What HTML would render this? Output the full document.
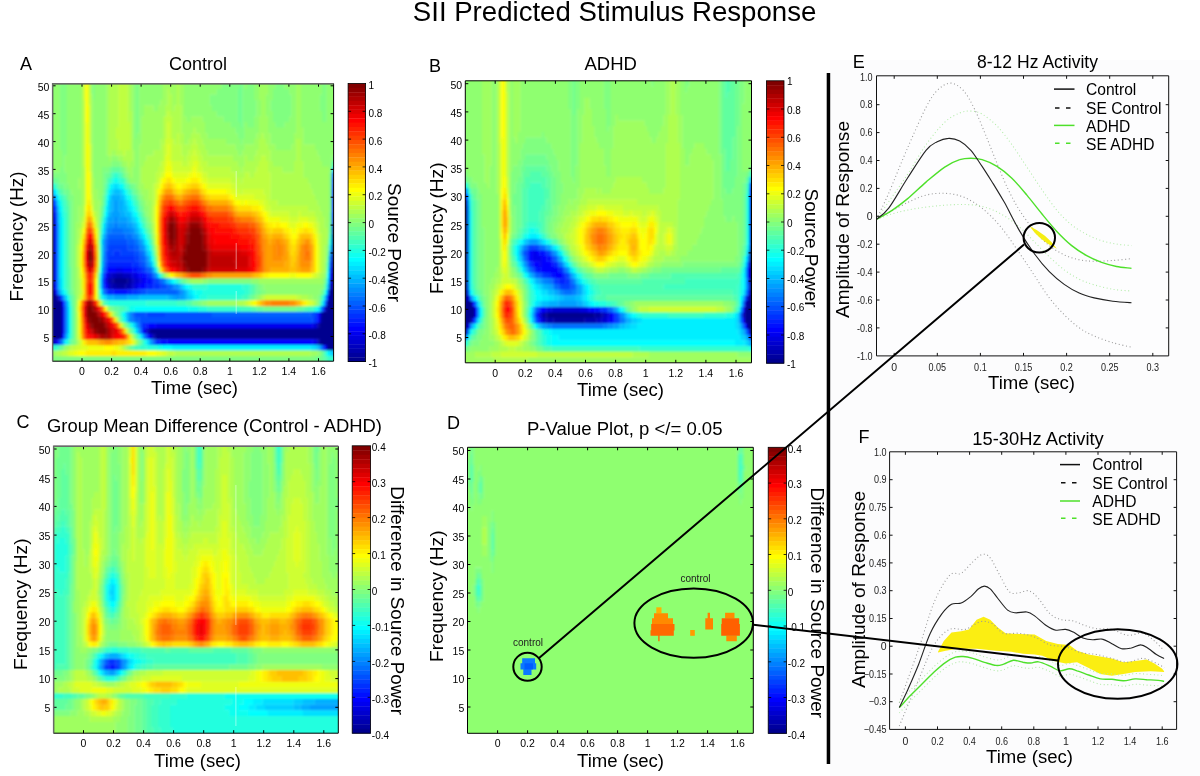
<!DOCTYPE html><html><head><meta charset="utf-8"><title>SII Predicted Stimulus Response</title>
<style>html,body{margin:0;padding:0;background:#fff}svg{display:block}text{font-family:'Liberation Sans', sans-serif}</style></head><body>
<svg width="1200" height="776" viewBox="0 0 1200 776">
<defs><filter id="bl" x="-5%" y="-5%" width="110%" height="110%"><feGaussianBlur stdDeviation="1.3 1.0"/></filter></defs>
<rect width="1200" height="776" fill="#fff"/>
<rect x="830" y="60" width="370" height="716" fill="#fcfcfd"/>
<text x="412.8" y="20.8" font-size="27.5" textLength="403.5" lengthAdjust="spacingAndGlyphs">SII Predicted Stimulus Response</text>
<clipPath id="cpA"><rect x="52.6" y="83.7" width="281" height="277.5"/></clipPath>
<g clip-path="url(#cpA)"><g filter="url(#bl)">
<path fill="#00008f" d="M331.3 233.5H339.9V239.3H331.3ZM331.3 239H339.9V244.9H331.3ZM331.3 244.6H339.9V250.5H331.3ZM331.3 250.2H339.9V256H331.3ZM331.3 255.7H339.9V261.6H331.3ZM331.3 261.3H339.9V267.2H331.3ZM331.3 266.9H339.9V272.7H331.3ZM331.3 272.4H339.9V278.3H331.3ZM113.5 278H127.8V283.9H113.5ZM331.3 278H339.9V283.9H331.3ZM331.3 283.6H339.9V289.5H331.3ZM46.6 289.2H55.2V295H46.6ZM328.9 289.2H339.9V295H328.9ZM46.6 294.7H57.6V300.6H46.6ZM328.9 294.7H339.9V300.6H328.9ZM46.6 300.3H62.3V306.2H46.6ZM328.9 300.3H339.9V306.2H328.9ZM46.6 305.9H62.3V311.7H46.6ZM326.6 305.9H339.9V311.7H326.6ZM46.6 311.4H62.3V317.3H46.6ZM321.9 311.4H339.9V317.3H321.9ZM46.6 317H62.3V322.9H46.6ZM321.9 317H339.9V322.9H321.9ZM46.6 322.6H62.3V328.4H46.6ZM319.6 322.6H339.9V328.4H319.6ZM46.6 328.1H62.3V334H46.6ZM151 328.1H339.9V334H151ZM46.6 333.7H62.3V339.6H46.6ZM155.6 333.7H339.9V339.6H155.6ZM319.6 339.3H339.9V345.2H319.6ZM326.6 344.9H339.9V350.7H326.6Z"/>
<path fill="#00009f" d="M111.1 278H113.8V283.9H111.1ZM127.5 278H130.2V283.9H127.5ZM115.8 283.6H125.5V289.5H115.8ZM326.6 300.3H329.2V306.2H326.6ZM317.2 322.6H319.9V328.4H317.2ZM148.6 328.1H151.3V334H148.6ZM153.3 333.7H155.9V339.6H153.3Z"/>
<path fill="#0000af" d="M46.6 227.9H55.2V233.8H46.6ZM331.3 227.9H339.9V233.8H331.3ZM46.6 233.5H55.2V239.3H46.6ZM46.6 239H55.2V244.9H46.6ZM46.6 244.6H55.2V250.5H46.6ZM46.6 250.2H55.2V256H46.6ZM46.6 255.7H55.2V261.6H46.6ZM46.6 261.3H55.2V267.2H46.6ZM46.6 266.9H55.2V272.7H46.6ZM46.6 272.4H55.2V278.3H46.6ZM115.8 272.4H123.1V278.3H115.8ZM46.6 278H55.2V283.9H46.6ZM108.8 278H111.4V283.9H108.8ZM129.9 278H132.5V283.9H129.9ZM46.6 283.6H55.2V289.5H46.6ZM111.1 283.6H116.1V289.5H111.1ZM125.2 283.6H130.2V289.5H125.2ZM324.2 305.9H326.9V311.7H324.2ZM319.6 317H322.2V322.9H319.6ZM317.2 339.3H319.9V345.2H317.2Z"/>
<path fill="#0000bf" d="M46.6 216.7H55.2V222.6H46.6ZM46.6 222.3H55.2V228.2H46.6ZM111.1 272.4H116.1V278.3H111.1ZM122.8 272.4H130.2V278.3H122.8ZM106.5 278H109.1V283.9H106.5ZM132.2 278H134.9V283.9H132.2ZM108.8 283.6H111.4V289.5H108.8ZM129.9 283.6H132.5V289.5H129.9ZM328.9 283.6H331.6V289.5H328.9ZM57.3 294.7H59.9V300.6H57.3ZM319.6 311.4H322.2V317.3H319.6ZM146.3 328.1H148.9V334H146.3ZM151 333.7H153.6V339.6H151ZM46.6 339.3H55.2V345.2H46.6Z"/>
<path fill="#0000cf" d="M46.6 211.2H55.2V217H46.6ZM331.3 222.3H339.9V228.2H331.3ZM108.8 272.4H111.4V278.3H108.8ZM129.9 272.4H132.5V278.3H129.9ZM134.6 278H139.5V283.9H134.6ZM132.2 283.6H134.9V289.5H132.2ZM314.9 322.6H317.5V328.4H314.9Z"/>
<path fill="#0000df" d="M106.5 272.4H109.1V278.3H106.5ZM132.2 272.4H137.2V278.3H132.2ZM139.2 278H141.9V283.9H139.2ZM106.5 283.6H109.1V289.5H106.5ZM134.6 283.6H137.2V289.5H134.6ZM62 305.9H64.6V311.7H62ZM62 311.4H64.6V317.3H62ZM62 317H64.6V322.9H62ZM62 322.6H64.6V328.4H62ZM312.5 322.6H315.2V328.4H312.5ZM62 328.1H64.6V334H62ZM143.9 328.1H146.6V334H143.9ZM54.9 339.3H57.6V345.2H54.9ZM314.9 339.3H317.5V345.2H314.9Z"/>
<path fill="#0000ef" d="M46.6 205.6H55.2V211.5H46.6ZM331.3 216.7H339.9V222.6H331.3ZM115.8 266.9H123.1V272.7H115.8ZM136.9 272.4H139.5V278.3H136.9ZM104.1 278H106.8V283.9H104.1ZM141.6 278H144.2V283.9H141.6ZM328.9 278H331.6V283.9H328.9ZM136.9 283.6H139.5V289.5H136.9ZM54.9 289.2H57.6V295H54.9ZM326.6 294.7H329.2V300.6H326.6ZM155.6 322.6H312.8V328.4H155.6ZM148.6 333.7H151.3V339.6H148.6ZM312.5 339.3H315.2V345.2H312.5ZM324.2 344.9H326.9V350.7H324.2Z"/>
<path fill="#0000ff" d="M331.3 211.2H339.9V217H331.3ZM108.8 266.9H116.1V272.7H108.8ZM122.8 266.9H132.5V272.7H122.8ZM139.2 272.4H141.9V278.3H139.2ZM143.9 278H146.6V283.9H143.9ZM104.1 283.6H106.8V289.5H104.1ZM139.2 283.6H144.2V289.5H139.2ZM62 300.3H64.6V306.2H62ZM317.2 311.4H319.9V317.3H317.2ZM317.2 317H319.9V322.9H317.2ZM148.6 322.6H155.9V328.4H148.6ZM167.3 339.3H312.8V345.2H167.3Z"/>
<path fill="#0010ff" d="M331.3 200H339.9V205.9H331.3ZM331.3 205.6H339.9V211.5H331.3ZM106.5 266.9H109.1V272.7H106.5ZM132.2 266.9H137.2V272.7H132.2ZM104.1 272.4H106.8V278.3H104.1ZM141.6 272.4H146.6V278.3H141.6ZM328.9 272.4H331.6V278.3H328.9ZM146.3 278H151.3V283.9H146.3ZM143.9 283.6H146.6V289.5H143.9ZM113.5 289.2H127.8V295H113.5ZM146.3 322.6H148.9V328.4H146.3ZM62 333.7H64.6V339.6H62ZM57.3 339.3H59.9V345.2H57.3ZM160.3 339.3H167.6V345.2H160.3Z"/>
<path fill="#0020ff" d="M331.3 188.9H339.9V194.8H331.3ZM331.3 194.5H339.9V200.3H331.3ZM46.6 200H55.2V205.9H46.6ZM108.8 261.3H132.5V267.2H108.8ZM136.9 266.9H141.9V272.7H136.9ZM146.3 272.4H148.9V278.3H146.3ZM151 278H153.6V283.9H151ZM54.9 283.6H57.6V289.5H54.9ZM146.3 283.6H153.6V289.5H146.3ZM108.8 289.2H113.8V295H108.8ZM127.5 289.2H132.5V295H127.5ZM59.6 294.7H62.3V300.6H59.6ZM143.9 322.6H146.6V328.4H143.9ZM141.6 328.1H144.2V334H141.6ZM146.3 333.7H148.9V339.6H146.3ZM158 339.3H160.6V345.2H158Z"/>
<path fill="#0030ff" d="M331.3 183.3H339.9V189.2H331.3ZM54.9 216.7H57.6V222.6H54.9ZM54.9 222.3H57.6V228.2H54.9ZM54.9 227.9H57.6V233.8H54.9ZM54.9 233.5H57.6V239.3H54.9ZM54.9 239H57.6V244.9H54.9ZM54.9 244.6H57.6V250.5H54.9ZM54.9 250.2H57.6V256H54.9ZM113.5 250.2H120.8V256H113.5ZM54.9 255.7H57.6V261.6H54.9ZM108.8 255.7H134.9V261.6H108.8ZM54.9 261.3H57.6V267.2H54.9ZM106.5 261.3H109.1V267.2H106.5ZM132.2 261.3H139.5V267.2H132.2ZM54.9 266.9H57.6V272.7H54.9ZM141.6 266.9H144.2V272.7H141.6ZM328.9 266.9H331.6V272.7H328.9ZM54.9 272.4H57.6V278.3H54.9ZM148.6 272.4H151.3V278.3H148.6ZM54.9 278H57.6V283.9H54.9ZM153.3 278H155.9V283.9H153.3ZM153.3 283.6H160.6V289.5H153.3ZM106.5 289.2H109.1V295H106.5ZM132.2 289.2H137.2V295H132.2ZM321.9 305.9H324.5V311.7H321.9ZM314.9 311.4H317.5V317.3H314.9ZM314.9 317H317.5V322.9H314.9ZM141.6 322.6H144.2V328.4H141.6ZM155.6 339.3H158.3V345.2H155.6Z"/>
<path fill="#0040ff" d="M331.3 177.8H339.9V183.6H331.3ZM54.9 211.2H57.6V217H54.9ZM108.8 244.6H127.8V250.5H108.8ZM106.5 250.2H113.8V256H106.5ZM120.5 250.2H134.9V256H120.5ZM106.5 255.7H109.1V261.6H106.5ZM134.6 255.7H139.5V261.6H134.6ZM139.2 261.3H141.9V267.2H139.2ZM104.1 266.9H106.8V272.7H104.1ZM143.9 266.9H146.6V272.7H143.9ZM101.8 278H104.4V283.9H101.8ZM155.6 278H158.3V283.9H155.6ZM160.3 283.6H163V289.5H160.3ZM136.9 289.2H141.9V295H136.9ZM146.3 311.4H165.3V317.3H146.3ZM312.5 317H315.2V322.9H312.5ZM321.9 344.9H324.5V350.7H321.9Z"/>
<path fill="#0050ff" d="M54.9 205.6H57.6V211.5H54.9ZM108.8 239H127.8V244.9H108.8ZM106.5 244.6H109.1V250.5H106.5ZM127.5 244.6H134.9V250.5H127.5ZM134.6 250.2H139.5V256H134.6ZM139.2 255.7H141.9V261.6H139.2ZM104.1 261.3H106.8V267.2H104.1ZM141.6 261.3H144.2V267.2H141.6ZM328.9 261.3H331.6V267.2H328.9ZM146.3 266.9H148.9V272.7H146.3ZM151 272.4H153.6V278.3H151ZM158 278H160.6V283.9H158ZM101.8 283.6H104.4V289.5H101.8ZM162.7 283.6H167.6V289.5H162.7ZM104.1 289.2H106.8V295H104.1ZM141.6 289.2H146.6V295H141.6ZM324.2 300.3H326.9V306.2H324.2ZM134.6 311.4H146.6V317.3H134.6ZM165 311.4H212.1V317.3H165ZM310.2 311.4H315.2V317.3H310.2ZM139.2 317H312.8V322.9H139.2ZM139.2 322.6H141.9V328.4H139.2ZM153.3 339.3H155.9V345.2H153.3Z"/>
<path fill="#0060ff" d="M108.8 233.5H125.5V239.3H108.8ZM106.5 239H109.1V244.9H106.5ZM127.5 239H134.9V244.9H127.5ZM134.6 244.6H139.5V250.5H134.6ZM104.1 250.2H106.8V256H104.1ZM139.2 250.2H141.9V256H139.2ZM104.1 255.7H106.8V261.6H104.1ZM141.6 255.7H144.2V261.6H141.6ZM143.9 261.3H146.6V267.2H143.9ZM148.6 266.9H151.3V272.7H148.6ZM101.8 272.4H104.4V278.3H101.8ZM160.3 278H163V283.9H160.3ZM167.3 283.6H170V289.5H167.3ZM146.3 289.2H177V295H146.3ZM326.6 289.2H329.2V295H326.6ZM64.3 305.9H67V311.7H64.3ZM64.3 311.4H67V317.3H64.3ZM132.2 311.4H134.9V317.3H132.2ZM211.8 311.4H310.5V317.3H211.8ZM64.3 317H67V322.9H64.3ZM134.6 317H139.5V322.9H134.6ZM64.3 322.6H67V328.4H64.3ZM64.3 328.1H67V334H64.3ZM143.9 333.7H146.6V339.6H143.9ZM59.6 339.3H62.3V345.2H59.6Z"/>
<path fill="#0070ff" d="M331.3 172.2H339.9V178.1H331.3ZM46.6 194.5H55.2V200.3H46.6ZM111.1 227.9H123.1V233.8H111.1ZM106.5 233.5H109.1V239.3H106.5ZM125.2 233.5H132.5V239.3H125.2ZM104.1 239H106.8V244.9H104.1ZM134.6 239H137.2V244.9H134.6ZM104.1 244.6H106.8V250.5H104.1ZM141.6 250.2H144.2V256H141.6ZM143.9 255.7H146.6V261.6H143.9ZM328.9 255.7H331.6V261.6H328.9ZM153.3 272.4H155.9V278.3H153.3ZM169.7 283.6H172.3V289.5H169.7ZM57.3 289.2H59.9V295H57.3ZM176.7 289.2H179.4V295H176.7ZM64.3 300.3H67V306.2H64.3ZM132.2 317H134.9V322.9H132.2ZM139.2 328.1H141.9V334H139.2Z"/>
<path fill="#0080ff" d="M54.9 200H57.6V205.9H54.9ZM113.5 222.3H118.5V228.2H113.5ZM106.5 227.9H111.4V233.8H106.5ZM122.8 227.9H130.2V233.8H122.8ZM132.2 233.5H134.9V239.3H132.2ZM136.9 239H139.5V244.9H136.9ZM139.2 244.6H141.9V250.5H139.2ZM146.3 261.3H148.9V267.2H146.3ZM101.8 266.9H104.4V272.7H101.8ZM151 266.9H153.6V272.7H151ZM162.7 278H165.3V283.9H162.7ZM172 283.6H174.7V289.5H172ZM179.1 289.2H181.7V295H179.1ZM62 294.7H64.6V300.6H62ZM129.9 311.4H132.5V317.3H129.9ZM129.9 317H132.5V322.9H129.9ZM136.9 322.6H139.5V328.4H136.9ZM64.3 333.7H67V339.6H64.3ZM151 339.3H153.6V345.2H151Z"/>
<path fill="#008fff" d="M113.5 216.7H118.5V222.6H113.5ZM108.8 222.3H113.8V228.2H108.8ZM118.2 222.3H127.8V228.2H118.2ZM129.9 227.9H134.9V233.8H129.9ZM104.1 233.5H106.8V239.3H104.1ZM134.6 233.5H137.2V239.3H134.6ZM139.2 239H141.9V244.9H139.2ZM141.6 244.6H144.2V250.5H141.6ZM143.9 250.2H146.6V256H143.9ZM146.3 255.7H148.9V261.6H146.3ZM174.4 283.6H177V289.5H174.4ZM101.8 289.2H104.4V295H101.8ZM181.4 289.2H184V295H181.4ZM176.7 294.7H179.4V300.6H176.7ZM319.6 344.9H322.2V350.7H319.6Z"/>
<path fill="#009fff" d="M113.5 200H118.5V205.9H113.5ZM113.5 205.6H118.5V211.5H113.5ZM111.1 211.2H120.8V217H111.1ZM108.8 216.7H113.8V222.6H108.8ZM118.2 216.7H127.8V222.6H118.2ZM57.3 222.3H59.9V228.2H57.3ZM106.5 222.3H109.1V228.2H106.5ZM127.5 222.3H132.5V228.2H127.5ZM57.3 227.9H59.9V233.8H57.3ZM57.3 233.5H59.9V239.3H57.3ZM136.9 233.5H139.5V239.3H136.9ZM57.3 239H59.9V244.9H57.3ZM57.3 244.6H59.9V250.5H57.3ZM57.3 250.2H59.9V256H57.3ZM328.9 250.2H331.6V256H328.9ZM57.3 255.7H59.9V261.6H57.3ZM101.8 255.7H104.4V261.6H101.8ZM57.3 261.3H59.9V267.2H57.3ZM101.8 261.3H104.4V267.2H101.8ZM148.6 261.3H151.3V267.2H148.6ZM57.3 266.9H59.9V272.7H57.3ZM57.3 272.4H59.9V278.3H57.3ZM155.6 272.4H158.3V278.3H155.6ZM57.3 278H59.9V283.9H57.3ZM165 278H167.6V283.9H165ZM57.3 283.6H59.9V289.5H57.3ZM176.7 283.6H179.4V289.5H176.7ZM113.5 294.7H127.8V300.6H113.5ZM172 294.7H177V300.6H172ZM179.1 294.7H184V300.6H179.1ZM324.2 294.7H326.9V300.6H324.2ZM319.6 305.9H322.2V311.7H319.6ZM127.5 311.4H130.2V317.3H127.5ZM127.5 317H130.2V322.9H127.5ZM62 339.3H64.6V345.2H62Z"/>
<path fill="#00afff" d="M111.1 194.5H120.8V200.3H111.1ZM111.1 200H113.8V205.9H111.1ZM118.2 200H123.1V205.9H118.2ZM111.1 205.6H113.8V211.5H111.1ZM118.2 205.6H123.1V211.5H118.2ZM57.3 211.2H59.9V217H57.3ZM108.8 211.2H111.4V217H108.8ZM120.5 211.2H125.5V217H120.5ZM57.3 216.7H59.9V222.6H57.3ZM106.5 216.7H109.1V222.6H106.5ZM127.5 216.7H130.2V222.6H127.5ZM132.2 222.3H134.9V228.2H132.2ZM104.1 227.9H106.8V233.8H104.1ZM134.6 227.9H137.2V233.8H134.6ZM101.8 239H104.4V244.9H101.8ZM141.6 239H144.2V244.9H141.6ZM101.8 244.6H104.4V250.5H101.8ZM143.9 244.6H146.6V250.5H143.9ZM101.8 250.2H104.4V256H101.8ZM179.1 283.6H181.7V289.5H179.1ZM183.7 289.2H186.4V295H183.7ZM106.5 294.7H113.8V300.6H106.5ZM127.5 294.7H139.5V300.6H127.5ZM167.3 294.7H172.3V300.6H167.3ZM183.7 294.7H186.4V300.6H183.7ZM134.6 322.6H137.2V328.4H134.6ZM136.9 328.1H139.5V334H136.9ZM141.6 333.7H144.2V339.6H141.6ZM148.6 339.3H151.3V345.2H148.6ZM317.2 344.9H319.9V350.7H317.2Z"/>
<path fill="#00bfff" d="M113.5 188.9H120.8V194.8H113.5ZM54.9 194.5H57.6V200.3H54.9ZM120.5 194.5H123.1V200.3H120.5ZM108.8 200H111.4V205.9H108.8ZM122.8 200H125.5V205.9H122.8ZM57.3 205.6H59.9V211.5H57.3ZM108.8 205.6H111.4V211.5H108.8ZM122.8 205.6H127.8V211.5H122.8ZM125.2 211.2H130.2V217H125.2ZM129.9 216.7H132.5V222.6H129.9ZM104.1 222.3H106.8V228.2H104.1ZM134.6 222.3H137.2V228.2H134.6ZM136.9 227.9H139.5V233.8H136.9ZM139.2 233.5H141.9V239.3H139.2ZM146.3 250.2H148.9V256H146.3ZM148.6 255.7H151.3V261.6H148.6ZM153.3 266.9H155.9V272.7H153.3ZM167.3 278H170V283.9H167.3ZM326.6 283.6H329.2V289.5H326.6ZM59.6 289.2H62.3V295H59.6ZM186.1 289.2H188.7V295H186.1ZM64.3 294.7H67V300.6H64.3ZM139.2 294.7H167.6V300.6H139.2ZM186.1 294.7H188.7V300.6H186.1ZM66.7 305.9H69.3V311.7H66.7ZM66.7 311.4H69.3V317.3H66.7ZM125.2 311.4H127.8V317.3H125.2ZM66.7 317H69.3V322.9H66.7ZM66.7 322.6H69.3V328.4H66.7ZM66.7 328.1H69.3V334H66.7ZM331.3 350.4H339.9V356.3H331.3Z"/>
<path fill="#00cfff" d="M46.6 188.9H55.2V194.8H46.6ZM111.1 188.9H113.8V194.8H111.1ZM120.5 188.9H123.1V194.8H120.5ZM108.8 194.5H111.4V200.3H108.8ZM122.8 194.5H125.5V200.3H122.8ZM125.2 200H127.8V205.9H125.2ZM106.5 211.2H109.1V217H106.5ZM129.9 211.2H132.5V217H129.9ZM132.2 216.7H134.9V222.6H132.2ZM101.8 233.5H104.4V239.3H101.8ZM151 261.3H153.6V267.2H151ZM99.4 278H102.1V283.9H99.4ZM99.4 283.6H102.1V289.5H99.4ZM181.4 283.6H184V289.5H181.4ZM104.1 294.7H106.8V300.6H104.1ZM188.4 294.7H191.1V300.6H188.4ZM66.7 300.3H69.3V306.2H66.7ZM125.2 317H127.8V322.9H125.2ZM314.9 344.9H317.5V350.7H314.9Z"/>
<path fill="#00dfff" d="M331.3 166.6H339.9V172.5H331.3ZM113.5 183.3H118.5V189.2H113.5ZM57.3 200H59.9V205.9H57.3ZM106.5 205.6H109.1V211.5H106.5ZM127.5 205.6H130.2V211.5H127.5ZM104.1 216.7H106.8V222.6H104.1ZM134.6 216.7H137.2V222.6H134.6ZM136.9 222.3H139.5V228.2H136.9ZM139.2 227.9H141.9V233.8H139.2ZM141.6 233.5H144.2V239.3H141.6ZM143.9 239H146.6V244.9H143.9ZM146.3 244.6H148.9V250.5H146.3ZM328.9 244.6H331.6V250.5H328.9ZM148.6 250.2H151.3V256H148.6ZM99.4 272.4H102.1V278.3H99.4ZM59.6 278H62.3V283.9H59.6ZM169.7 278H172.3V283.9H169.7ZM326.6 278H329.2V283.9H326.6ZM59.6 283.6H62.3V289.5H59.6ZM188.4 289.2H191.1V295H188.4ZM190.8 294.7H193.4V300.6H190.8ZM321.9 300.3H324.5V306.2H321.9ZM132.2 322.6H134.9V328.4H132.2ZM66.7 333.7H69.3V339.6H66.7ZM146.3 339.3H148.9V345.2H146.3ZM310.2 344.9H315.2V350.7H310.2ZM328.9 350.4H331.6V356.3H328.9Z"/>
<path fill="#00efff" d="M111.1 183.3H113.8V189.2H111.1ZM118.2 183.3H120.8V189.2H118.2ZM108.8 188.9H111.4V194.8H108.8ZM122.8 188.9H125.5V194.8H122.8ZM125.2 194.5H127.8V200.3H125.2ZM106.5 200H109.1V205.9H106.5ZM127.5 200H130.2V205.9H127.5ZM129.9 205.6H132.5V211.5H129.9ZM59.6 211.2H62.3V217H59.6ZM132.2 211.2H134.9V217H132.2ZM59.6 216.7H62.3V222.6H59.6ZM59.6 222.3H62.3V228.2H59.6ZM59.6 227.9H62.3V233.8H59.6ZM101.8 227.9H104.4V233.8H101.8ZM59.6 233.5H62.3V239.3H59.6ZM59.6 239H62.3V244.9H59.6ZM59.6 244.6H62.3V250.5H59.6ZM59.6 250.2H62.3V256H59.6ZM59.6 255.7H62.3V261.6H59.6ZM59.6 261.3H62.3V267.2H59.6ZM59.6 266.9H62.3V272.7H59.6ZM59.6 272.4H62.3V278.3H59.6ZM158 272.4H160.6V278.3H158ZM183.7 283.6H186.4V289.5H183.7ZM62 289.2H64.6V295H62ZM190.8 289.2H193.4V295H190.8ZM101.8 294.7H104.4V300.6H101.8ZM193.1 294.7H195.7V300.6H193.1ZM317.2 305.9H319.9V311.7H317.2ZM134.6 328.1H137.2V334H134.6ZM139.2 333.7H141.9V339.6H139.2ZM64.3 339.3H67V345.2H64.3ZM172 344.9H310.5V350.7H172Z"/>
<path fill="#00ffff" d="M120.5 183.3H123.1V189.2H120.5ZM54.9 188.9H57.6V194.8H54.9ZM57.3 194.5H59.9V200.3H57.3ZM106.5 194.5H109.1V200.3H106.5ZM129.9 200H132.5V205.9H129.9ZM59.6 205.6H62.3V211.5H59.6ZM132.2 205.6H134.9V211.5H132.2ZM104.1 211.2H106.8V217H104.1ZM134.6 211.2H137.2V217H134.6ZM136.9 216.7H139.5V222.6H136.9ZM139.2 222.3H141.9V228.2H139.2ZM141.6 227.9H144.2V233.8H141.6ZM143.9 233.5H146.6V239.3H143.9ZM146.3 239H148.9V244.9H146.3ZM151 255.7H153.6V261.6H151ZM326.6 272.4H329.2V278.3H326.6ZM172 278H174.7V283.9H172ZM186.1 283.6H188.7V289.5H186.1ZM99.4 289.2H102.1V295H99.4ZM193.1 289.2H195.7V295H193.1ZM195.4 294.7H198.1V300.6H195.4ZM134.6 305.9H188.7V311.7H134.6ZM122.8 311.4H125.5V317.3H122.8ZM162.7 344.9H172.3V350.7H162.7ZM326.6 350.4H329.2V356.3H326.6Z"/>
<path fill="#10ffef" d="M113.5 177.8H118.5V183.6H113.5ZM108.8 183.3H111.4V189.2H108.8ZM125.2 188.9H127.8V194.8H125.2ZM127.5 194.5H130.2V200.3H127.5ZM59.6 200H62.3V205.9H59.6ZM104.1 205.6H106.8V211.5H104.1ZM62 216.7H64.6V222.6H62ZM62 222.3H64.6V228.2H62ZM101.8 222.3H104.4V228.2H101.8ZM62 227.9H64.6V233.8H62ZM62 233.5H64.6V239.3H62ZM62 239H64.6V244.9H62ZM328.9 239H331.6V244.9H328.9ZM62 244.6H64.6V250.5H62ZM148.6 244.6H151.3V250.5H148.6ZM62 250.2H64.6V256H62ZM62 255.7H64.6V261.6H62ZM62 261.3H64.6V267.2H62ZM62 266.9H64.6V272.7H62ZM99.4 266.9H102.1V272.7H99.4ZM62 272.4H64.6V278.3H62ZM62 278H64.6V283.9H62ZM174.4 278H177V283.9H174.4ZM62 283.6H64.6V289.5H62ZM188.4 283.6H191.1V289.5H188.4ZM64.3 289.2H67V295H64.3ZM195.4 289.2H202.8V295H195.4ZM324.2 289.2H326.9V295H324.2ZM66.7 294.7H69.3V300.6H66.7ZM197.8 294.7H200.4V300.6H197.8ZM69 305.9H71.6V311.7H69ZM129.9 305.9H134.9V311.7H129.9ZM188.4 305.9H198.1V311.7H188.4ZM314.9 305.9H317.5V311.7H314.9ZM69 311.4H71.6V317.3H69ZM69 317H71.6V322.9H69ZM122.8 317H125.5V322.9H122.8ZM69 322.6H71.6V328.4H69ZM129.9 322.6H132.5V328.4H129.9ZM69 328.1H71.6V334H69ZM143.9 339.3H146.6V345.2H143.9ZM158 344.9H163V350.7H158Z"/>
<path fill="#20ffdf" d="M111.1 177.8H113.8V183.6H111.1ZM118.2 177.8H120.8V183.6H118.2ZM46.6 183.3H55.2V189.2H46.6ZM122.8 183.3H125.5V189.2H122.8ZM106.5 188.9H109.1V194.8H106.5ZM129.9 194.5H132.5V200.3H129.9ZM132.2 200H134.9V205.9H132.2ZM62 205.6H64.6V211.5H62ZM134.6 205.6H137.2V211.5H134.6ZM62 211.2H64.6V217H62ZM136.9 211.2H139.5V217H136.9ZM139.2 216.7H141.9V222.6H139.2ZM99.4 239H102.1V244.9H99.4ZM151 250.2H153.6V256H151ZM99.4 261.3H102.1V267.2H99.4ZM153.3 261.3H155.9V267.2H153.3ZM155.6 266.9H158.3V272.7H155.6ZM326.6 266.9H329.2V272.7H326.6ZM190.8 283.6H193.4V289.5H190.8ZM207.2 283.6H242.6V289.5H207.2ZM202.5 289.2H244.9V295H202.5ZM200.1 294.7H207.5V300.6H200.1ZM321.9 294.7H324.5V300.6H321.9ZM69 300.3H71.6V306.2H69ZM108.8 300.3H146.6V306.2H108.8ZM127.5 305.9H130.2V311.7H127.5ZM197.8 305.9H207.5V311.7H197.8ZM120.5 311.4H123.1V317.3H120.5ZM69 333.7H71.6V339.6H69ZM66.7 339.3H69.3V345.2H66.7ZM146.3 344.9H158.3V350.7H146.3Z"/>
<path fill="#30ffcf" d="M113.5 172.2H118.5V178.1H113.5ZM120.5 177.8H123.1V183.6H120.5ZM57.3 188.9H59.9V194.8H57.3ZM127.5 188.9H130.2V194.8H127.5ZM59.6 194.5H62.3V200.3H59.6ZM62 200H64.6V205.9H62ZM104.1 200H106.8V205.9H104.1ZM64.3 211.2H67V217H64.3ZM64.3 216.7H67V222.6H64.3ZM101.8 216.7H104.4V222.6H101.8ZM64.3 222.3H67V228.2H64.3ZM141.6 222.3H144.2V228.2H141.6ZM64.3 227.9H67V233.8H64.3ZM143.9 227.9H146.6V233.8H143.9ZM64.3 233.5H67V239.3H64.3ZM146.3 233.5H148.9V239.3H146.3ZM328.9 233.5H331.6V239.3H328.9ZM64.3 239H67V244.9H64.3ZM148.6 239H151.3V244.9H148.6ZM64.3 244.6H67V250.5H64.3ZM99.4 244.6H102.1V250.5H99.4ZM64.3 250.2H67V256H64.3ZM99.4 250.2H102.1V256H99.4ZM64.3 255.7H67V261.6H64.3ZM99.4 255.7H102.1V261.6H99.4ZM64.3 261.3H67V267.2H64.3ZM64.3 266.9H67V272.7H64.3ZM64.3 272.4H67V278.3H64.3ZM64.3 278H67V283.9H64.3ZM176.7 278H179.4V283.9H176.7ZM64.3 283.6H67V289.5H64.3ZM193.1 283.6H207.5V289.5H193.1ZM242.3 283.6H249.6V289.5H242.3ZM244.6 289.2H249.6V295H244.6ZM99.4 294.7H102.1V300.6H99.4ZM207.2 294.7H242.6V300.6H207.2ZM106.5 300.3H109.1V306.2H106.5ZM146.3 300.3H177V306.2H146.3ZM125.2 305.9H127.8V311.7H125.2ZM207.2 305.9H240.2V311.7H207.2ZM312.5 305.9H315.2V311.7H312.5ZM132.2 328.1H134.9V334H132.2ZM136.9 333.7H139.5V339.6H136.9ZM46.6 344.9H57.6V350.7H46.6ZM139.2 344.9H146.6V350.7H139.2ZM324.2 350.4H326.9V356.3H324.2ZM328.9 356H339.9V367.9H328.9Z"/>
<path fill="#40ffbf" d="M111.1 172.2H113.8V178.1H111.1ZM118.2 172.2H120.8V178.1H118.2ZM108.8 177.8H111.4V183.6H108.8ZM122.8 177.8H125.5V183.6H122.8ZM54.9 183.3H57.6V189.2H54.9ZM106.5 183.3H109.1V189.2H106.5ZM125.2 183.3H127.8V189.2H125.2ZM129.9 188.9H132.5V194.8H129.9ZM62 194.5H64.6V200.3H62ZM104.1 194.5H106.8V200.3H104.1ZM132.2 194.5H134.9V200.3H132.2ZM64.3 200H67V205.9H64.3ZM134.6 200H137.2V205.9H134.6ZM64.3 205.6H67V211.5H64.3ZM136.9 205.6H139.5V211.5H136.9ZM139.2 211.2H141.9V217H139.2ZM99.4 233.5H102.1V239.3H99.4ZM151 244.6H153.6V250.5H151ZM153.3 255.7H155.9V261.6H153.3ZM326.6 261.3H329.2V267.2H326.6ZM160.3 272.4H163V278.3H160.3ZM179.1 278H181.7V283.9H179.1ZM249.3 283.6H251.9V289.5H249.3ZM324.2 283.6H326.9V289.5H324.2ZM66.7 289.2H69.3V295H66.7ZM249.3 289.2H251.9V295H249.3ZM69 294.7H71.6V300.6H69ZM242.3 294.7H247.3V300.6H242.3ZM104.1 300.3H106.8V306.2H104.1ZM176.7 300.3H186.4V306.2H176.7ZM319.6 300.3H322.2V306.2H319.6ZM122.8 305.9H125.5V311.7H122.8ZM239.9 305.9H251.9V311.7H239.9ZM307.8 305.9H312.8V311.7H307.8ZM120.5 317H123.1V322.9H120.5ZM127.5 322.6H130.2V328.4H127.5ZM141.6 339.3H144.2V345.2H141.6ZM57.3 344.9H59.9V350.7H57.3ZM134.6 344.9H139.5V350.7H134.6ZM326.6 356H329.2V367.9H326.6Z"/>
<path fill="#50ffaf" d="M331.3 161H339.9V166.9H331.3ZM120.5 172.2H123.1V178.1H120.5ZM106.5 177.8H109.1V183.6H106.5ZM127.5 183.3H130.2V189.2H127.5ZM59.6 188.9H62.3V194.8H59.6ZM104.1 188.9H106.8V194.8H104.1ZM64.3 194.5H67V200.3H64.3ZM134.6 194.5H137.2V200.3H134.6ZM136.9 200H139.5V205.9H136.9ZM66.7 205.6H69.3V211.5H66.7ZM66.7 211.2H69.3V217H66.7ZM101.8 211.2H104.4V217H101.8ZM66.7 216.7H69.3V222.6H66.7ZM141.6 216.7H144.2V222.6H141.6ZM66.7 222.3H69.3V228.2H66.7ZM143.9 222.3H146.6V228.2H143.9ZM66.7 227.9H69.3V233.8H66.7ZM99.4 227.9H102.1V233.8H99.4ZM146.3 227.9H148.9V233.8H146.3ZM328.9 227.9H331.6V233.8H328.9ZM66.7 233.5H69.3V239.3H66.7ZM148.6 233.5H151.3V239.3H148.6ZM66.7 239H69.3V244.9H66.7ZM66.7 244.6H69.3V250.5H66.7ZM66.7 250.2H69.3V256H66.7ZM66.7 255.7H69.3V261.6H66.7ZM326.6 255.7H329.2V261.6H326.6ZM66.7 261.3H69.3V267.2H66.7ZM66.7 266.9H69.3V272.7H66.7ZM66.7 272.4H69.3V278.3H66.7ZM66.7 278H69.3V283.9H66.7ZM66.7 283.6H69.3V289.5H66.7ZM251.6 283.6H254.3V289.5H251.6ZM251.6 289.2H254.3V295H251.6ZM247 294.7H249.6V300.6H247ZM186.1 300.3H191.1V306.2H186.1ZM71.3 305.9H74V311.7H71.3ZM118.2 305.9H123.1V311.7H118.2ZM251.6 305.9H256.6V311.7H251.6ZM303.2 305.9H308.1V311.7H303.2ZM71.3 311.4H74V317.3H71.3ZM118.2 311.4H120.8V317.3H118.2ZM71.3 317H74V322.9H71.3ZM71.3 322.6H74V328.4H71.3ZM71.3 328.1H74V334H71.3ZM71.3 333.7H74V339.6H71.3ZM69 339.3H71.6V345.2H69ZM132.2 344.9H134.9V350.7H132.2ZM324.2 356H326.9V367.9H324.2Z"/>
<path fill="#60ff9f" d="M111.1 166.6H120.8V172.5H111.1ZM108.8 172.2H111.4V178.1H108.8ZM46.6 177.8H55.2V183.6H46.6ZM125.2 177.8H127.8V183.6H125.2ZM57.3 183.3H59.9V189.2H57.3ZM104.1 183.3H106.8V189.2H104.1ZM62 188.9H64.6V194.8H62ZM132.2 188.9H134.9V194.8H132.2ZM66.7 200H69.3V205.9H66.7ZM101.8 205.6H104.4V211.5H101.8ZM139.2 205.6H141.9V211.5H139.2ZM141.6 211.2H144.2V217H141.6ZM143.9 216.7H146.6V222.6H143.9ZM99.4 222.3H102.1V228.2H99.4ZM328.9 222.3H331.6V228.2H328.9ZM151 239H153.6V244.9H151ZM153.3 250.2H155.9V256H153.3ZM69 266.9H71.6V272.7H69ZM69 272.4H71.6V278.3H69ZM69 278H71.6V283.9H69ZM181.4 278H184V283.9H181.4ZM324.2 278H326.9V283.9H324.2ZM69 283.6H71.6V289.5H69ZM254 283.6H256.6V289.5H254ZM69 289.2H71.6V295H69ZM254 289.2H256.6V295H254ZM321.9 289.2H324.5V295H321.9ZM71.3 294.7H74V300.6H71.3ZM249.3 294.7H251.9V300.6H249.3ZM319.6 294.7H322.2V300.6H319.6ZM71.3 300.3H74V306.2H71.3ZM190.8 300.3H193.4V306.2H190.8ZM113.5 305.9H118.5V311.7H113.5ZM256.3 305.9H263.7V311.7H256.3ZM296.1 305.9H303.5V311.7H296.1ZM125.2 322.6H127.8V328.4H125.2ZM129.9 328.1H132.5V334H129.9ZM134.6 333.7H137.2V339.6H134.6ZM139.2 339.3H141.9V345.2H139.2ZM59.6 344.9H62.3V350.7H59.6ZM129.9 344.9H132.5V350.7H129.9ZM321.9 350.4H324.5V356.3H321.9ZM321.9 356H324.5V367.9H321.9Z"/>
<path fill="#70ff8f" d="M239.9 77.1H242.6V88.9H239.9ZM237.6 88.6H242.6V94.5H237.6ZM237.6 94.2H242.6V100.1H237.6ZM237.6 99.8H242.6V105.6H237.6ZM237.6 105.3H242.6V111.2H237.6ZM237.6 110.9H242.6V116.8H237.6ZM237.6 116.5H242.6V122.4H237.6ZM239.9 122.1H242.6V127.9H239.9ZM108.8 166.6H111.4V172.5H108.8ZM120.5 166.6H123.1V172.5H120.5ZM104.1 172.2H109.1V178.1H104.1ZM122.8 172.2H125.5V178.1H122.8ZM54.9 177.8H59.9V183.6H54.9ZM104.1 177.8H106.8V183.6H104.1ZM59.6 183.3H64.6V189.2H59.6ZM129.9 183.3H134.9V189.2H129.9ZM64.3 188.9H69.3V194.8H64.3ZM134.6 188.9H137.2V194.8H134.6ZM66.7 194.5H69.3V200.3H66.7ZM101.8 194.5H104.4V200.3H101.8ZM136.9 194.5H139.5V200.3H136.9ZM69 200H71.6V205.9H69ZM101.8 200H104.4V205.9H101.8ZM139.2 200H141.9V205.9H139.2ZM69 205.6H71.6V211.5H69ZM141.6 205.6H144.2V211.5H141.6ZM69 211.2H71.6V217H69ZM328.9 211.2H331.6V217H328.9ZM69 216.7H71.6V222.6H69ZM99.4 216.7H102.1V222.6H99.4ZM328.9 216.7H331.6V222.6H328.9ZM69 222.3H71.6V228.2H69ZM146.3 222.3H148.9V228.2H146.3ZM69 227.9H71.6V233.8H69ZM148.6 227.9H151.3V233.8H148.6ZM69 233.5H71.6V239.3H69ZM69 239H71.6V244.9H69ZM69 244.6H71.6V250.5H69ZM69 250.2H71.6V256H69ZM326.6 250.2H329.2V256H326.6ZM69 255.7H71.6V261.6H69ZM69 261.3H71.6V267.2H69ZM97.1 278H99.7V283.9H97.1ZM183.7 278H186.4V283.9H183.7ZM97.1 283.6H99.7V289.5H97.1ZM256.3 283.6H259V289.5H256.3ZM71.3 289.2H74V295H71.3ZM256.3 289.2H261.3V295H256.3ZM251.6 294.7H254.3V300.6H251.6ZM101.8 300.3H104.4V306.2H101.8ZM193.1 300.3H198.1V306.2H193.1ZM111.1 305.9H113.8V311.7H111.1ZM263.4 305.9H296.4V311.7H263.4ZM115.8 311.4H118.5V317.3H115.8ZM118.2 317H120.8V322.9H118.2ZM71.3 339.3H74V345.2H71.3ZM62 344.9H64.6V350.7H62ZM314.9 356H322.2V367.9H314.9Z"/>
<path fill="#80ff80" d="M59.6 77.1H67V88.9H59.6ZM92.4 77.1H95V88.9H92.4ZM134.6 77.1H139.5V88.9H134.6ZM221.2 77.1H240.2V88.9H221.2ZM242.3 77.1H244.9V88.9H242.3ZM247 77.1H254.3V88.9H247ZM275.1 77.1H284.7V88.9H275.1ZM321.9 77.1H326.9V88.9H321.9ZM59.6 88.6H67V94.5H59.6ZM92.4 88.6H95V94.5H92.4ZM134.6 88.6H139.5V94.5H134.6ZM216.5 88.6H237.9V94.5H216.5ZM242.3 88.6H254.3V94.5H242.3ZM272.7 88.6H289.4V94.5H272.7ZM321.9 88.6H326.9V94.5H321.9ZM59.6 94.2H67V100.1H59.6ZM92.4 94.2H95V100.1H92.4ZM134.6 94.2H139.5V100.1H134.6ZM209.5 94.2H237.9V100.1H209.5ZM242.3 94.2H254.3V100.1H242.3ZM272.7 94.2H291.8V100.1H272.7ZM319.6 94.2H326.9V100.1H319.6ZM59.6 99.8H67V105.6H59.6ZM134.6 99.8H139.5V105.6H134.6ZM209.5 99.8H237.9V105.6H209.5ZM242.3 99.8H256.6V105.6H242.3ZM270.4 99.8H291.8V105.6H270.4ZM319.6 99.8H326.9V105.6H319.6ZM59.6 105.3H67V111.2H59.6ZM134.6 105.3H139.5V111.2H134.6ZM211.8 105.3H237.9V111.2H211.8ZM242.3 105.3H256.6V111.2H242.3ZM270.4 105.3H291.8V111.2H270.4ZM319.6 105.3H326.9V111.2H319.6ZM59.6 110.9H67V116.8H59.6ZM134.6 110.9H139.5V116.8H134.6ZM216.5 110.9H237.9V116.8H216.5ZM242.3 110.9H256.6V116.8H242.3ZM272.7 110.9H291.8V116.8H272.7ZM321.9 110.9H326.9V116.8H321.9ZM59.6 116.5H67V122.4H59.6ZM134.6 116.5H139.5V122.4H134.6ZM223.5 116.5H237.9V122.4H223.5ZM242.3 116.5H254.3V122.4H242.3ZM272.7 116.5H289.4V122.4H272.7ZM321.9 116.5H326.9V122.4H321.9ZM59.6 122.1H67V127.9H59.6ZM134.6 122.1H139.5V127.9H134.6ZM230.6 122.1H240.2V127.9H230.6ZM242.3 122.1H244.9V127.9H242.3ZM247 122.1H254.3V127.9H247ZM275.1 122.1H284.7V127.9H275.1ZM59.6 127.6H67V133.5H59.6ZM134.6 127.6H139.5V133.5H134.6ZM235.2 127.6H244.9V133.5H235.2ZM59.6 133.2H67V139.1H59.6ZM134.6 133.2H137.2V139.1H134.6ZM237.6 133.2H244.9V139.1H237.6ZM59.6 138.8H67V144.6H59.6ZM239.9 138.8H242.6V144.6H239.9ZM59.6 144.3H67V150.2H59.6ZM62 149.9H67V155.8H62ZM62 155.5H64.6V161.3H62ZM331.3 155.5H339.9V161.3H331.3ZM62 161H64.6V166.9H62ZM111.1 161H120.8V166.9H111.1ZM59.6 166.6H64.6V172.5H59.6ZM101.8 166.6H109.1V172.5H101.8ZM122.8 166.6H125.5V172.5H122.8ZM46.6 172.2H67V178.1H46.6ZM101.8 172.2H104.4V178.1H101.8ZM125.2 172.2H127.8V178.1H125.2ZM328.9 172.2H331.6V178.1H328.9ZM59.6 177.8H67V183.6H59.6ZM101.8 177.8H104.4V183.6H101.8ZM127.5 177.8H130.2V183.6H127.5ZM328.9 177.8H331.6V183.6H328.9ZM64.3 183.3H69.3V189.2H64.3ZM101.8 183.3H104.4V189.2H101.8ZM134.6 183.3H137.2V189.2H134.6ZM328.9 183.3H331.6V189.2H328.9ZM69 188.9H71.6V194.8H69ZM101.8 188.9H104.4V194.8H101.8ZM136.9 188.9H139.5V194.8H136.9ZM328.9 188.9H331.6V194.8H328.9ZM69 194.5H74V200.3H69ZM139.2 194.5H141.9V200.3H139.2ZM328.9 194.5H331.6V200.3H328.9ZM71.3 200H74V205.9H71.3ZM141.6 200H144.2V205.9H141.6ZM328.9 200H331.6V205.9H328.9ZM71.3 205.6H74V211.5H71.3ZM99.4 205.6H102.1V211.5H99.4ZM328.9 205.6H331.6V211.5H328.9ZM71.3 211.2H74V217H71.3ZM99.4 211.2H102.1V217H99.4ZM143.9 211.2H146.6V217H143.9ZM71.3 216.7H74V222.6H71.3ZM146.3 216.7H148.9V222.6H146.3ZM71.3 222.3H74V228.2H71.3ZM148.6 222.3H151.3V228.2H148.6ZM71.3 227.9H74V233.8H71.3ZM71.3 233.5H74V239.3H71.3ZM151 233.5H153.6V239.3H151ZM71.3 239H74V244.9H71.3ZM71.3 244.6H74V250.5H71.3ZM153.3 244.6H155.9V250.5H153.3ZM326.6 244.6H329.2V250.5H326.6ZM71.3 250.2H74V256H71.3ZM71.3 255.7H74V261.6H71.3ZM71.3 261.3H74V267.2H71.3ZM155.6 261.3H158.3V267.2H155.6ZM71.3 266.9H74V272.7H71.3ZM71.3 272.4H74V278.3H71.3ZM97.1 272.4H99.7V278.3H97.1ZM162.7 272.4H165.3V278.3H162.7ZM324.2 272.4H326.9V278.3H324.2ZM71.3 278H74V283.9H71.3ZM186.1 278H188.7V283.9H186.1ZM207.2 278H251.9V283.9H207.2ZM71.3 283.6H74V289.5H71.3ZM258.7 283.6H263.7V289.5H258.7ZM321.9 283.6H324.5V289.5H321.9ZM97.1 289.2H99.7V295H97.1ZM261 289.2H266V295H261ZM319.6 289.2H322.2V295H319.6ZM73.7 294.7H76.3V300.6H73.7ZM254 294.7H256.6V300.6H254ZM317.2 294.7H319.9V300.6H317.2ZM73.7 300.3H76.3V306.2H73.7ZM197.8 300.3H202.8V306.2H197.8ZM317.2 300.3H319.9V306.2H317.2ZM73.7 305.9H76.3V311.7H73.7ZM108.8 305.9H111.4V311.7H108.8ZM73.7 311.4H76.3V317.3H73.7ZM73.7 317H76.3V322.9H73.7ZM73.7 322.6H76.3V328.4H73.7ZM73.7 328.1H76.3V334H73.7ZM73.7 333.7H76.3V339.6H73.7ZM73.7 339.3H76.3V345.2H73.7ZM136.9 339.3H139.5V345.2H136.9ZM127.5 344.9H130.2V350.7H127.5ZM319.6 350.4H322.2V356.3H319.6ZM46.6 356H315.2V367.9H46.6Z"/>
<path fill="#8fff70" d="M46.6 77.1H59.9V88.9H46.6ZM66.7 77.1H81V88.9H66.7ZM90.1 77.1H92.7V88.9H90.1ZM94.8 77.1H106.8V88.9H94.8ZM132.2 77.1H134.9V88.9H132.2ZM139.2 77.1H163V88.9H139.2ZM183.7 77.1H221.5V88.9H183.7ZM244.6 77.1H247.3V88.9H244.6ZM254 77.1H259V88.9H254ZM268 77.1H275.4V88.9H268ZM284.4 77.1H296.4V88.9H284.4ZM300.8 77.1H322.2V88.9H300.8ZM326.6 77.1H339.9V88.9H326.6ZM46.6 88.6H59.9V94.5H46.6ZM66.7 88.6H81V94.5H66.7ZM90.1 88.6H92.7V94.5H90.1ZM94.8 88.6H106.8V94.5H94.8ZM132.2 88.6H134.9V94.5H132.2ZM139.2 88.6H163V94.5H139.2ZM183.7 88.6H216.8V94.5H183.7ZM254 88.6H259V94.5H254ZM268 88.6H273V94.5H268ZM289.1 88.6H296.4V94.5H289.1ZM300.8 88.6H322.2V94.5H300.8ZM326.6 88.6H339.9V94.5H326.6ZM46.6 94.2H59.9V100.1H46.6ZM66.7 94.2H81V100.1H66.7ZM94.8 94.2H106.8V100.1H94.8ZM132.2 94.2H134.9V100.1H132.2ZM139.2 94.2H163V100.1H139.2ZM183.7 94.2H209.8V100.1H183.7ZM254 94.2H259V100.1H254ZM265.7 94.2H273V100.1H265.7ZM291.5 94.2H296.4V100.1H291.5ZM300.8 94.2H319.9V100.1H300.8ZM326.6 94.2H339.9V100.1H326.6ZM46.6 99.8H59.9V105.6H46.6ZM66.7 99.8H81V105.6H66.7ZM92.4 99.8H106.8V105.6H92.4ZM132.2 99.8H134.9V105.6H132.2ZM139.2 99.8H160.6V105.6H139.2ZM183.7 99.8H209.8V105.6H183.7ZM256.3 99.8H261.3V105.6H256.3ZM265.7 99.8H270.7V105.6H265.7ZM291.5 99.8H296.4V105.6H291.5ZM300.8 99.8H319.9V105.6H300.8ZM326.6 99.8H339.9V105.6H326.6ZM46.6 105.3H59.9V111.2H46.6ZM66.7 105.3H81V111.2H66.7ZM92.4 105.3H106.8V111.2H92.4ZM132.2 105.3H134.9V111.2H132.2ZM139.2 105.3H144.2V111.2H139.2ZM153.3 105.3H158.3V111.2H153.3ZM183.7 105.3H212.1V111.2H183.7ZM256.3 105.3H261.3V111.2H256.3ZM265.7 105.3H270.7V111.2H265.7ZM291.5 105.3H296.4V111.2H291.5ZM300.8 105.3H319.9V111.2H300.8ZM326.6 105.3H339.9V111.2H326.6ZM46.6 110.9H59.9V116.8H46.6ZM66.7 110.9H81V116.8H66.7ZM92.4 110.9H106.8V116.8H92.4ZM132.2 110.9H134.9V116.8H132.2ZM139.2 110.9H144.2V116.8H139.2ZM183.7 110.9H216.8V116.8H183.7ZM256.3 110.9H261.3V116.8H256.3ZM265.7 110.9H273V116.8H265.7ZM291.5 110.9H296.4V116.8H291.5ZM300.8 110.9H322.2V116.8H300.8ZM326.6 110.9H339.9V116.8H326.6ZM46.6 116.5H59.9V122.4H46.6ZM66.7 116.5H81V122.4H66.7ZM92.4 116.5H106.8V122.4H92.4ZM132.2 116.5H134.9V122.4H132.2ZM139.2 116.5H141.9V122.4H139.2ZM186.1 116.5H191.1V122.4H186.1ZM202.5 116.5H223.8V122.4H202.5ZM254 116.5H259V122.4H254ZM268 116.5H273V122.4H268ZM289.1 116.5H296.4V122.4H289.1ZM300.8 116.5H322.2V122.4H300.8ZM326.6 116.5H339.9V122.4H326.6ZM46.6 122.1H59.9V127.9H46.6ZM66.7 122.1H81V127.9H66.7ZM92.4 122.1H106.8V127.9H92.4ZM132.2 122.1H134.9V127.9H132.2ZM139.2 122.1H141.9V127.9H139.2ZM204.8 122.1H230.9V127.9H204.8ZM244.6 122.1H247.3V127.9H244.6ZM254 122.1H259V127.9H254ZM268 122.1H275.4V127.9H268ZM284.4 122.1H296.4V127.9H284.4ZM300.8 122.1H339.9V127.9H300.8ZM46.6 127.6H59.9V133.5H46.6ZM66.7 127.6H81V133.5H66.7ZM92.4 127.6H106.8V133.5H92.4ZM132.2 127.6H134.9V133.5H132.2ZM139.2 127.6H141.9V133.5H139.2ZM204.8 127.6H235.6V133.5H204.8ZM244.6 127.6H259V133.5H244.6ZM268 127.6H296.4V133.5H268ZM303.2 127.6H339.9V133.5H303.2ZM46.6 133.2H59.9V139.1H46.6ZM66.7 133.2H81V139.1H66.7ZM92.4 133.2H106.8V139.1H92.4ZM132.2 133.2H134.9V139.1H132.2ZM136.9 133.2H141.9V139.1H136.9ZM207.2 133.2H237.9V139.1H207.2ZM244.6 133.2H256.6V139.1H244.6ZM270.4 133.2H294.1V139.1H270.4ZM303.2 133.2H339.9V139.1H303.2ZM46.6 138.8H59.9V144.6H46.6ZM66.7 138.8H81V144.6H66.7ZM92.4 138.8H106.8V144.6H92.4ZM132.2 138.8H141.9V144.6H132.2ZM225.9 138.8H240.2V144.6H225.9ZM242.3 138.8H254.3V144.6H242.3ZM270.4 138.8H294.1V144.6H270.4ZM303.2 138.8H339.9V144.6H303.2ZM46.6 144.3H59.9V150.2H46.6ZM66.7 144.3H81V150.2H66.7ZM92.4 144.3H106.8V150.2H92.4ZM132.2 144.3H139.5V150.2H132.2ZM235.2 144.3H244.9V150.2H235.2ZM275.1 144.3H291.8V150.2H275.1ZM314.9 144.3H339.9V150.2H314.9ZM46.6 149.9H62.3V155.8H46.6ZM66.7 149.9H81V155.8H66.7ZM92.4 149.9H106.8V155.8H92.4ZM134.6 149.9H139.5V155.8H134.6ZM237.6 149.9H242.6V155.8H237.6ZM317.2 149.9H339.9V155.8H317.2ZM46.6 155.5H62.3V161.3H46.6ZM64.3 155.5H81V161.3H64.3ZM92.4 155.5H109.1V161.3H92.4ZM111.1 155.5H118.5V161.3H111.1ZM134.6 155.5H139.5V161.3H134.6ZM319.6 155.5H331.6V161.3H319.6ZM46.6 161H62.3V166.9H46.6ZM64.3 161H81V166.9H64.3ZM92.4 161H111.4V166.9H92.4ZM120.5 161H123.1V166.9H120.5ZM134.6 161H139.5V166.9H134.6ZM321.9 161H331.6V166.9H321.9ZM46.6 166.6H59.9V172.5H46.6ZM64.3 166.6H81V172.5H64.3ZM92.4 166.6H102.1V172.5H92.4ZM125.2 166.6H127.8V172.5H125.2ZM132.2 166.6H139.5V172.5H132.2ZM328.9 166.6H331.6V172.5H328.9ZM66.7 172.2H81V178.1H66.7ZM92.4 172.2H102.1V178.1H92.4ZM127.5 172.2H130.2V178.1H127.5ZM132.2 172.2H139.5V178.1H132.2ZM66.7 177.8H78.7V183.6H66.7ZM94.8 177.8H102.1V183.6H94.8ZM129.9 177.8H139.5V183.6H129.9ZM69 183.3H78.7V189.2H69ZM94.8 183.3H102.1V189.2H94.8ZM136.9 183.3H139.5V189.2H136.9ZM71.3 188.9H81V194.8H71.3ZM97.1 188.9H102.1V194.8H97.1ZM139.2 188.9H141.9V194.8H139.2ZM73.7 194.5H81V200.3H73.7ZM97.1 194.5H102.1V200.3H97.1ZM141.6 194.5H144.2V200.3H141.6ZM73.7 200H81V205.9H73.7ZM99.4 200H102.1V205.9H99.4ZM143.9 200H146.6V205.9H143.9ZM73.7 205.6H78.7V211.5H73.7ZM143.9 205.6H148.9V211.5H143.9ZM73.7 211.2H78.7V217H73.7ZM146.3 211.2H148.9V217H146.3ZM73.7 216.7H78.7V222.6H73.7ZM148.6 216.7H151.3V222.6H148.6ZM73.7 222.3H76.3V228.2H73.7ZM73.7 227.9H76.3V233.8H73.7ZM151 227.9H153.6V233.8H151ZM73.7 233.5H76.3V239.3H73.7ZM73.7 239H76.3V244.9H73.7ZM326.6 239H329.2V244.9H326.6ZM73.7 244.6H76.3V250.5H73.7ZM73.7 250.2H76.3V256H73.7ZM73.7 255.7H76.3V261.6H73.7ZM73.7 261.3H76.3V267.2H73.7ZM324.2 261.3H326.9V267.2H324.2ZM73.7 266.9H76.3V272.7H73.7ZM324.2 266.9H326.9V272.7H324.2ZM73.7 272.4H76.3V278.3H73.7ZM73.7 278H76.3V283.9H73.7ZM188.4 278H191.1V283.9H188.4ZM202.5 278H207.5V283.9H202.5ZM251.6 278H259V283.9H251.6ZM321.9 278H324.5V283.9H321.9ZM73.7 283.6H76.3V289.5H73.7ZM263.4 283.6H322.2V289.5H263.4ZM73.7 289.2H76.3V295H73.7ZM265.7 289.2H319.9V295H265.7ZM97.1 294.7H99.7V300.6H97.1ZM256.3 294.7H259V300.6H256.3ZM312.5 294.7H317.5V300.6H312.5ZM202.5 300.3H207.5V306.2H202.5ZM113.5 311.4H116.1V317.3H113.5ZM122.8 322.6H125.5V328.4H122.8ZM127.5 328.1H130.2V334H127.5ZM132.2 333.7H134.9V339.6H132.2ZM64.3 344.9H67V350.7H64.3ZM125.2 344.9H127.8V350.7H125.2ZM317.2 350.4H319.9V356.3H317.2Z"/>
<path fill="#9fff60" d="M80.7 77.1H83.3V88.9H80.7ZM106.5 77.1H109.1V88.9H106.5ZM129.9 77.1H132.5V88.9H129.9ZM162.7 77.1H177V88.9H162.7ZM179.1 77.1H184V88.9H179.1ZM258.7 77.1H268.3V88.9H258.7ZM296.1 77.1H301.1V88.9H296.1ZM80.7 88.6H83.3V94.5H80.7ZM106.5 88.6H109.1V94.5H106.5ZM129.9 88.6H132.5V94.5H129.9ZM162.7 88.6H167.6V94.5H162.7ZM169.7 88.6H177V94.5H169.7ZM179.1 88.6H184V94.5H179.1ZM258.7 88.6H268.3V94.5H258.7ZM296.1 88.6H301.1V94.5H296.1ZM80.7 94.2H83.3V100.1H80.7ZM90.1 94.2H92.7V100.1H90.1ZM106.5 94.2H109.1V100.1H106.5ZM129.9 94.2H132.5V100.1H129.9ZM162.7 94.2H167.6V100.1H162.7ZM172 94.2H177V100.1H172ZM179.1 94.2H184V100.1H179.1ZM258.7 94.2H266V100.1H258.7ZM296.1 94.2H301.1V100.1H296.1ZM80.7 99.8H83.3V105.6H80.7ZM90.1 99.8H92.7V105.6H90.1ZM106.5 99.8H109.1V105.6H106.5ZM129.9 99.8H132.5V105.6H129.9ZM160.3 99.8H167.6V105.6H160.3ZM172 99.8H177V105.6H172ZM179.1 99.8H184V105.6H179.1ZM261 99.8H266V105.6H261ZM296.1 99.8H301.1V105.6H296.1ZM80.7 105.3H83.3V111.2H80.7ZM90.1 105.3H92.7V111.2H90.1ZM106.5 105.3H109.1V111.2H106.5ZM129.9 105.3H132.5V111.2H129.9ZM143.9 105.3H153.6V111.2H143.9ZM158 105.3H165.3V111.2H158ZM172 105.3H174.7V111.2H172ZM181.4 105.3H184V111.2H181.4ZM261 105.3H266V111.2H261ZM296.1 105.3H301.1V111.2H296.1ZM80.7 110.9H83.3V116.8H80.7ZM90.1 110.9H92.7V116.8H90.1ZM106.5 110.9H109.1V116.8H106.5ZM143.9 110.9H165.3V116.8H143.9ZM181.4 110.9H184V116.8H181.4ZM261 110.9H266V116.8H261ZM296.1 110.9H301.1V116.8H296.1ZM80.7 116.5H83.3V122.4H80.7ZM90.1 116.5H92.7V122.4H90.1ZM106.5 116.5H109.1V122.4H106.5ZM141.6 116.5H163V122.4H141.6ZM181.4 116.5H186.4V122.4H181.4ZM190.8 116.5H202.8V122.4H190.8ZM258.7 116.5H268.3V122.4H258.7ZM296.1 116.5H301.1V122.4H296.1ZM80.7 122.1H83.3V127.9H80.7ZM90.1 122.1H92.7V127.9H90.1ZM106.5 122.1H109.1V127.9H106.5ZM141.6 122.1H163V127.9H141.6ZM181.4 122.1H205.1V127.9H181.4ZM258.7 122.1H268.3V127.9H258.7ZM296.1 122.1H301.1V127.9H296.1ZM80.7 127.6H83.3V133.5H80.7ZM90.1 127.6H92.7V133.5H90.1ZM106.5 127.6H109.1V133.5H106.5ZM141.6 127.6H163V133.5H141.6ZM181.4 127.6H193.4V133.5H181.4ZM195.4 127.6H205.1V133.5H195.4ZM258.7 127.6H268.3V133.5H258.7ZM296.1 127.6H303.5V133.5H296.1ZM80.7 133.2H83.3V139.1H80.7ZM90.1 133.2H92.7V139.1H90.1ZM106.5 133.2H109.1V139.1H106.5ZM141.6 133.2H163V139.1H141.6ZM183.7 133.2H191.1V139.1H183.7ZM200.1 133.2H207.5V139.1H200.1ZM256.3 133.2H261.3V139.1H256.3ZM263.4 133.2H270.7V139.1H263.4ZM293.8 133.2H303.5V139.1H293.8ZM80.7 138.8H83.3V144.6H80.7ZM90.1 138.8H92.7V144.6H90.1ZM106.5 138.8H109.1V144.6H106.5ZM141.6 138.8H160.6V144.6H141.6ZM183.7 138.8H188.7V144.6H183.7ZM202.5 138.8H226.2V144.6H202.5ZM254 138.8H259V144.6H254ZM265.7 138.8H270.7V144.6H265.7ZM293.8 138.8H296.4V144.6H293.8ZM300.8 138.8H303.5V144.6H300.8ZM80.7 144.3H83.3V150.2H80.7ZM106.5 144.3H109.1V150.2H106.5ZM139.2 144.3H160.6V150.2H139.2ZM204.8 144.3H235.6V150.2H204.8ZM244.6 144.3H259V150.2H244.6ZM268 144.3H275.4V150.2H268ZM291.5 144.3H296.4V150.2H291.5ZM300.8 144.3H315.2V150.2H300.8ZM80.7 149.9H83.3V155.8H80.7ZM106.5 149.9H109.1V155.8H106.5ZM111.1 149.9H116.1V155.8H111.1ZM132.2 149.9H134.9V155.8H132.2ZM139.2 149.9H153.6V155.8H139.2ZM207.2 149.9H237.9V155.8H207.2ZM242.3 149.9H256.6V155.8H242.3ZM270.4 149.9H296.4V155.8H270.4ZM300.8 149.9H317.5V155.8H300.8ZM80.7 155.5H83.3V161.3H80.7ZM108.8 155.5H111.4V161.3H108.8ZM118.2 155.5H123.1V161.3H118.2ZM132.2 155.5H134.9V161.3H132.2ZM139.2 155.5H146.6V161.3H139.2ZM232.9 155.5H244.9V161.3H232.9ZM247 155.5H254.3V161.3H247ZM270.4 155.5H296.4V161.3H270.4ZM300.8 155.5H319.9V161.3H300.8ZM80.7 161H83.3V166.9H80.7ZM122.8 161H127.8V166.9H122.8ZM129.9 161H134.9V166.9H129.9ZM139.2 161H144.2V166.9H139.2ZM237.6 161H244.9V166.9H237.6ZM272.7 161H294.1V166.9H272.7ZM303.2 161H322.2V166.9H303.2ZM80.7 166.6H83.3V172.5H80.7ZM127.5 166.6H132.5V172.5H127.5ZM139.2 166.6H141.9V172.5H139.2ZM239.9 166.6H242.6V172.5H239.9ZM282.1 166.6H294.1V172.5H282.1ZM303.2 166.6H329.2V172.5H303.2ZM80.7 172.2H83.3V178.1H80.7ZM129.9 172.2H132.5V178.1H129.9ZM139.2 172.2H141.9V178.1H139.2ZM303.2 172.2H329.2V178.1H303.2ZM78.4 177.8H83.3V183.6H78.4ZM92.4 177.8H95V183.6H92.4ZM139.2 177.8H141.9V183.6H139.2ZM307.8 177.8H329.2V183.6H307.8ZM78.4 183.3H83.3V189.2H78.4ZM92.4 183.3H95V189.2H92.4ZM139.2 183.3H144.2V189.2H139.2ZM310.2 183.3H329.2V189.2H310.2ZM80.7 188.9H83.3V194.8H80.7ZM92.4 188.9H97.4V194.8H92.4ZM141.6 188.9H148.9V194.8H141.6ZM312.5 188.9H329.2V194.8H312.5ZM80.7 194.5H83.3V200.3H80.7ZM92.4 194.5H97.4V200.3H92.4ZM143.9 194.5H148.9V200.3H143.9ZM314.9 194.5H329.2V200.3H314.9ZM80.7 200H83.3V205.9H80.7ZM94.8 200H99.7V205.9H94.8ZM146.3 200H151.3V205.9H146.3ZM317.2 200H329.2V205.9H317.2ZM78.4 205.6H83.3V211.5H78.4ZM94.8 205.6H99.7V211.5H94.8ZM148.6 205.6H151.3V211.5H148.6ZM319.6 205.6H329.2V211.5H319.6ZM78.4 211.2H83.3V217H78.4ZM97.1 211.2H99.7V217H97.1ZM148.6 211.2H151.3V217H148.6ZM321.9 211.2H329.2V217H321.9ZM78.4 216.7H81V222.6H78.4ZM97.1 216.7H99.7V222.6H97.1ZM324.2 216.7H329.2V222.6H324.2ZM76 222.3H81V228.2H76ZM97.1 222.3H99.7V228.2H97.1ZM151 222.3H153.6V228.2H151ZM324.2 222.3H329.2V228.2H324.2ZM76 227.9H78.7V233.8H76ZM326.6 227.9H329.2V233.8H326.6ZM76 233.5H78.7V239.3H76ZM326.6 233.5H329.2V239.3H326.6ZM76 239H78.7V244.9H76ZM153.3 239H155.9V244.9H153.3ZM324.2 244.6H326.9V250.5H324.2ZM324.2 250.2H326.9V256H324.2ZM155.6 255.7H158.3V261.6H155.6ZM324.2 255.7H326.9V261.6H324.2ZM76 266.9H78.7V272.7H76ZM158 266.9H160.6V272.7H158ZM76 272.4H78.7V278.3H76ZM321.9 272.4H324.5V278.3H321.9ZM76 278H78.7V283.9H76ZM190.8 278H202.8V283.9H190.8ZM258.7 278H322.2V283.9H258.7ZM76 283.6H78.7V289.5H76ZM76 289.2H78.7V295H76ZM76 294.7H78.7V300.6H76ZM258.7 294.7H261.3V300.6H258.7ZM307.8 294.7H312.8V300.6H307.8ZM207.2 300.3H237.9V306.2H207.2ZM314.9 300.3H317.5V306.2H314.9ZM76 339.3H78.7V345.2H76ZM66.7 344.9H69.3V350.7H66.7ZM46.6 350.4H57.6V356.3H46.6ZM310.2 350.4H317.5V356.3H310.2Z"/>
<path fill="#afff50" d="M108.8 77.1H118.5V88.9H108.8ZM127.5 77.1H130.2V88.9H127.5ZM176.7 77.1H179.4V88.9H176.7ZM108.8 88.6H118.5V94.5H108.8ZM127.5 88.6H130.2V94.5H127.5ZM167.3 88.6H170V94.5H167.3ZM176.7 88.6H179.4V94.5H176.7ZM108.8 94.2H118.5V100.1H108.8ZM127.5 94.2H130.2V100.1H127.5ZM167.3 94.2H172.3V100.1H167.3ZM176.7 94.2H179.4V100.1H176.7ZM108.8 99.8H118.5V105.6H108.8ZM127.5 99.8H130.2V105.6H127.5ZM167.3 99.8H172.3V105.6H167.3ZM176.7 99.8H179.4V105.6H176.7ZM108.8 105.3H118.5V111.2H108.8ZM127.5 105.3H130.2V111.2H127.5ZM165 105.3H172.3V111.2H165ZM174.4 105.3H181.7V111.2H174.4ZM108.8 110.9H118.5V116.8H108.8ZM127.5 110.9H132.5V116.8H127.5ZM165 110.9H167.6V116.8H165ZM169.7 110.9H181.7V116.8H169.7ZM108.8 116.5H118.5V122.4H108.8ZM127.5 116.5H132.5V122.4H127.5ZM162.7 116.5H165.3V122.4H162.7ZM172 116.5H181.7V122.4H172ZM108.8 122.1H118.5V127.9H108.8ZM129.9 122.1H132.5V127.9H129.9ZM162.7 122.1H165.3V127.9H162.7ZM172 122.1H181.7V127.9H172ZM108.8 127.6H116.1V133.5H108.8ZM129.9 127.6H132.5V133.5H129.9ZM162.7 127.6H165.3V133.5H162.7ZM172 127.6H181.7V133.5H172ZM193.1 127.6H195.7V133.5H193.1ZM108.8 133.2H116.1V139.1H108.8ZM129.9 133.2H132.5V139.1H129.9ZM162.7 133.2H165.3V139.1H162.7ZM172 133.2H177V139.1H172ZM179.1 133.2H184V139.1H179.1ZM190.8 133.2H200.4V139.1H190.8ZM261 133.2H263.7V139.1H261ZM108.8 138.8H118.5V144.6H108.8ZM129.9 138.8H132.5V144.6H129.9ZM160.3 138.8H165.3V144.6H160.3ZM174.4 138.8H177V144.6H174.4ZM179.1 138.8H184V144.6H179.1ZM188.4 138.8H193.4V144.6H188.4ZM195.4 138.8H202.8V144.6H195.4ZM258.7 138.8H266V144.6H258.7ZM296.1 138.8H301.1V144.6H296.1ZM90.1 144.3H92.7V150.2H90.1ZM108.8 144.3H118.5V150.2H108.8ZM129.9 144.3H132.5V150.2H129.9ZM160.3 144.3H163V150.2H160.3ZM181.4 144.3H191.1V150.2H181.4ZM197.8 144.3H205.1V150.2H197.8ZM258.7 144.3H268.3V150.2H258.7ZM296.1 144.3H301.1V150.2H296.1ZM90.1 149.9H92.7V155.8H90.1ZM108.8 149.9H111.4V155.8H108.8ZM115.8 149.9H123.1V155.8H115.8ZM125.2 149.9H132.5V155.8H125.2ZM153.3 149.9H163V155.8H153.3ZM181.4 149.9H188.7V155.8H181.4ZM200.1 149.9H207.5V155.8H200.1ZM256.3 149.9H270.7V155.8H256.3ZM296.1 149.9H301.1V155.8H296.1ZM90.1 155.5H92.7V161.3H90.1ZM122.8 155.5H132.5V161.3H122.8ZM146.3 155.5H163V161.3H146.3ZM183.7 155.5H186.4V161.3H183.7ZM202.5 155.5H233.2V161.3H202.5ZM244.6 155.5H247.3V161.3H244.6ZM254 155.5H261.3V161.3H254ZM265.7 155.5H270.7V161.3H265.7ZM296.1 155.5H301.1V161.3H296.1ZM90.1 161H92.7V166.9H90.1ZM127.5 161H130.2V166.9H127.5ZM143.9 161H160.6V166.9H143.9ZM207.2 161H237.9V166.9H207.2ZM244.6 161H259V166.9H244.6ZM268 161H273V166.9H268ZM293.8 161H303.5V166.9H293.8ZM83 166.6H85.7V172.5H83ZM90.1 166.6H92.7V172.5H90.1ZM141.6 166.6H158.3V172.5H141.6ZM230.6 166.6H240.2V172.5H230.6ZM242.3 166.6H256.6V172.5H242.3ZM268 166.6H282.4V172.5H268ZM293.8 166.6H303.5V172.5H293.8ZM83 172.2H85.7V178.1H83ZM141.6 172.2H155.9V178.1H141.6ZM235.2 172.2H244.9V178.1H235.2ZM249.3 172.2H254.3V178.1H249.3ZM270.4 172.2H303.5V178.1H270.4ZM83 177.8H85.7V183.6H83ZM141.6 177.8H155.9V183.6H141.6ZM239.9 177.8H242.6V183.6H239.9ZM270.4 177.8H308.1V183.6H270.4ZM83 183.3H85.7V189.2H83ZM143.9 183.3H153.6V189.2H143.9ZM270.4 183.3H310.5V189.2H270.4ZM83 188.9H85.7V194.8H83ZM148.6 188.9H153.6V194.8H148.6ZM270.4 188.9H312.8V194.8H270.4ZM83 194.5H85.7V200.3H83ZM148.6 194.5H153.6V200.3H148.6ZM270.4 194.5H315.2V200.3H270.4ZM83 200H85.7V205.9H83ZM92.4 200H95V205.9H92.4ZM151 200H153.6V205.9H151ZM277.4 200H317.5V205.9H277.4ZM92.4 205.6H95V211.5H92.4ZM151 205.6H153.6V211.5H151ZM307.8 205.6H319.9V211.5H307.8ZM94.8 211.2H97.4V217H94.8ZM151 211.2H153.6V217H151ZM314.9 211.2H322.2V217H314.9ZM80.7 216.7H83.3V222.6H80.7ZM151 216.7H153.6V222.6H151ZM317.2 216.7H324.5V222.6H317.2ZM319.6 222.3H324.5V228.2H319.6ZM78.4 227.9H81V233.8H78.4ZM97.1 227.9H99.7V233.8H97.1ZM319.6 227.9H326.9V233.8H319.6ZM78.4 233.5H81V239.3H78.4ZM97.1 233.5H99.7V239.3H97.1ZM153.3 233.5H155.9V239.3H153.3ZM321.9 233.5H326.9V239.3H321.9ZM97.1 239H99.7V244.9H97.1ZM321.9 239H326.9V244.9H321.9ZM76 244.6H78.7V250.5H76ZM321.9 244.6H324.5V250.5H321.9ZM76 250.2H78.7V256H76ZM321.9 250.2H324.5V256H321.9ZM76 255.7H78.7V261.6H76ZM321.9 255.7H324.5V261.6H321.9ZM76 261.3H78.7V267.2H76ZM321.9 261.3H324.5V267.2H321.9ZM97.1 266.9H99.7V272.7H97.1ZM321.9 266.9H324.5V272.7H321.9ZM165 272.4H167.6V278.3H165ZM319.6 272.4H322.2V278.3H319.6ZM78.4 278H81V283.9H78.4ZM78.4 283.6H81V289.5H78.4ZM78.4 289.2H81V295H78.4ZM261 294.7H263.7V300.6H261ZM300.8 294.7H308.1V300.6H300.8ZM76 300.3H78.7V306.2H76ZM237.6 300.3H244.9V306.2H237.6ZM106.5 305.9H109.1V311.7H106.5ZM76 311.4H78.7V317.3H76ZM76 317H78.7V322.9H76ZM76 322.6H78.7V328.4H76ZM76 328.1H78.7V334H76ZM76 333.7H78.7V339.6H76ZM134.6 339.3H137.2V345.2H134.6ZM69 344.9H71.6V350.7H69ZM122.8 344.9H125.5V350.7H122.8ZM57.3 350.4H62.3V356.3H57.3ZM174.4 350.4H310.5V356.3H174.4Z"/>
<path fill="#bfff40" d="M118.2 77.1H127.8V88.9H118.2ZM118.2 88.6H127.8V94.5H118.2ZM118.2 94.2H127.8V100.1H118.2ZM83 99.8H85.7V105.6H83ZM118.2 99.8H127.8V105.6H118.2ZM83 105.3H85.7V111.2H83ZM118.2 105.3H127.8V111.2H118.2ZM83 110.9H85.7V116.8H83ZM118.2 110.9H127.8V116.8H118.2ZM167.3 110.9H170V116.8H167.3ZM83 116.5H85.7V122.4H83ZM118.2 116.5H127.8V122.4H118.2ZM165 116.5H172.3V122.4H165ZM83 122.1H85.7V127.9H83ZM118.2 122.1H130.2V127.9H118.2ZM165 122.1H167.6V127.9H165ZM169.7 122.1H172.3V127.9H169.7ZM83 127.6H85.7V133.5H83ZM115.8 127.6H130.2V133.5H115.8ZM165 127.6H167.6V133.5H165ZM169.7 127.6H172.3V133.5H169.7ZM83 133.2H85.7V139.1H83ZM115.8 133.2H130.2V139.1H115.8ZM165 133.2H167.6V139.1H165ZM169.7 133.2H172.3V139.1H169.7ZM176.7 133.2H179.4V139.1H176.7ZM83 138.8H85.7V144.6H83ZM118.2 138.8H130.2V144.6H118.2ZM172 138.8H174.7V144.6H172ZM176.7 138.8H179.4V144.6H176.7ZM193.1 138.8H195.7V144.6H193.1ZM83 144.3H85.7V150.2H83ZM118.2 144.3H130.2V150.2H118.2ZM162.7 144.3H165.3V150.2H162.7ZM172 144.3H181.7V150.2H172ZM190.8 144.3H198.1V150.2H190.8ZM83 149.9H85.7V155.8H83ZM122.8 149.9H125.5V155.8H122.8ZM162.7 149.9H165.3V155.8H162.7ZM172 149.9H181.7V155.8H172ZM188.4 149.9H193.4V155.8H188.4ZM195.4 149.9H200.4V155.8H195.4ZM83 155.5H85.7V161.3H83ZM162.7 155.5H165.3V161.3H162.7ZM172 155.5H184V161.3H172ZM186.1 155.5H191.1V161.3H186.1ZM197.8 155.5H202.8V161.3H197.8ZM261 155.5H266V161.3H261ZM83 161H85.7V166.9H83ZM160.3 161H163V166.9H160.3ZM181.4 161H188.7V166.9H181.4ZM200.1 161H207.5V166.9H200.1ZM258.7 161H268.3V166.9H258.7ZM158 166.6H163V172.5H158ZM202.5 166.6H230.9V172.5H202.5ZM256.3 166.6H268.3V172.5H256.3ZM90.1 172.2H92.7V178.1H90.1ZM155.6 172.2H160.6V178.1H155.6ZM207.2 172.2H235.6V178.1H207.2ZM244.6 172.2H249.6V178.1H244.6ZM254 172.2H270.7V178.1H254ZM90.1 177.8H92.7V183.6H90.1ZM155.6 177.8H158.3V183.6H155.6ZM230.6 177.8H240.2V183.6H230.6ZM242.3 177.8H270.7V183.6H242.3ZM90.1 183.3H92.7V189.2H90.1ZM153.3 183.3H155.9V189.2H153.3ZM235.2 183.3H270.7V189.2H235.2ZM90.1 188.9H92.7V194.8H90.1ZM153.3 188.9H155.9V194.8H153.3ZM239.9 188.9H242.6V194.8H239.9ZM263.4 188.9H270.7V194.8H263.4ZM153.3 194.5H155.9V200.3H153.3ZM265.7 194.5H270.7V200.3H265.7ZM153.3 200H155.9V205.9H153.3ZM268 200H277.7V205.9H268ZM83 205.6H85.7V211.5H83ZM270.4 205.6H308.1V211.5H270.4ZM83 211.2H85.7V217H83ZM289.1 211.2H298.8V217H289.1ZM300.8 211.2H315.2V217H300.8ZM94.8 216.7H97.4V222.6H94.8ZM314.9 216.7H317.5V222.6H314.9ZM80.7 222.3H83.3V228.2H80.7ZM153.3 222.3H155.9V228.2H153.3ZM317.2 222.3H319.9V228.2H317.2ZM153.3 227.9H155.9V233.8H153.3ZM317.2 227.9H319.9V233.8H317.2ZM319.6 233.5H322.2V239.3H319.6ZM78.4 239H81V244.9H78.4ZM319.6 239H322.2V244.9H319.6ZM97.1 244.6H99.7V250.5H97.1ZM319.6 244.6H322.2V250.5H319.6ZM155.6 250.2H158.3V256H155.6ZM319.6 250.2H322.2V256H319.6ZM319.6 255.7H322.2V261.6H319.6ZM319.6 261.3H322.2V267.2H319.6ZM78.4 266.9H81V272.7H78.4ZM319.6 266.9H322.2V272.7H319.6ZM78.4 272.4H81V278.3H78.4ZM317.2 272.4H319.9V278.3H317.2ZM78.4 294.7H81V300.6H78.4ZM263.4 294.7H266V300.6H263.4ZM296.1 294.7H301.1V300.6H296.1ZM244.6 300.3H247.3V306.2H244.6ZM312.5 300.3H315.2V306.2H312.5ZM76 305.9H78.7V311.7H76ZM111.1 311.4H113.8V317.3H111.1ZM115.8 317H118.5V322.9H115.8ZM78.4 339.3H81V345.2H78.4ZM71.3 344.9H76.3V350.7H71.3ZM62 350.4H67V356.3H62ZM167.3 350.4H174.7V356.3H167.3Z"/>
<path fill="#cfff30" d="M83 77.1H85.7V88.9H83ZM87.7 77.1H90.4V88.9H87.7ZM83 88.6H85.7V94.5H83ZM87.7 88.6H90.4V94.5H87.7ZM83 94.2H85.7V100.1H83ZM87.7 94.2H90.4V100.1H87.7ZM87.7 99.8H90.4V105.6H87.7ZM167.3 122.1H170V127.9H167.3ZM167.3 127.6H170V133.5H167.3ZM167.3 133.2H170V139.1H167.3ZM165 138.8H172.3V144.6H165ZM165 144.3H167.6V150.2H165ZM169.7 144.3H172.3V150.2H169.7ZM165 149.9H167.6V155.8H165ZM169.7 149.9H172.3V155.8H169.7ZM193.1 149.9H195.7V155.8H193.1ZM169.7 155.5H172.3V161.3H169.7ZM190.8 155.5H198.1V161.3H190.8ZM162.7 161H165.3V166.9H162.7ZM172 161H181.7V166.9H172ZM188.4 161H193.4V166.9H188.4ZM197.8 161H200.4V166.9H197.8ZM162.7 166.6H165.3V172.5H162.7ZM172 166.6H191.1V172.5H172ZM197.8 166.6H202.8V172.5H197.8ZM160.3 172.2H163V178.1H160.3ZM202.5 172.2H207.5V178.1H202.5ZM158 177.8H160.6V183.6H158ZM207.2 177.8H230.9V183.6H207.2ZM155.6 183.3H158.3V189.2H155.6ZM230.6 183.3H235.6V189.2H230.6ZM235.2 188.9H240.2V194.8H235.2ZM242.3 188.9H263.7V194.8H242.3ZM90.1 194.5H92.7V200.3H90.1ZM254 194.5H266V200.3H254ZM90.1 200H92.7V205.9H90.1ZM263.4 200H268.3V205.9H263.4ZM153.3 205.6H155.9V211.5H153.3ZM265.7 205.6H270.7V211.5H265.7ZM92.4 211.2H95V217H92.4ZM153.3 211.2H155.9V217H153.3ZM270.4 211.2H289.4V217H270.4ZM298.5 211.2H301.1V217H298.5ZM83 216.7H85.7V222.6H83ZM153.3 216.7H155.9V222.6H153.3ZM289.1 216.7H298.8V222.6H289.1ZM307.8 216.7H315.2V222.6H307.8ZM94.8 222.3H97.4V228.2H94.8ZM314.9 222.3H317.5V228.2H314.9ZM80.7 227.9H83.3V233.8H80.7ZM317.2 233.5H319.9V239.3H317.2ZM317.2 239H319.9V244.9H317.2ZM78.4 244.6H81V250.5H78.4ZM155.6 244.6H158.3V250.5H155.6ZM78.4 250.2H81V256H78.4ZM97.1 250.2H99.7V256H97.1ZM78.4 255.7H81V261.6H78.4ZM97.1 255.7H99.7V261.6H97.1ZM78.4 261.3H81V267.2H78.4ZM97.1 261.3H99.7V267.2H97.1ZM167.3 272.4H170V278.3H167.3ZM314.9 272.4H317.5V278.3H314.9ZM80.7 289.2H83.3V295H80.7ZM265.7 294.7H296.4V300.6H265.7ZM99.4 300.3H102.1V306.2H99.4ZM247 300.3H249.6V306.2H247ZM310.2 300.3H312.8V306.2H310.2ZM120.5 322.6H123.1V328.4H120.5ZM125.2 328.1H127.8V334H125.2ZM129.9 333.7H132.5V339.6H129.9ZM76 344.9H81V350.7H76ZM120.5 344.9H123.1V350.7H120.5ZM66.7 350.4H69.3V356.3H66.7ZM165 350.4H167.6V356.3H165Z"/>
<path fill="#dfff20" d="M87.7 105.3H90.4V111.2H87.7ZM87.7 110.9H90.4V116.8H87.7ZM87.7 116.5H90.4V122.4H87.7ZM87.7 122.1H90.4V127.9H87.7ZM87.7 127.6H90.4V133.5H87.7ZM87.7 133.2H90.4V139.1H87.7ZM87.7 138.8H90.4V144.6H87.7ZM167.3 144.3H170V150.2H167.3ZM167.3 149.9H170V155.8H167.3ZM165 155.5H170V161.3H165ZM165 161H167.6V166.9H165ZM169.7 161H172.3V166.9H169.7ZM193.1 161H198.1V166.9H193.1ZM190.8 166.6H193.4V172.5H190.8ZM195.4 166.6H198.1V172.5H195.4ZM162.7 172.2H165.3V178.1H162.7ZM172 172.2H188.7V178.1H172ZM200.1 172.2H202.8V178.1H200.1ZM202.5 177.8H207.5V183.6H202.5ZM158 183.3H160.6V189.2H158ZM207.2 183.3H230.9V189.2H207.2ZM155.6 188.9H158.3V194.8H155.6ZM230.6 188.9H235.6V194.8H230.6ZM155.6 194.5H158.3V200.3H155.6ZM235.2 194.5H254.3V200.3H235.2ZM258.7 200H263.7V205.9H258.7ZM263.4 205.6H266V211.5H263.4ZM268 211.2H270.7V217H268ZM279.7 216.7H289.4V222.6H279.7ZM298.5 216.7H308.1V222.6H298.5ZM83 222.3H85.7V228.2H83ZM289.1 222.3H296.4V228.2H289.1ZM312.5 222.3H315.2V228.2H312.5ZM314.9 227.9H317.5V233.8H314.9ZM80.7 233.5H83.3V239.3H80.7ZM317.2 244.6H319.9V250.5H317.2ZM317.2 250.2H319.9V256H317.2ZM317.2 255.7H319.9V261.6H317.2ZM317.2 261.3H319.9V267.2H317.2ZM317.2 266.9H319.9V272.7H317.2ZM312.5 272.4H315.2V278.3H312.5ZM80.7 278H83.3V283.9H80.7ZM80.7 283.6H83.3V289.5H80.7ZM80.7 294.7H83.3V300.6H80.7ZM249.3 300.3H251.9V306.2H249.3ZM307.8 300.3H310.5V306.2H307.8ZM78.4 333.7H81V339.6H78.4ZM80.7 339.3H83.3V345.2H80.7ZM132.2 339.3H134.9V345.2H132.2ZM80.7 344.9H88V350.7H80.7ZM118.2 344.9H120.8V350.7H118.2ZM69 350.4H74V356.3H69ZM160.3 350.4H165.3V356.3H160.3Z"/>
<path fill="#efff10" d="M85.4 122.1H88V127.9H85.4ZM85.4 127.6H88V133.5H85.4ZM85.4 133.2H88V139.1H85.4ZM85.4 138.8H88V144.6H85.4ZM85.4 144.3H90.4V150.2H85.4ZM85.4 149.9H90.4V155.8H85.4ZM85.4 155.5H90.4V161.3H85.4ZM85.4 161H90.4V166.9H85.4ZM167.3 161H170V166.9H167.3ZM85.4 166.6H90.4V172.5H85.4ZM165 166.6H172.3V172.5H165ZM193.1 166.6H195.7V172.5H193.1ZM85.4 172.2H88V178.1H85.4ZM188.4 172.2H193.4V178.1H188.4ZM195.4 172.2H200.4V178.1H195.4ZM85.4 177.8H88V183.6H85.4ZM160.3 177.8H163V183.6H160.3ZM174.4 177.8H186.4V183.6H174.4ZM200.1 177.8H202.8V183.6H200.1ZM85.4 183.3H88V189.2H85.4ZM204.8 183.3H207.5V189.2H204.8ZM85.4 188.9H88V194.8H85.4ZM225.9 188.9H230.9V194.8H225.9ZM85.4 194.5H88V200.3H85.4ZM232.9 194.5H235.6V200.3H232.9ZM85.4 200H88V205.9H85.4ZM155.6 200H158.3V205.9H155.6ZM239.9 200H244.9V205.9H239.9ZM247 200H259V205.9H247ZM90.1 205.6H92.7V211.5H90.1ZM261 205.6H263.7V211.5H261ZM265.7 211.2H268.3V217H265.7ZM92.4 216.7H95V222.6H92.4ZM268 216.7H280V222.6H268ZM286.8 222.3H289.4V228.2H286.8ZM296.1 222.3H303.5V228.2H296.1ZM307.8 222.3H312.8V228.2H307.8ZM94.8 227.9H97.4V233.8H94.8ZM291.5 227.9H296.4V233.8H291.5ZM312.5 227.9H315.2V233.8H312.5ZM155.6 233.5H158.3V239.3H155.6ZM314.9 233.5H317.5V239.3H314.9ZM80.7 239H83.3V244.9H80.7ZM155.6 239H158.3V244.9H155.6ZM80.7 272.4H83.3V278.3H80.7ZM289.1 272.4H296.4V278.3H289.1ZM310.2 272.4H312.8V278.3H310.2ZM251.6 300.3H254.3V306.2H251.6ZM305.5 300.3H308.1V306.2H305.5ZM78.4 317H81V322.9H78.4ZM78.4 322.6H81V328.4H78.4ZM78.4 328.1H81V334H78.4ZM87.7 344.9H104.4V350.7H87.7ZM113.5 344.9H118.5V350.7H113.5ZM73.7 350.4H78.7V356.3H73.7ZM155.6 350.4H160.6V356.3H155.6Z"/>
<path fill="#ffff00" d="M85.4 77.1H88V88.9H85.4ZM85.4 88.6H88V94.5H85.4ZM85.4 94.2H88V100.1H85.4ZM85.4 99.8H88V105.6H85.4ZM85.4 105.3H88V111.2H85.4ZM85.4 110.9H88V116.8H85.4ZM85.4 116.5H88V122.4H85.4ZM87.7 172.2H90.4V178.1H87.7ZM165 172.2H172.3V178.1H165ZM193.1 172.2H195.7V178.1H193.1ZM87.7 177.8H90.4V183.6H87.7ZM162.7 177.8H165.3V183.6H162.7ZM172 177.8H174.7V183.6H172ZM186.1 177.8H191.1V183.6H186.1ZM197.8 177.8H200.4V183.6H197.8ZM87.7 183.3H90.4V189.2H87.7ZM160.3 183.3H163V189.2H160.3ZM176.7 183.3H181.7V189.2H176.7ZM202.5 183.3H205.1V189.2H202.5ZM87.7 188.9H90.4V194.8H87.7ZM158 188.9H160.6V194.8H158ZM207.2 188.9H226.2V194.8H207.2ZM87.7 194.5H90.4V200.3H87.7ZM230.6 194.5H233.2V200.3H230.6ZM235.2 200H240.2V205.9H235.2ZM244.6 200H247.3V205.9H244.6ZM85.4 205.6H88V211.5H85.4ZM155.6 205.6H158.3V211.5H155.6ZM258.7 205.6H261.3V211.5H258.7ZM155.6 211.2H158.3V217H155.6ZM263.4 211.2H266V217H263.4ZM155.6 216.7H158.3V222.6H155.6ZM265.7 216.7H268.3V222.6H265.7ZM155.6 222.3H158.3V228.2H155.6ZM272.7 222.3H275.4V228.2H272.7ZM279.7 222.3H287.1V228.2H279.7ZM303.2 222.3H308.1V228.2H303.2ZM83 227.9H85.7V233.8H83ZM155.6 227.9H158.3V233.8H155.6ZM289.1 227.9H291.8V233.8H289.1ZM296.1 227.9H298.8V233.8H296.1ZM291.5 233.5H296.4V239.3H291.5ZM314.9 239H317.5V244.9H314.9ZM80.7 244.6H83.3V250.5H80.7ZM314.9 244.6H317.5V250.5H314.9ZM314.9 250.2H317.5V256H314.9ZM314.9 255.7H317.5V261.6H314.9ZM158 261.3H160.6V267.2H158ZM314.9 261.3H317.5V267.2H314.9ZM80.7 266.9H83.3V272.7H80.7ZM314.9 266.9H317.5V272.7H314.9ZM169.7 272.4H172.3V278.3H169.7ZM268 272.4H289.4V278.3H268ZM296.1 272.4H310.5V278.3H296.1ZM94.8 278H97.4V283.9H94.8ZM94.8 283.6H97.4V289.5H94.8ZM94.8 289.2H97.4V295H94.8ZM94.8 294.7H97.4V300.6H94.8ZM78.4 300.3H81V306.2H78.4ZM254 300.3H256.6V306.2H254ZM104.1 305.9H106.8V311.7H104.1ZM78.4 311.4H81V317.3H78.4ZM104.1 344.9H113.8V350.7H104.1ZM78.4 350.4H85.7V356.3H78.4ZM146.3 350.4H155.9V356.3H146.3Z"/>
<path fill="#ffef00" d="M165 177.8H167.6V183.6H165ZM169.7 177.8H172.3V183.6H169.7ZM190.8 177.8H198.1V183.6H190.8ZM174.4 183.3H177V189.2H174.4ZM181.4 183.3H186.4V189.2H181.4ZM200.1 183.3H202.8V189.2H200.1ZM204.8 188.9H207.5V194.8H204.8ZM228.2 194.5H230.9V200.3H228.2ZM87.7 200H90.4V205.9H87.7ZM232.9 200H235.6V205.9H232.9ZM251.6 205.6H259V211.5H251.6ZM85.4 211.2H88V217H85.4ZM90.1 211.2H92.7V217H90.1ZM261 211.2H263.7V217H261ZM263.4 216.7H266V222.6H263.4ZM268 222.3H273V228.2H268ZM275.1 222.3H280V228.2H275.1ZM284.4 227.9H289.4V233.8H284.4ZM298.5 227.9H303.5V233.8H298.5ZM307.8 227.9H312.8V233.8H307.8ZM94.8 233.5H97.4V239.3H94.8ZM289.1 233.5H291.8V239.3H289.1ZM296.1 233.5H298.8V239.3H296.1ZM312.5 233.5H315.2V239.3H312.5ZM291.5 239H296.4V244.9H291.5ZM80.7 250.2H83.3V256H80.7ZM80.7 255.7H83.3V261.6H80.7ZM80.7 261.3H83.3V267.2H80.7ZM172 272.4H174.7V278.3H172ZM263.4 272.4H268.3V278.3H263.4ZM303.2 300.3H305.8V306.2H303.2ZM78.4 305.9H81V311.7H78.4ZM83 339.3H85.7V345.2H83ZM129.9 339.3H132.5V345.2H129.9ZM85.4 350.4H111.4V356.3H85.4ZM115.8 350.4H146.6V356.3H115.8Z"/>
<path fill="#ffdf00" d="M167.3 177.8H170V183.6H167.3ZM162.7 183.3H165.3V189.2H162.7ZM172 183.3H174.7V189.2H172ZM186.1 183.3H191.1V189.2H186.1ZM197.8 183.3H200.4V189.2H197.8ZM160.3 188.9H163V194.8H160.3ZM176.7 188.9H181.7V194.8H176.7ZM202.5 188.9H205.1V194.8H202.5ZM158 194.5H160.6V200.3H158ZM209.5 194.5H228.5V200.3H209.5ZM87.7 205.6H90.4V211.5H87.7ZM237.6 205.6H251.9V211.5H237.6ZM258.7 211.2H261.3V217H258.7ZM85.4 216.7H88V222.6H85.4ZM92.4 222.3H95V228.2H92.4ZM265.7 222.3H268.3V228.2H265.7ZM270.4 227.9H273V233.8H270.4ZM282.1 227.9H284.7V233.8H282.1ZM303.2 227.9H308.1V233.8H303.2ZM83 233.5H85.7V239.3H83ZM286.8 233.5H289.4V239.3H286.8ZM289.1 239H291.8V244.9H289.1ZM312.5 239H315.2V244.9H312.5ZM291.5 244.6H296.4V250.5H291.5ZM291.5 250.2H294.1V256H291.5ZM158 255.7H160.6V261.6H158ZM160.3 266.9H163V272.7H160.3ZM94.8 272.4H97.4V278.3H94.8ZM261 272.4H263.7V278.3H261ZM83 278H85.7V283.9H83ZM83 283.6H85.7V289.5H83ZM83 289.2H85.7V295H83ZM256.3 300.3H259V306.2H256.3ZM300.8 300.3H303.5V306.2H300.8ZM108.8 311.4H111.4V317.3H108.8ZM113.5 317H116.1V322.9H113.5ZM127.5 339.3H130.2V345.2H127.5ZM111.1 350.4H116.1V356.3H111.1Z"/>
<path fill="#ffcf00" d="M165 183.3H167.6V189.2H165ZM169.7 183.3H172.3V189.2H169.7ZM190.8 183.3H198.1V189.2H190.8ZM174.4 188.9H177V194.8H174.4ZM181.4 188.9H184V194.8H181.4ZM200.1 188.9H202.8V194.8H200.1ZM204.8 194.5H209.8V200.3H204.8ZM158 200H160.6V205.9H158ZM230.6 200H233.2V205.9H230.6ZM235.2 205.6H237.9V211.5H235.2ZM87.7 211.2H90.4V217H87.7ZM256.3 211.2H259V217H256.3ZM261 216.7H263.7V222.6H261ZM263.4 222.3H266V228.2H263.4ZM265.7 227.9H270.7V233.8H265.7ZM272.7 227.9H282.4V233.8H272.7ZM284.4 233.5H287.1V239.3H284.4ZM298.5 233.5H301.1V239.3H298.5ZM310.2 233.5H312.8V239.3H310.2ZM94.8 239H97.4V244.9H94.8ZM296.1 239H298.8V244.9H296.1ZM289.1 244.6H291.8V250.5H289.1ZM312.5 244.6H315.2V250.5H312.5ZM158 250.2H160.6V256H158ZM289.1 250.2H291.8V256H289.1ZM293.8 250.2H296.4V256H293.8ZM312.5 250.2H315.2V256H312.5ZM291.5 255.7H296.4V261.6H291.5ZM312.5 255.7H315.2V261.6H312.5ZM291.5 261.3H294.1V267.2H291.5ZM312.5 261.3H315.2V267.2H312.5ZM312.5 266.9H315.2V272.7H312.5ZM83 272.4H85.7V278.3H83ZM174.4 272.4H177V278.3H174.4ZM258.7 272.4H261.3V278.3H258.7ZM83 294.7H85.7V300.6H83ZM258.7 300.3H261.3V306.2H258.7ZM118.2 322.6H120.8V328.4H118.2ZM127.5 333.7H130.2V339.6H127.5ZM85.4 339.3H88V345.2H85.4ZM125.2 339.3H127.8V345.2H125.2Z"/>
<path fill="#ffbf00" d="M167.3 183.3H170V189.2H167.3ZM162.7 188.9H165.3V194.8H162.7ZM172 188.9H174.7V194.8H172ZM183.7 188.9H186.4V194.8H183.7ZM228.2 200H230.9V205.9H228.2ZM158 205.6H160.6V211.5H158ZM232.9 205.6H235.6V211.5H232.9ZM251.6 211.2H256.6V217H251.6ZM90.1 216.7H92.7V222.6H90.1ZM258.7 216.7H261.3V222.6H258.7ZM85.4 222.3H88V228.2H85.4ZM268 233.5H273V239.3H268ZM282.1 233.5H284.7V239.3H282.1ZM300.8 233.5H310.5V239.3H300.8ZM83 239H85.7V244.9H83ZM286.8 239H289.4V244.9H286.8ZM298.5 239H301.1V244.9H298.5ZM310.2 239H312.8V244.9H310.2ZM158 244.6H160.6V250.5H158ZM286.8 244.6H289.4V250.5H286.8ZM296.1 244.6H298.8V250.5H296.1ZM296.1 250.2H298.8V256H296.1ZM289.1 255.7H291.8V261.6H289.1ZM289.1 261.3H291.8V267.2H289.1ZM293.8 261.3H296.4V267.2H293.8ZM289.1 266.9H296.4V272.7H289.1ZM310.2 266.9H312.8V272.7H310.2ZM176.7 272.4H179.4V278.3H176.7ZM254 272.4H259V278.3H254ZM298.5 300.3H301.1V306.2H298.5ZM122.8 328.1H125.5V334H122.8ZM80.7 333.7H83.3V339.6H80.7ZM87.7 339.3H97.4V345.2H87.7ZM118.2 339.3H125.5V345.2H118.2Z"/>
<path fill="#ffaf00" d="M186.1 188.9H191.1V194.8H186.1ZM197.8 188.9H200.4V194.8H197.8ZM160.3 194.5H163V200.3H160.3ZM176.7 194.5H181.7V200.3H176.7ZM202.5 194.5H205.1V200.3H202.5ZM209.5 200H228.5V205.9H209.5ZM158 211.2H160.6V217H158ZM237.6 211.2H251.9V217H237.6ZM256.3 216.7H259V222.6H256.3ZM261 222.3H263.7V228.2H261ZM92.4 227.9H95V233.8H92.4ZM263.4 227.9H266V233.8H263.4ZM158 233.5H160.6V239.3H158ZM265.7 233.5H268.3V239.3H265.7ZM272.7 233.5H282.4V239.3H272.7ZM158 239H160.6V244.9H158ZM268 239H270.7V244.9H268ZM284.4 239H287.1V244.9H284.4ZM300.8 239H303.5V244.9H300.8ZM298.5 244.6H301.1V250.5H298.5ZM286.8 250.2H289.4V256H286.8ZM286.8 255.7H289.4V261.6H286.8ZM296.1 255.7H298.8V261.6H296.1ZM284.4 261.3H289.4V267.2H284.4ZM296.1 261.3H298.8V267.2H296.1ZM310.2 261.3H312.8V267.2H310.2ZM83 266.9H85.7V272.7H83ZM94.8 266.9H97.4V272.7H94.8ZM270.4 266.9H289.4V272.7H270.4ZM296.1 266.9H301.1V272.7H296.1ZM179.1 272.4H181.7V278.3H179.1ZM251.6 272.4H254.3V278.3H251.6ZM97.1 300.3H99.7V306.2H97.1ZM261 300.3H263.7V306.2H261ZM296.1 300.3H298.8V306.2H296.1ZM80.7 322.6H83.3V328.4H80.7ZM80.7 328.1H83.3V334H80.7ZM97.1 339.3H99.7V345.2H97.1ZM113.5 339.3H118.5V345.2H113.5Z"/>
<path fill="#ff9f00" d="M165 188.9H172.3V194.8H165ZM190.8 188.9H198.1V194.8H190.8ZM174.4 194.5H177V200.3H174.4ZM181.4 194.5H184V200.3H181.4ZM200.1 194.5H202.8V200.3H200.1ZM207.2 200H209.8V205.9H207.2ZM230.6 205.6H233.2V211.5H230.6ZM235.2 211.2H237.9V217H235.2ZM87.7 216.7H90.4V222.6H87.7ZM158 216.7H160.6V222.6H158ZM254 216.7H256.6V222.6H254ZM158 222.3H160.6V228.2H158ZM258.7 222.3H261.3V228.2H258.7ZM158 227.9H160.6V233.8H158ZM261 227.9H263.7V233.8H261ZM263.4 233.5H266V239.3H263.4ZM265.7 239H268.3V244.9H265.7ZM270.4 239H275.4V244.9H270.4ZM279.7 239H284.7V244.9H279.7ZM303.2 239H305.8V244.9H303.2ZM307.8 239H310.5V244.9H307.8ZM83 244.6H85.7V250.5H83ZM94.8 244.6H97.4V250.5H94.8ZM265.7 244.6H273V250.5H265.7ZM284.4 244.6H287.1V250.5H284.4ZM310.2 244.6H312.8V250.5H310.2ZM265.7 250.2H273V256H265.7ZM284.4 250.2H287.1V256H284.4ZM298.5 250.2H301.1V256H298.5ZM310.2 250.2H312.8V256H310.2ZM265.7 255.7H273V261.6H265.7ZM282.1 255.7H287.1V261.6H282.1ZM298.5 255.7H301.1V261.6H298.5ZM310.2 255.7H312.8V261.6H310.2ZM265.7 261.3H284.7V267.2H265.7ZM298.5 261.3H301.1V267.2H298.5ZM265.7 266.9H270.7V272.7H265.7ZM300.8 266.9H310.5V272.7H300.8ZM181.4 272.4H184V278.3H181.4ZM211.8 272.4H251.9V278.3H211.8ZM80.7 300.3H83.3V306.2H80.7ZM263.4 300.3H266V306.2H263.4ZM293.8 300.3H296.4V306.2H293.8ZM80.7 317H83.3V322.9H80.7ZM99.4 339.3H104.4V345.2H99.4ZM111.1 339.3H113.8V345.2H111.1Z"/>
<path fill="#ff8f00" d="M162.7 194.5H165.3V200.3H162.7ZM183.7 194.5H186.4V200.3H183.7ZM160.3 200H163V205.9H160.3ZM204.8 200H207.5V205.9H204.8ZM228.2 205.6H230.9V211.5H228.2ZM232.9 211.2H235.6V217H232.9ZM251.6 216.7H254.3V222.6H251.6ZM90.1 222.3H92.7V228.2H90.1ZM85.4 227.9H88V233.8H85.4ZM261 233.5H263.7V239.3H261ZM263.4 239H266V244.9H263.4ZM275.1 239H280V244.9H275.1ZM305.5 239H308.1V244.9H305.5ZM263.4 244.6H266V250.5H263.4ZM272.7 244.6H277.7V250.5H272.7ZM279.7 244.6H284.7V250.5H279.7ZM300.8 244.6H303.5V250.5H300.8ZM307.8 244.6H310.5V250.5H307.8ZM83 250.2H85.7V256H83ZM94.8 250.2H97.4V256H94.8ZM263.4 250.2H266V256H263.4ZM272.7 250.2H277.7V256H272.7ZM279.7 250.2H284.7V256H279.7ZM300.8 250.2H303.5V256H300.8ZM263.4 255.7H266V261.6H263.4ZM272.7 255.7H282.4V261.6H272.7ZM300.8 255.7H303.5V261.6H300.8ZM83 261.3H85.7V267.2H83ZM94.8 261.3H97.4V267.2H94.8ZM160.3 261.3H163V267.2H160.3ZM263.4 261.3H266V267.2H263.4ZM300.8 261.3H310.5V267.2H300.8ZM162.7 266.9H165.3V272.7H162.7ZM263.4 266.9H266V272.7H263.4ZM183.7 272.4H186.4V278.3H183.7ZM207.2 272.4H212.1V278.3H207.2ZM92.4 294.7H95V300.6H92.4ZM265.7 300.3H270.7V306.2H265.7ZM289.1 300.3H294.1V306.2H289.1ZM101.8 305.9H104.4V311.7H101.8ZM80.7 311.4H83.3V317.3H80.7ZM104.1 339.3H111.4V345.2H104.1Z"/>
<path fill="#ff8000" d="M172 194.5H174.7V200.3H172ZM186.1 194.5H191.1V200.3H186.1ZM197.8 194.5H200.4V200.3H197.8ZM179.1 200H181.7V205.9H179.1ZM202.5 200H205.1V205.9H202.5ZM211.8 205.6H228.5V211.5H211.8ZM239.9 216.7H251.9V222.6H239.9ZM256.3 222.3H259V228.2H256.3ZM258.7 227.9H261.3V233.8H258.7ZM92.4 233.5H95V239.3H92.4ZM261 239H263.7V244.9H261ZM261 244.6H263.7V250.5H261ZM277.4 244.6H280V250.5H277.4ZM303.2 244.6H308.1V250.5H303.2ZM277.4 250.2H280V256H277.4ZM303.2 250.2H305.8V256H303.2ZM307.8 250.2H310.5V256H307.8ZM83 255.7H85.7V261.6H83ZM94.8 255.7H97.4V261.6H94.8ZM303.2 255.7H310.5V261.6H303.2ZM204.8 272.4H207.5V278.3H204.8ZM85.4 278H88V283.9H85.4ZM92.4 278H95V283.9H92.4ZM85.4 294.7H88V300.6H85.4ZM270.4 300.3H289.4V306.2H270.4ZM80.7 305.9H83.3V311.7H80.7ZM106.5 311.4H109.1V317.3H106.5Z"/>
<path fill="#ff7000" d="M165 194.5H172.3V200.3H165ZM190.8 194.5H198.1V200.3H190.8ZM176.7 200H179.4V205.9H176.7ZM181.4 200H184V205.9H181.4ZM160.3 205.6H163V211.5H160.3ZM207.2 205.6H212.1V211.5H207.2ZM230.6 211.2H233.2V217H230.6ZM235.2 216.7H240.2V222.6H235.2ZM87.7 222.3H90.4V228.2H87.7ZM254 222.3H256.6V228.2H254ZM256.3 227.9H259V233.8H256.3ZM85.4 233.5H88V239.3H85.4ZM258.7 233.5H261.3V239.3H258.7ZM258.7 239H261.3V244.9H258.7ZM261 250.2H263.7V256H261ZM305.5 250.2H308.1V256H305.5ZM160.3 255.7H163V261.6H160.3ZM261 255.7H263.7V261.6H261ZM261 261.3H263.7V267.2H261ZM261 266.9H263.7V272.7H261ZM85.4 272.4H88V278.3H85.4ZM92.4 272.4H95V278.3H92.4ZM186.1 272.4H188.7V278.3H186.1ZM202.5 272.4H205.1V278.3H202.5ZM85.4 283.6H88V289.5H85.4ZM92.4 283.6H95V289.5H92.4ZM85.4 289.2H88V295H85.4ZM92.4 289.2H95V295H92.4ZM111.1 317H113.8V322.9H111.1ZM125.2 333.7H127.8V339.6H125.2Z"/>
<path fill="#ff6000" d="M162.7 200H165.3V205.9H162.7ZM174.4 200H177V205.9H174.4ZM183.7 200H186.4V205.9H183.7ZM200.1 200H202.8V205.9H200.1ZM204.8 205.6H207.5V211.5H204.8ZM160.3 211.2H163V217H160.3ZM228.2 211.2H230.9V217H228.2ZM232.9 216.7H235.6V222.6H232.9ZM249.3 222.3H254.3V228.2H249.3ZM160.3 244.6H163V250.5H160.3ZM258.7 244.6H261.3V250.5H258.7ZM160.3 250.2H163V256H160.3ZM258.7 250.2H261.3V256H258.7ZM258.7 266.9H261.3V272.7H258.7ZM188.4 272.4H191.1V278.3H188.4ZM200.1 272.4H202.8V278.3H200.1ZM115.8 322.6H118.5V328.4H115.8ZM120.5 328.1H123.1V334H120.5ZM83 333.7H85.7V339.6H83Z"/>
<path fill="#ff5000" d="M165 200H167.6V205.9H165ZM172 200H174.7V205.9H172ZM186.1 200H191.1V205.9H186.1ZM197.8 200H200.4V205.9H197.8ZM209.5 211.2H228.5V217H209.5ZM160.3 216.7H163V222.6H160.3ZM160.3 222.3H163V228.2H160.3ZM237.6 222.3H249.6V228.2H237.6ZM90.1 227.9H92.7V233.8H90.1ZM160.3 227.9H163V233.8H160.3ZM254 227.9H256.6V233.8H254ZM160.3 233.5H163V239.3H160.3ZM256.3 233.5H259V239.3H256.3ZM85.4 239H88V244.9H85.4ZM92.4 239H95V244.9H92.4ZM160.3 239H163V244.9H160.3ZM256.3 239H259V244.9H256.3ZM258.7 255.7H261.3V261.6H258.7ZM258.7 261.3H261.3V267.2H258.7ZM165 266.9H167.6V272.7H165ZM190.8 272.4H200.4V278.3H190.8ZM83 328.1H85.7V334H83Z"/>
<path fill="#ff4000" d="M167.3 200H172.3V205.9H167.3ZM190.8 200H198.1V205.9H190.8ZM162.7 205.6H165.3V211.5H162.7ZM176.7 205.6H184V211.5H176.7ZM202.5 205.6H205.1V211.5H202.5ZM207.2 211.2H209.8V217H207.2ZM228.2 216.7H233.2V222.6H228.2ZM235.2 222.3H237.9V228.2H235.2ZM87.7 227.9H90.4V233.8H87.7ZM249.3 227.9H254.3V233.8H249.3ZM254 233.5H256.6V239.3H254ZM256.3 244.6H259V250.5H256.3ZM256.3 250.2H259V256H256.3ZM162.7 261.3H165.3V267.2H162.7ZM85.4 266.9H88V272.7H85.4ZM256.3 266.9H259V272.7H256.3ZM90.1 294.7H92.7V300.6H90.1ZM83 322.6H85.7V328.4H83Z"/>
<path fill="#ff3000" d="M183.7 205.6H186.4V211.5H183.7ZM200.1 205.6H202.8V211.5H200.1ZM162.7 211.2H165.3V217H162.7ZM204.8 211.2H207.5V217H204.8ZM211.8 216.7H228.5V222.6H211.8ZM230.6 222.3H235.6V228.2H230.6ZM237.6 227.9H249.6V233.8H237.6ZM251.6 233.5H254.3V239.3H251.6ZM254 239H256.6V244.9H254ZM254 244.6H256.6V250.5H254ZM162.7 255.7H165.3V261.6H162.7ZM256.3 255.7H259V261.6H256.3ZM256.3 261.3H259V267.2H256.3ZM92.4 266.9H95V272.7H92.4ZM167.3 266.9H170V272.7H167.3ZM87.7 278H92.7V283.9H87.7ZM87.7 294.7H90.4V300.6H87.7ZM83 300.3H85.7V306.2H83ZM94.8 300.3H97.4V306.2H94.8ZM99.4 305.9H102.1V311.7H99.4ZM104.1 311.4H106.8V317.3H104.1ZM83 317H85.7V322.9H83ZM122.8 333.7H125.5V339.6H122.8Z"/>
<path fill="#ff2000" d="M165 205.6H167.6V211.5H165ZM174.4 205.6H177V211.5H174.4ZM186.1 205.6H191.1V211.5H186.1ZM197.8 205.6H200.4V211.5H197.8ZM179.1 211.2H181.7V217H179.1ZM207.2 216.7H212.1V222.6H207.2ZM218.9 222.3H230.9V228.2H218.9ZM232.9 227.9H237.9V233.8H232.9ZM239.9 233.5H251.9V239.3H239.9ZM249.3 239H254.3V244.9H249.3ZM85.4 244.6H88V250.5H85.4ZM162.7 244.6H165.3V250.5H162.7ZM162.7 250.2H165.3V256H162.7ZM254 250.2H256.6V256H254ZM254 255.7H256.6V261.6H254ZM254 266.9H256.6V272.7H254ZM87.7 272.4H92.7V278.3H87.7ZM108.8 317H111.4V322.9H108.8ZM113.5 322.6H116.1V328.4H113.5ZM118.2 328.1H120.8V334H118.2ZM85.4 333.7H88V339.6H85.4Z"/>
<path fill="#ff1000" d="M167.3 205.6H170V211.5H167.3ZM172 205.6H174.7V211.5H172ZM190.8 205.6H198.1V211.5H190.8ZM176.7 211.2H179.4V217H176.7ZM181.4 211.2H186.4V217H181.4ZM202.5 211.2H205.1V217H202.5ZM162.7 216.7H165.3V222.6H162.7ZM162.7 222.3H165.3V228.2H162.7ZM209.5 222.3H219.2V228.2H209.5ZM214.2 227.9H233.2V233.8H214.2ZM87.7 233.5H92.7V239.3H87.7ZM162.7 233.5H165.3V239.3H162.7ZM230.6 233.5H240.2V239.3H230.6ZM162.7 239H165.3V244.9H162.7ZM237.6 239H249.6V244.9H237.6ZM92.4 244.6H95V250.5H92.4ZM249.3 244.6H254.3V250.5H249.3ZM85.4 261.3H88V267.2H85.4ZM165 261.3H167.6V267.2H165ZM254 261.3H256.6V267.2H254ZM169.7 266.9H172.3V272.7H169.7ZM87.7 283.6H92.7V289.5H87.7ZM87.7 289.2H92.7V295H87.7ZM83 311.4H85.7V317.3H83ZM85.4 328.1H88V334H85.4ZM87.7 333.7H90.4V339.6H87.7ZM120.5 333.7H123.1V339.6H120.5Z"/>
<path fill="#ff0000" d="M169.7 205.6H172.3V211.5H169.7ZM165 211.2H167.6V217H165ZM186.1 211.2H188.7V217H186.1ZM200.1 211.2H202.8V217H200.1ZM179.1 216.7H184V222.6H179.1ZM204.8 216.7H207.5V222.6H204.8ZM207.2 222.3H209.8V228.2H207.2ZM162.7 227.9H165.3V233.8H162.7ZM209.5 227.9H214.5V233.8H209.5ZM211.8 233.5H230.9V239.3H211.8ZM214.2 239H237.9V244.9H214.2ZM239.9 244.6H249.6V250.5H239.9ZM85.4 250.2H88V256H85.4ZM251.6 250.2H254.3V256H251.6ZM85.4 255.7H88V261.6H85.4ZM165 255.7H167.6V261.6H165ZM251.6 255.7H254.3V261.6H251.6ZM251.6 261.3H254.3V267.2H251.6ZM172 266.9H174.7V272.7H172ZM251.6 266.9H254.3V272.7H251.6ZM83 305.9H85.7V311.7H83ZM101.8 311.4H104.4V317.3H101.8ZM90.1 333.7H92.7V339.6H90.1ZM115.8 333.7H120.8V339.6H115.8Z"/>
<path fill="#ef0000" d="M174.4 211.2H177V217H174.4ZM188.4 211.2H191.1V217H188.4ZM197.8 211.2H200.4V217H197.8ZM183.7 216.7H186.4V222.6H183.7ZM202.5 216.7H205.1V222.6H202.5ZM204.8 222.3H207.5V228.2H204.8ZM207.2 227.9H209.8V233.8H207.2ZM209.5 233.5H212.1V239.3H209.5ZM209.5 239H214.5V244.9H209.5ZM165 244.6H167.6V250.5H165ZM211.8 244.6H240.2V250.5H211.8ZM92.4 250.2H95V256H92.4ZM165 250.2H167.6V256H165ZM247 250.2H251.9V256H247ZM249.3 255.7H251.9V261.6H249.3ZM92.4 261.3H95V267.2H92.4ZM167.3 261.3H170V267.2H167.3ZM249.3 261.3H251.9V267.2H249.3ZM174.4 266.9H177V272.7H174.4ZM247 266.9H251.9V272.7H247ZM97.1 305.9H99.7V311.7H97.1ZM106.5 317H109.1V322.9H106.5ZM85.4 322.6H88V328.4H85.4ZM111.1 322.6H113.8V328.4H111.1ZM115.8 328.1H118.5V334H115.8ZM92.4 333.7H95V339.6H92.4ZM113.5 333.7H116.1V339.6H113.5Z"/>
<path fill="#df0000" d="M167.3 211.2H170V217H167.3ZM190.8 211.2H198.1V217H190.8ZM165 216.7H167.6V222.6H165ZM176.7 216.7H179.4V222.6H176.7ZM186.1 216.7H188.7V222.6H186.1ZM179.1 222.3H184V228.2H179.1ZM207.2 233.5H209.8V239.3H207.2ZM87.7 239H92.7V244.9H87.7ZM165 239H167.6V244.9H165ZM207.2 239H209.8V244.9H207.2ZM209.5 244.6H212.1V250.5H209.5ZM239.9 250.2H247.3V256H239.9ZM92.4 255.7H95V261.6H92.4ZM167.3 255.7H170V261.6H167.3ZM247 255.7H249.6V261.6H247ZM169.7 261.3H172.3V267.2H169.7ZM247 261.3H249.6V267.2H247ZM87.7 266.9H92.7V272.7H87.7ZM176.7 266.9H179.4V272.7H176.7ZM235.2 266.9H247.3V272.7H235.2ZM92.4 300.3H95V306.2H92.4ZM108.8 322.6H111.4V328.4H108.8ZM87.7 328.1H90.4V334H87.7ZM113.5 328.1H116.1V334H113.5ZM94.8 333.7H97.4V339.6H94.8ZM111.1 333.7H113.8V339.6H111.1Z"/>
<path fill="#cf0000" d="M169.7 211.2H174.7V217H169.7ZM188.4 216.7H191.1V222.6H188.4ZM200.1 216.7H202.8V222.6H200.1ZM165 222.3H167.6V228.2H165ZM176.7 222.3H179.4V228.2H176.7ZM183.7 222.3H186.4V228.2H183.7ZM202.5 222.3H205.1V228.2H202.5ZM165 227.9H167.6V233.8H165ZM179.1 227.9H184V233.8H179.1ZM204.8 227.9H207.5V233.8H204.8ZM165 233.5H167.6V239.3H165ZM179.1 233.5H184V239.3H179.1ZM179.1 239H184V244.9H179.1ZM179.1 244.6H181.7V250.5H179.1ZM207.2 244.6H209.8V250.5H207.2ZM167.3 250.2H170V256H167.3ZM211.8 250.2H240.2V256H211.8ZM169.7 255.7H172.3V261.6H169.7ZM232.9 255.7H247.3V261.6H232.9ZM172 261.3H177V267.2H172ZM235.2 261.3H247.3V267.2H235.2ZM179.1 266.9H181.7V272.7H179.1ZM209.5 266.9H235.6V272.7H209.5ZM85.4 300.3H88V306.2H85.4ZM99.4 311.4H102.1V317.3H99.4ZM85.4 317H88V322.9H85.4ZM104.1 317H106.8V322.9H104.1ZM90.1 328.1H92.7V334H90.1ZM111.1 328.1H113.8V334H111.1ZM97.1 333.7H99.7V339.6H97.1Z"/>
<path fill="#bf0000" d="M167.3 216.7H170V222.6H167.3ZM174.4 216.7H177V222.6H174.4ZM190.8 216.7H200.4V222.6H190.8ZM186.1 222.3H188.7V228.2H186.1ZM176.7 227.9H179.4V233.8H176.7ZM183.7 227.9H186.4V233.8H183.7ZM176.7 233.5H179.4V239.3H176.7ZM204.8 233.5H207.5V239.3H204.8ZM176.7 239H179.4V244.9H176.7ZM204.8 239H207.5V244.9H204.8ZM87.7 244.6H90.4V250.5H87.7ZM167.3 244.6H170V250.5H167.3ZM176.7 244.6H179.4V250.5H176.7ZM181.4 244.6H184V250.5H181.4ZM169.7 250.2H172.3V256H169.7ZM176.7 250.2H181.7V256H176.7ZM209.5 250.2H212.1V256H209.5ZM172 255.7H179.4V261.6H172ZM209.5 255.7H233.2V261.6H209.5ZM176.7 261.3H181.7V267.2H176.7ZM209.5 261.3H235.6V267.2H209.5ZM181.4 266.9H184V272.7H181.4ZM207.2 266.9H209.8V272.7H207.2ZM94.8 305.9H97.4V311.7H94.8ZM87.7 322.6H90.4V328.4H87.7ZM106.5 322.6H109.1V328.4H106.5ZM108.8 328.1H111.4V334H108.8ZM108.8 333.7H111.4V339.6H108.8Z"/>
<path fill="#af0000" d="M200.1 222.3H202.8V228.2H200.1ZM202.5 227.9H205.1V233.8H202.5ZM183.7 233.5H186.4V239.3H183.7ZM167.3 239H170V244.9H167.3ZM183.7 239H186.4V244.9H183.7ZM90.1 244.6H92.7V250.5H90.1ZM169.7 244.6H172.3V250.5H169.7ZM174.4 244.6H177V250.5H174.4ZM204.8 244.6H207.5V250.5H204.8ZM172 250.2H177V256H172ZM181.4 250.2H184V256H181.4ZM207.2 250.2H209.8V256H207.2ZM179.1 255.7H181.7V261.6H179.1ZM207.2 255.7H209.8V261.6H207.2ZM87.7 261.3H90.4V267.2H87.7ZM181.4 261.3H184V267.2H181.4ZM207.2 261.3H209.8V267.2H207.2ZM183.7 266.9H186.4V272.7H183.7ZM204.8 266.9H207.5V272.7H204.8ZM85.4 305.9H88V311.7H85.4ZM85.4 311.4H88V317.3H85.4ZM97.1 311.4H99.7V317.3H97.1ZM101.8 317H104.4V322.9H101.8ZM92.4 328.1H95V334H92.4ZM99.4 333.7H104.4V339.6H99.4ZM106.5 333.7H109.1V339.6H106.5Z"/>
<path fill="#9f0000" d="M169.7 216.7H174.7V222.6H169.7ZM167.3 222.3H170V228.2H167.3ZM174.4 222.3H177V228.2H174.4ZM188.4 222.3H191.1V228.2H188.4ZM197.8 222.3H200.4V228.2H197.8ZM186.1 227.9H188.7V233.8H186.1ZM167.3 233.5H170V239.3H167.3ZM202.5 233.5H205.1V239.3H202.5ZM174.4 239H177V244.9H174.4ZM202.5 239H205.1V244.9H202.5ZM172 244.6H174.7V250.5H172ZM183.7 244.6H186.4V250.5H183.7ZM181.4 255.7H184V261.6H181.4ZM90.1 261.3H92.7V267.2H90.1ZM87.7 300.3H92.7V306.2H87.7ZM92.4 305.9H95V311.7H92.4ZM104.1 322.6H106.8V328.4H104.1ZM106.5 328.1H109.1V334H106.5ZM104.1 333.7H106.8V339.6H104.1Z"/>
<path fill="#8f0000" d="M190.8 222.3H198.1V228.2H190.8ZM167.3 227.9H170V233.8H167.3ZM174.4 227.9H177V233.8H174.4ZM188.4 227.9H191.1V233.8H188.4ZM200.1 227.9H202.8V233.8H200.1ZM174.4 233.5H177V239.3H174.4ZM186.1 233.5H188.7V239.3H186.1ZM169.7 239H174.7V244.9H169.7ZM186.1 239H188.7V244.9H186.1ZM202.5 244.6H205.1V250.5H202.5ZM87.7 250.2H92.7V256H87.7ZM183.7 250.2H186.4V256H183.7ZM204.8 250.2H207.5V256H204.8ZM87.7 255.7H90.4V261.6H87.7ZM204.8 255.7H207.5V261.6H204.8ZM183.7 261.3H186.4V267.2H183.7ZM204.8 261.3H207.5V267.2H204.8ZM186.1 266.9H188.7V272.7H186.1ZM202.5 266.9H205.1V272.7H202.5ZM94.8 311.4H97.4V317.3H94.8ZM87.7 317H90.4V322.9H87.7ZM99.4 317H102.1V322.9H99.4ZM90.1 322.6H92.7V328.4H90.1ZM94.8 328.1H97.4V334H94.8Z"/>
<path fill="#800000" d="M169.7 222.3H174.7V228.2H169.7ZM169.7 227.9H174.7V233.8H169.7ZM190.8 227.9H200.4V233.8H190.8ZM169.7 233.5H174.7V239.3H169.7ZM188.4 233.5H202.8V239.3H188.4ZM188.4 239H202.8V244.9H188.4ZM186.1 244.6H202.8V250.5H186.1ZM186.1 250.2H205.1V256H186.1ZM90.1 255.7H92.7V261.6H90.1ZM183.7 255.7H205.1V261.6H183.7ZM186.1 261.3H205.1V267.2H186.1ZM188.4 266.9H202.8V272.7H188.4ZM87.7 305.9H92.7V311.7H87.7ZM87.7 311.4H95V317.3H87.7ZM90.1 317H99.7V322.9H90.1ZM92.4 322.6H104.4V328.4H92.4ZM97.1 328.1H106.8V334H97.1Z"/>
</g></g>
<path d="M52.6 83.7H333.6V361.2H52.6ZM82 361.2v-3 M82 83.7v3M111.6 361.2v-3 M111.6 83.7v3M141.1 361.2v-3 M141.1 83.7v3M170.7 361.2v-3 M170.7 83.7v3M200.2 361.2v-3 M200.2 83.7v3M229.8 361.2v-3 M229.8 83.7v3M259.4 361.2v-3 M259.4 83.7v3M288.9 361.2v-3 M288.9 83.7v3M318.5 361.2v-3 M318.5 83.7v3M52.6 85.8h3 M333.6 85.8h-3M52.6 113.7h3 M333.6 113.7h-3M52.6 141.6h3 M333.6 141.6h-3M52.6 169.4h3 M333.6 169.4h-3M52.6 197.2h3 M333.6 197.2h-3M52.6 225.1h3 M333.6 225.1h-3M52.6 253h3 M333.6 253h-3M52.6 280.8h3 M333.6 280.8h-3M52.6 308.6h3 M333.6 308.6h-3M52.6 336.5h3 M333.6 336.5h-3" fill="none" stroke="#000" stroke-width="1"/>
<path d="M52.6 361.2V83.7H333.6" fill="none" stroke="#6a6a6a" stroke-width="1.4"/>
<text x="82" y="375.2" font-size="10.5" text-anchor="middle">0</text>
<text x="111.6" y="375.2" font-size="10.5" text-anchor="middle">0.2</text>
<text x="141.1" y="375.2" font-size="10.5" text-anchor="middle">0.4</text>
<text x="170.7" y="375.2" font-size="10.5" text-anchor="middle">0.6</text>
<text x="200.2" y="375.2" font-size="10.5" text-anchor="middle">0.8</text>
<text x="229.8" y="375.2" font-size="10.5" text-anchor="middle">1</text>
<text x="259.4" y="375.2" font-size="10.5" text-anchor="middle">1.2</text>
<text x="288.9" y="375.2" font-size="10.5" text-anchor="middle">1.4</text>
<text x="318.5" y="375.2" font-size="10.5" text-anchor="middle">1.6</text>
<text x="49.4" y="91.4" font-size="10.5" text-anchor="end">50</text>
<text x="49.4" y="119.3" font-size="10.5" text-anchor="end">45</text>
<text x="49.4" y="147.2" font-size="10.5" text-anchor="end">40</text>
<text x="49.4" y="175" font-size="10.5" text-anchor="end">35</text>
<text x="49.4" y="202.8" font-size="10.5" text-anchor="end">30</text>
<text x="49.4" y="230.7" font-size="10.5" text-anchor="end">25</text>
<text x="49.4" y="258.6" font-size="10.5" text-anchor="end">20</text>
<text x="49.4" y="286.4" font-size="10.5" text-anchor="end">15</text>
<text x="49.4" y="314.2" font-size="10.5" text-anchor="end">10</text>
<text x="49.4" y="342.1" font-size="10.5" text-anchor="end">5</text>
<rect x="348.1" y="83.5" width="17.5" height="4.7" fill="#800000"/>
<rect x="348.1" y="87.8" width="17.5" height="4.7" fill="#8f0000"/>
<rect x="348.1" y="92.2" width="17.5" height="4.7" fill="#9f0000"/>
<rect x="348.1" y="96.5" width="17.5" height="4.7" fill="#af0000"/>
<rect x="348.1" y="100.9" width="17.5" height="4.7" fill="#bf0000"/>
<rect x="348.1" y="105.2" width="17.5" height="4.7" fill="#cf0000"/>
<rect x="348.1" y="109.6" width="17.5" height="4.7" fill="#df0000"/>
<rect x="348.1" y="113.9" width="17.5" height="4.7" fill="#ef0000"/>
<rect x="348.1" y="118.3" width="17.5" height="4.7" fill="#ff0000"/>
<rect x="348.1" y="122.6" width="17.5" height="4.7" fill="#ff1000"/>
<rect x="348.1" y="127" width="17.5" height="4.7" fill="#ff2000"/>
<rect x="348.1" y="131.3" width="17.5" height="4.7" fill="#ff3000"/>
<rect x="348.1" y="135.6" width="17.5" height="4.7" fill="#ff4000"/>
<rect x="348.1" y="140" width="17.5" height="4.7" fill="#ff5000"/>
<rect x="348.1" y="144.3" width="17.5" height="4.7" fill="#ff6000"/>
<rect x="348.1" y="148.7" width="17.5" height="4.7" fill="#ff7000"/>
<rect x="348.1" y="153" width="17.5" height="4.7" fill="#ff8000"/>
<rect x="348.1" y="157.4" width="17.5" height="4.7" fill="#ff8f00"/>
<rect x="348.1" y="161.7" width="17.5" height="4.7" fill="#ff9f00"/>
<rect x="348.1" y="166.1" width="17.5" height="4.7" fill="#ffaf00"/>
<rect x="348.1" y="170.4" width="17.5" height="4.7" fill="#ffbf00"/>
<rect x="348.1" y="174.8" width="17.5" height="4.7" fill="#ffcf00"/>
<rect x="348.1" y="179.1" width="17.5" height="4.7" fill="#ffdf00"/>
<rect x="348.1" y="183.4" width="17.5" height="4.7" fill="#ffef00"/>
<rect x="348.1" y="187.8" width="17.5" height="4.7" fill="#ffff00"/>
<rect x="348.1" y="192.1" width="17.5" height="4.7" fill="#efff10"/>
<rect x="348.1" y="196.5" width="17.5" height="4.7" fill="#dfff20"/>
<rect x="348.1" y="200.8" width="17.5" height="4.7" fill="#cfff30"/>
<rect x="348.1" y="205.2" width="17.5" height="4.7" fill="#bfff40"/>
<rect x="348.1" y="209.5" width="17.5" height="4.7" fill="#afff50"/>
<rect x="348.1" y="213.9" width="17.5" height="4.7" fill="#9fff60"/>
<rect x="348.1" y="218.2" width="17.5" height="4.7" fill="#8fff70"/>
<rect x="348.1" y="222.6" width="17.5" height="4.7" fill="#80ff80"/>
<rect x="348.1" y="226.9" width="17.5" height="4.7" fill="#70ff8f"/>
<rect x="348.1" y="231.2" width="17.5" height="4.7" fill="#60ff9f"/>
<rect x="348.1" y="235.6" width="17.5" height="4.7" fill="#50ffaf"/>
<rect x="348.1" y="239.9" width="17.5" height="4.7" fill="#40ffbf"/>
<rect x="348.1" y="244.3" width="17.5" height="4.7" fill="#30ffcf"/>
<rect x="348.1" y="248.6" width="17.5" height="4.7" fill="#20ffdf"/>
<rect x="348.1" y="253" width="17.5" height="4.7" fill="#10ffef"/>
<rect x="348.1" y="257.3" width="17.5" height="4.7" fill="#00ffff"/>
<rect x="348.1" y="261.7" width="17.5" height="4.7" fill="#00efff"/>
<rect x="348.1" y="266" width="17.5" height="4.7" fill="#00dfff"/>
<rect x="348.1" y="270.3" width="17.5" height="4.7" fill="#00cfff"/>
<rect x="348.1" y="274.7" width="17.5" height="4.7" fill="#00bfff"/>
<rect x="348.1" y="279" width="17.5" height="4.7" fill="#00afff"/>
<rect x="348.1" y="283.4" width="17.5" height="4.7" fill="#009fff"/>
<rect x="348.1" y="287.7" width="17.5" height="4.7" fill="#008fff"/>
<rect x="348.1" y="292.1" width="17.5" height="4.7" fill="#0080ff"/>
<rect x="348.1" y="296.4" width="17.5" height="4.7" fill="#0070ff"/>
<rect x="348.1" y="300.8" width="17.5" height="4.7" fill="#0060ff"/>
<rect x="348.1" y="305.1" width="17.5" height="4.7" fill="#0050ff"/>
<rect x="348.1" y="309.5" width="17.5" height="4.7" fill="#0040ff"/>
<rect x="348.1" y="313.8" width="17.5" height="4.7" fill="#0030ff"/>
<rect x="348.1" y="318.1" width="17.5" height="4.7" fill="#0020ff"/>
<rect x="348.1" y="322.5" width="17.5" height="4.7" fill="#0010ff"/>
<rect x="348.1" y="326.8" width="17.5" height="4.7" fill="#0000ff"/>
<rect x="348.1" y="331.2" width="17.5" height="4.7" fill="#0000ef"/>
<rect x="348.1" y="335.5" width="17.5" height="4.7" fill="#0000df"/>
<rect x="348.1" y="339.9" width="17.5" height="4.7" fill="#0000cf"/>
<rect x="348.1" y="344.2" width="17.5" height="4.7" fill="#0000bf"/>
<rect x="348.1" y="348.6" width="17.5" height="4.7" fill="#0000af"/>
<rect x="348.1" y="352.9" width="17.5" height="4.7" fill="#00009f"/>
<rect x="348.1" y="357.3" width="17.5" height="4.7" fill="#00008f"/>
<rect x="348.1" y="83.5" width="17.5" height="278.1" fill="none" stroke="#000" stroke-width="0.8"/>
<text x="368.5" y="89.1" font-size="10">1</text>
<text x="368.5" y="116.9" font-size="10">0.8</text>
<text x="368.5" y="144.7" font-size="10">0.6</text>
<text x="368.5" y="172.5" font-size="10">0.4</text>
<text x="368.5" y="200.3" font-size="10">0.2</text>
<text x="368.5" y="228.2" font-size="10">0</text>
<text x="368.5" y="256" font-size="10">-0.2</text>
<text x="368.5" y="283.8" font-size="10">-0.4</text>
<text x="368.5" y="311.6" font-size="10">-0.6</text>
<text x="368.5" y="339.4" font-size="10">-0.8</text>
<text x="368.5" y="367.2" font-size="10">-1</text>
<path d="M365.6 111.3h-3M348.1 111.3h3M365.6 139.1h-3M348.1 139.1h3M365.6 166.9h-3M348.1 166.9h3M365.6 194.7h-3M348.1 194.7h3M365.6 222.6h-3M348.1 222.6h3M365.6 250.4h-3M348.1 250.4h3M365.6 278.2h-3M348.1 278.2h3M365.6 306h-3M348.1 306h3M365.6 333.8h-3M348.1 333.8h3" stroke="#000" stroke-width="0.8" fill="none"/>
<text x="387.5" y="183" font-size="18.5" transform="rotate(90 387.5 183)" textLength="119" lengthAdjust="spacingAndGlyphs">Source Power</text>
<text x="20" y="70" font-size="18">A</text>
<text x="198" y="70" font-size="18" text-anchor="middle">Control</text>
<text x="151" y="393.6" font-size="18" textLength="87" lengthAdjust="spacingAndGlyphs">Time (sec)</text>
<text x="23" y="301.5" font-size="18.5" transform="rotate(-90 23 301.5)" textLength="130" lengthAdjust="spacingAndGlyphs">Frequency (Hz)</text>
<clipPath id="cpB"><rect x="465.3" y="80.8" width="286.2" height="282"/></clipPath>
<g clip-path="url(#cpB)"><g filter="url(#bl)">
<path fill="#00008f" d="M459.3 210.6H468V216.5H459.3ZM459.3 216.2H468V222.2H459.3ZM459.3 221.9H468V227.8H459.3ZM459.3 227.5H468V233.5H459.3ZM459.3 233.2H468V239.1H459.3ZM459.3 238.8H468V244.7H459.3ZM459.3 244.4H468V250.4H459.3ZM459.3 250.1H468V256H459.3ZM749.1 250.1H757.8V256H749.1ZM459.3 255.7H468V261.7H459.3ZM749.1 255.7H757.8V261.7H749.1ZM459.3 261.4H468V267.3H459.3ZM749.1 261.4H757.8V267.3H749.1ZM459.3 267H468V272.9H459.3ZM749.1 267H757.8V272.9H749.1ZM459.3 272.6H468V278.6H459.3ZM749.1 272.6H757.8V278.6H749.1ZM459.3 278.3H468V284.2H459.3ZM749.1 278.3H757.8V284.2H749.1ZM459.3 283.9H468V289.9H459.3ZM749.1 283.9H757.8V289.9H749.1ZM459.3 289.6H468V295.5H459.3ZM749.1 289.6H757.8V295.5H749.1ZM459.3 295.2H468V301.1H459.3ZM749.1 295.2H757.8V301.1H749.1ZM459.3 300.8H472.8V306.8H459.3ZM746.7 300.8H757.8V306.8H746.7ZM459.3 306.5H475.1V312.4H459.3ZM744.3 306.5H757.8V312.4H744.3ZM459.3 312.1H475.1V318.1H459.3ZM546.4 312.1H594.4V318.1H546.4ZM744.3 312.1H757.8V318.1H744.3ZM459.3 317.8H470.4V323.7H459.3ZM744.3 317.8H757.8V323.7H744.3ZM459.3 323.4H468V329.3H459.3ZM746.7 323.4H757.8V329.3H746.7ZM749.1 329H757.8V335H749.1Z"/>
<path fill="#00009f" d="M459.3 205H468V210.9H459.3ZM544 312.1H546.7V318.1H544ZM594.1 312.1H601.5V318.1H594.1ZM470.1 317.8H472.8V323.7H470.1ZM553.5 317.8H584.8V323.7H553.5Z"/>
<path fill="#0000af" d="M459.3 199.3H468V205.3H459.3ZM746.7 295.2H749.4V301.1H746.7ZM541.6 312.1H544.3V318.1H541.6ZM601.2 312.1H603.9V318.1H601.2ZM546.4 317.8H553.8V323.7H546.4ZM584.5 317.8H596.8V323.7H584.5Z"/>
<path fill="#0000bf" d="M749.1 244.4H757.8V250.4H749.1ZM744.3 300.8H747V306.8H744.3ZM603.6 312.1H606.3V318.1H603.6ZM742 312.1H744.6V318.1H742ZM544 317.8H546.7V323.7H544ZM596.5 317.8H601.5V323.7H596.5ZM459.3 329H468V335H459.3Z"/>
<path fill="#0000cf" d="M749.1 238.8H757.8V244.7H749.1ZM551.2 306.5H580.1V312.4H551.2ZM539.2 312.1H541.9V318.1H539.2ZM606 312.1H608.7V318.1H606ZM541.6 317.8H544.3V323.7H541.6ZM601.2 317.8H606.3V323.7H601.2Z"/>
<path fill="#0000df" d="M749.1 205H757.8V210.9H749.1ZM749.1 210.6H757.8V216.5H749.1ZM749.1 216.2H757.8V222.2H749.1ZM749.1 221.9H757.8V227.8H749.1ZM749.1 227.5H757.8V233.5H749.1ZM749.1 233.2H757.8V239.1H749.1ZM467.7 295.2H470.4V301.1H467.7ZM546.4 306.5H551.5V312.4H546.4ZM579.8 306.5H587.2V312.4H579.8ZM608.4 312.1H611.1V318.1H608.4ZM606 317.8H608.7V323.7H606Z"/>
<path fill="#0000ef" d="M749.1 193.7H757.8V199.6H749.1ZM749.1 199.3H757.8V205.3H749.1ZM532.1 250.1H537.1V256H532.1ZM532.1 255.7H541.9V261.7H532.1ZM539.2 261.4H541.9V267.3H539.2ZM544 306.5H546.7V312.4H544ZM586.9 306.5H589.6V312.4H586.9ZM539.2 317.8H541.9V323.7H539.2ZM608.4 317.8H611.1V323.7H608.4ZM467.7 323.4H470.4V329.3H467.7Z"/>
<path fill="#0000ff" d="M749.1 188H757.8V194H749.1ZM459.3 193.7H468V199.6H459.3ZM529.7 250.1H532.4V256H529.7ZM536.9 250.1H539.5V256H536.9ZM529.7 255.7H532.4V261.7H529.7ZM541.6 255.7H546.7V261.7H541.6ZM534.5 261.4H539.5V267.3H534.5ZM541.6 261.4H551.5V267.3H541.6ZM541.6 267H558.6V272.9H541.6ZM555.9 272.6H561V278.6H555.9ZM541.6 306.5H544.3V312.4H541.6ZM589.3 306.5H594.4V312.4H589.3ZM536.9 312.1H539.5V318.1H536.9ZM610.8 312.1H613.5V318.1H610.8ZM610.8 317.8H613.5V323.7H610.8ZM742 317.8H744.6V323.7H742ZM749.1 334.7H757.8V340.6H749.1Z"/>
<path fill="#0010ff" d="M539.2 250.1H544.3V256H539.2ZM546.4 255.7H551.5V261.7H546.4ZM532.1 261.4H534.8V267.3H532.1ZM551.2 261.4H553.8V267.3H551.2ZM536.9 267H541.9V272.9H536.9ZM746.7 267H749.4V272.9H746.7ZM551.2 272.6H556.2V278.6H551.2ZM560.7 272.6H563.4V278.6H560.7ZM746.7 272.6H749.4V278.6H746.7ZM472.5 300.8H475.1V306.8H472.5ZM474.8 306.5H477.5V312.4H474.8ZM539.2 306.5H541.9V312.4H539.2ZM594.1 306.5H599.2V312.4H594.1ZM742 306.5H744.6V312.4H742ZM474.8 312.1H477.5V318.1H474.8ZM472.5 317.8H475.1V323.7H472.5ZM744.3 323.4H747V329.3H744.3Z"/>
<path fill="#0020ff" d="M527.3 250.1H530V256H527.3ZM544 250.1H546.7V256H544ZM527.3 255.7H530V261.7H527.3ZM553.5 261.4H556.2V267.3H553.5ZM534.5 267H537.1V272.9H534.5ZM558.3 267H561V272.9H558.3ZM548.8 272.6H551.5V278.6H548.8ZM563.1 272.6H565.8V278.6H563.1ZM558.3 278.3H565.8V284.2H558.3ZM598.9 306.5H601.5V312.4H598.9ZM613.2 312.1H615.9V318.1H613.2ZM536.9 317.8H539.5V323.7H536.9ZM613.2 317.8H615.9V323.7H613.2Z"/>
<path fill="#0030ff" d="M532.1 244.4H534.8V250.4H532.1ZM546.4 250.1H549.1V256H546.4ZM551.2 255.7H553.8V261.7H551.2ZM529.7 261.4H532.4V267.3H529.7ZM555.9 261.4H558.6V267.3H555.9ZM560.7 267H563.4V272.9H560.7ZM544 272.6H549.1V278.6H544ZM555.9 278.3H558.6V284.2H555.9ZM565.5 278.3H568.2V284.2H565.5ZM746.7 289.6H749.4V295.5H746.7ZM601.2 306.5H606.3V312.4H601.2ZM746.7 329H749.4V335H746.7Z"/>
<path fill="#0040ff" d="M749.1 182.4H757.8V188.3H749.1ZM529.7 244.4H532.4V250.4H529.7ZM534.5 244.4H537.1V250.4H534.5ZM524.9 250.1H527.6V256H524.9ZM746.7 261.4H749.4V267.3H746.7ZM532.1 267H534.8V272.9H532.1ZM541.6 272.6H544.3V278.6H541.6ZM565.5 272.6H568.2V278.6H565.5ZM553.5 278.3H556.2V284.2H553.5ZM567.9 278.3H570.5V284.2H567.9ZM746.7 278.3H749.4V284.2H746.7ZM560.7 283.9H570.5V289.9H560.7ZM744.3 295.2H747V301.1H744.3ZM536.9 306.5H539.5V312.4H536.9ZM606 306.5H608.7V312.4H606ZM534.5 312.1H537.1V318.1H534.5ZM615.6 312.1H618.2V318.1H615.6ZM615.6 317.8H618.2V323.7H615.6Z"/>
<path fill="#0050ff" d="M527.3 244.4H530V250.4H527.3ZM536.9 244.4H539.5V250.4H536.9ZM548.8 250.1H551.5V256H548.8ZM524.9 255.7H527.6V261.7H524.9ZM553.5 255.7H556.2V261.7H553.5ZM527.3 261.4H530V267.3H527.3ZM539.2 272.6H541.9V278.6H539.2ZM558.3 283.9H561V289.9H558.3ZM570.2 283.9H572.9V289.9H570.2ZM617.9 317.8H620.6V323.7H617.9Z"/>
<path fill="#0060ff" d="M539.2 244.4H541.9V250.4H539.2ZM522.5 250.1H525.2V256H522.5ZM558.3 261.4H561V267.3H558.3ZM529.7 267H532.4V272.9H529.7ZM563.1 267H565.8V272.9H563.1ZM536.9 272.6H539.5V278.6H536.9ZM567.9 272.6H570.5V278.6H567.9ZM551.2 278.3H553.8V284.2H551.2ZM570.2 278.3H572.9V284.2H570.2ZM555.9 283.9H558.6V289.9H555.9ZM572.6 283.9H575.3V289.9H572.6ZM746.7 283.9H749.4V289.9H746.7ZM608.4 306.5H611.1V312.4H608.4ZM617.9 312.1H620.6V318.1H617.9ZM739.6 312.1H742.3V318.1H739.6ZM534.5 317.8H537.1V323.7H534.5ZM742 323.4H744.6V329.3H742Z"/>
<path fill="#0070ff" d="M524.9 244.4H527.6V250.4H524.9ZM541.6 244.4H544.3V250.4H541.6ZM551.2 250.1H553.8V256H551.2ZM555.9 255.7H558.6V261.7H555.9ZM534.5 272.6H537.1V278.6H534.5ZM548.8 278.3H551.5V284.2H548.8ZM553.5 283.9H556.2V289.9H553.5ZM467.7 289.6H470.4V295.5H467.7ZM563.1 289.6H572.9V295.5H563.1ZM742 300.8H744.6V306.8H742ZM534.5 306.5H537.1V312.4H534.5ZM610.8 306.5H613.5V312.4H610.8ZM620.3 317.8H623V323.7H620.3ZM739.6 317.8H742.3V323.7H739.6ZM551.2 323.4H603.9V329.3H551.2Z"/>
<path fill="#0080ff" d="M544 244.4H546.7V250.4H544ZM522.5 255.7H525.2V261.7H522.5ZM524.9 261.4H527.6V267.3H524.9ZM560.7 261.4H563.4V267.3H560.7ZM527.3 267H530V272.9H527.3ZM565.5 267H568.2V272.9H565.5ZM544 278.3H549.1V284.2H544ZM572.6 278.3H575.3V284.2H572.6ZM575 283.9H577.7V289.9H575ZM560.7 289.6H563.4V295.5H560.7ZM572.6 289.6H575.3V295.5H572.6ZM470.1 295.2H472.8V301.1H470.1ZM474.8 300.8H477.5V306.8H474.8ZM620.3 312.1H623V318.1H620.3ZM474.8 317.8H477.5V323.7H474.8ZM622.7 317.8H625.4V323.7H622.7ZM546.4 323.4H551.5V329.3H546.4ZM603.6 323.4H608.7V329.3H603.6ZM744.3 329H747V335H744.3ZM459.3 334.7H468V340.6H459.3Z"/>
<path fill="#008fff" d="M459.3 188H468V194H459.3ZM522.5 244.4H525.2V250.4H522.5ZM520.2 250.1H522.8V256H520.2ZM553.5 250.1H556.2V256H553.5ZM746.7 255.7H749.4V261.7H746.7ZM532.1 272.6H534.8V278.6H532.1ZM570.2 272.6H572.9V278.6H570.2ZM541.6 278.3H544.3V284.2H541.6ZM551.2 283.9H553.8V289.9H551.2ZM558.3 289.6H561V295.5H558.3ZM575 289.6H577.7V295.5H575ZM477.2 306.5H479.9V312.4H477.2ZM613.2 306.5H615.9V312.4H613.2ZM477.2 312.1H479.9V318.1H477.2ZM532.1 312.1H534.8V318.1H532.1ZM470.1 323.4H472.8V329.3H470.1ZM544 323.4H546.7V329.3H544ZM608.4 323.4H613.5V329.3H608.4Z"/>
<path fill="#009fff" d="M529.7 238.8H537.1V244.7H529.7ZM546.4 244.4H549.1V250.4H546.4ZM558.3 255.7H561V261.7H558.3ZM539.2 278.3H541.9V284.2H539.2ZM467.7 283.9H470.4V289.9H467.7ZM548.8 283.9H551.5V289.9H548.8ZM577.4 283.9H580.1V289.9H577.4ZM555.9 289.6H558.6V295.5H555.9ZM577.4 289.6H580.1V295.5H577.4ZM744.3 289.6H747V295.5H744.3ZM558.3 300.8H577.7V306.8H558.3ZM622.7 312.1H625.4V318.1H622.7ZM625.1 317.8H627.8V323.7H625.1ZM541.6 323.4H544.3V329.3H541.6ZM613.2 323.4H618.2V329.3H613.2ZM467.7 329H470.4V335H467.7ZM746.7 334.7H749.4V340.6H746.7ZM749.1 340.3H757.8V346.3H749.1Z"/>
<path fill="#00afff" d="M467.7 205H470.4V210.9H467.7ZM467.7 210.6H470.4V216.5H467.7ZM467.7 216.2H470.4V222.2H467.7ZM467.7 221.9H470.4V227.8H467.7ZM467.7 227.5H470.4V233.5H467.7ZM467.7 233.2H470.4V239.1H467.7ZM467.7 238.8H470.4V244.7H467.7ZM527.3 238.8H530V244.7H527.3ZM536.9 238.8H539.5V244.7H536.9ZM467.7 244.4H470.4V250.4H467.7ZM520.2 244.4H522.8V250.4H520.2ZM548.8 244.4H551.5V250.4H548.8ZM467.7 250.1H470.4V256H467.7ZM555.9 250.1H558.6V256H555.9ZM467.7 255.7H470.4V261.7H467.7ZM520.2 255.7H522.8V261.7H520.2ZM467.7 261.4H470.4V267.3H467.7ZM522.5 261.4H525.2V267.3H522.5ZM563.1 261.4H565.8V267.3H563.1ZM467.7 267H470.4V272.9H467.7ZM524.9 267H527.6V272.9H524.9ZM567.9 267H570.5V272.9H567.9ZM744.3 267H747V272.9H744.3ZM467.7 272.6H470.4V278.6H467.7ZM529.7 272.6H532.4V278.6H529.7ZM744.3 272.6H747V278.6H744.3ZM467.7 278.3H470.4V284.2H467.7ZM536.9 278.3H539.5V284.2H536.9ZM575 278.3H577.7V284.2H575ZM544 283.9H549.1V289.9H544ZM579.8 283.9H582.5V289.9H579.8ZM553.5 289.6H556.2V295.5H553.5ZM579.8 289.6H582.5V295.5H579.8ZM563.1 295.2H575.3V301.1H563.1ZM742 295.2H744.6V301.1H742ZM548.8 300.8H558.6V306.8H548.8ZM577.4 300.8H582.5V306.8H577.4ZM532.1 306.5H534.8V312.4H532.1ZM615.6 306.5H618.2V312.4H615.6ZM739.6 306.5H742.3V312.4H739.6ZM532.1 317.8H534.8V323.7H532.1ZM627.5 317.8H630.2V323.7H627.5ZM539.2 323.4H541.9V329.3H539.2ZM617.9 323.4H620.6V329.3H617.9ZM739.6 323.4H742.3V329.3H739.6ZM742 329H744.6V335H742Z"/>
<path fill="#00bfff" d="M749.1 176.8H757.8V182.7H749.1ZM467.7 199.3H470.4V205.3H467.7ZM524.9 238.8H527.6V244.7H524.9ZM539.2 238.8H541.9V244.7H539.2ZM746.7 250.1H749.4V256H746.7ZM560.7 255.7H563.4V261.7H560.7ZM572.6 272.6H575.3V278.6H572.6ZM534.5 278.3H537.1V284.2H534.5ZM744.3 278.3H747V284.2H744.3ZM541.6 283.9H544.3V289.9H541.6ZM744.3 283.9H747V289.9H744.3ZM548.8 289.6H553.8V295.5H548.8ZM558.3 295.2H563.4V301.1H558.3ZM575 295.2H580.1V301.1H575ZM541.6 300.8H549.1V306.8H541.6ZM582.2 300.8H584.8V306.8H582.2ZM625.1 312.1H627.8V318.1H625.1ZM737.2 312.1H739.9V318.1H737.2ZM629.9 317.8H632.5V323.7H629.9ZM737.2 317.8H739.9V323.7H737.2ZM620.3 323.4H625.4V329.3H620.3ZM744.3 334.7H747V340.6H744.3Z"/>
<path fill="#00cfff" d="M551.2 244.4H553.8V250.4H551.2ZM517.8 250.1H520.5V256H517.8ZM527.3 272.6H530V278.6H527.3ZM577.4 278.3H580.1V284.2H577.4ZM539.2 283.9H541.9V289.9H539.2ZM582.2 283.9H584.8V289.9H582.2ZM546.4 289.6H549.1V295.5H546.4ZM582.2 289.6H584.8V295.5H582.2ZM472.5 295.2H475.1V301.1H472.5ZM553.5 295.2H558.6V301.1H553.5ZM579.8 295.2H582.5V301.1H579.8ZM539.2 300.8H541.9V306.8H539.2ZM584.5 300.8H587.2V306.8H584.5ZM632.2 317.8H637.3V323.7H632.2ZM472.5 323.4H475.1V329.3H472.5ZM536.9 323.4H539.5V329.3H536.9ZM625.1 323.4H630.2V329.3H625.1ZM737.2 323.4H739.9V329.3H737.2ZM739.6 329H742.3V335H739.6ZM742 334.7H744.6V340.6H742ZM746.7 340.3H749.4V346.3H746.7Z"/>
<path fill="#00dfff" d="M467.7 193.7H470.4V199.6H467.7ZM522.5 238.8H525.2V244.7H522.5ZM541.6 238.8H544.3V244.7H541.6ZM517.8 244.4H520.5V250.4H517.8ZM558.3 250.1H561V256H558.3ZM517.8 255.7H520.5V261.7H517.8ZM520.2 261.4H522.8V267.3H520.2ZM565.5 261.4H568.2V267.3H565.5ZM744.3 261.4H747V267.3H744.3ZM522.5 267H525.2V272.9H522.5ZM570.2 267H572.9V272.9H570.2ZM575 272.6H577.7V278.6H575ZM532.1 278.3H534.8V284.2H532.1ZM536.9 283.9H539.5V289.9H536.9ZM541.6 289.6H546.7V295.5H541.6ZM584.5 289.6H587.2V295.5H584.5ZM548.8 295.2H553.8V301.1H548.8ZM582.2 295.2H584.8V301.1H582.2ZM477.2 300.8H479.9V306.8H477.2ZM536.9 300.8H539.5V306.8H536.9ZM586.9 300.8H589.6V306.8H586.9ZM617.9 306.5H620.6V312.4H617.9ZM627.5 312.1H630.2V318.1H627.5ZM477.2 317.8H479.9V323.7H477.2ZM637 317.8H642.1V323.7H637ZM734.8 317.8H737.5V323.7H734.8ZM629.9 323.4H637.3V329.3H629.9ZM734.8 323.4H737.5V329.3H734.8ZM737.2 329H739.9V335H737.2ZM739.6 334.7H742.3V340.6H739.6ZM744.3 340.3H747V346.3H744.3Z"/>
<path fill="#00efff" d="M529.7 233.2H537.1V239.1H529.7ZM544 238.8H546.7V244.7H544ZM553.5 244.4H556.2V250.4H553.5ZM746.7 244.4H749.4V250.4H746.7ZM579.8 278.3H582.5V284.2H579.8ZM534.5 283.9H537.1V289.9H534.5ZM584.5 283.9H587.2V289.9H584.5ZM539.2 289.6H541.9V295.5H539.2ZM742 289.6H744.6V295.5H742ZM541.6 295.2H549.1V301.1H541.6ZM584.5 295.2H587.2V301.1H584.5ZM534.5 300.8H537.1V306.8H534.5ZM589.3 300.8H592V306.8H589.3ZM739.6 300.8H742.3V306.8H739.6ZM529.7 312.1H532.4V318.1H529.7ZM629.9 312.1H632.5V318.1H629.9ZM734.8 312.1H737.5V318.1H734.8ZM641.8 317.8H735.1V323.7H641.8ZM637 323.4H735.1V329.3H637ZM551.2 329H737.5V335H551.2ZM558.3 334.7H739.9V340.6H558.3ZM734.8 340.3H744.6V346.3H734.8Z"/>
<path fill="#00ffff" d="M527.3 233.2H530V239.1H527.3ZM536.9 233.2H539.5V239.1H536.9ZM520.2 238.8H522.8V244.7H520.2ZM746.7 238.8H749.4V244.7H746.7ZM515.4 244.4H518.1V250.4H515.4ZM515.4 250.1H518.1V256H515.4ZM563.1 255.7H565.8V261.7H563.1ZM744.3 255.7H747V261.7H744.3ZM524.9 272.6H527.6V278.6H524.9ZM742 272.6H744.6V278.6H742ZM529.7 278.3H532.4V284.2H529.7ZM742 278.3H744.6V284.2H742ZM532.1 283.9H534.8V289.9H532.1ZM586.9 283.9H589.6V289.9H586.9ZM742 283.9H744.6V289.9H742ZM470.1 289.6H472.8V295.5H470.1ZM534.5 289.6H539.5V295.5H534.5ZM586.9 289.6H589.6V295.5H586.9ZM474.8 295.2H477.5V301.1H474.8ZM536.9 295.2H541.9V301.1H536.9ZM739.6 295.2H742.3V301.1H739.6ZM591.7 300.8H594.4V306.8H591.7ZM479.6 306.5H482.3V312.4H479.6ZM529.7 306.5H532.4V312.4H529.7ZM620.3 306.5H623V312.4H620.3ZM479.6 312.1H482.3V318.1H479.6ZM632.2 312.1H634.9V318.1H632.2ZM529.7 317.8H532.4V323.7H529.7ZM534.5 323.4H537.1V329.3H534.5ZM548.8 329H551.5V335H548.8ZM551.2 334.7H558.6V340.6H551.2ZM551.2 340.3H735.1V346.3H551.2Z"/>
<path fill="#10ffef" d="M746.7 193.7H749.4V199.6H746.7ZM746.7 199.3H749.4V205.3H746.7ZM746.7 205H749.4V210.9H746.7ZM746.7 210.6H749.4V216.5H746.7ZM746.7 216.2H749.4V222.2H746.7ZM746.7 221.9H749.4V227.8H746.7ZM529.7 227.5H534.8V233.5H529.7ZM746.7 227.5H749.4V233.5H746.7ZM524.9 233.2H527.6V239.1H524.9ZM539.2 233.2H541.9V239.1H539.2ZM746.7 233.2H749.4V239.1H746.7ZM517.8 238.8H520.5V244.7H517.8ZM546.4 238.8H549.1V244.7H546.4ZM555.9 244.4H558.6V250.4H555.9ZM560.7 250.1H563.4V256H560.7ZM515.4 255.7H518.1V261.7H515.4ZM517.8 261.4H520.5V267.3H517.8ZM567.9 261.4H570.5V267.3H567.9ZM520.2 267H522.8V272.9H520.2ZM572.6 267H575.3V272.9H572.6ZM742 267H744.6V272.9H742ZM577.4 272.6H580.1V278.6H577.4ZM582.2 278.3H584.8V284.2H582.2ZM589.3 289.6H592V295.5H589.3ZM534.5 295.2H537.1V301.1H534.5ZM586.9 295.2H589.6V301.1H586.9ZM532.1 300.8H534.8V306.8H532.1ZM594.1 300.8H599.2V306.8H594.1ZM634.6 312.1H637.3V318.1H634.6ZM732.4 312.1H735.1V318.1H732.4ZM474.8 323.4H477.5V329.3H474.8ZM470.1 329H472.8V335H470.1ZM544 329H549.1V335H544ZM467.7 334.7H470.4V340.6H467.7ZM546.4 334.7H551.5V340.6H546.4ZM546.4 340.3H551.5V346.3H546.4ZM749.1 346H757.8V351.9H749.1Z"/>
<path fill="#20ffdf" d="M459.3 182.4H468V188.3H459.3ZM467.7 188H470.4V194H467.7ZM746.7 188H749.4V194H746.7ZM470.1 210.6H472.8V216.5H470.1ZM470.1 216.2H472.8V222.2H470.1ZM470.1 221.9H472.8V227.8H470.1ZM470.1 227.5H472.8V233.5H470.1ZM527.3 227.5H530V233.5H527.3ZM534.5 227.5H539.5V233.5H534.5ZM470.1 233.2H472.8V239.1H470.1ZM522.5 233.2H525.2V239.1H522.5ZM470.1 238.8H472.8V244.7H470.1ZM548.8 238.8H551.5V244.7H548.8ZM470.1 244.4H472.8V250.4H470.1ZM513 244.4H515.7V250.4H513ZM470.1 250.1H472.8V256H470.1ZM513 250.1H515.7V256H513ZM470.1 255.7H472.8V261.7H470.1ZM565.5 255.7H568.2V261.7H565.5ZM470.1 261.4H472.8V267.3H470.1ZM470.1 267H472.8V272.9H470.1ZM470.1 272.6H472.8V278.6H470.1ZM522.5 272.6H525.2V278.6H522.5ZM579.8 272.6H582.5V278.6H579.8ZM470.1 278.3H472.8V284.2H470.1ZM527.3 278.3H530V284.2H527.3ZM584.5 278.3H587.2V284.2H584.5ZM739.6 278.3H742.3V284.2H739.6ZM470.1 283.9H472.8V289.9H470.1ZM529.7 283.9H532.4V289.9H529.7ZM589.3 283.9H592V289.9H589.3ZM739.6 283.9H742.3V289.9H739.6ZM532.1 289.6H534.8V295.5H532.1ZM591.7 289.6H594.4V295.5H591.7ZM739.6 289.6H742.3V295.5H739.6ZM532.1 295.2H534.8V301.1H532.1ZM589.3 295.2H592V301.1H589.3ZM598.9 300.8H606.3V306.8H598.9ZM622.7 306.5H625.4V312.4H622.7ZM737.2 306.5H739.9V312.4H737.2ZM637 312.1H642.1V318.1H637ZM725.3 312.1H732.7V318.1H725.3ZM541.6 329H544.3V335H541.6ZM544 334.7H546.7V340.6H544ZM459.3 340.3H468V346.3H459.3ZM544 340.3H546.7V346.3H544Z"/>
<path fill="#30ffcf" d="M746.7 182.4H749.4V188.3H746.7ZM470.1 199.3H472.8V205.3H470.1ZM470.1 205H472.8V210.9H470.1ZM527.3 221.9H537.1V227.8H527.3ZM524.9 227.5H527.6V233.5H524.9ZM541.6 233.2H544.3V239.1H541.6ZM515.4 238.8H518.1V244.7H515.4ZM558.3 244.4H561V250.4H558.3ZM744.3 250.1H747V256H744.3ZM570.2 261.4H572.9V267.3H570.2ZM742 261.4H744.6V267.3H742ZM575 267H577.7V272.9H575ZM739.6 272.6H742.3V278.6H739.6ZM586.9 278.3H589.6V284.2H586.9ZM591.7 283.9H594.4V289.9H591.7ZM737.2 283.9H739.9V289.9H737.2ZM472.5 289.6H475.1V295.5H472.5ZM529.7 289.6H532.4V295.5H529.7ZM594.1 289.6H596.8V295.5H594.1ZM737.2 289.6H739.9V295.5H737.2ZM477.2 295.2H479.9V301.1H477.2ZM529.7 295.2H532.4V301.1H529.7ZM591.7 295.2H594.4V301.1H591.7ZM737.2 295.2H739.9V301.1H737.2ZM479.6 300.8H482.3V306.8H479.6ZM529.7 300.8H532.4V306.8H529.7ZM606 300.8H611.1V306.8H606ZM527.3 312.1H530V318.1H527.3ZM641.8 312.1H668.3V318.1H641.8ZM703.8 312.1H725.6V318.1H703.8ZM479.6 317.8H482.3V323.7H479.6ZM532.1 323.4H534.8V329.3H532.1ZM472.5 329H475.1V335H472.5ZM541.6 334.7H544.3V340.6H541.6ZM541.6 340.3H544.3V346.3H541.6ZM639.4 346H749.4V351.9H639.4Z"/>
<path fill="#40ffbf" d="M749.1 171.1H757.8V177.1H749.1ZM529.7 182.4H541.9V188.3H529.7ZM527.3 188H544.3V194H527.3ZM470.1 193.7H472.8V199.6H470.1ZM527.3 193.7H544.3V199.6H527.3ZM527.3 199.3H544.3V205.3H527.3ZM527.3 205H541.9V210.9H527.3ZM527.3 210.6H539.5V216.5H527.3ZM527.3 216.2H539.5V222.2H527.3ZM524.9 221.9H527.6V227.8H524.9ZM536.9 221.9H541.9V227.8H536.9ZM522.5 227.5H525.2V233.5H522.5ZM539.2 227.5H541.9V233.5H539.2ZM520.2 233.2H522.8V239.1H520.2ZM544 233.2H546.7V239.1H544ZM513 238.8H515.7V244.7H513ZM551.2 238.8H553.8V244.7H551.2ZM744.3 244.4H747V250.4H744.3ZM563.1 250.1H565.8V256H563.1ZM513 255.7H515.7V261.7H513ZM742 255.7H744.6V261.7H742ZM515.4 261.4H518.1V267.3H515.4ZM517.8 267H520.5V272.9H517.8ZM739.6 267H742.3V272.9H739.6ZM582.2 272.6H584.8V278.6H582.2ZM737.2 272.6H739.9V278.6H737.2ZM524.9 278.3H527.6V284.2H524.9ZM589.3 278.3H592V284.2H589.3ZM684.7 278.3H739.9V284.2H684.7ZM472.5 283.9H475.1V289.9H472.5ZM527.3 283.9H530V289.9H527.3ZM594.1 283.9H599.2V289.9H594.1ZM663.3 283.9H737.5V289.9H663.3ZM596.5 289.6H601.5V295.5H596.5ZM732.4 289.6H737.5V295.5H732.4ZM594.1 295.2H596.8V301.1H594.1ZM610.8 300.8H615.9V306.8H610.8ZM737.2 300.8H739.9V306.8H737.2ZM482 306.5H484.7V312.4H482ZM527.3 306.5H530V312.4H527.3ZM482 312.1H484.7V318.1H482ZM668 312.1H704.1V318.1H668ZM477.2 323.4H479.9V329.3H477.2ZM539.2 329H541.9V335H539.2ZM539.2 334.7H541.9V340.6H539.2ZM539.2 340.3H541.9V346.3H539.2ZM551.2 346H639.7V351.9H551.2Z"/>
<path fill="#50ffaf" d="M725.3 74.8H730.3V86.8H725.3ZM725.3 86.5H730.3V92.5H725.3ZM725.3 92.2H727.9V98.1H725.3ZM529.7 171.1H541.9V177.1H529.7ZM524.9 176.8H546.7V182.7H524.9ZM746.7 176.8H749.4V182.7H746.7ZM524.9 182.4H530V188.3H524.9ZM541.6 182.4H546.7V188.3H541.6ZM522.5 188H527.6V194H522.5ZM544 188H549.1V194H544ZM522.5 193.7H527.6V199.6H522.5ZM544 193.7H549.1V199.6H544ZM744.3 193.7H747V199.6H744.3ZM472.5 199.3H475.1V205.3H472.5ZM522.5 199.3H527.6V205.3H522.5ZM544 199.3H546.7V205.3H544ZM744.3 199.3H747V205.3H744.3ZM472.5 205H475.1V210.9H472.5ZM522.5 205H527.6V210.9H522.5ZM541.6 205H546.7V210.9H541.6ZM744.3 205H747V210.9H744.3ZM472.5 210.6H475.1V216.5H472.5ZM522.5 210.6H527.6V216.5H522.5ZM539.2 210.6H544.3V216.5H539.2ZM744.3 210.6H747V216.5H744.3ZM472.5 216.2H475.1V222.2H472.5ZM522.5 216.2H527.6V222.2H522.5ZM539.2 216.2H544.3V222.2H539.2ZM744.3 216.2H747V222.2H744.3ZM472.5 221.9H475.1V227.8H472.5ZM522.5 221.9H525.2V227.8H522.5ZM541.6 221.9H544.3V227.8H541.6ZM744.3 221.9H747V227.8H744.3ZM472.5 227.5H475.1V233.5H472.5ZM520.2 227.5H522.8V233.5H520.2ZM541.6 227.5H544.3V233.5H541.6ZM744.3 227.5H747V233.5H744.3ZM472.5 233.2H475.1V239.1H472.5ZM517.8 233.2H520.5V239.1H517.8ZM744.3 233.2H747V239.1H744.3ZM472.5 238.8H475.1V244.7H472.5ZM553.5 238.8H556.2V244.7H553.5ZM744.3 238.8H747V244.7H744.3ZM472.5 244.4H475.1V250.4H472.5ZM510.6 244.4H513.3V250.4H510.6ZM472.5 250.1H475.1V256H472.5ZM510.6 250.1H513.3V256H510.6ZM472.5 255.7H475.1V261.7H472.5ZM567.9 255.7H570.5V261.7H567.9ZM472.5 261.4H475.1V267.3H472.5ZM472.5 267H475.1V272.9H472.5ZM577.4 267H580.1V272.9H577.4ZM472.5 272.6H475.1V278.6H472.5ZM520.2 272.6H522.8V278.6H520.2ZM584.5 272.6H587.2V278.6H584.5ZM670.4 272.6H737.5V278.6H670.4ZM472.5 278.3H475.1V284.2H472.5ZM591.7 278.3H596.8V284.2H591.7ZM641.8 278.3H685V284.2H641.8ZM598.9 283.9H663.6V289.9H598.9ZM474.8 289.6H477.5V295.5H474.8ZM527.3 289.6H530V295.5H527.3ZM601.2 289.6H732.7V295.5H601.2ZM527.3 295.2H530V301.1H527.3ZM596.5 295.2H606.3V301.1H596.5ZM732.4 295.2H737.5V301.1H732.4ZM527.3 300.8H530V306.8H527.3ZM615.6 300.8H618.2V306.8H615.6ZM625.1 306.5H627.8V312.4H625.1ZM734.8 306.5H737.5V312.4H734.8ZM527.3 317.8H530V323.7H527.3ZM474.8 329H477.5V335H474.8ZM536.9 329H539.5V335H536.9ZM470.1 334.7H472.8V340.6H470.1ZM536.9 334.7H539.5V340.6H536.9ZM536.9 340.3H539.5V346.3H536.9ZM544 346H551.5V351.9H544Z"/>
<path fill="#60ff9f" d="M722.9 74.8H725.6V86.8H722.9ZM730 74.8H735.1V86.8H730ZM722.9 86.5H725.6V92.5H722.9ZM730 86.5H735.1V92.5H730ZM722.9 92.2H725.6V98.1H722.9ZM727.6 92.2H735.1V98.1H727.6ZM722.9 97.8H735.1V103.7H722.9ZM722.9 103.4H735.1V109.4H722.9ZM722.9 109.1H735.1V115H722.9ZM722.9 114.7H735.1V120.7H722.9ZM722.9 120.4H735.1V126.3H722.9ZM722.9 126H735.1V131.9H722.9ZM722.9 131.6H735.1V137.6H722.9ZM722.9 137.3H732.7V143.2H722.9ZM722.9 142.9H732.7V148.9H722.9ZM725.3 148.6H732.7V154.5H725.3ZM725.3 154.2H732.7V160.1H725.3ZM725.3 159.8H730.3V165.8H725.3ZM524.9 165.5H546.7V171.4H524.9ZM725.3 165.5H730.3V171.4H725.3ZM522.5 171.1H530V177.1H522.5ZM541.6 171.1H549.1V177.1H541.6ZM522.5 176.8H525.2V182.7H522.5ZM546.4 176.8H551.5V182.7H546.4ZM467.7 182.4H470.4V188.3H467.7ZM520.2 182.4H525.2V188.3H520.2ZM546.4 182.4H551.5V188.3H546.4ZM744.3 182.4H747V188.3H744.3ZM470.1 188H472.8V194H470.1ZM520.2 188H522.8V194H520.2ZM548.8 188H551.5V194H548.8ZM744.3 188H747V194H744.3ZM472.5 193.7H475.1V199.6H472.5ZM520.2 193.7H522.8V199.6H520.2ZM548.8 193.7H551.5V199.6H548.8ZM474.8 199.3H477.5V205.3H474.8ZM520.2 199.3H522.8V205.3H520.2ZM546.4 199.3H551.5V205.3H546.4ZM474.8 205H477.5V210.9H474.8ZM520.2 205H522.8V210.9H520.2ZM546.4 205H551.5V210.9H546.4ZM474.8 210.6H477.5V216.5H474.8ZM520.2 210.6H522.8V216.5H520.2ZM544 210.6H549.1V216.5H544ZM474.8 216.2H477.5V222.2H474.8ZM520.2 216.2H522.8V222.2H520.2ZM544 216.2H546.7V222.2H544ZM474.8 221.9H477.5V227.8H474.8ZM520.2 221.9H522.8V227.8H520.2ZM544 221.9H546.7V227.8H544ZM474.8 227.5H477.5V233.5H474.8ZM517.8 227.5H520.5V233.5H517.8ZM544 227.5H546.7V233.5H544ZM474.8 233.2H477.5V239.1H474.8ZM515.4 233.2H518.1V239.1H515.4ZM546.4 233.2H549.1V239.1H546.4ZM474.8 238.8H477.5V244.7H474.8ZM510.6 238.8H513.3V244.7H510.6ZM555.9 238.8H558.6V244.7H555.9ZM474.8 244.4H477.5V250.4H474.8ZM560.7 244.4H563.4V250.4H560.7ZM742 244.4H744.6V250.4H742ZM474.8 250.1H477.5V256H474.8ZM565.5 250.1H568.2V256H565.5ZM742 250.1H744.6V256H742ZM474.8 255.7H477.5V261.7H474.8ZM510.6 255.7H513.3V261.7H510.6ZM474.8 261.4H477.5V267.3H474.8ZM513 261.4H515.7V267.3H513ZM572.6 261.4H575.3V267.3H572.6ZM739.6 261.4H742.3V267.3H739.6ZM474.8 267H477.5V272.9H474.8ZM515.4 267H518.1V272.9H515.4ZM579.8 267H582.5V272.9H579.8ZM720.5 267H739.9V272.9H720.5ZM474.8 272.6H477.5V278.6H474.8ZM586.9 272.6H592V278.6H586.9ZM648.9 272.6H670.7V278.6H648.9ZM474.8 278.3H477.5V284.2H474.8ZM522.5 278.3H525.2V284.2H522.5ZM596.5 278.3H642.1V284.2H596.5ZM474.8 283.9H477.5V289.9H474.8ZM524.9 283.9H527.6V289.9H524.9ZM477.2 289.6H479.9V295.5H477.2ZM479.6 295.2H482.3V301.1H479.6ZM606 295.2H732.7V301.1H606ZM482 300.8H484.7V306.8H482ZM617.9 300.8H623V306.8H617.9ZM734.8 300.8H737.5V306.8H734.8ZM482 317.8H484.7V323.7H482ZM479.6 323.4H482.3V329.3H479.6ZM529.7 323.4H532.4V329.3H529.7ZM534.5 329H537.1V335H534.5ZM472.5 334.7H475.1V340.6H472.5ZM467.7 340.3H470.4V346.3H467.7ZM534.5 340.3H537.1V346.3H534.5ZM541.6 346H544.3V351.9H541.6Z"/>
<path fill="#70ff8f" d="M572.6 74.8H575.3V86.8H572.6ZM720.5 74.8H723.2V86.8H720.5ZM734.8 74.8H739.9V86.8H734.8ZM572.6 86.5H575.3V92.5H572.6ZM720.5 86.5H723.2V92.5H720.5ZM734.8 86.5H739.9V92.5H734.8ZM572.6 92.2H575.3V98.1H572.6ZM720.5 92.2H723.2V98.1H720.5ZM734.8 92.2H739.9V98.1H734.8ZM572.6 97.8H575.3V103.7H572.6ZM720.5 97.8H723.2V103.7H720.5ZM734.8 97.8H739.9V103.7H734.8ZM572.6 103.4H575.3V109.4H572.6ZM720.5 103.4H723.2V109.4H720.5ZM734.8 103.4H739.9V109.4H734.8ZM572.6 109.1H575.3V115H572.6ZM720.5 109.1H723.2V115H720.5ZM734.8 109.1H739.9V115H734.8ZM720.5 114.7H723.2V120.7H720.5ZM734.8 114.7H739.9V120.7H734.8ZM720.5 120.4H723.2V126.3H720.5ZM734.8 120.4H739.9V126.3H734.8ZM720.5 126H723.2V131.9H720.5ZM734.8 126H737.5V131.9H734.8ZM720.5 131.6H723.2V137.6H720.5ZM734.8 131.6H737.5V137.6H734.8ZM720.5 137.3H723.2V143.2H720.5ZM732.4 137.3H737.5V143.2H732.4ZM720.5 142.9H723.2V148.9H720.5ZM732.4 142.9H737.5V148.9H732.4ZM720.5 148.6H725.6V154.5H720.5ZM732.4 148.6H737.5V154.5H732.4ZM524.9 154.2H546.7V160.1H524.9ZM722.9 154.2H725.6V160.1H722.9ZM732.4 154.2H737.5V160.1H732.4ZM522.5 159.8H549.1V165.8H522.5ZM722.9 159.8H725.6V165.8H722.9ZM730 159.8H737.5V165.8H730ZM520.2 165.5H525.2V171.4H520.2ZM546.4 165.5H551.5V171.4H546.4ZM722.9 165.5H725.6V171.4H722.9ZM730 165.5H737.5V171.4H730ZM749.1 165.5H757.8V171.4H749.1ZM520.2 171.1H522.8V177.1H520.2ZM548.8 171.1H553.8V177.1H548.8ZM722.9 171.1H737.5V177.1H722.9ZM746.7 171.1H749.4V177.1H746.7ZM459.3 176.8H468V182.7H459.3ZM517.8 176.8H522.8V182.7H517.8ZM551.2 176.8H556.2V182.7H551.2ZM722.9 176.8H735.1V182.7H722.9ZM744.3 176.8H747V182.7H744.3ZM515.4 182.4H520.5V188.3H515.4ZM551.2 182.4H556.2V188.3H551.2ZM722.9 182.4H735.1V188.3H722.9ZM742 182.4H744.6V188.3H742ZM472.5 188H477.5V194H472.5ZM515.4 188H520.5V194H515.4ZM551.2 188H556.2V194H551.2ZM725.3 188H732.7V194H725.3ZM742 188H744.6V194H742ZM474.8 193.7H477.5V199.6H474.8ZM513 193.7H520.5V199.6H513ZM551.2 193.7H556.2V199.6H551.2ZM742 193.7H744.6V199.6H742ZM477.2 199.3H479.9V205.3H477.2ZM513 199.3H520.5V205.3H513ZM551.2 199.3H556.2V205.3H551.2ZM742 199.3H744.6V205.3H742ZM477.2 205H479.9V210.9H477.2ZM515.4 205H520.5V210.9H515.4ZM551.2 205H553.8V210.9H551.2ZM742 205H744.6V210.9H742ZM477.2 210.6H479.9V216.5H477.2ZM515.4 210.6H520.5V216.5H515.4ZM548.8 210.6H553.8V216.5H548.8ZM742 210.6H744.6V216.5H742ZM477.2 216.2H479.9V222.2H477.2ZM515.4 216.2H520.5V222.2H515.4ZM546.4 216.2H551.5V222.2H546.4ZM742 216.2H744.6V222.2H742ZM477.2 221.9H479.9V227.8H477.2ZM515.4 221.9H520.5V227.8H515.4ZM546.4 221.9H549.1V227.8H546.4ZM742 221.9H744.6V227.8H742ZM477.2 227.5H479.9V233.5H477.2ZM515.4 227.5H518.1V233.5H515.4ZM546.4 227.5H549.1V233.5H546.4ZM742 227.5H744.6V233.5H742ZM477.2 233.2H479.9V239.1H477.2ZM513 233.2H515.7V239.1H513ZM548.8 233.2H551.5V239.1H548.8ZM742 233.2H744.6V239.1H742ZM477.2 238.8H479.9V244.7H477.2ZM742 238.8H744.6V244.7H742ZM477.2 244.4H479.9V250.4H477.2ZM563.1 244.4H565.8V250.4H563.1ZM477.2 250.1H479.9V256H477.2ZM739.6 250.1H742.3V256H739.6ZM477.2 255.7H479.9V261.7H477.2ZM570.2 255.7H572.9V261.7H570.2ZM739.6 255.7H742.3V261.7H739.6ZM477.2 261.4H479.9V267.3H477.2ZM510.6 261.4H513.3V267.3H510.6ZM575 261.4H577.7V267.3H575ZM737.2 261.4H739.9V267.3H737.2ZM477.2 267H479.9V272.9H477.2ZM582.2 267H584.8V272.9H582.2ZM660.9 267H720.8V272.9H660.9ZM477.2 272.6H479.9V278.6H477.2ZM517.8 272.6H520.5V278.6H517.8ZM591.7 272.6H594.4V278.6H591.7ZM608.4 272.6H627.8V278.6H608.4ZM639.4 272.6H649.2V278.6H639.4ZM477.2 278.3H479.9V284.2H477.2ZM477.2 283.9H479.9V289.9H477.2ZM479.6 289.6H482.3V295.5H479.6ZM524.9 289.6H527.6V295.5H524.9ZM482 295.2H484.7V301.1H482ZM524.9 295.2H527.6V301.1H524.9ZM622.7 300.8H625.4V306.8H622.7ZM484.4 306.5H487.1V312.4H484.4ZM524.9 306.5H527.6V312.4H524.9ZM627.5 306.5H630.2V312.4H627.5ZM732.4 306.5H735.1V312.4H732.4ZM484.4 312.1H487.1V318.1H484.4ZM524.9 312.1H527.6V318.1H524.9ZM482 323.4H484.7V329.3H482ZM477.2 329H479.9V335H477.2ZM474.8 334.7H477.5V340.6H474.8ZM534.5 334.7H537.1V340.6H534.5ZM470.1 340.3H472.8V346.3H470.1ZM532.1 340.3H534.8V346.3H532.1ZM459.3 346H468V351.9H459.3ZM536.9 346H541.9V351.9H536.9Z"/>
<path fill="#80ff80" d="M567.9 74.8H572.9V86.8H567.9ZM575 74.8H580.1V86.8H575ZM603.6 74.8H611.1V86.8H603.6ZM651.3 74.8H654V86.8H651.3ZM684.7 74.8H689.8V86.8H684.7ZM718.1 74.8H720.8V86.8H718.1ZM739.6 74.8H744.6V86.8H739.6ZM567.9 86.5H572.9V92.5H567.9ZM575 86.5H580.1V92.5H575ZM603.6 86.5H611.1V92.5H603.6ZM684.7 86.5H687.4V92.5H684.7ZM718.1 86.5H720.8V92.5H718.1ZM739.6 86.5H744.6V92.5H739.6ZM567.9 92.2H572.9V98.1H567.9ZM575 92.2H580.1V98.1H575ZM603.6 92.2H611.1V98.1H603.6ZM718.1 92.2H720.8V98.1H718.1ZM739.6 92.2H744.6V98.1H739.6ZM567.9 97.8H572.9V103.7H567.9ZM575 97.8H580.1V103.7H575ZM603.6 97.8H611.1V103.7H603.6ZM718.1 97.8H720.8V103.7H718.1ZM739.6 97.8H744.6V103.7H739.6ZM567.9 103.4H572.9V109.4H567.9ZM575 103.4H580.1V109.4H575ZM603.6 103.4H611.1V109.4H603.6ZM718.1 103.4H720.8V109.4H718.1ZM739.6 103.4H742.3V109.4H739.6ZM570.2 109.1H572.9V115H570.2ZM575 109.1H577.7V115H575ZM606 109.1H611.1V115H606ZM718.1 109.1H720.8V115H718.1ZM739.6 109.1H742.3V115H739.6ZM570.2 114.7H577.7V120.7H570.2ZM606 114.7H611.1V120.7H606ZM718.1 114.7H720.8V120.7H718.1ZM739.6 114.7H742.3V120.7H739.6ZM570.2 120.4H577.7V126.3H570.2ZM606 120.4H611.1V126.3H606ZM718.1 120.4H720.8V126.3H718.1ZM739.6 120.4H742.3V126.3H739.6ZM570.2 126H577.7V131.9H570.2ZM606 126H608.7V131.9H606ZM718.1 126H720.8V131.9H718.1ZM737.2 126H742.3V131.9H737.2ZM541.6 131.6H544.3V137.6H541.6ZM570.2 131.6H577.7V137.6H570.2ZM718.1 131.6H720.8V137.6H718.1ZM737.2 131.6H742.3V137.6H737.2ZM524.9 137.3H546.7V143.2H524.9ZM570.2 137.3H577.7V143.2H570.2ZM718.1 137.3H720.8V143.2H718.1ZM737.2 137.3H742.3V143.2H737.2ZM522.5 142.9H551.5V148.9H522.5ZM570.2 142.9H577.7V148.9H570.2ZM718.1 142.9H720.8V148.9H718.1ZM737.2 142.9H742.3V148.9H737.2ZM520.2 148.6H553.8V154.5H520.2ZM570.2 148.6H577.7V154.5H570.2ZM718.1 148.6H720.8V154.5H718.1ZM737.2 148.6H742.3V154.5H737.2ZM520.2 154.2H525.2V160.1H520.2ZM546.4 154.2H556.2V160.1H546.4ZM570.2 154.2H577.7V160.1H570.2ZM720.5 154.2H723.2V160.1H720.5ZM737.2 154.2H742.3V160.1H737.2ZM517.8 159.8H522.8V165.8H517.8ZM548.8 159.8H558.6V165.8H548.8ZM570.2 159.8H577.7V165.8H570.2ZM720.5 159.8H723.2V165.8H720.5ZM737.2 159.8H742.3V165.8H737.2ZM513 165.5H520.5V171.4H513ZM551.2 165.5H558.6V171.4H551.2ZM570.2 165.5H575.3V171.4H570.2ZM720.5 165.5H723.2V171.4H720.5ZM737.2 165.5H742.3V171.4H737.2ZM459.3 171.1H468V177.1H459.3ZM510.6 171.1H520.5V177.1H510.6ZM553.5 171.1H561V177.1H553.5ZM570.2 171.1H575.3V177.1H570.2ZM720.5 171.1H723.2V177.1H720.5ZM737.2 171.1H747V177.1H737.2ZM467.7 176.8H472.8V182.7H467.7ZM510.6 176.8H518.1V182.7H510.6ZM555.9 176.8H561V182.7H555.9ZM572.6 176.8H575.3V182.7H572.6ZM720.5 176.8H723.2V182.7H720.5ZM734.8 176.8H744.6V182.7H734.8ZM470.1 182.4H477.5V188.3H470.1ZM510.6 182.4H515.7V188.3H510.6ZM555.9 182.4H563.4V188.3H555.9ZM720.5 182.4H723.2V188.3H720.5ZM734.8 182.4H742.3V188.3H734.8ZM477.2 188H479.9V194H477.2ZM510.6 188H515.7V194H510.6ZM555.9 188H563.4V194H555.9ZM720.5 188H725.6V194H720.5ZM732.4 188H742.3V194H732.4ZM477.2 193.7H482.3V199.6H477.2ZM510.6 193.7H513.3V199.6H510.6ZM555.9 193.7H561V199.6H555.9ZM720.5 193.7H742.3V199.6H720.5ZM479.6 199.3H482.3V205.3H479.6ZM510.6 199.3H513.3V205.3H510.6ZM555.9 199.3H561V205.3H555.9ZM722.9 199.3H742.3V205.3H722.9ZM479.6 205H482.3V210.9H479.6ZM510.6 205H515.7V210.9H510.6ZM553.5 205H558.6V210.9H553.5ZM722.9 205H742.3V210.9H722.9ZM479.6 210.6H482.3V216.5H479.6ZM510.6 210.6H515.7V216.5H510.6ZM553.5 210.6H558.6V216.5H553.5ZM722.9 210.6H742.3V216.5H722.9ZM479.6 216.2H482.3V222.2H479.6ZM513 216.2H515.7V222.2H513ZM551.2 216.2H556.2V222.2H551.2ZM725.3 216.2H732.7V222.2H725.3ZM734.8 216.2H742.3V222.2H734.8ZM479.6 221.9H482.3V227.8H479.6ZM513 221.9H515.7V227.8H513ZM548.8 221.9H553.8V227.8H548.8ZM737.2 221.9H742.3V227.8H737.2ZM479.6 227.5H484.7V233.5H479.6ZM513 227.5H515.7V233.5H513ZM548.8 227.5H553.8V233.5H548.8ZM737.2 227.5H742.3V233.5H737.2ZM479.6 233.2H484.7V239.1H479.6ZM510.6 233.2H513.3V239.1H510.6ZM551.2 233.2H556.2V239.1H551.2ZM737.2 233.2H742.3V239.1H737.2ZM479.6 238.8H484.7V244.7H479.6ZM558.3 238.8H561V244.7H558.3ZM737.2 238.8H742.3V244.7H737.2ZM479.6 244.4H484.7V250.4H479.6ZM508.2 244.4H510.9V250.4H508.2ZM737.2 244.4H742.3V250.4H737.2ZM479.6 250.1H484.7V256H479.6ZM508.2 250.1H510.9V256H508.2ZM567.9 250.1H570.5V256H567.9ZM737.2 250.1H739.9V256H737.2ZM479.6 255.7H484.7V261.7H479.6ZM734.8 255.7H739.9V261.7H734.8ZM479.6 261.4H484.7V267.3H479.6ZM682.3 261.4H737.5V267.3H682.3ZM479.6 267H484.7V272.9H479.6ZM513 267H515.7V272.9H513ZM584.5 267H587.2V272.9H584.5ZM651.3 267H661.2V272.9H651.3ZM479.6 272.6H484.7V278.6H479.6ZM515.4 272.6H518.1V278.6H515.4ZM594.1 272.6H608.7V278.6H594.1ZM627.5 272.6H639.7V278.6H627.5ZM479.6 278.3H484.7V284.2H479.6ZM520.2 278.3H522.8V284.2H520.2ZM479.6 283.9H484.7V289.9H479.6ZM522.5 283.9H525.2V289.9H522.5ZM482 289.6H484.7V295.5H482ZM484.4 295.2H487.1V301.1H484.4ZM484.4 300.8H487.1V306.8H484.4ZM524.9 300.8H527.6V306.8H524.9ZM625.1 300.8H630.2V306.8H625.1ZM730 300.8H735.1V306.8H730ZM629.9 306.5H632.5V312.4H629.9ZM484.4 317.8H487.1V323.7H484.4ZM484.4 323.4H487.1V329.3H484.4ZM479.6 329H484.7V335H479.6ZM532.1 329H534.8V335H532.1ZM477.2 334.7H482.3V340.6H477.2ZM532.1 334.7H534.8V340.6H532.1ZM472.5 340.3H479.9V346.3H472.5ZM529.7 340.3H532.4V346.3H529.7ZM467.7 346H470.4V351.9H467.7ZM534.5 346H537.1V351.9H534.5Z"/>
<path fill="#8fff70" d="M459.3 74.8H482.3V86.8H459.3ZM491.5 74.8H496.6V86.8H491.5ZM510.6 74.8H513.3V86.8H510.6ZM520.2 74.8H568.2V86.8H520.2ZM579.8 74.8H603.9V86.8H579.8ZM610.8 74.8H651.6V86.8H610.8ZM653.7 74.8H665.9V86.8H653.7ZM680 74.8H685V86.8H680ZM689.5 74.8H718.4V86.8H689.5ZM744.3 74.8H757.8V86.8H744.3ZM459.3 86.5H482.3V92.5H459.3ZM491.5 86.5H496.6V92.5H491.5ZM510.6 86.5H513.3V92.5H510.6ZM520.2 86.5H568.2V92.5H520.2ZM579.8 86.5H603.9V92.5H579.8ZM610.8 86.5H665.9V92.5H610.8ZM680 86.5H685V92.5H680ZM687.1 86.5H718.4V92.5H687.1ZM744.3 86.5H757.8V92.5H744.3ZM459.3 92.2H482.3V98.1H459.3ZM491.5 92.2H496.6V98.1H491.5ZM510.6 92.2H513.3V98.1H510.6ZM520.2 92.2H568.2V98.1H520.2ZM579.8 92.2H603.9V98.1H579.8ZM610.8 92.2H665.9V98.1H610.8ZM680 92.2H718.4V98.1H680ZM744.3 92.2H757.8V98.1H744.3ZM459.3 97.8H482.3V103.7H459.3ZM491.5 97.8H496.6V103.7H491.5ZM510.6 97.8H513.3V103.7H510.6ZM520.2 97.8H568.2V103.7H520.2ZM579.8 97.8H584.8V103.7H579.8ZM589.3 97.8H603.9V103.7H589.3ZM610.8 97.8H665.9V103.7H610.8ZM680 97.8H718.4V103.7H680ZM744.3 97.8H757.8V103.7H744.3ZM459.3 103.4H482.3V109.4H459.3ZM491.5 103.4H496.6V109.4H491.5ZM510.6 103.4H513.3V109.4H510.6ZM520.2 103.4H568.2V109.4H520.2ZM579.8 103.4H584.8V109.4H579.8ZM589.3 103.4H603.9V109.4H589.3ZM610.8 103.4H665.9V109.4H610.8ZM680 103.4H718.4V109.4H680ZM742 103.4H757.8V109.4H742ZM459.3 109.1H482.3V115H459.3ZM491.5 109.1H496.6V115H491.5ZM510.6 109.1H513.3V115H510.6ZM520.2 109.1H570.5V115H520.2ZM577.4 109.1H584.8V115H577.4ZM591.7 109.1H606.3V115H591.7ZM610.8 109.1H665.9V115H610.8ZM680 109.1H718.4V115H680ZM742 109.1H757.8V115H742ZM459.3 114.7H482.3V120.7H459.3ZM491.5 114.7H496.6V120.7H491.5ZM510.6 114.7H513.3V120.7H510.6ZM520.2 114.7H570.5V120.7H520.2ZM577.4 114.7H582.5V120.7H577.4ZM591.7 114.7H606.3V120.7H591.7ZM610.8 114.7H615.9V120.7H610.8ZM617.9 114.7H663.6V120.7H617.9ZM682.3 114.7H718.4V120.7H682.3ZM742 114.7H757.8V120.7H742ZM459.3 120.4H482.3V126.3H459.3ZM491.5 120.4H496.6V126.3H491.5ZM510.6 120.4H513.3V126.3H510.6ZM520.2 120.4H570.5V126.3H520.2ZM577.4 120.4H582.5V126.3H577.4ZM591.7 120.4H606.3V126.3H591.7ZM610.8 120.4H615.9V126.3H610.8ZM644.2 120.4H663.6V126.3H644.2ZM682.3 120.4H718.4V126.3H682.3ZM742 120.4H757.8V126.3H742ZM459.3 126H482.3V131.9H459.3ZM491.5 126H496.6V131.9H491.5ZM510.6 126H513.3V131.9H510.6ZM520.2 126H570.5V131.9H520.2ZM577.4 126H582.5V131.9H577.4ZM594.1 126H606.3V131.9H594.1ZM608.4 126H613.5V131.9H608.4ZM646.6 126H661.2V131.9H646.6ZM682.3 126H718.4V131.9H682.3ZM742 126H757.8V131.9H742ZM459.3 131.6H482.3V137.6H459.3ZM491.5 131.6H496.6V137.6H491.5ZM510.6 131.6H513.3V137.6H510.6ZM517.8 131.6H541.9V137.6H517.8ZM544 131.6H570.5V137.6H544ZM577.4 131.6H582.5V137.6H577.4ZM594.1 131.6H613.5V137.6H594.1ZM648.9 131.6H658.8V137.6H648.9ZM682.3 131.6H718.4V137.6H682.3ZM742 131.6H757.8V137.6H742ZM459.3 137.3H482.3V143.2H459.3ZM491.5 137.3H496.6V143.2H491.5ZM510.6 137.3H515.7V143.2H510.6ZM517.8 137.3H525.2V143.2H517.8ZM546.4 137.3H570.5V143.2H546.4ZM577.4 137.3H582.5V143.2H577.4ZM596.5 137.3H613.5V143.2H596.5ZM651.3 137.3H656.4V143.2H651.3ZM682.3 137.3H718.4V143.2H682.3ZM742 137.3H757.8V143.2H742ZM459.3 142.9H482.3V148.9H459.3ZM491.5 142.9H496.6V148.9H491.5ZM510.6 142.9H522.8V148.9H510.6ZM551.2 142.9H570.5V148.9H551.2ZM577.4 142.9H580.1V148.9H577.4ZM598.9 142.9H613.5V148.9H598.9ZM682.3 142.9H694.6V148.9H682.3ZM703.8 142.9H718.4V148.9H703.8ZM742 142.9H757.8V148.9H742ZM459.3 148.6H482.3V154.5H459.3ZM491.5 148.6H496.6V154.5H491.5ZM510.6 148.6H520.5V154.5H510.6ZM553.5 148.6H570.5V154.5H553.5ZM577.4 148.6H580.1V154.5H577.4ZM603.6 148.6H611.1V154.5H603.6ZM684.7 148.6H692.2V154.5H684.7ZM706.2 148.6H718.4V154.5H706.2ZM742 148.6H757.8V154.5H742ZM459.3 154.2H484.7V160.1H459.3ZM491.5 154.2H496.6V160.1H491.5ZM510.6 154.2H520.5V160.1H510.6ZM555.9 154.2H570.5V160.1H555.9ZM577.4 154.2H580.1V160.1H577.4ZM603.6 154.2H611.1V160.1H603.6ZM684.7 154.2H689.8V160.1H684.7ZM711 154.2H720.8V160.1H711ZM742 154.2H757.8V160.1H742ZM459.3 159.8H484.7V165.8H459.3ZM491.5 159.8H496.6V165.8H491.5ZM510.6 159.8H518.1V165.8H510.6ZM558.3 159.8H570.5V165.8H558.3ZM577.4 159.8H580.1V165.8H577.4ZM603.6 159.8H611.1V165.8H603.6ZM684.7 159.8H689.8V165.8H684.7ZM713.3 159.8H720.8V165.8H713.3ZM742 159.8H757.8V165.8H742ZM459.3 165.5H484.7V171.4H459.3ZM489.2 165.5H496.6V171.4H489.2ZM510.6 165.5H513.3V171.4H510.6ZM558.3 165.5H570.5V171.4H558.3ZM575 165.5H580.1V171.4H575ZM606 165.5H611.1V171.4H606ZM713.3 165.5H720.8V171.4H713.3ZM742 165.5H749.4V171.4H742ZM467.7 171.1H484.7V177.1H467.7ZM489.2 171.1H496.6V177.1H489.2ZM560.7 171.1H570.5V177.1H560.7ZM575 171.1H580.1V177.1H575ZM606 171.1H611.1V177.1H606ZM713.3 171.1H720.8V177.1H713.3ZM472.5 176.8H484.7V182.7H472.5ZM489.2 176.8H496.6V182.7H489.2ZM560.7 176.8H572.9V182.7H560.7ZM575 176.8H580.1V182.7H575ZM713.3 176.8H720.8V182.7H713.3ZM477.2 182.4H487.1V188.3H477.2ZM489.2 182.4H496.6V188.3H489.2ZM563.1 182.4H580.1V188.3H563.1ZM713.3 182.4H720.8V188.3H713.3ZM479.6 188H496.6V194H479.6ZM563.1 188H577.7V194H563.1ZM713.3 188H720.8V194H713.3ZM482 193.7H499V199.6H482ZM560.7 193.7H577.7V199.6H560.7ZM713.3 193.7H720.8V199.6H713.3ZM482 199.3H499V205.3H482ZM560.7 199.3H568.2V205.3H560.7ZM570.2 199.3H572.9V205.3H570.2ZM711 199.3H723.2V205.3H711ZM482 205H499V210.9H482ZM558.3 205H565.8V210.9H558.3ZM708.6 205H723.2V210.9H708.6ZM482 210.6H499V216.5H482ZM558.3 210.6H563.4V216.5H558.3ZM706.2 210.6H723.2V216.5H706.2ZM482 216.2H499V222.2H482ZM510.6 216.2H513.3V222.2H510.6ZM555.9 216.2H561V222.2H555.9ZM703.8 216.2H725.6V222.2H703.8ZM732.4 216.2H735.1V222.2H732.4ZM482 221.9H499V227.8H482ZM510.6 221.9H513.3V227.8H510.6ZM553.5 221.9H558.6V227.8H553.5ZM703.8 221.9H737.5V227.8H703.8ZM484.4 227.5H499V233.5H484.4ZM510.6 227.5H513.3V233.5H510.6ZM553.5 227.5H556.2V233.5H553.5ZM701.4 227.5H737.5V233.5H701.4ZM484.4 233.2H499V239.1H484.4ZM555.9 233.2H558.6V239.1H555.9ZM699 233.2H737.5V239.1H699ZM484.4 238.8H499V244.7H484.4ZM508.2 238.8H510.9V244.7H508.2ZM560.7 238.8H563.4V244.7H560.7ZM696.6 238.8H737.5V244.7H696.6ZM484.4 244.4H499V250.4H484.4ZM565.5 244.4H568.2V250.4H565.5ZM691.9 244.4H737.5V250.4H691.9ZM484.4 250.1H499V256H484.4ZM687.1 250.1H737.5V256H687.1ZM484.4 255.7H499V261.7H484.4ZM508.2 255.7H510.9V261.7H508.2ZM572.6 255.7H575.3V261.7H572.6ZM680 255.7H735.1V261.7H680ZM484.4 261.4H499V267.3H484.4ZM577.4 261.4H580.1V267.3H577.4ZM660.9 261.4H682.6V267.3H660.9ZM484.4 267H496.6V272.9H484.4ZM510.6 267H513.3V272.9H510.6ZM586.9 267H592V272.9H586.9ZM617.9 267H625.4V272.9H617.9ZM646.6 267H651.6V272.9H646.6ZM484.4 272.6H494.2V278.6H484.4ZM513 272.6H515.7V278.6H513ZM484.4 278.3H491.8V284.2H484.4ZM517.8 278.3H520.5V284.2H517.8ZM484.4 283.9H489.5V289.9H484.4ZM520.2 283.9H522.8V289.9H520.2ZM484.4 289.6H489.5V295.5H484.4ZM522.5 289.6H525.2V295.5H522.5ZM486.8 295.2H489.5V301.1H486.8ZM522.5 295.2H525.2V301.1H522.5ZM486.8 300.8H489.5V306.8H486.8ZM629.9 300.8H634.9V306.8H629.9ZM722.9 300.8H730.3V306.8H722.9ZM486.8 306.5H489.5V312.4H486.8ZM632.2 306.5H634.9V312.4H632.2ZM730 306.5H732.7V312.4H730ZM486.8 312.1H489.5V318.1H486.8ZM486.8 317.8H489.5V323.7H486.8ZM524.9 317.8H527.6V323.7H524.9ZM486.8 323.4H489.5V329.3H486.8ZM527.3 323.4H530V329.3H527.3ZM484.4 329H489.5V335H484.4ZM482 334.7H489.5V340.6H482ZM529.7 334.7H532.4V340.6H529.7ZM479.6 340.3H494.2V346.3H479.6ZM527.3 340.3H530V346.3H527.3ZM470.1 346H489.5V351.9H470.1ZM529.7 346H534.8V351.9H529.7ZM737.2 351.6H757.8V357.5H737.2Z"/>
<path fill="#9fff60" d="M482 74.8H491.8V86.8H482ZM496.3 74.8H499V86.8H496.3ZM508.2 74.8H510.9V86.8H508.2ZM513 74.8H520.5V86.8H513ZM665.6 74.8H670.7V86.8H665.6ZM675.2 74.8H680.2V86.8H675.2ZM482 86.5H491.8V92.5H482ZM496.3 86.5H499V92.5H496.3ZM508.2 86.5H510.9V92.5H508.2ZM513 86.5H520.5V92.5H513ZM665.6 86.5H670.7V92.5H665.6ZM675.2 86.5H680.2V92.5H675.2ZM482 92.2H491.8V98.1H482ZM496.3 92.2H499V98.1H496.3ZM508.2 92.2H510.9V98.1H508.2ZM513 92.2H520.5V98.1H513ZM665.6 92.2H670.7V98.1H665.6ZM675.2 92.2H680.2V98.1H675.2ZM482 97.8H491.8V103.7H482ZM496.3 97.8H499V103.7H496.3ZM508.2 97.8H510.9V103.7H508.2ZM513 97.8H520.5V103.7H513ZM584.5 97.8H589.6V103.7H584.5ZM665.6 97.8H670.7V103.7H665.6ZM675.2 97.8H680.2V103.7H675.2ZM482 103.4H491.8V109.4H482ZM496.3 103.4H499V109.4H496.3ZM508.2 103.4H510.9V109.4H508.2ZM513 103.4H520.5V109.4H513ZM584.5 103.4H589.6V109.4H584.5ZM665.6 103.4H670.7V109.4H665.6ZM675.2 103.4H680.2V109.4H675.2ZM482 109.1H491.8V115H482ZM496.3 109.1H499V115H496.3ZM508.2 109.1H510.9V115H508.2ZM513 109.1H520.5V115H513ZM584.5 109.1H592V115H584.5ZM665.6 109.1H670.7V115H665.6ZM675.2 109.1H680.2V115H675.2ZM482 114.7H491.8V120.7H482ZM496.3 114.7H499V120.7H496.3ZM508.2 114.7H510.9V120.7H508.2ZM513 114.7H520.5V120.7H513ZM582.2 114.7H592V120.7H582.2ZM615.6 114.7H618.2V120.7H615.6ZM663.3 114.7H668.3V120.7H663.3ZM677.6 114.7H682.6V120.7H677.6ZM482 120.4H491.8V126.3H482ZM496.3 120.4H499V126.3H496.3ZM508.2 120.4H510.9V126.3H508.2ZM513 120.4H520.5V126.3H513ZM582.2 120.4H592V126.3H582.2ZM615.6 120.4H644.5V126.3H615.6ZM663.3 120.4H668.3V126.3H663.3ZM677.6 120.4H682.6V126.3H677.6ZM482 126H491.8V131.9H482ZM496.3 126H499V131.9H496.3ZM508.2 126H510.9V131.9H508.2ZM513 126H520.5V131.9H513ZM582.2 126H594.4V131.9H582.2ZM613.2 126H646.9V131.9H613.2ZM660.9 126H668.3V131.9H660.9ZM677.6 126H682.6V131.9H677.6ZM482 131.6H491.8V137.6H482ZM496.3 131.6H499V137.6H496.3ZM508.2 131.6H510.9V137.6H508.2ZM513 131.6H518.1V137.6H513ZM582.2 131.6H594.4V137.6H582.2ZM613.2 131.6H649.2V137.6H613.2ZM658.5 131.6H668.3V137.6H658.5ZM677.6 131.6H682.6V137.6H677.6ZM482 137.3H491.8V143.2H482ZM496.3 137.3H499V143.2H496.3ZM508.2 137.3H510.9V143.2H508.2ZM515.4 137.3H518.1V143.2H515.4ZM582.2 137.3H596.8V143.2H582.2ZM613.2 137.3H651.6V143.2H613.2ZM656.1 137.3H668.3V143.2H656.1ZM677.6 137.3H682.6V143.2H677.6ZM482 142.9H491.8V148.9H482ZM496.3 142.9H499V148.9H496.3ZM508.2 142.9H510.9V148.9H508.2ZM579.8 142.9H599.2V148.9H579.8ZM613.2 142.9H665.9V148.9H613.2ZM680 142.9H682.6V148.9H680ZM694.3 142.9H704.1V148.9H694.3ZM482 148.6H491.8V154.5H482ZM496.3 148.6H499V154.5H496.3ZM508.2 148.6H510.9V154.5H508.2ZM579.8 148.6H603.9V154.5H579.8ZM610.8 148.6H665.9V154.5H610.8ZM680 148.6H685V154.5H680ZM691.9 148.6H706.5V154.5H691.9ZM484.4 154.2H491.8V160.1H484.4ZM496.3 154.2H499V160.1H496.3ZM508.2 154.2H510.9V160.1H508.2ZM579.8 154.2H603.9V160.1H579.8ZM610.8 154.2H665.9V160.1H610.8ZM680 154.2H685V160.1H680ZM689.5 154.2H711.3V160.1H689.5ZM484.4 159.8H491.8V165.8H484.4ZM496.3 159.8H499V165.8H496.3ZM508.2 159.8H510.9V165.8H508.2ZM579.8 159.8H603.9V165.8H579.8ZM610.8 159.8H665.9V165.8H610.8ZM680 159.8H685V165.8H680ZM689.5 159.8H713.6V165.8H689.5ZM484.4 165.5H489.5V171.4H484.4ZM496.3 165.5H499V171.4H496.3ZM508.2 165.5H510.9V171.4H508.2ZM579.8 165.5H606.3V171.4H579.8ZM610.8 165.5H665.9V171.4H610.8ZM680 165.5H713.6V171.4H680ZM484.4 171.1H489.5V177.1H484.4ZM496.3 171.1H499V177.1H496.3ZM508.2 171.1H510.9V177.1H508.2ZM579.8 171.1H606.3V177.1H579.8ZM610.8 171.1H665.9V177.1H610.8ZM680 171.1H713.6V177.1H680ZM484.4 176.8H489.5V182.7H484.4ZM496.3 176.8H499V182.7H496.3ZM508.2 176.8H510.9V182.7H508.2ZM579.8 176.8H615.9V182.7H579.8ZM641.8 176.8H665.9V182.7H641.8ZM680 176.8H713.6V182.7H680ZM486.8 182.4H489.5V188.3H486.8ZM496.3 182.4H499V188.3H496.3ZM508.2 182.4H510.9V188.3H508.2ZM579.8 182.4H613.5V188.3H579.8ZM646.6 182.4H665.9V188.3H646.6ZM680 182.4H713.6V188.3H680ZM496.3 188H499V194H496.3ZM508.2 188H510.9V194H508.2ZM577.4 188H584.8V194H577.4ZM596.5 188H599.2V194H596.5ZM601.2 188H611.1V194H601.2ZM648.9 188H663.6V194H648.9ZM680 188H713.6V194H680ZM508.2 193.7H510.9V199.6H508.2ZM577.4 193.7H582.5V199.6H577.4ZM680 193.7H713.6V199.6H680ZM567.9 199.3H570.5V205.3H567.9ZM572.6 199.3H580.1V205.3H572.6ZM677.6 199.3H711.3V205.3H677.6ZM565.5 205H577.7V210.9H565.5ZM677.6 205H708.9V210.9H677.6ZM563.1 210.6H570.5V216.5H563.1ZM677.6 210.6H706.5V216.5H677.6ZM560.7 216.2H565.8V222.2H560.7ZM677.6 216.2H704.1V222.2H677.6ZM558.3 221.9H563.4V227.8H558.3ZM677.6 221.9H704.1V227.8H677.6ZM555.9 227.5H561V233.5H555.9ZM677.6 227.5H701.7V233.5H677.6ZM558.3 233.2H563.4V239.1H558.3ZM677.6 233.2H699.3V239.1H677.6ZM563.1 238.8H565.8V244.7H563.1ZM677.6 238.8H696.9V244.7H677.6ZM567.9 244.4H570.5V250.4H567.9ZM677.6 244.4H692.2V250.4H677.6ZM570.2 250.1H572.9V256H570.2ZM675.2 250.1H687.4V256H675.2ZM575 255.7H577.7V261.7H575ZM663.3 255.7H680.2V261.7H663.3ZM508.2 261.4H510.9V267.3H508.2ZM579.8 261.4H582.5V267.3H579.8ZM653.7 261.4H661.2V267.3H653.7ZM496.3 267H499V272.9H496.3ZM591.7 267H594.4V272.9H591.7ZM608.4 267H618.2V272.9H608.4ZM625.1 267H630.2V272.9H625.1ZM641.8 267H646.9V272.9H641.8ZM493.9 272.6H499V278.6H493.9ZM510.6 272.6H513.3V278.6H510.6ZM491.5 278.3H496.6V284.2H491.5ZM489.2 283.9H494.2V289.9H489.2ZM489.2 289.6H491.8V295.5H489.2ZM489.2 295.2H491.8V301.1H489.2ZM489.2 300.8H491.8V306.8H489.2ZM522.5 300.8H525.2V306.8H522.5ZM634.6 300.8H723.2V306.8H634.6ZM489.2 306.5H491.8V312.4H489.2ZM522.5 306.5H525.2V312.4H522.5ZM634.6 306.5H637.3V312.4H634.6ZM725.3 306.5H730.3V312.4H725.3ZM489.2 312.1H491.8V318.1H489.2ZM522.5 312.1H525.2V318.1H522.5ZM489.2 317.8H491.8V323.7H489.2ZM489.2 323.4H491.8V329.3H489.2ZM489.2 329H491.8V335H489.2ZM529.7 329H532.4V335H529.7ZM489.2 334.7H494.2V340.6H489.2ZM493.9 340.3H499V346.3H493.9ZM524.9 340.3H527.6V346.3H524.9ZM489.2 346H499V351.9H489.2ZM522.5 346H530V351.9H522.5ZM459.3 351.6H475.1V357.5H459.3ZM648.9 351.6H737.5V357.5H648.9ZM459.3 357.2H494.2V369.2H459.3ZM527.3 357.2H757.8V369.2H527.3Z"/>
<path fill="#afff50" d="M505.8 74.8H508.5V86.8H505.8ZM670.4 74.8H675.5V86.8H670.4ZM505.8 86.5H508.5V92.5H505.8ZM670.4 86.5H675.5V92.5H670.4ZM670.4 92.2H675.5V98.1H670.4ZM670.4 97.8H675.5V103.7H670.4ZM670.4 103.4H675.5V109.4H670.4ZM670.4 109.1H675.5V115H670.4ZM668 114.7H677.9V120.7H668ZM668 120.4H677.9V126.3H668ZM668 126H677.9V131.9H668ZM668 131.6H677.9V137.6H668ZM668 137.3H677.9V143.2H668ZM665.6 142.9H680.2V148.9H665.6ZM665.6 148.6H680.2V154.5H665.6ZM665.6 154.2H680.2V160.1H665.6ZM665.6 159.8H680.2V165.8H665.6ZM665.6 165.5H680.2V171.4H665.6ZM665.6 171.1H680.2V177.1H665.6ZM615.6 176.8H642.1V182.7H615.6ZM665.6 176.8H680.2V182.7H665.6ZM613.2 182.4H646.9V188.3H613.2ZM665.6 182.4H680.2V188.3H665.6ZM584.5 188H596.8V194H584.5ZM598.9 188H601.5V194H598.9ZM610.8 188H649.2V194H610.8ZM663.3 188H680.2V194H663.3ZM582.2 193.7H680.2V199.6H582.2ZM508.2 199.3H510.9V205.3H508.2ZM579.8 199.3H587.2V205.3H579.8ZM637 199.3H677.9V205.3H637ZM508.2 205H510.9V210.9H508.2ZM577.4 205H580.1V210.9H577.4ZM658.5 205H677.9V210.9H658.5ZM570.2 210.6H577.7V216.5H570.2ZM660.9 210.6H677.9V216.5H660.9ZM565.5 216.2H572.9V222.2H565.5ZM660.9 216.2H677.9V222.2H660.9ZM563.1 221.9H570.5V227.8H563.1ZM672.8 221.9H677.9V227.8H672.8ZM560.7 227.5H568.2V233.5H560.7ZM675.2 227.5H677.9V233.5H675.2ZM508.2 233.2H510.9V239.1H508.2ZM563.1 233.2H565.8V239.1H563.1ZM675.2 233.2H677.9V239.1H675.2ZM498.7 238.8H501.4V244.7H498.7ZM565.5 238.8H568.2V244.7H565.5ZM675.2 238.8H677.9V244.7H675.2ZM498.7 244.4H501.4V250.4H498.7ZM672.8 244.4H677.9V250.4H672.8ZM498.7 250.1H501.4V256H498.7ZM572.6 250.1H575.3V256H572.6ZM658.5 250.1H665.9V256H658.5ZM670.4 250.1H675.5V256H670.4ZM498.7 255.7H501.4V261.7H498.7ZM577.4 255.7H580.1V261.7H577.4ZM653.7 255.7H663.6V261.7H653.7ZM498.7 261.4H501.4V267.3H498.7ZM582.2 261.4H587.2V267.3H582.2ZM648.9 261.4H654V267.3H648.9ZM498.7 267H501.4V272.9H498.7ZM508.2 267H510.9V272.9H508.2ZM594.1 267H596.8V272.9H594.1ZM603.6 267H608.7V272.9H603.6ZM629.9 267H632.5V272.9H629.9ZM637 267H642.1V272.9H637ZM498.7 272.6H501.4V278.6H498.7ZM508.2 272.6H510.9V278.6H508.2ZM496.3 278.3H501.4V284.2H496.3ZM515.4 278.3H518.1V284.2H515.4ZM493.9 283.9H496.6V289.9H493.9ZM517.8 283.9H520.5V289.9H517.8ZM491.5 289.6H494.2V295.5H491.5ZM520.2 289.6H522.8V295.5H520.2ZM491.5 295.2H494.2V301.1H491.5ZM637 306.5H639.7V312.4H637ZM722.9 306.5H725.6V312.4H722.9ZM491.5 317.8H494.2V323.7H491.5ZM491.5 323.4H494.2V329.3H491.5ZM491.5 329H494.2V335H491.5ZM493.9 334.7H496.6V340.6H493.9ZM527.3 334.7H530V340.6H527.3ZM498.7 340.3H501.4V346.3H498.7ZM522.5 340.3H525.2V346.3H522.5ZM498.7 346H508.5V351.9H498.7ZM515.4 346H522.8V351.9H515.4ZM474.8 351.6H491.8V357.5H474.8ZM632.2 351.6H649.2V357.5H632.2ZM493.9 357.2H527.6V369.2H493.9Z"/>
<path fill="#bfff40" d="M505.8 92.2H508.5V98.1H505.8ZM505.8 97.8H508.5V103.7H505.8ZM505.8 103.4H508.5V109.4H505.8ZM505.8 109.1H508.5V115H505.8ZM505.8 114.7H508.5V120.7H505.8ZM505.8 120.4H508.5V126.3H505.8ZM505.8 126H508.5V131.9H505.8ZM505.8 131.6H508.5V137.6H505.8ZM505.8 137.3H508.5V143.2H505.8ZM498.7 142.9H501.4V148.9H498.7ZM505.8 142.9H508.5V148.9H505.8ZM498.7 148.6H501.4V154.5H498.7ZM505.8 148.6H508.5V154.5H505.8ZM498.7 154.2H501.4V160.1H498.7ZM505.8 154.2H508.5V160.1H505.8ZM498.7 159.8H501.4V165.8H498.7ZM505.8 159.8H508.5V165.8H505.8ZM498.7 165.5H501.4V171.4H498.7ZM505.8 165.5H508.5V171.4H505.8ZM498.7 171.1H501.4V177.1H498.7ZM505.8 171.1H508.5V177.1H505.8ZM498.7 176.8H501.4V182.7H498.7ZM498.7 182.4H501.4V188.3H498.7ZM498.7 188H501.4V194H498.7ZM498.7 193.7H501.4V199.6H498.7ZM498.7 199.3H501.4V205.3H498.7ZM586.9 199.3H637.3V205.3H586.9ZM498.7 205H501.4V210.9H498.7ZM579.8 205H587.2V210.9H579.8ZM622.7 205H658.8V210.9H622.7ZM498.7 210.6H501.4V216.5H498.7ZM508.2 210.6H510.9V216.5H508.2ZM577.4 210.6H582.5V216.5H577.4ZM641.8 210.6H646.9V216.5H641.8ZM656.1 210.6H661.2V216.5H656.1ZM498.7 216.2H501.4V222.2H498.7ZM508.2 216.2H510.9V222.2H508.2ZM572.6 216.2H577.7V222.2H572.6ZM658.5 216.2H661.2V222.2H658.5ZM498.7 221.9H501.4V227.8H498.7ZM508.2 221.9H510.9V227.8H508.2ZM570.2 221.9H575.3V227.8H570.2ZM658.5 221.9H673.1V227.8H658.5ZM498.7 227.5H501.4V233.5H498.7ZM508.2 227.5H510.9V233.5H508.2ZM567.9 227.5H572.9V233.5H567.9ZM658.5 227.5H665.9V233.5H658.5ZM672.8 227.5H675.5V233.5H672.8ZM498.7 233.2H501.4V239.1H498.7ZM565.5 233.2H570.5V239.1H565.5ZM658.5 233.2H663.6V239.1H658.5ZM672.8 233.2H675.5V239.1H672.8ZM567.9 238.8H572.9V244.7H567.9ZM658.5 238.8H663.6V244.7H658.5ZM672.8 238.8H675.5V244.7H672.8ZM570.2 244.4H575.3V250.4H570.2ZM656.1 244.4H665.9V250.4H656.1ZM575 250.1H577.7V256H575ZM653.7 250.1H658.8V256H653.7ZM665.6 250.1H670.7V256H665.6ZM579.8 255.7H582.5V261.7H579.8ZM651.3 255.7H654V261.7H651.3ZM586.9 261.4H589.6V267.3H586.9ZM615.6 261.4H625.4V267.3H615.6ZM646.6 261.4H649.2V267.3H646.6ZM596.5 267H603.9V272.9H596.5ZM632.2 267H637.3V272.9H632.2ZM501.1 272.6H503.8V278.6H501.1ZM510.6 278.3H515.7V284.2H510.6ZM496.3 283.9H499V289.9H496.3ZM515.4 283.9H518.1V289.9H515.4ZM493.9 289.6H496.6V295.5H493.9ZM520.2 295.2H522.8V301.1H520.2ZM491.5 300.8H494.2V306.8H491.5ZM491.5 306.5H494.2V312.4H491.5ZM639.4 306.5H649.2V312.4H639.4ZM715.7 306.5H723.2V312.4H715.7ZM491.5 312.1H494.2V318.1H491.5ZM522.5 317.8H525.2V323.7H522.5ZM524.9 323.4H527.6V329.3H524.9ZM493.9 329H496.6V335H493.9ZM527.3 329H530V335H527.3ZM496.3 334.7H499V340.6H496.3ZM501.1 340.3H503.8V346.3H501.1ZM520.2 340.3H522.8V346.3H520.2ZM508.2 346H515.7V351.9H508.2ZM491.5 351.6H501.4V357.5H491.5ZM536.9 351.6H632.5V357.5H536.9Z"/>
<path fill="#cfff30" d="M498.7 74.8H501.4V86.8H498.7ZM498.7 86.5H501.4V92.5H498.7ZM498.7 92.2H501.4V98.1H498.7ZM498.7 97.8H501.4V103.7H498.7ZM498.7 103.4H501.4V109.4H498.7ZM498.7 109.1H501.4V115H498.7ZM498.7 114.7H501.4V120.7H498.7ZM498.7 120.4H501.4V126.3H498.7ZM498.7 126H501.4V131.9H498.7ZM498.7 131.6H501.4V137.6H498.7ZM498.7 137.3H501.4V143.2H498.7ZM505.8 176.8H508.5V182.7H505.8ZM505.8 182.4H508.5V188.3H505.8ZM586.9 205H596.8V210.9H586.9ZM603.6 205H623V210.9H603.6ZM582.2 210.6H584.8V216.5H582.2ZM622.7 210.6H630.2V216.5H622.7ZM632.2 210.6H642.1V216.5H632.2ZM646.6 210.6H651.6V216.5H646.6ZM653.7 210.6H656.4V216.5H653.7ZM577.4 216.2H580.1V222.2H577.4ZM639.4 216.2H646.9V222.2H639.4ZM656.1 216.2H658.8V222.2H656.1ZM575 221.9H577.7V227.8H575ZM572.6 227.5H575.3V233.5H572.6ZM665.6 227.5H668.3V233.5H665.6ZM670.4 227.5H673.1V233.5H670.4ZM570.2 233.2H575.3V239.1H570.2ZM656.1 233.2H658.8V239.1H656.1ZM663.3 233.2H665.9V239.1H663.3ZM572.6 238.8H575.3V244.7H572.6ZM656.1 238.8H658.8V244.7H656.1ZM663.3 238.8H665.9V244.7H663.3ZM505.8 244.4H508.5V250.4H505.8ZM575 244.4H577.7V250.4H575ZM653.7 244.4H656.4V250.4H653.7ZM665.6 244.4H673.1V250.4H665.6ZM505.8 250.1H508.5V256H505.8ZM577.4 250.1H580.1V256H577.4ZM505.8 255.7H508.5V261.7H505.8ZM582.2 255.7H584.8V261.7H582.2ZM648.9 255.7H651.6V261.7H648.9ZM505.8 261.4H508.5V267.3H505.8ZM589.3 261.4H592V267.3H589.3ZM610.8 261.4H615.9V267.3H610.8ZM625.1 261.4H627.8V267.3H625.1ZM644.2 261.4H646.9V267.3H644.2ZM501.1 267H503.8V272.9H501.1ZM505.8 267H508.5V272.9H505.8ZM503.5 272.6H508.5V278.6H503.5ZM501.1 278.3H510.9V284.2H501.1ZM498.7 283.9H501.4V289.9H498.7ZM496.3 289.6H499V295.5H496.3ZM517.8 289.6H520.5V295.5H517.8ZM493.9 295.2H496.6V301.1H493.9ZM520.2 300.8H522.8V306.8H520.2ZM520.2 306.5H522.8V312.4H520.2ZM648.9 306.5H716V312.4H648.9ZM520.2 312.1H522.8V318.1H520.2ZM493.9 317.8H496.6V323.7H493.9ZM493.9 323.4H496.6V329.3H493.9ZM496.3 329H499V335H496.3ZM498.7 334.7H501.4V340.6H498.7ZM524.9 334.7H527.6V340.6H524.9ZM503.5 340.3H506.1V346.3H503.5ZM517.8 340.3H520.5V346.3H517.8ZM501.1 351.6H537.1V357.5H501.1Z"/>
<path fill="#dfff20" d="M505.8 188H508.5V194H505.8ZM596.5 205H603.9V210.9H596.5ZM584.5 210.6H589.6V216.5H584.5ZM613.2 210.6H623V216.5H613.2ZM629.9 210.6H632.5V216.5H629.9ZM651.3 210.6H654V216.5H651.3ZM579.8 216.2H584.8V222.2H579.8ZM637 216.2H639.7V222.2H637ZM646.6 216.2H649.2V222.2H646.6ZM653.7 216.2H656.4V222.2H653.7ZM577.4 221.9H580.1V227.8H577.4ZM639.4 221.9H646.9V227.8H639.4ZM656.1 221.9H658.8V227.8H656.1ZM575 227.5H577.7V233.5H575ZM656.1 227.5H658.8V233.5H656.1ZM668 227.5H670.7V233.5H668ZM575 233.2H577.7V239.1H575ZM665.6 233.2H668.3V239.1H665.6ZM670.4 233.2H673.1V239.1H670.4ZM575 238.8H577.7V244.7H575ZM665.6 238.8H668.3V244.7H665.6ZM670.4 238.8H673.1V244.7H670.4ZM577.4 244.4H580.1V250.4H577.4ZM501.1 250.1H503.8V256H501.1ZM579.8 250.1H582.5V256H579.8ZM651.3 250.1H654V256H651.3ZM501.1 255.7H503.8V261.7H501.1ZM584.5 255.7H587.2V261.7H584.5ZM617.9 255.7H625.4V261.7H617.9ZM646.6 255.7H649.2V261.7H646.6ZM501.1 261.4H503.8V267.3H501.1ZM591.7 261.4H594.4V267.3H591.7ZM606 261.4H611.1V267.3H606ZM627.5 261.4H630.2V267.3H627.5ZM639.4 261.4H644.5V267.3H639.4ZM503.5 267H506.1V272.9H503.5ZM501.1 283.9H503.8V289.9H501.1ZM513 283.9H515.7V289.9H513ZM517.8 295.2H520.5V301.1H517.8ZM493.9 300.8H496.6V306.8H493.9ZM493.9 306.5H496.6V312.4H493.9ZM493.9 312.1H496.6V318.1H493.9ZM496.3 323.4H499V329.3H496.3ZM524.9 329H527.6V335H524.9ZM522.5 334.7H525.2V340.6H522.5ZM505.8 340.3H518.1V346.3H505.8Z"/>
<path fill="#efff10" d="M503.5 74.8H506.1V86.8H503.5ZM503.5 86.5H506.1V92.5H503.5ZM503.5 92.2H506.1V98.1H503.5ZM503.5 97.8H506.1V103.7H503.5ZM503.5 103.4H506.1V109.4H503.5ZM503.5 109.1H506.1V115H503.5ZM503.5 114.7H506.1V120.7H503.5ZM503.5 120.4H506.1V126.3H503.5ZM503.5 126H506.1V131.9H503.5ZM503.5 131.6H506.1V137.6H503.5ZM501.1 137.3H506.1V143.2H501.1ZM501.1 142.9H506.1V148.9H501.1ZM501.1 148.6H506.1V154.5H501.1ZM501.1 154.2H506.1V160.1H501.1ZM501.1 159.8H506.1V165.8H501.1ZM501.1 165.5H506.1V171.4H501.1ZM501.1 171.1H506.1V177.1H501.1ZM501.1 176.8H503.8V182.7H501.1ZM501.1 182.4H503.8V188.3H501.1ZM505.8 193.7H508.5V199.6H505.8ZM589.3 210.6H596.8V216.5H589.3ZM606 210.6H613.5V216.5H606ZM584.5 216.2H587.2V222.2H584.5ZM617.9 216.2H637.3V222.2H617.9ZM648.9 216.2H654V222.2H648.9ZM579.8 221.9H582.5V227.8H579.8ZM637 221.9H639.7V227.8H637ZM646.6 221.9H649.2V227.8H646.6ZM653.7 221.9H656.4V227.8H653.7ZM577.4 227.5H580.1V233.5H577.4ZM639.4 227.5H646.9V233.5H639.4ZM577.4 233.2H580.1V239.1H577.4ZM641.8 233.2H644.5V239.1H641.8ZM653.7 233.2H656.4V239.1H653.7ZM668 233.2H670.7V239.1H668ZM501.1 238.8H503.8V244.7H501.1ZM505.8 238.8H508.5V244.7H505.8ZM577.4 238.8H580.1V244.7H577.4ZM653.7 238.8H656.4V244.7H653.7ZM668 238.8H670.7V244.7H668ZM501.1 244.4H503.8V250.4H501.1ZM579.8 244.4H582.5V250.4H579.8ZM651.3 244.4H654V250.4H651.3ZM582.2 250.1H584.8V256H582.2ZM648.9 250.1H651.6V256H648.9ZM586.9 255.7H589.6V261.7H586.9ZM613.2 255.7H618.2V261.7H613.2ZM625.1 255.7H627.8V261.7H625.1ZM641.8 255.7H646.9V261.7H641.8ZM503.5 261.4H506.1V267.3H503.5ZM594.1 261.4H596.8V267.3H594.1ZM603.6 261.4H606.3V267.3H603.6ZM629.9 261.4H632.5V267.3H629.9ZM637 261.4H639.7V267.3H637ZM503.5 283.9H506.1V289.9H503.5ZM510.6 283.9H513.3V289.9H510.6ZM498.7 289.6H501.4V295.5H498.7ZM515.4 289.6H518.1V295.5H515.4ZM496.3 295.2H499V301.1H496.3ZM517.8 300.8H520.5V306.8H517.8ZM496.3 317.8H499V323.7H496.3ZM520.2 317.8H522.8V323.7H520.2ZM522.5 323.4H525.2V329.3H522.5ZM501.1 334.7H503.8V340.6H501.1Z"/>
<path fill="#ffff00" d="M501.1 74.8H503.8V86.8H501.1ZM501.1 86.5H503.8V92.5H501.1ZM501.1 92.2H503.8V98.1H501.1ZM501.1 97.8H503.8V103.7H501.1ZM501.1 103.4H503.8V109.4H501.1ZM501.1 109.1H503.8V115H501.1ZM501.1 114.7H503.8V120.7H501.1ZM501.1 120.4H503.8V126.3H501.1ZM501.1 126H503.8V131.9H501.1ZM501.1 131.6H503.8V137.6H501.1ZM503.5 176.8H506.1V182.7H503.5ZM503.5 182.4H506.1V188.3H503.5ZM501.1 188H503.8V194H501.1ZM501.1 193.7H503.8V199.6H501.1ZM505.8 199.3H508.5V205.3H505.8ZM596.5 210.6H606.3V216.5H596.5ZM586.9 216.2H589.6V222.2H586.9ZM613.2 216.2H618.2V222.2H613.2ZM582.2 221.9H584.8V227.8H582.2ZM620.3 221.9H632.5V227.8H620.3ZM634.6 221.9H637.3V227.8H634.6ZM579.8 227.5H582.5V233.5H579.8ZM637 227.5H639.7V233.5H637ZM653.7 227.5H656.4V233.5H653.7ZM501.1 233.2H503.8V239.1H501.1ZM505.8 233.2H508.5V239.1H505.8ZM579.8 233.2H582.5V239.1H579.8ZM639.4 233.2H642.1V239.1H639.4ZM644.2 233.2H646.9V239.1H644.2ZM579.8 238.8H582.5V244.7H579.8ZM639.4 238.8H646.9V244.7H639.4ZM582.2 244.4H584.8V250.4H582.2ZM639.4 244.4H646.9V250.4H639.4ZM648.9 244.4H651.6V250.4H648.9ZM503.5 250.1H506.1V256H503.5ZM584.5 250.1H587.2V256H584.5ZM617.9 250.1H627.8V256H617.9ZM641.8 250.1H649.2V256H641.8ZM503.5 255.7H506.1V261.7H503.5ZM589.3 255.7H592V261.7H589.3ZM608.4 255.7H613.5V261.7H608.4ZM627.5 255.7H630.2V261.7H627.5ZM639.4 255.7H642.1V261.7H639.4ZM596.5 261.4H603.9V267.3H596.5ZM632.2 261.4H637.3V267.3H632.2ZM505.8 283.9H510.9V289.9H505.8ZM496.3 300.8H499V306.8H496.3ZM517.8 306.5H520.5V312.4H517.8ZM496.3 312.1H499V318.1H496.3ZM517.8 312.1H520.5V318.1H517.8ZM498.7 329H501.4V335H498.7ZM522.5 329H525.2V335H522.5ZM520.2 334.7H522.8V340.6H520.2Z"/>
<path fill="#ffef00" d="M503.5 188H506.1V194H503.5ZM501.1 199.3H503.8V205.3H501.1ZM501.1 205H503.8V210.9H501.1ZM505.8 205H508.5V210.9H505.8ZM589.3 216.2H592V222.2H589.3ZM608.4 216.2H613.5V222.2H608.4ZM584.5 221.9H587.2V227.8H584.5ZM615.6 221.9H620.6V227.8H615.6ZM632.2 221.9H634.9V227.8H632.2ZM648.9 221.9H654V227.8H648.9ZM501.1 227.5H503.8V233.5H501.1ZM582.2 227.5H584.8V233.5H582.2ZM620.3 227.5H630.2V233.5H620.3ZM646.6 227.5H649.2V233.5H646.6ZM582.2 233.2H584.8V239.1H582.2ZM622.7 233.2H625.4V239.1H622.7ZM637 233.2H639.7V239.1H637ZM646.6 233.2H649.2V239.1H646.6ZM582.2 238.8H584.8V244.7H582.2ZM620.3 238.8H625.4V244.7H620.3ZM646.6 238.8H649.2V244.7H646.6ZM651.3 238.8H654V244.7H651.3ZM503.5 244.4H506.1V250.4H503.5ZM617.9 244.4H627.8V250.4H617.9ZM646.6 244.4H649.2V250.4H646.6ZM586.9 250.1H589.6V256H586.9ZM613.2 250.1H618.2V256H613.2ZM639.4 250.1H642.1V256H639.4ZM591.7 255.7H594.4V261.7H591.7ZM606 255.7H608.7V261.7H606ZM629.9 255.7H632.5V261.7H629.9ZM637 255.7H639.7V261.7H637ZM501.1 289.6H503.8V295.5H501.1ZM513 289.6H515.7V295.5H513ZM515.4 295.2H518.1V301.1H515.4ZM496.3 306.5H499V312.4H496.3ZM498.7 323.4H501.4V329.3H498.7ZM503.5 334.7H506.1V340.6H503.5Z"/>
<path fill="#ffdf00" d="M503.5 193.7H506.1V199.6H503.5ZM501.1 210.6H503.8V216.5H501.1ZM505.8 210.6H508.5V216.5H505.8ZM501.1 216.2H503.8V222.2H501.1ZM591.7 216.2H599.2V222.2H591.7ZM601.2 216.2H608.7V222.2H601.2ZM501.1 221.9H503.8V227.8H501.1ZM586.9 221.9H589.6V227.8H586.9ZM613.2 221.9H615.9V227.8H613.2ZM505.8 227.5H508.5V233.5H505.8ZM584.5 227.5H587.2V233.5H584.5ZM615.6 227.5H620.6V233.5H615.6ZM629.9 227.5H637.3V233.5H629.9ZM648.9 227.5H654V233.5H648.9ZM617.9 233.2H623V239.1H617.9ZM625.1 233.2H630.2V239.1H625.1ZM648.9 233.2H654V239.1H648.9ZM503.5 238.8H506.1V244.7H503.5ZM617.9 238.8H620.6V244.7H617.9ZM625.1 238.8H627.8V244.7H625.1ZM637 238.8H639.7V244.7H637ZM648.9 238.8H651.6V244.7H648.9ZM584.5 244.4H587.2V250.4H584.5ZM615.6 244.4H618.2V250.4H615.6ZM627.5 244.4H630.2V250.4H627.5ZM637 244.4H639.7V250.4H637ZM589.3 250.1H592V256H589.3ZM610.8 250.1H613.5V256H610.8ZM627.5 250.1H630.2V256H627.5ZM637 250.1H639.7V256H637ZM594.1 255.7H596.8V261.7H594.1ZM603.6 255.7H606.3V261.7H603.6ZM632.2 255.7H637.3V261.7H632.2ZM498.7 295.2H501.4V301.1H498.7ZM498.7 317.8H501.4V323.7H498.7ZM517.8 317.8H520.5V323.7H517.8ZM520.2 323.4H522.8V329.3H520.2ZM501.1 329H503.8V335H501.1ZM505.8 334.7H508.5V340.6H505.8ZM517.8 334.7H520.5V340.6H517.8Z"/>
<path fill="#ffcf00" d="M505.8 216.2H508.5V222.2H505.8ZM598.9 216.2H601.5V222.2H598.9ZM505.8 221.9H508.5V227.8H505.8ZM589.3 221.9H592V227.8H589.3ZM608.4 221.9H613.5V227.8H608.4ZM613.2 227.5H615.9V233.5H613.2ZM584.5 233.2H587.2V239.1H584.5ZM615.6 233.2H618.2V239.1H615.6ZM629.9 233.2H632.5V239.1H629.9ZM634.6 233.2H637.3V239.1H634.6ZM584.5 238.8H587.2V244.7H584.5ZM615.6 238.8H618.2V244.7H615.6ZM627.5 238.8H630.2V244.7H627.5ZM586.9 244.4H589.6V250.4H586.9ZM613.2 244.4H615.9V250.4H613.2ZM591.7 250.1H594.4V256H591.7ZM608.4 250.1H611.1V256H608.4ZM629.9 250.1H632.5V256H629.9ZM634.6 250.1H637.3V256H634.6ZM596.5 255.7H603.9V261.7H596.5ZM503.5 289.6H506.1V295.5H503.5ZM510.6 289.6H513.3V295.5H510.6ZM515.4 300.8H518.1V306.8H515.4ZM515.4 306.5H518.1V312.4H515.4ZM520.2 329H522.8V335H520.2ZM515.4 334.7H518.1V340.6H515.4Z"/>
<path fill="#ffbf00" d="M503.5 199.3H506.1V205.3H503.5ZM591.7 221.9H594.4V227.8H591.7ZM606 221.9H608.7V227.8H606ZM586.9 227.5H589.6V233.5H586.9ZM610.8 227.5H613.5V233.5H610.8ZM503.5 233.2H506.1V239.1H503.5ZM586.9 233.2H589.6V239.1H586.9ZM613.2 233.2H615.9V239.1H613.2ZM632.2 233.2H634.9V239.1H632.2ZM586.9 238.8H589.6V244.7H586.9ZM613.2 238.8H615.9V244.7H613.2ZM629.9 238.8H637.3V244.7H629.9ZM589.3 244.4H592V250.4H589.3ZM610.8 244.4H613.5V250.4H610.8ZM629.9 244.4H632.5V250.4H629.9ZM634.6 244.4H637.3V250.4H634.6ZM594.1 250.1H596.8V256H594.1ZM606 250.1H608.7V256H606ZM632.2 250.1H634.9V256H632.2ZM505.8 289.6H510.9V295.5H505.8ZM513 295.2H515.7V301.1H513ZM498.7 300.8H501.4V306.8H498.7ZM498.7 306.5H501.4V312.4H498.7ZM498.7 312.1H501.4V318.1H498.7ZM515.4 312.1H518.1V318.1H515.4ZM501.1 323.4H503.8V329.3H501.1ZM503.5 329H506.1V335H503.5ZM508.2 334.7H515.7V340.6H508.2Z"/>
<path fill="#ffaf00" d="M503.5 205H506.1V210.9H503.5ZM594.1 221.9H606.3V227.8H594.1ZM503.5 227.5H506.1V233.5H503.5ZM589.3 227.5H592V233.5H589.3ZM608.4 227.5H611.1V233.5H608.4ZM610.8 233.2H613.5V239.1H610.8ZM589.3 238.8H592V244.7H589.3ZM610.8 238.8H613.5V244.7H610.8ZM591.7 244.4H594.4V250.4H591.7ZM608.4 244.4H611.1V250.4H608.4ZM632.2 244.4H634.9V250.4H632.2ZM596.5 250.1H599.2V256H596.5ZM603.6 250.1H606.3V256H603.6ZM501.1 295.2H503.8V301.1H501.1ZM515.4 317.8H518.1V323.7H515.4ZM517.8 323.4H520.5V329.3H517.8ZM517.8 329H520.5V335H517.8Z"/>
<path fill="#ff9f00" d="M503.5 210.6H506.1V216.5H503.5ZM503.5 216.2H506.1V222.2H503.5ZM503.5 221.9H506.1V227.8H503.5ZM591.7 227.5H594.4V233.5H591.7ZM606 227.5H608.7V233.5H606ZM589.3 233.2H592V239.1H589.3ZM608.4 233.2H611.1V239.1H608.4ZM608.4 238.8H611.1V244.7H608.4ZM594.1 244.4H596.8V250.4H594.1ZM606 244.4H608.7V250.4H606ZM598.9 250.1H603.9V256H598.9ZM513 300.8H515.7V306.8H513ZM501.1 317.8H503.8V323.7H501.1Z"/>
<path fill="#ff8f00" d="M594.1 227.5H596.8V233.5H594.1ZM603.6 227.5H606.3V233.5H603.6ZM591.7 233.2H594.4V239.1H591.7ZM606 233.2H608.7V239.1H606ZM591.7 238.8H594.4V244.7H591.7ZM606 238.8H608.7V244.7H606ZM596.5 244.4H599.2V250.4H596.5ZM601.2 244.4H606.3V250.4H601.2ZM510.6 295.2H513.3V301.1H510.6ZM513 306.5H515.7V312.4H513ZM513 312.1H515.7V318.1H513ZM513 317.8H515.7V323.7H513ZM503.5 323.4H506.1V329.3H503.5ZM515.4 323.4H518.1V329.3H515.4ZM505.8 329H508.5V335H505.8ZM515.4 329H518.1V335H515.4Z"/>
<path fill="#ff8000" d="M596.5 227.5H603.9V233.5H596.5ZM594.1 233.2H596.8V239.1H594.1ZM603.6 233.2H606.3V239.1H603.6ZM594.1 238.8H596.8V244.7H594.1ZM603.6 238.8H606.3V244.7H603.6ZM598.9 244.4H601.5V250.4H598.9ZM503.5 295.2H506.1V301.1H503.5ZM501.1 300.8H503.8V306.8H501.1ZM501.1 312.1H503.8V318.1H501.1ZM508.2 329H510.9V335H508.2Z"/>
<path fill="#ff7000" d="M596.5 233.2H603.9V239.1H596.5ZM596.5 238.8H603.9V244.7H596.5ZM508.2 295.2H510.9V301.1H508.2ZM501.1 306.5H503.8V312.4H501.1ZM503.5 317.8H506.1V323.7H503.5ZM505.8 323.4H508.5V329.3H505.8ZM513 323.4H515.7V329.3H513ZM510.6 329H515.7V335H510.6Z"/>
<path fill="#ff6000" d="M505.8 295.2H508.5V301.1H505.8ZM510.6 300.8H513.3V306.8H510.6ZM510.6 317.8H513.3V323.7H510.6ZM508.2 323.4H513.3V329.3H508.2Z"/>
<path fill="#ff5000" d="M510.6 312.1H513.3V318.1H510.6ZM505.8 317.8H510.9V323.7H505.8Z"/>
<path fill="#ff4000" d="M503.5 300.8H506.1V306.8H503.5ZM510.6 306.5H513.3V312.4H510.6ZM503.5 312.1H506.1V318.1H503.5Z"/>
<path fill="#ff3000" d="M508.2 300.8H510.9V306.8H508.2ZM503.5 306.5H506.1V312.4H503.5ZM508.2 312.1H510.9V318.1H508.2Z"/>
<path fill="#ff2000" d="M505.8 300.8H508.5V306.8H505.8ZM505.8 312.1H508.5V318.1H505.8Z"/>
<path fill="#ff1000" d="M508.2 306.5H510.9V312.4H508.2Z"/>
<path fill="#ff0000" d="M505.8 306.5H508.5V312.4H505.8Z"/>
</g></g>
<path d="M465.3 80.8H751.5V362.8H465.3ZM495.2 362.8v-3 M495.2 80.8v3M525.3 362.8v-3 M525.3 80.8v3M555.4 362.8v-3 M555.4 80.8v3M585.5 362.8v-3 M585.5 80.8v3M615.6 362.8v-3 M615.6 80.8v3M645.7 362.8v-3 M645.7 80.8v3M675.8 362.8v-3 M675.8 80.8v3M705.9 362.8v-3 M705.9 80.8v3M736 362.8v-3 M736 80.8v3M465.3 83.7h3 M751.5 83.7h-3M465.3 111.9h3 M751.5 111.9h-3M465.3 140.1h3 M751.5 140.1h-3M465.3 168.3h3 M751.5 168.3h-3M465.3 196.5h3 M751.5 196.5h-3M465.3 224.7h3 M751.5 224.7h-3M465.3 252.9h3 M751.5 252.9h-3M465.3 281.1h3 M751.5 281.1h-3M465.3 309.3h3 M751.5 309.3h-3M465.3 337.5h3 M751.5 337.5h-3" fill="none" stroke="#000" stroke-width="1"/>
<text x="495.2" y="376.8" font-size="10.5" text-anchor="middle">0</text>
<text x="525.3" y="376.8" font-size="10.5" text-anchor="middle">0.2</text>
<text x="555.4" y="376.8" font-size="10.5" text-anchor="middle">0.4</text>
<text x="585.5" y="376.8" font-size="10.5" text-anchor="middle">0.6</text>
<text x="615.6" y="376.8" font-size="10.5" text-anchor="middle">0.8</text>
<text x="645.7" y="376.8" font-size="10.5" text-anchor="middle">1</text>
<text x="675.8" y="376.8" font-size="10.5" text-anchor="middle">1.2</text>
<text x="705.9" y="376.8" font-size="10.5" text-anchor="middle">1.4</text>
<text x="736" y="376.8" font-size="10.5" text-anchor="middle">1.6</text>
<text x="462.1" y="88.5" font-size="10.5" text-anchor="end">50</text>
<text x="462.1" y="116.7" font-size="10.5" text-anchor="end">45</text>
<text x="462.1" y="144.9" font-size="10.5" text-anchor="end">40</text>
<text x="462.1" y="173.1" font-size="10.5" text-anchor="end">35</text>
<text x="462.1" y="201.3" font-size="10.5" text-anchor="end">30</text>
<text x="462.1" y="229.5" font-size="10.5" text-anchor="end">25</text>
<text x="462.1" y="257.7" font-size="10.5" text-anchor="end">20</text>
<text x="462.1" y="285.9" font-size="10.5" text-anchor="end">15</text>
<text x="462.1" y="314.1" font-size="10.5" text-anchor="end">10</text>
<text x="462.1" y="342.3" font-size="10.5" text-anchor="end">5</text>
<rect x="766.4" y="80.8" width="17.6" height="4.8" fill="#800000"/>
<rect x="766.4" y="85.2" width="17.6" height="4.8" fill="#8f0000"/>
<rect x="766.4" y="89.6" width="17.6" height="4.8" fill="#9f0000"/>
<rect x="766.4" y="94" width="17.6" height="4.8" fill="#af0000"/>
<rect x="766.4" y="98.4" width="17.6" height="4.8" fill="#bf0000"/>
<rect x="766.4" y="102.9" width="17.6" height="4.8" fill="#cf0000"/>
<rect x="766.4" y="107.3" width="17.6" height="4.8" fill="#df0000"/>
<rect x="766.4" y="111.7" width="17.6" height="4.8" fill="#ef0000"/>
<rect x="766.4" y="116.1" width="17.6" height="4.8" fill="#ff0000"/>
<rect x="766.4" y="120.5" width="17.6" height="4.8" fill="#ff1000"/>
<rect x="766.4" y="124.9" width="17.6" height="4.8" fill="#ff2000"/>
<rect x="766.4" y="129.3" width="17.6" height="4.8" fill="#ff3000"/>
<rect x="766.4" y="133.8" width="17.6" height="4.8" fill="#ff4000"/>
<rect x="766.4" y="138.2" width="17.6" height="4.8" fill="#ff5000"/>
<rect x="766.4" y="142.6" width="17.6" height="4.8" fill="#ff6000"/>
<rect x="766.4" y="147" width="17.6" height="4.8" fill="#ff7000"/>
<rect x="766.4" y="151.4" width="17.6" height="4.8" fill="#ff8000"/>
<rect x="766.4" y="155.8" width="17.6" height="4.8" fill="#ff8f00"/>
<rect x="766.4" y="160.2" width="17.6" height="4.8" fill="#ff9f00"/>
<rect x="766.4" y="164.6" width="17.6" height="4.8" fill="#ffaf00"/>
<rect x="766.4" y="169.1" width="17.6" height="4.8" fill="#ffbf00"/>
<rect x="766.4" y="173.5" width="17.6" height="4.8" fill="#ffcf00"/>
<rect x="766.4" y="177.9" width="17.6" height="4.8" fill="#ffdf00"/>
<rect x="766.4" y="182.3" width="17.6" height="4.8" fill="#ffef00"/>
<rect x="766.4" y="186.7" width="17.6" height="4.8" fill="#ffff00"/>
<rect x="766.4" y="191.1" width="17.6" height="4.8" fill="#efff10"/>
<rect x="766.4" y="195.5" width="17.6" height="4.8" fill="#dfff20"/>
<rect x="766.4" y="199.9" width="17.6" height="4.8" fill="#cfff30"/>
<rect x="766.4" y="204.3" width="17.6" height="4.8" fill="#bfff40"/>
<rect x="766.4" y="208.8" width="17.6" height="4.8" fill="#afff50"/>
<rect x="766.4" y="213.2" width="17.6" height="4.8" fill="#9fff60"/>
<rect x="766.4" y="217.6" width="17.6" height="4.8" fill="#8fff70"/>
<rect x="766.4" y="222" width="17.6" height="4.8" fill="#80ff80"/>
<rect x="766.4" y="226.4" width="17.6" height="4.8" fill="#70ff8f"/>
<rect x="766.4" y="230.8" width="17.6" height="4.8" fill="#60ff9f"/>
<rect x="766.4" y="235.2" width="17.6" height="4.8" fill="#50ffaf"/>
<rect x="766.4" y="239.6" width="17.6" height="4.8" fill="#40ffbf"/>
<rect x="766.4" y="244.1" width="17.6" height="4.8" fill="#30ffcf"/>
<rect x="766.4" y="248.5" width="17.6" height="4.8" fill="#20ffdf"/>
<rect x="766.4" y="252.9" width="17.6" height="4.8" fill="#10ffef"/>
<rect x="766.4" y="257.3" width="17.6" height="4.8" fill="#00ffff"/>
<rect x="766.4" y="261.7" width="17.6" height="4.8" fill="#00efff"/>
<rect x="766.4" y="266.1" width="17.6" height="4.8" fill="#00dfff"/>
<rect x="766.4" y="270.5" width="17.6" height="4.8" fill="#00cfff"/>
<rect x="766.4" y="274.9" width="17.6" height="4.8" fill="#00bfff"/>
<rect x="766.4" y="279.4" width="17.6" height="4.8" fill="#00afff"/>
<rect x="766.4" y="283.8" width="17.6" height="4.8" fill="#009fff"/>
<rect x="766.4" y="288.2" width="17.6" height="4.8" fill="#008fff"/>
<rect x="766.4" y="292.6" width="17.6" height="4.8" fill="#0080ff"/>
<rect x="766.4" y="297" width="17.6" height="4.8" fill="#0070ff"/>
<rect x="766.4" y="301.4" width="17.6" height="4.8" fill="#0060ff"/>
<rect x="766.4" y="305.8" width="17.6" height="4.8" fill="#0050ff"/>
<rect x="766.4" y="310.2" width="17.6" height="4.8" fill="#0040ff"/>
<rect x="766.4" y="314.7" width="17.6" height="4.8" fill="#0030ff"/>
<rect x="766.4" y="319.1" width="17.6" height="4.8" fill="#0020ff"/>
<rect x="766.4" y="323.5" width="17.6" height="4.8" fill="#0010ff"/>
<rect x="766.4" y="327.9" width="17.6" height="4.8" fill="#0000ff"/>
<rect x="766.4" y="332.3" width="17.6" height="4.8" fill="#0000ef"/>
<rect x="766.4" y="336.7" width="17.6" height="4.8" fill="#0000df"/>
<rect x="766.4" y="341.1" width="17.6" height="4.8" fill="#0000cf"/>
<rect x="766.4" y="345.6" width="17.6" height="4.8" fill="#0000bf"/>
<rect x="766.4" y="350" width="17.6" height="4.8" fill="#0000af"/>
<rect x="766.4" y="354.4" width="17.6" height="4.8" fill="#00009f"/>
<rect x="766.4" y="358.8" width="17.6" height="4.8" fill="#00008f"/>
<rect x="766.4" y="80.8" width="17.6" height="282.4" fill="none" stroke="#000" stroke-width="0.8"/>
<text x="787" y="85.4" font-size="10">1</text>
<text x="787" y="113.6" font-size="10">0.8</text>
<text x="787" y="141.9" font-size="10">0.6</text>
<text x="787" y="170.1" font-size="10">0.4</text>
<text x="787" y="198.4" font-size="10">0.2</text>
<text x="787" y="226.6" font-size="10">0</text>
<text x="787" y="254.8" font-size="10">-0.2</text>
<text x="787" y="283.1" font-size="10">-0.4</text>
<text x="787" y="311.3" font-size="10">-0.6</text>
<text x="787" y="339.6" font-size="10">-0.8</text>
<text x="787" y="367.8" font-size="10">-1</text>
<path d="M784 109h-3M766.4 109h3M784 137.3h-3M766.4 137.3h3M784 165.5h-3M766.4 165.5h3M784 193.8h-3M766.4 193.8h3M784 222h-3M766.4 222h3M784 250.2h-3M766.4 250.2h3M784 278.5h-3M766.4 278.5h3M784 306.7h-3M766.4 306.7h3M784 335h-3M766.4 335h3" stroke="#000" stroke-width="0.8" fill="none"/>
<text x="805" y="188.5" font-size="18.5" transform="rotate(90 805 188.5)" textLength="119" lengthAdjust="spacingAndGlyphs">Source Power</text>
<text x="429" y="72" font-size="18">B</text>
<text x="610.7" y="70" font-size="18.5" text-anchor="middle">ADHD</text>
<text x="577" y="396.2" font-size="18" textLength="87" lengthAdjust="spacingAndGlyphs">Time (sec)</text>
<text x="443" y="294" font-size="18.5" transform="rotate(-90 443 294)" textLength="131.5" lengthAdjust="spacingAndGlyphs">Frequency (Hz)</text>
<clipPath id="cpC"><rect x="53.6" y="446.3" width="284.7" height="286.9"/></clipPath>
<g clip-path="url(#cpC)"><g filter="url(#bl)">
<path fill="#0010ff" d="M110.5 664.2H113.2V670.3H110.5Z"/>
<path fill="#0020ff" d="M108.2 664.2H110.8V670.3H108.2ZM112.9 664.2H115.6V670.3H112.9Z"/>
<path fill="#0030ff" d="M108.2 658.5H115.6V664.5H108.2ZM105.8 664.2H108.5V670.3H105.8ZM115.3 664.2H118V670.3H115.3Z"/>
<path fill="#0040ff" d="M115.3 658.5H118V664.5H115.3Z"/>
<path fill="#0050ff" d="M105.8 658.5H108.5V664.5H105.8ZM117.7 658.5H120.3V664.5H117.7ZM103.4 664.2H106.1V670.3H103.4ZM117.7 664.2H120.3V670.3H117.7Z"/>
<path fill="#0070ff" d="M103.4 658.5H106.1V664.5H103.4ZM120 658.5H122.7V664.5H120ZM120 664.2H122.7V670.3H120Z"/>
<path fill="#0080ff" d="M101.1 664.2H103.7V670.3H101.1Z"/>
<path fill="#008fff" d="M101.1 658.5H103.7V664.5H101.1ZM122.4 658.5H125.1V664.5H122.4ZM122.4 664.2H125.1V670.3H122.4Z"/>
<path fill="#009fff" d="M124.8 658.5H127.4V664.5H124.8ZM108.2 670H115.6V676H108.2ZM309.8 704.4H344.6V710.5H309.8Z"/>
<path fill="#00afff" d="M108.2 652.8H118V658.8H108.2ZM98.7 664.2H101.4V670.3H98.7ZM124.8 664.2H127.4V670.3H124.8ZM105.8 670H108.5V676H105.8ZM314.6 698.7H344.6V704.7H314.6ZM300.3 704.4H310.1V710.5H300.3Z"/>
<path fill="#00bfff" d="M105.8 652.8H108.5V658.8H105.8ZM117.7 652.8H120.3V658.8H117.7ZM98.7 658.5H101.4V664.5H98.7ZM127.1 658.5H129.8V664.5H127.1ZM103.4 670H106.1V676H103.4ZM115.3 670H118V676H115.3ZM302.7 698.7H314.9V704.7H302.7ZM293.2 704.4H300.6V710.5H293.2Z"/>
<path fill="#00cfff" d="M110.5 589.6H113.2V595.7H110.5ZM103.4 652.8H106.1V658.8H103.4ZM120 652.8H122.7V658.8H120ZM127.1 664.2H129.8V670.3H127.1ZM293.2 698.7H303V704.7H293.2ZM264.8 704.4H293.5V710.5H264.8Z"/>
<path fill="#00dfff" d="M110.5 583.9H115.6V589.9H110.5ZM108.2 589.6H110.8V595.7H108.2ZM112.9 589.6H115.6V595.7H112.9ZM110.5 595.4H115.6V601.4H110.5ZM122.4 652.8H125.1V658.8H122.4ZM129.5 658.5H132.2V664.5H129.5ZM96.3 664.2H99V670.3H96.3ZM101.1 670H103.7V676H101.1ZM117.7 670H120.3V676H117.7ZM262.4 698.7H293.5V704.7H262.4ZM255.3 704.4H265.1V710.5H255.3ZM302.7 710.2H344.6V716.2H302.7Z"/>
<path fill="#00efff" d="M110.5 578.1H113.2V584.2H110.5ZM108.2 583.9H110.8V589.9H108.2ZM108.2 595.4H110.8V601.4H108.2ZM101.1 652.8H103.7V658.8H101.1ZM124.8 652.8H127.4V658.8H124.8ZM96.3 658.5H99V664.5H96.3ZM131.9 658.5H134.6V664.5H131.9ZM129.5 664.2H132.2V670.3H129.5ZM252.9 698.7H262.7V704.7H252.9ZM248.1 704.4H255.6V710.5H248.1ZM267.1 710.2H303V716.2H267.1Z"/>
<path fill="#00ffff" d="M112.9 578.1H115.6V584.2H112.9ZM115.3 583.9H118V589.9H115.3ZM115.3 589.6H118V595.7H115.3ZM115.3 595.4H118V601.4H115.3ZM110.5 601.1H115.6V607.1H110.5ZM127.1 652.8H129.8V658.8H127.1ZM134.3 658.5H136.9V664.5H134.3ZM131.9 664.2H134.6V670.3H131.9ZM98.7 670H101.4V676H98.7ZM120 670H122.7V676H120ZM243.4 698.7H253.2V704.7H243.4ZM238.7 704.4H248.4V710.5H238.7ZM248.1 710.2H267.4V716.2H248.1Z"/>
<path fill="#10ffef" d="M108.2 578.1H110.8V584.2H108.2ZM115.3 578.1H118V584.2H115.3ZM105.8 583.9H108.5V589.9H105.8ZM105.8 589.6H108.5V595.7H105.8ZM105.8 595.4H108.5V601.4H105.8ZM108.2 601.1H110.8V607.1H108.2ZM98.7 652.8H101.4V658.8H98.7ZM129.5 652.8H134.6V658.8H129.5ZM93.9 658.5H96.6V664.5H93.9ZM136.6 658.5H141.7V664.5H136.6ZM93.9 664.2H96.6V670.3H93.9ZM224.4 693H344.6V699H224.4ZM231.5 698.7H243.7V704.7H231.5ZM224.4 704.4H239V710.5H224.4ZM229.2 710.2H248.4V716.2H229.2Z"/>
<path fill="#20ffdf" d="M58.3 538H65.8V544H58.3ZM56 543.7H68.1V549.8H56ZM56 549.5H68.1V555.5H56ZM56 555.2H65.8V561.2H56ZM56 560.9H65.8V567H56ZM58.3 566.7H65.8V572.7H58.3ZM110.5 572.4H115.6V578.4H110.5ZM115.3 601.1H118V607.1H115.3ZM110.5 606.9H115.6V612.9H110.5ZM110.5 647H118V653.1H110.5ZM96.3 652.8H99V658.8H96.3ZM134.3 652.8H139.3V658.8H134.3ZM141.4 658.5H146.4V664.5H141.4ZM134.3 664.2H136.9V670.3H134.3ZM122.4 670H125.1V676H122.4ZM105.8 675.7H115.6V681.8H105.8ZM186.5 693H224.7V699H186.5ZM177 698.7H231.8V704.7H177ZM169.9 704.4H224.7V710.5H169.9ZM169.9 710.2H229.5V716.2H169.9ZM169.9 715.9H344.6V722H169.9ZM169.9 721.7H344.6V727.7H169.9ZM172.2 727.4H344.6V739.5H172.2Z"/>
<path fill="#30ffcf" d="M198.3 440.1H201V452.2H198.3ZM276.6 440.1H279.3V452.2H276.6ZM198.3 451.9H201V457.9H198.3ZM198.3 457.6H201V463.7H198.3ZM60.7 526.5H65.8V532.5H60.7ZM56 532.2H68.1V538.3H56ZM47.6 538H58.6V544H47.6ZM65.5 538H68.1V544H65.5ZM47.6 543.7H56.3V549.8H47.6ZM47.6 549.5H56.3V555.5H47.6ZM47.6 555.2H56.3V561.2H47.6ZM65.5 555.2H68.1V561.2H65.5ZM47.6 560.9H56.3V567H47.6ZM65.5 560.9H68.1V567H65.5ZM47.6 566.7H58.6V572.7H47.6ZM65.5 566.7H68.1V572.7H65.5ZM47.6 572.4H68.1V578.4H47.6ZM108.2 572.4H110.8V578.4H108.2ZM115.3 572.4H118V578.4H115.3ZM47.6 578.1H65.8V584.2H47.6ZM105.8 578.1H108.5V584.2H105.8ZM47.6 583.9H65.8V589.9H47.6ZM117.7 583.9H120.3V589.9H117.7ZM58.3 589.6H63.4V595.7H58.3ZM117.7 589.6H120.3V595.7H117.7ZM117.7 595.4H120.3V601.4H117.7ZM105.8 601.1H108.5V607.1H105.8ZM108.2 606.9H110.8V612.9H108.2ZM105.8 647H110.8V653.1H105.8ZM117.7 647H129.8V653.1H117.7ZM139 652.8H146.4V658.8H139ZM146.1 658.5H153.5V664.5H146.1ZM91.6 664.2H94.2V670.3H91.6ZM136.6 664.2H141.7V670.3H136.6ZM96.3 670H99V676H96.3ZM103.4 675.7H106.1V681.8H103.4ZM115.3 675.7H118V681.8H115.3ZM47.6 693H63.4V699H47.6ZM169.9 693H186.8V699H169.9ZM160.4 698.7H177.3V704.7H160.4ZM158 704.4H170.2V710.5H158ZM158 710.2H170.2V716.2H158ZM158 715.9H170.2V722H158ZM158 721.7H170.2V727.7H158ZM160.4 727.4H172.5V739.5H160.4Z"/>
<path fill="#40ffbf" d="M279 440.1H281.7V452.2H279ZM276.6 451.9H281.7V457.9H276.6ZM276.6 457.6H281.7V463.7H276.6ZM198.3 463.4H201V469.4H198.3ZM276.6 463.4H279.3V469.4H276.6ZM60.7 520.8H65.8V526.8H60.7ZM56 526.5H61V532.5H56ZM65.5 526.5H68.1V532.5H65.5ZM47.6 532.2H56.3V538.3H47.6ZM67.8 532.2H70.5V538.3H67.8ZM67.8 538H70.5V544H67.8ZM67.8 543.7H70.5V549.8H67.8ZM67.8 549.5H70.5V555.5H67.8ZM67.8 555.2H70.5V561.2H67.8ZM67.8 560.9H70.5V567H67.8ZM67.8 566.7H70.5V572.7H67.8ZM110.5 566.7H115.6V572.7H110.5ZM65.5 578.1H68.1V584.2H65.5ZM117.7 578.1H120.3V584.2H117.7ZM65.5 583.9H68.1V589.9H65.5ZM103.4 583.9H106.1V589.9H103.4ZM47.6 589.6H58.6V595.7H47.6ZM63.1 589.6H68.1V595.7H63.1ZM103.4 589.6H106.1V595.7H103.4ZM47.6 595.4H65.8V601.4H47.6ZM103.4 595.4H106.1V601.4H103.4ZM47.6 601.1H65.8V607.1H47.6ZM47.6 606.9H65.8V612.9H47.6ZM115.3 606.9H118V612.9H115.3ZM47.6 612.6H65.8V618.6H47.6ZM110.5 612.6H113.2V618.6H110.5ZM47.6 618.3H65.8V624.4H47.6ZM47.6 624.1H65.8V630.1H47.6ZM47.6 629.8H65.8V635.8H47.6ZM47.6 635.5H65.8V641.6H47.6ZM47.6 641.3H65.8V647.3H47.6ZM47.6 647H65.8V653.1H47.6ZM103.4 647H106.1V653.1H103.4ZM129.5 647H141.7V653.1H129.5ZM47.6 652.8H65.8V658.8H47.6ZM93.9 652.8H96.6V658.8H93.9ZM146.1 652.8H236.6V658.8H146.1ZM47.6 658.5H65.8V664.5H47.6ZM91.6 658.5H94.2V664.5H91.6ZM153.2 658.5H236.6V664.5H153.2ZM47.6 664.2H56.3V670.3H47.6ZM141.4 664.2H146.4V670.3H141.4ZM124.8 670H127.4V676H124.8ZM101.1 675.7H103.7V681.8H101.1ZM63.1 693H72.9V699H63.1ZM143.8 693H170.2V699H143.8ZM153.2 698.7H160.7V704.7H153.2ZM150.9 704.4H158.3V710.5H150.9ZM150.9 710.2H158.3V716.2H150.9ZM150.9 715.9H158.3V722H150.9ZM150.9 721.7H158.3V727.7H150.9ZM153.2 727.4H160.7V739.5H153.2Z"/>
<path fill="#50ffaf" d="M195.9 440.1H198.6V452.2H195.9ZM195.9 451.9H198.6V457.9H195.9ZM195.9 457.6H198.6V463.7H195.9ZM195.9 463.4H198.6V469.4H195.9ZM279 463.4H281.7V469.4H279ZM198.3 469.1H201V475.1H198.3ZM276.6 469.1H281.7V475.1H276.6ZM198.3 474.8H201V480.9H198.3ZM60.7 509.3H65.8V515.3H60.7ZM58.3 515H68.1V521H58.3ZM56 520.8H61V526.8H56ZM65.5 520.8H68.1V526.8H65.5ZM47.6 526.5H56.3V532.5H47.6ZM67.8 526.5H70.5V532.5H67.8ZM70.2 543.7H72.9V549.8H70.2ZM70.2 549.5H72.9V555.5H70.2ZM108.2 566.7H110.8V572.7H108.2ZM115.3 566.7H118V572.7H115.3ZM67.8 572.4H70.5V578.4H67.8ZM105.8 572.4H108.5V578.4H105.8ZM117.7 572.4H120.3V578.4H117.7ZM67.8 578.1H70.5V584.2H67.8ZM103.4 578.1H106.1V584.2H103.4ZM67.8 583.9H70.5V589.9H67.8ZM67.8 589.6H70.5V595.7H67.8ZM65.5 595.4H68.1V601.4H65.5ZM65.5 601.1H68.1V607.1H65.5ZM103.4 601.1H106.1V607.1H103.4ZM117.7 601.1H120.3V607.1H117.7ZM65.5 606.9H68.1V612.9H65.5ZM105.8 606.9H108.5V612.9H105.8ZM65.5 612.6H68.1V618.6H65.5ZM108.2 612.6H110.8V618.6H108.2ZM112.9 612.6H115.6V618.6H112.9ZM65.5 618.3H68.1V624.4H65.5ZM65.5 624.1H68.1V630.1H65.5ZM65.5 629.8H68.1V635.8H65.5ZM65.5 635.5H68.1V641.6H65.5ZM65.5 641.3H68.1V647.3H65.5ZM65.5 647H68.1V653.1H65.5ZM101.1 647H103.7V653.1H101.1ZM141.4 647H165.4V653.1H141.4ZM169.9 647H189.1V653.1H169.9ZM212.6 647H231.8V653.1H212.6ZM65.5 652.8H68.1V658.8H65.5ZM236.3 652.8H248.4V658.8H236.3ZM65.5 658.5H68.1V664.5H65.5ZM236.3 658.5H248.4V664.5H236.3ZM56 664.2H68.1V670.3H56ZM89.2 664.2H91.9V670.3H89.2ZM146.1 664.2H153.5V670.3H146.1ZM93.9 670H96.6V676H93.9ZM117.7 675.7H120.3V681.8H117.7ZM72.6 693H77.6V699H72.6ZM124.8 693H144.1V699H124.8ZM146.1 698.7H153.5V704.7H146.1ZM146.1 704.4H151.2V710.5H146.1ZM146.1 710.2H151.2V716.2H146.1ZM146.1 715.9H151.2V722H146.1ZM146.1 721.7H151.2V727.7H146.1ZM146.1 727.4H153.5V739.5H146.1Z"/>
<path fill="#60ff9f" d="M200.7 440.1H203.4V452.2H200.7ZM274.2 440.1H276.9V452.2H274.2ZM200.7 451.9H203.4V457.9H200.7ZM274.2 451.9H276.9V457.9H274.2ZM200.7 457.6H203.4V463.7H200.7ZM274.2 457.6H276.9V463.7H274.2ZM63.1 463.4H65.8V469.4H63.1ZM200.7 463.4H203.4V469.4H200.7ZM60.7 469.1H65.8V475.1H60.7ZM195.9 469.1H198.6V475.1H195.9ZM60.7 474.8H68.1V480.9H60.7ZM195.9 474.8H198.6V480.9H195.9ZM276.6 474.8H281.7V480.9H276.6ZM60.7 480.6H68.1V486.6H60.7ZM198.3 480.6H201V486.6H198.3ZM276.6 480.6H279.3V486.6H276.6ZM60.7 486.3H68.1V492.4H60.7ZM60.7 492.1H68.1V498.1H60.7ZM58.3 497.8H68.1V503.8H58.3ZM58.3 503.5H68.1V509.6H58.3ZM56 509.3H61V515.3H56ZM65.5 509.3H70.5V515.3H65.5ZM47.6 515H58.6V521H47.6ZM67.8 515H70.5V521H67.8ZM47.6 520.8H56.3V526.8H47.6ZM67.8 520.8H70.5V526.8H67.8ZM70.2 526.5H72.9V532.5H70.2ZM70.2 532.2H72.9V538.3H70.2ZM70.2 538H72.9V544H70.2ZM70.2 555.2H72.9V561.2H70.2ZM70.2 560.9H72.9V567H70.2ZM110.5 560.9H118V567H110.5ZM70.2 566.7H72.9V572.7H70.2ZM105.8 566.7H108.5V572.7H105.8ZM70.2 572.4H72.9V578.4H70.2ZM70.2 578.1H72.9V584.2H70.2ZM120 583.9H122.7V589.9H120ZM120 589.6H122.7V595.7H120ZM67.8 595.4H70.5V601.4H67.8ZM120 595.4H122.7V601.4H120ZM67.8 601.1H70.5V607.1H67.8ZM67.8 606.9H70.5V612.9H67.8ZM117.7 606.9H120.3V612.9H117.7ZM67.8 612.6H70.5V618.6H67.8ZM105.8 612.6H108.5V618.6H105.8ZM115.3 612.6H118V618.6H115.3ZM67.8 618.3H70.5V624.4H67.8ZM110.5 618.3H113.2V624.4H110.5ZM67.8 624.1H70.5V630.1H67.8ZM67.8 629.8H70.5V635.8H67.8ZM67.8 635.5H70.5V641.6H67.8ZM67.8 641.3H70.5V647.3H67.8ZM67.8 647H70.5V653.1H67.8ZM98.7 647H101.4V653.1H98.7ZM165.1 647H170.2V653.1H165.1ZM188.8 647H212.9V653.1H188.8ZM231.5 647H248.4V653.1H231.5ZM67.8 652.8H70.5V658.8H67.8ZM91.6 652.8H94.2V658.8H91.6ZM248.1 652.8H253.2V658.8H248.1ZM67.8 658.5H70.5V664.5H67.8ZM89.2 658.5H91.9V664.5H89.2ZM248.1 658.5H253.2V664.5H248.1ZM67.8 664.2H70.5V670.3H67.8ZM153.2 664.2H229.5V670.3H153.2ZM127.1 670H129.8V676H127.1ZM98.7 675.7H101.4V681.8H98.7ZM120 675.7H122.7V681.8H120ZM77.3 693H84.7V699H77.3ZM120 693H125.1V699H120ZM47.6 698.7H68.1V704.7H47.6ZM141.4 698.7H146.4V704.7H141.4ZM47.6 704.4H65.8V710.5H47.6ZM141.4 704.4H146.4V710.5H141.4ZM141.4 710.2H146.4V716.2H141.4ZM141.4 715.9H146.4V722H141.4ZM141.4 721.7H146.4V727.7H141.4ZM141.4 727.4H146.4V739.5H141.4Z"/>
<path fill="#70ff8f" d="M58.3 440.1H70.5V452.2H58.3ZM281.4 440.1H284V452.2H281.4ZM314.6 440.1H319.6V452.2H314.6ZM58.3 451.9H70.5V457.9H58.3ZM281.4 451.9H284V457.9H281.4ZM314.6 451.9H317.2V457.9H314.6ZM56 457.6H70.5V463.7H56ZM281.4 457.6H284V463.7H281.4ZM314.6 457.6H317.2V463.7H314.6ZM56 463.4H63.4V469.4H56ZM65.5 463.4H70.5V469.4H65.5ZM274.2 463.4H276.9V469.4H274.2ZM314.6 463.4H317.2V469.4H314.6ZM56 469.1H61V475.1H56ZM65.5 469.1H70.5V475.1H65.5ZM200.7 469.1H203.4V475.1H200.7ZM274.2 469.1H276.9V475.1H274.2ZM56 474.8H61V480.9H56ZM67.8 474.8H70.5V480.9H67.8ZM112.9 474.8H115.6V480.9H112.9ZM200.7 474.8H203.4V480.9H200.7ZM274.2 474.8H276.9V480.9H274.2ZM56 480.6H61V486.6H56ZM67.8 480.6H70.5V486.6H67.8ZM112.9 480.6H118V486.6H112.9ZM195.9 480.6H198.6V486.6H195.9ZM279 480.6H281.7V486.6H279ZM56 486.3H61V492.4H56ZM67.8 486.3H70.5V492.4H67.8ZM112.9 486.3H118V492.4H112.9ZM195.9 486.3H201V492.4H195.9ZM276.6 486.3H281.7V492.4H276.6ZM56 492.1H61V498.1H56ZM67.8 492.1H70.5V498.1H67.8ZM112.9 492.1H118V498.1H112.9ZM198.3 492.1H201V498.1H198.3ZM56 497.8H58.6V503.8H56ZM67.8 497.8H70.5V503.8H67.8ZM112.9 497.8H118V503.8H112.9ZM47.6 503.5H58.6V509.6H47.6ZM67.8 503.5H72.9V509.6H67.8ZM112.9 503.5H118V509.6H112.9ZM47.6 509.3H56.3V515.3H47.6ZM70.2 509.3H72.9V515.3H70.2ZM112.9 509.3H118V515.3H112.9ZM70.2 515H72.9V521H70.2ZM112.9 515H118V521H112.9ZM70.2 520.8H72.9V526.8H70.2ZM112.9 520.8H118V526.8H112.9ZM112.9 526.5H115.6V532.5H112.9ZM72.6 538H75.3V544H72.6ZM72.6 543.7H75.3V549.8H72.6ZM72.6 549.5H75.3V555.5H72.6ZM112.9 549.5H115.6V555.5H112.9ZM110.5 555.2H118V561.2H110.5ZM108.2 560.9H110.8V567H108.2ZM117.7 566.7H120.3V572.7H117.7ZM103.4 572.4H106.1V578.4H103.4ZM120 578.1H122.7V584.2H120ZM70.2 583.9H72.9V589.9H70.2ZM101.1 583.9H103.7V589.9H101.1ZM70.2 589.6H72.9V595.7H70.2ZM101.1 589.6H103.7V595.7H101.1ZM70.2 595.4H72.9V601.4H70.2ZM101.1 595.4H103.7V601.4H101.1ZM70.2 601.1H72.9V607.1H70.2ZM120 601.1H122.7V607.1H120ZM70.2 606.9H72.9V612.9H70.2ZM103.4 606.9H106.1V612.9H103.4ZM70.2 612.6H72.9V618.6H70.2ZM117.7 612.6H120.3V618.6H117.7ZM70.2 618.3H72.9V624.4H70.2ZM108.2 618.3H110.8V624.4H108.2ZM112.9 618.3H118V624.4H112.9ZM70.2 624.1H72.9V630.1H70.2ZM70.2 629.8H72.9V635.8H70.2ZM70.2 635.5H72.9V641.6H70.2ZM70.2 641.3H72.9V647.3H70.2ZM108.2 641.3H118V647.3H108.2ZM70.2 647H72.9V653.1H70.2ZM96.3 647H99V653.1H96.3ZM248.1 647H253.2V653.1H248.1ZM70.2 652.8H72.9V658.8H70.2ZM89.2 652.8H91.9V658.8H89.2ZM252.9 652.8H257.9V658.8H252.9ZM70.2 658.5H72.9V664.5H70.2ZM86.8 658.5H89.5V664.5H86.8ZM252.9 658.5H257.9V664.5H252.9ZM70.2 664.2H72.9V670.3H70.2ZM86.8 664.2H89.5V670.3H86.8ZM229.2 664.2H248.4V670.3H229.2ZM47.6 670H63.4V676H47.6ZM91.6 670H94.2V676H91.6ZM129.5 670H132.2V676H129.5ZM96.3 675.7H99V681.8H96.3ZM122.4 675.7H125.1V681.8H122.4ZM84.4 693H87.1V699H84.4ZM117.7 693H120.3V699H117.7ZM67.8 698.7H72.9V704.7H67.8ZM136.6 698.7H141.7V704.7H136.6ZM65.5 704.4H72.9V710.5H65.5ZM134.3 704.4H141.7V710.5H134.3ZM134.3 710.2H141.7V716.2H134.3ZM134.3 715.9H141.7V722H134.3ZM134.3 721.7H141.7V727.7H134.3ZM134.3 727.4H141.7V739.5H134.3Z"/>
<path fill="#80ff80" d="M47.6 440.1H58.6V452.2H47.6ZM70.2 440.1H72.9V452.2H70.2ZM112.9 440.1H118V452.2H112.9ZM184.1 440.1H186.8V452.2H184.1ZM193.6 440.1H196.2V452.2H193.6ZM252.9 440.1H260.3V452.2H252.9ZM312.2 440.1H314.9V452.2H312.2ZM47.6 451.9H58.6V457.9H47.6ZM70.2 451.9H72.9V457.9H70.2ZM110.5 451.9H118V457.9H110.5ZM141.4 451.9H144.1V457.9H141.4ZM184.1 451.9H189.1V457.9H184.1ZM193.6 451.9H196.2V457.9H193.6ZM250.5 451.9H262.7V457.9H250.5ZM312.2 451.9H314.9V457.9H312.2ZM316.9 451.9H319.6V457.9H316.9ZM331.2 451.9H333.9V457.9H331.2ZM47.6 457.6H56.3V463.7H47.6ZM70.2 457.6H72.9V463.7H70.2ZM110.5 457.6H118V463.7H110.5ZM141.4 457.6H144.1V463.7H141.4ZM184.1 457.6H189.1V463.7H184.1ZM193.6 457.6H196.2V463.7H193.6ZM250.5 457.6H262.7V463.7H250.5ZM312.2 457.6H314.9V463.7H312.2ZM316.9 457.6H319.6V463.7H316.9ZM331.2 457.6H336.2V463.7H331.2ZM47.6 463.4H56.3V469.4H47.6ZM70.2 463.4H72.9V469.4H70.2ZM110.5 463.4H120.3V469.4H110.5ZM141.4 463.4H144.1V469.4H141.4ZM184.1 463.4H189.1V469.4H184.1ZM193.6 463.4H196.2V469.4H193.6ZM250.5 463.4H262.7V469.4H250.5ZM281.4 463.4H284V469.4H281.4ZM316.9 463.4H319.6V469.4H316.9ZM328.8 463.4H336.2V469.4H328.8ZM47.6 469.1H56.3V475.1H47.6ZM70.2 469.1H72.9V475.1H70.2ZM110.5 469.1H120.3V475.1H110.5ZM141.4 469.1H144.1V475.1H141.4ZM181.7 469.1H189.1V475.1H181.7ZM250.5 469.1H262.7V475.1H250.5ZM281.4 469.1H284V475.1H281.4ZM314.6 469.1H319.6V475.1H314.6ZM328.8 469.1H336.2V475.1H328.8ZM47.6 474.8H56.3V480.9H47.6ZM70.2 474.8H72.9V480.9H70.2ZM110.5 474.8H113.2V480.9H110.5ZM115.3 474.8H120.3V480.9H115.3ZM141.4 474.8H144.1V480.9H141.4ZM181.7 474.8H189.1V480.9H181.7ZM250.5 474.8H262.7V480.9H250.5ZM281.4 474.8H284V480.9H281.4ZM314.6 474.8H319.6V480.9H314.6ZM328.8 474.8H336.2V480.9H328.8ZM47.6 480.6H56.3V486.6H47.6ZM70.2 480.6H72.9V486.6H70.2ZM110.5 480.6H113.2V486.6H110.5ZM117.7 480.6H120.3V486.6H117.7ZM181.7 480.6H189.1V486.6H181.7ZM200.7 480.6H203.4V486.6H200.7ZM248.1 480.6H262.7V486.6H248.1ZM274.2 480.6H276.9V486.6H274.2ZM314.6 480.6H317.2V486.6H314.6ZM328.8 480.6H336.2V486.6H328.8ZM47.6 486.3H56.3V492.4H47.6ZM70.2 486.3H72.9V492.4H70.2ZM110.5 486.3H113.2V492.4H110.5ZM117.7 486.3H120.3V492.4H117.7ZM181.7 486.3H189.1V492.4H181.7ZM200.7 486.3H203.4V492.4H200.7ZM248.1 486.3H262.7V492.4H248.1ZM274.2 486.3H276.9V492.4H274.2ZM328.8 486.3H336.2V492.4H328.8ZM47.6 492.1H56.3V498.1H47.6ZM70.2 492.1H72.9V498.1H70.2ZM110.5 492.1H113.2V498.1H110.5ZM117.7 492.1H120.3V498.1H117.7ZM184.1 492.1H189.1V498.1H184.1ZM195.9 492.1H198.6V498.1H195.9ZM200.7 492.1H203.4V498.1H200.7ZM248.1 492.1H262.7V498.1H248.1ZM276.6 492.1H281.7V498.1H276.6ZM328.8 492.1H336.2V498.1H328.8ZM47.6 497.8H56.3V503.8H47.6ZM70.2 497.8H72.9V503.8H70.2ZM110.5 497.8H113.2V503.8H110.5ZM117.7 497.8H120.3V503.8H117.7ZM184.1 497.8H189.1V503.8H184.1ZM198.3 497.8H201V503.8H198.3ZM250.5 497.8H262.7V503.8H250.5ZM276.6 497.8H279.3V503.8H276.6ZM328.8 497.8H344.6V503.8H328.8ZM110.5 503.5H113.2V509.6H110.5ZM117.7 503.5H120.3V509.6H117.7ZM184.1 503.5H186.8V509.6H184.1ZM250.5 503.5H262.7V509.6H250.5ZM328.8 503.5H344.6V509.6H328.8ZM72.6 509.3H75.3V515.3H72.6ZM110.5 509.3H113.2V515.3H110.5ZM117.7 509.3H120.3V515.3H117.7ZM184.1 509.3H186.8V515.3H184.1ZM250.5 509.3H262.7V515.3H250.5ZM328.8 509.3H336.2V515.3H328.8ZM72.6 515H75.3V521H72.6ZM110.5 515H113.2V521H110.5ZM117.7 515H120.3V521H117.7ZM252.9 515H260.3V521H252.9ZM328.8 515H336.2V521H328.8ZM72.6 520.8H75.3V526.8H72.6ZM110.5 520.8H113.2V526.8H110.5ZM117.7 520.8H120.3V526.8H117.7ZM252.9 520.8H260.3V526.8H252.9ZM328.8 520.8H336.2V526.8H328.8ZM72.6 526.5H75.3V532.5H72.6ZM110.5 526.5H113.2V532.5H110.5ZM115.3 526.5H120.3V532.5H115.3ZM328.8 526.5H336.2V532.5H328.8ZM72.6 532.2H75.3V538.3H72.6ZM110.5 532.2H118V538.3H110.5ZM328.8 532.2H336.2V538.3H328.8ZM110.5 538H118V544H110.5ZM331.2 538H336.2V544H331.2ZM110.5 543.7H118V549.8H110.5ZM331.2 543.7H336.2V549.8H331.2ZM110.5 549.5H113.2V555.5H110.5ZM115.3 549.5H118V555.5H115.3ZM331.2 549.5H333.9V555.5H331.2ZM72.6 555.2H75.3V561.2H72.6ZM108.2 555.2H110.8V561.2H108.2ZM117.7 555.2H120.3V561.2H117.7ZM72.6 560.9H75.3V567H72.6ZM105.8 560.9H108.5V567H105.8ZM117.7 560.9H120.3V567H117.7ZM72.6 566.7H75.3V572.7H72.6ZM103.4 566.7H106.1V572.7H103.4ZM120 566.7H122.7V572.7H120ZM72.6 572.4H75.3V578.4H72.6ZM120 572.4H122.7V578.4H120ZM72.6 578.1H75.3V584.2H72.6ZM101.1 578.1H103.7V584.2H101.1ZM72.6 583.9H75.3V589.9H72.6ZM122.4 583.9H125.1V589.9H122.4ZM72.6 589.6H75.3V595.7H72.6ZM122.4 589.6H125.1V595.7H122.4ZM72.6 595.4H75.3V601.4H72.6ZM101.1 601.1H103.7V607.1H101.1ZM120 606.9H122.7V612.9H120ZM72.6 612.6H75.3V618.6H72.6ZM103.4 612.6H106.1V618.6H103.4ZM72.6 618.3H75.3V624.4H72.6ZM105.8 618.3H108.5V624.4H105.8ZM117.7 618.3H120.3V624.4H117.7ZM72.6 624.1H75.3V630.1H72.6ZM108.2 624.1H118V630.1H108.2ZM72.6 629.8H75.3V635.8H72.6ZM72.6 635.5H75.3V641.6H72.6ZM72.6 641.3H75.3V647.3H72.6ZM105.8 641.3H108.5V647.3H105.8ZM117.7 641.3H127.4V647.3H117.7ZM72.6 647H75.3V653.1H72.6ZM91.6 647H96.6V653.1H91.6ZM252.9 647H262.7V653.1H252.9ZM72.6 652.8H75.3V658.8H72.6ZM86.8 652.8H89.5V658.8H86.8ZM257.6 652.8H344.6V658.8H257.6ZM72.6 658.5H75.3V664.5H72.6ZM84.4 658.5H87.1V664.5H84.4ZM257.6 658.5H344.6V664.5H257.6ZM72.6 664.2H75.3V670.3H72.6ZM84.4 664.2H87.1V670.3H84.4ZM248.1 664.2H255.6V670.3H248.1ZM63.1 670H68.1V676H63.1ZM47.6 675.7H65.8V681.8H47.6ZM124.8 675.7H127.4V681.8H124.8ZM86.8 693H91.9V699H86.8ZM115.3 693H118V699H115.3ZM72.6 698.7H75.3V704.7H72.6ZM129.5 698.7H136.9V704.7H129.5ZM72.6 704.4H75.3V710.5H72.6ZM129.5 704.4H134.6V710.5H129.5ZM47.6 710.2H70.5V716.2H47.6ZM129.5 710.2H134.6V716.2H129.5ZM127.1 715.9H134.6V722H127.1ZM127.1 721.7H134.6V727.7H127.1ZM127.1 727.4H134.6V739.5H127.1Z"/>
<path fill="#8fff70" d="M72.6 440.1H75.3V452.2H72.6ZM108.2 440.1H113.2V452.2H108.2ZM117.7 440.1H122.7V452.2H117.7ZM139 440.1H144.1V452.2H139ZM181.7 440.1H184.4V452.2H181.7ZM186.5 440.1H191.5V452.2H186.5ZM203.1 440.1H205.7V452.2H203.1ZM245.8 440.1H253.2V452.2H245.8ZM260 440.1H267.4V452.2H260ZM271.9 440.1H274.5V452.2H271.9ZM319.3 440.1H322V452.2H319.3ZM326.4 440.1H344.6V452.2H326.4ZM72.6 451.9H75.3V457.9H72.6ZM108.2 451.9H110.8V457.9H108.2ZM117.7 451.9H122.7V457.9H117.7ZM139 451.9H141.7V457.9H139ZM181.7 451.9H184.4V457.9H181.7ZM188.8 451.9H191.5V457.9H188.8ZM203.1 451.9H205.7V457.9H203.1ZM243.4 451.9H250.8V457.9H243.4ZM262.4 451.9H267.4V457.9H262.4ZM271.9 451.9H274.5V457.9H271.9ZM319.3 451.9H322V457.9H319.3ZM326.4 451.9H331.5V457.9H326.4ZM333.6 451.9H344.6V457.9H333.6ZM72.6 457.6H75.3V463.7H72.6ZM108.2 457.6H110.8V463.7H108.2ZM117.7 457.6H122.7V463.7H117.7ZM139 457.6H141.7V463.7H139ZM181.7 457.6H184.4V463.7H181.7ZM188.8 457.6H191.5V463.7H188.8ZM203.1 457.6H205.7V463.7H203.1ZM243.4 457.6H250.8V463.7H243.4ZM262.4 457.6H267.4V463.7H262.4ZM271.9 457.6H274.5V463.7H271.9ZM319.3 457.6H322V463.7H319.3ZM326.4 457.6H331.5V463.7H326.4ZM335.9 457.6H344.6V463.7H335.9ZM72.6 463.4H75.3V469.4H72.6ZM108.2 463.4H110.8V469.4H108.2ZM120 463.4H122.7V469.4H120ZM139 463.4H141.7V469.4H139ZM181.7 463.4H184.4V469.4H181.7ZM188.8 463.4H191.5V469.4H188.8ZM203.1 463.4H205.7V469.4H203.1ZM243.4 463.4H250.8V469.4H243.4ZM262.4 463.4H269.8V469.4H262.4ZM271.9 463.4H274.5V469.4H271.9ZM312.2 463.4H314.9V469.4H312.2ZM319.3 463.4H322V469.4H319.3ZM326.4 463.4H329.1V469.4H326.4ZM335.9 463.4H344.6V469.4H335.9ZM72.6 469.1H75.3V475.1H72.6ZM108.2 469.1H110.8V475.1H108.2ZM120 469.1H122.7V475.1H120ZM139 469.1H141.7V475.1H139ZM188.8 469.1H191.5V475.1H188.8ZM193.6 469.1H196.2V475.1H193.6ZM203.1 469.1H205.7V475.1H203.1ZM243.4 469.1H250.8V475.1H243.4ZM262.4 469.1H269.8V475.1H262.4ZM271.9 469.1H274.5V475.1H271.9ZM312.2 469.1H314.9V475.1H312.2ZM319.3 469.1H322V475.1H319.3ZM326.4 469.1H329.1V475.1H326.4ZM335.9 469.1H344.6V475.1H335.9ZM72.6 474.8H75.3V480.9H72.6ZM108.2 474.8H110.8V480.9H108.2ZM120 474.8H122.7V480.9H120ZM139 474.8H141.7V480.9H139ZM188.8 474.8H191.5V480.9H188.8ZM193.6 474.8H196.2V480.9H193.6ZM203.1 474.8H205.7V480.9H203.1ZM243.4 474.8H250.8V480.9H243.4ZM262.4 474.8H269.8V480.9H262.4ZM271.9 474.8H274.5V480.9H271.9ZM312.2 474.8H314.9V480.9H312.2ZM319.3 474.8H322V480.9H319.3ZM326.4 474.8H329.1V480.9H326.4ZM335.9 474.8H344.6V480.9H335.9ZM72.6 480.6H75.3V486.6H72.6ZM108.2 480.6H110.8V486.6H108.2ZM120 480.6H122.7V486.6H120ZM139 480.6H144.1V486.6H139ZM188.8 480.6H191.5V486.6H188.8ZM193.6 480.6H196.2V486.6H193.6ZM203.1 480.6H205.7V486.6H203.1ZM243.4 480.6H248.4V486.6H243.4ZM262.4 480.6H269.8V486.6H262.4ZM271.9 480.6H274.5V486.6H271.9ZM281.4 480.6H284V486.6H281.4ZM312.2 480.6H314.9V486.6H312.2ZM316.9 480.6H322V486.6H316.9ZM326.4 480.6H329.1V486.6H326.4ZM335.9 480.6H344.6V486.6H335.9ZM72.6 486.3H75.3V492.4H72.6ZM108.2 486.3H110.8V492.4H108.2ZM120 486.3H122.7V492.4H120ZM139 486.3H144.1V492.4H139ZM188.8 486.3H191.5V492.4H188.8ZM193.6 486.3H196.2V492.4H193.6ZM243.4 486.3H248.4V492.4H243.4ZM262.4 486.3H269.8V492.4H262.4ZM271.9 486.3H274.5V492.4H271.9ZM281.4 486.3H284V492.4H281.4ZM312.2 486.3H319.6V492.4H312.2ZM326.4 486.3H329.1V492.4H326.4ZM335.9 486.3H344.6V492.4H335.9ZM72.6 492.1H75.3V498.1H72.6ZM108.2 492.1H110.8V498.1H108.2ZM120 492.1H122.7V498.1H120ZM139 492.1H144.1V498.1H139ZM181.7 492.1H184.4V498.1H181.7ZM188.8 492.1H191.5V498.1H188.8ZM193.6 492.1H196.2V498.1H193.6ZM243.4 492.1H248.4V498.1H243.4ZM262.4 492.1H269.8V498.1H262.4ZM274.2 492.1H276.9V498.1H274.2ZM314.6 492.1H319.6V498.1H314.6ZM326.4 492.1H329.1V498.1H326.4ZM335.9 492.1H344.6V498.1H335.9ZM72.6 497.8H75.3V503.8H72.6ZM108.2 497.8H110.8V503.8H108.2ZM120 497.8H122.7V503.8H120ZM139 497.8H144.1V503.8H139ZM181.7 497.8H184.4V503.8H181.7ZM188.8 497.8H191.5V503.8H188.8ZM195.9 497.8H198.6V503.8H195.9ZM200.7 497.8H203.4V503.8H200.7ZM243.4 497.8H250.8V503.8H243.4ZM262.4 497.8H267.4V503.8H262.4ZM274.2 497.8H276.9V503.8H274.2ZM279 497.8H281.7V503.8H279ZM314.6 497.8H319.6V503.8H314.6ZM326.4 497.8H329.1V503.8H326.4ZM72.6 503.5H75.3V509.6H72.6ZM108.2 503.5H110.8V509.6H108.2ZM120 503.5H122.7V509.6H120ZM181.7 503.5H184.4V509.6H181.7ZM186.5 503.5H189.1V509.6H186.5ZM195.9 503.5H203.4V509.6H195.9ZM245.8 503.5H250.8V509.6H245.8ZM262.4 503.5H267.4V509.6H262.4ZM274.2 503.5H281.7V509.6H274.2ZM326.4 503.5H329.1V509.6H326.4ZM108.2 509.3H110.8V515.3H108.2ZM120 509.3H122.7V515.3H120ZM181.7 509.3H184.4V515.3H181.7ZM186.5 509.3H189.1V515.3H186.5ZM198.3 509.3H201V515.3H198.3ZM245.8 509.3H250.8V515.3H245.8ZM262.4 509.3H267.4V515.3H262.4ZM276.6 509.3H279.3V515.3H276.6ZM326.4 509.3H329.1V515.3H326.4ZM335.9 509.3H344.6V515.3H335.9ZM108.2 515H110.8V521H108.2ZM120 515H122.7V521H120ZM181.7 515H189.1V521H181.7ZM245.8 515H253.2V521H245.8ZM260 515H267.4V521H260ZM326.4 515H329.1V521H326.4ZM335.9 515H344.6V521H335.9ZM108.2 520.8H110.8V526.8H108.2ZM120 520.8H122.7V526.8H120ZM184.1 520.8H186.8V526.8H184.1ZM248.1 520.8H253.2V526.8H248.1ZM260 520.8H265.1V526.8H260ZM326.4 520.8H329.1V526.8H326.4ZM335.9 520.8H344.6V526.8H335.9ZM108.2 526.5H110.8V532.5H108.2ZM120 526.5H122.7V532.5H120ZM250.5 526.5H265.1V532.5H250.5ZM326.4 526.5H329.1V532.5H326.4ZM335.9 526.5H344.6V532.5H335.9ZM108.2 532.2H110.8V538.3H108.2ZM117.7 532.2H120.3V538.3H117.7ZM250.5 532.2H262.7V538.3H250.5ZM326.4 532.2H329.1V538.3H326.4ZM335.9 532.2H344.6V538.3H335.9ZM75 538H77.6V544H75ZM108.2 538H110.8V544H108.2ZM117.7 538H120.3V544H117.7ZM255.3 538H260.3V544H255.3ZM326.4 538H331.5V544H326.4ZM335.9 538H344.6V544H335.9ZM75 543.7H77.6V549.8H75ZM108.2 543.7H110.8V549.8H108.2ZM117.7 543.7H120.3V549.8H117.7ZM326.4 543.7H331.5V549.8H326.4ZM335.9 543.7H344.6V549.8H335.9ZM75 549.5H77.6V555.5H75ZM108.2 549.5H110.8V555.5H108.2ZM117.7 549.5H120.3V555.5H117.7ZM326.4 549.5H331.5V555.5H326.4ZM333.6 549.5H344.6V555.5H333.6ZM75 555.2H77.6V561.2H75ZM105.8 555.2H108.5V561.2H105.8ZM328.8 555.2H344.6V561.2H328.8ZM103.4 560.9H106.1V567H103.4ZM120 560.9H122.7V567H120ZM328.8 560.9H344.6V567H328.8ZM328.8 566.7H344.6V572.7H328.8ZM101.1 572.4H103.7V578.4H101.1ZM122.4 572.4H125.1V578.4H122.4ZM331.2 572.4H336.2V578.4H331.2ZM122.4 578.1H125.1V584.2H122.4ZM98.7 583.9H101.4V589.9H98.7ZM98.7 589.6H101.4V595.7H98.7ZM122.4 595.4H125.1V601.4H122.4ZM72.6 601.1H75.3V607.1H72.6ZM122.4 601.1H125.1V607.1H122.4ZM72.6 606.9H75.3V612.9H72.6ZM75 612.6H77.6V618.6H75ZM120 612.6H122.7V618.6H120ZM75 618.3H77.6V624.4H75ZM103.4 618.3H106.1V624.4H103.4ZM120 618.3H122.7V624.4H120ZM75 624.1H77.6V630.1H75ZM105.8 624.1H108.5V630.1H105.8ZM117.7 624.1H122.7V630.1H117.7ZM75 629.8H77.6V635.8H75ZM105.8 629.8H120.3V635.8H105.8ZM75 635.5H77.6V641.6H75ZM105.8 635.5H120.3V641.6H105.8ZM75 641.3H77.6V647.3H75ZM103.4 641.3H106.1V647.3H103.4ZM127.1 641.3H136.9V647.3H127.1ZM75 647H80V653.1H75ZM86.8 647H91.9V653.1H86.8ZM262.4 647H344.6V653.1H262.4ZM75 652.8H87.1V658.8H75ZM75 658.5H84.7V664.5H75ZM75 664.2H84.7V670.3H75ZM255.3 664.2H262.7V670.3H255.3ZM321.7 664.2H344.6V670.3H321.7ZM67.8 670H70.5V676H67.8ZM89.2 670H91.9V676H89.2ZM131.9 670H134.6V676H131.9ZM65.5 675.7H70.5V681.8H65.5ZM93.9 675.7H96.6V681.8H93.9ZM91.6 693H94.2V699H91.6ZM112.9 693H115.6V699H112.9ZM75 698.7H80V704.7H75ZM124.8 698.7H129.8V704.7H124.8ZM75 704.4H80V710.5H75ZM124.8 704.4H129.8V710.5H124.8ZM70.2 710.2H77.6V716.2H70.2ZM122.4 710.2H129.8V716.2H122.4ZM120 715.9H127.4V722H120ZM115.3 721.7H127.4V727.7H115.3ZM115.3 727.4H127.4V739.5H115.3Z"/>
<path fill="#9fff60" d="M75 440.1H99V452.2H75ZM105.8 440.1H108.5V452.2H105.8ZM122.4 440.1H127.4V452.2H122.4ZM177 440.1H182V452.2H177ZM191.2 440.1H193.9V452.2H191.2ZM205.4 440.1H217.6V452.2H205.4ZM231.5 440.1H246.1V452.2H231.5ZM267.1 440.1H272.2V452.2H267.1ZM283.7 440.1H288.8V452.2H283.7ZM307.5 440.1H312.5V452.2H307.5ZM321.7 440.1H326.7V452.2H321.7ZM75 451.9H77.6V457.9H75ZM79.7 451.9H99V457.9H79.7ZM105.8 451.9H108.5V457.9H105.8ZM122.4 451.9H127.4V457.9H122.4ZM177 451.9H182V457.9H177ZM191.2 451.9H193.9V457.9H191.2ZM205.4 451.9H217.6V457.9H205.4ZM231.5 451.9H243.7V457.9H231.5ZM267.1 451.9H272.2V457.9H267.1ZM283.7 451.9H286.4V457.9H283.7ZM307.5 451.9H312.5V457.9H307.5ZM321.7 451.9H326.7V457.9H321.7ZM75 457.6H77.6V463.7H75ZM82.1 457.6H99V463.7H82.1ZM105.8 457.6H108.5V463.7H105.8ZM122.4 457.6H127.4V463.7H122.4ZM177 457.6H182V463.7H177ZM191.2 457.6H193.9V463.7H191.2ZM205.4 457.6H217.6V463.7H205.4ZM233.9 457.6H243.7V463.7H233.9ZM267.1 457.6H272.2V463.7H267.1ZM283.7 457.6H286.4V463.7H283.7ZM307.5 457.6H312.5V463.7H307.5ZM321.7 457.6H326.7V463.7H321.7ZM75 463.4H77.6V469.4H75ZM82.1 463.4H99V469.4H82.1ZM105.8 463.4H108.5V469.4H105.8ZM122.4 463.4H127.4V469.4H122.4ZM177 463.4H182V469.4H177ZM191.2 463.4H193.9V469.4H191.2ZM205.4 463.4H217.6V469.4H205.4ZM233.9 463.4H243.7V469.4H233.9ZM269.5 463.4H272.2V469.4H269.5ZM283.7 463.4H286.4V469.4H283.7ZM309.8 463.4H312.5V469.4H309.8ZM321.7 463.4H326.7V469.4H321.7ZM75 469.1H77.6V475.1H75ZM82.1 469.1H99V475.1H82.1ZM105.8 469.1H108.5V475.1H105.8ZM122.4 469.1H127.4V475.1H122.4ZM177 469.1H182V475.1H177ZM191.2 469.1H193.9V475.1H191.2ZM205.4 469.1H215.2V475.1H205.4ZM233.9 469.1H243.7V475.1H233.9ZM269.5 469.1H272.2V475.1H269.5ZM283.7 469.1H286.4V475.1H283.7ZM309.8 469.1H312.5V475.1H309.8ZM321.7 469.1H326.7V475.1H321.7ZM75 474.8H77.6V480.9H75ZM82.1 474.8H99V480.9H82.1ZM105.8 474.8H108.5V480.9H105.8ZM122.4 474.8H127.4V480.9H122.4ZM177 474.8H182V480.9H177ZM191.2 474.8H193.9V480.9H191.2ZM205.4 474.8H215.2V480.9H205.4ZM233.9 474.8H243.7V480.9H233.9ZM269.5 474.8H272.2V480.9H269.5ZM283.7 474.8H286.4V480.9H283.7ZM309.8 474.8H312.5V480.9H309.8ZM321.7 474.8H326.7V480.9H321.7ZM75 480.6H77.6V486.6H75ZM82.1 480.6H99V486.6H82.1ZM105.8 480.6H108.5V486.6H105.8ZM122.4 480.6H127.4V486.6H122.4ZM177 480.6H182V486.6H177ZM191.2 480.6H193.9V486.6H191.2ZM205.4 480.6H215.2V486.6H205.4ZM233.9 480.6H243.7V486.6H233.9ZM269.5 480.6H272.2V486.6H269.5ZM283.7 480.6H286.4V486.6H283.7ZM309.8 480.6H312.5V486.6H309.8ZM321.7 480.6H326.7V486.6H321.7ZM75 486.3H77.6V492.4H75ZM82.1 486.3H99V492.4H82.1ZM105.8 486.3H108.5V492.4H105.8ZM122.4 486.3H127.4V492.4H122.4ZM177 486.3H182V492.4H177ZM191.2 486.3H193.9V492.4H191.2ZM203.1 486.3H215.2V492.4H203.1ZM233.9 486.3H243.7V492.4H233.9ZM269.5 486.3H272.2V492.4H269.5ZM309.8 486.3H312.5V492.4H309.8ZM319.3 486.3H326.7V492.4H319.3ZM75 492.1H77.6V498.1H75ZM82.1 492.1H94.2V498.1H82.1ZM105.8 492.1H108.5V498.1H105.8ZM122.4 492.1H127.4V498.1H122.4ZM177 492.1H182V498.1H177ZM191.2 492.1H193.9V498.1H191.2ZM203.1 492.1H215.2V498.1H203.1ZM233.9 492.1H243.7V498.1H233.9ZM269.5 492.1H274.5V498.1H269.5ZM281.4 492.1H284V498.1H281.4ZM312.2 492.1H314.9V498.1H312.2ZM319.3 492.1H326.7V498.1H319.3ZM75 497.8H77.6V503.8H75ZM82.1 497.8H91.9V503.8H82.1ZM105.8 497.8H108.5V503.8H105.8ZM122.4 497.8H127.4V503.8H122.4ZM177 497.8H182V503.8H177ZM191.2 497.8H196.2V503.8H191.2ZM203.1 497.8H215.2V503.8H203.1ZM233.9 497.8H243.7V503.8H233.9ZM267.1 497.8H274.5V503.8H267.1ZM281.4 497.8H284V503.8H281.4ZM312.2 497.8H314.9V503.8H312.2ZM319.3 497.8H326.7V503.8H319.3ZM75 503.5H77.6V509.6H75ZM82.1 503.5H91.9V509.6H82.1ZM105.8 503.5H108.5V509.6H105.8ZM122.4 503.5H127.4V509.6H122.4ZM139 503.5H144.1V509.6H139ZM179.3 503.5H182V509.6H179.3ZM188.8 503.5H196.2V509.6H188.8ZM203.1 503.5H212.9V509.6H203.1ZM233.9 503.5H246.1V509.6H233.9ZM267.1 503.5H274.5V509.6H267.1ZM281.4 503.5H284V509.6H281.4ZM312.2 503.5H326.7V509.6H312.2ZM75 509.3H77.6V515.3H75ZM82.1 509.3H91.9V515.3H82.1ZM105.8 509.3H108.5V515.3H105.8ZM122.4 509.3H127.4V515.3H122.4ZM139 509.3H144.1V515.3H139ZM179.3 509.3H182V515.3H179.3ZM188.8 509.3H198.6V515.3H188.8ZM200.7 509.3H205.7V515.3H200.7ZM236.3 509.3H246.1V515.3H236.3ZM267.1 509.3H276.9V515.3H267.1ZM279 509.3H284V515.3H279ZM312.2 509.3H326.7V515.3H312.2ZM75 515H77.6V521H75ZM82.1 515H91.9V521H82.1ZM105.8 515H108.5V521H105.8ZM122.4 515H127.4V521H122.4ZM139 515H144.1V521H139ZM179.3 515H182V521H179.3ZM188.8 515H191.5V521H188.8ZM193.6 515H203.4V521H193.6ZM238.7 515H246.1V521H238.7ZM267.1 515H281.7V521H267.1ZM312.2 515H326.7V521H312.2ZM75 520.8H77.6V526.8H75ZM82.1 520.8H89.5V526.8H82.1ZM105.8 520.8H108.5V526.8H105.8ZM122.4 520.8H127.4V526.8H122.4ZM139 520.8H141.7V526.8H139ZM181.7 520.8H184.4V526.8H181.7ZM186.5 520.8H191.5V526.8H186.5ZM198.3 520.8H201V526.8H198.3ZM241 520.8H248.4V526.8H241ZM264.8 520.8H281.7V526.8H264.8ZM314.6 520.8H326.7V526.8H314.6ZM75 526.5H77.6V532.5H75ZM82.1 526.5H89.5V532.5H82.1ZM105.8 526.5H108.5V532.5H105.8ZM122.4 526.5H125.1V532.5H122.4ZM181.7 526.5H189.1V532.5H181.7ZM243.4 526.5H250.8V532.5H243.4ZM264.8 526.5H279.3V532.5H264.8ZM314.6 526.5H326.7V532.5H314.6ZM75 532.2H77.6V538.3H75ZM82.1 532.2H89.5V538.3H82.1ZM105.8 532.2H108.5V538.3H105.8ZM120 532.2H125.1V538.3H120ZM184.1 532.2H186.8V538.3H184.1ZM245.8 532.2H250.8V538.3H245.8ZM262.4 532.2H269.8V538.3H262.4ZM316.9 532.2H326.7V538.3H316.9ZM82.1 538H89.5V544H82.1ZM105.8 538H108.5V544H105.8ZM120 538H125.1V544H120ZM248.1 538H255.6V544H248.1ZM260 538H267.4V544H260ZM316.9 538H326.7V544H316.9ZM82.1 543.7H89.5V549.8H82.1ZM105.8 543.7H108.5V549.8H105.8ZM120 543.7H122.7V549.8H120ZM250.5 543.7H265.1V549.8H250.5ZM319.3 543.7H326.7V549.8H319.3ZM84.4 549.5H89.5V555.5H84.4ZM105.8 549.5H108.5V555.5H105.8ZM120 549.5H122.7V555.5H120ZM252.9 549.5H262.7V555.5H252.9ZM319.3 549.5H326.7V555.5H319.3ZM84.4 555.2H87.1V561.2H84.4ZM103.4 555.2H106.1V561.2H103.4ZM120 555.2H122.7V561.2H120ZM319.3 555.2H329.1V561.2H319.3ZM75 560.9H77.6V567H75ZM84.4 560.9H87.1V567H84.4ZM101.1 560.9H103.7V567H101.1ZM122.4 560.9H125.1V567H122.4ZM321.7 560.9H329.1V567H321.7ZM75 566.7H77.6V572.7H75ZM101.1 566.7H103.7V572.7H101.1ZM122.4 566.7H125.1V572.7H122.4ZM321.7 566.7H329.1V572.7H321.7ZM75 572.4H77.6V578.4H75ZM321.7 572.4H331.5V578.4H321.7ZM335.9 572.4H344.6V578.4H335.9ZM75 578.1H77.6V584.2H75ZM98.7 578.1H101.4V584.2H98.7ZM124.8 578.1H127.4V584.2H124.8ZM324.1 578.1H344.6V584.2H324.1ZM75 583.9H77.6V589.9H75ZM124.8 583.9H127.4V589.9H124.8ZM326.4 583.9H344.6V589.9H326.4ZM75 589.6H80V595.7H75ZM124.8 589.6H127.4V595.7H124.8ZM331.2 589.6H344.6V595.7H331.2ZM75 595.4H80V601.4H75ZM98.7 595.4H101.4V601.4H98.7ZM124.8 595.4H127.4V601.4H124.8ZM75 601.1H80V607.1H75ZM75 606.9H80V612.9H75ZM101.1 606.9H103.7V612.9H101.1ZM122.4 606.9H125.1V612.9H122.4ZM77.3 612.6H80V618.6H77.3ZM122.4 612.6H125.1V618.6H122.4ZM77.3 618.3H80V624.4H77.3ZM122.4 618.3H127.4V624.4H122.4ZM77.3 624.1H80V630.1H77.3ZM103.4 624.1H106.1V630.1H103.4ZM122.4 624.1H127.4V630.1H122.4ZM77.3 629.8H80V635.8H77.3ZM120 629.8H132.2V635.8H120ZM77.3 635.5H82.4V641.6H77.3ZM103.4 635.5H106.1V641.6H103.4ZM120 635.5H134.6V641.6H120ZM77.3 641.3H82.4V647.3H77.3ZM101.1 641.3H103.7V647.3H101.1ZM136.6 641.3H141.7V647.3H136.6ZM79.7 647H87.1V653.1H79.7ZM262.4 664.2H322V670.3H262.4ZM70.2 670H72.9V676H70.2ZM86.8 670H89.5V676H86.8ZM134.3 670H139.3V676H134.3ZM70.2 675.7H72.9V681.8H70.2ZM91.6 675.7H94.2V681.8H91.6ZM127.1 675.7H132.2V681.8H127.1ZM47.6 681.5H63.4V687.5H47.6ZM105.8 681.5H115.6V687.5H105.8ZM47.6 687.2H58.6V693.2H47.6ZM93.9 693H96.6V699H93.9ZM110.5 693H113.2V699H110.5ZM79.7 698.7H82.4V704.7H79.7ZM122.4 698.7H125.1V704.7H122.4ZM79.7 704.4H82.4V710.5H79.7ZM122.4 704.4H125.1V710.5H122.4ZM77.3 710.2H84.7V716.2H77.3ZM120 710.2H122.7V716.2H120ZM47.6 715.9H89.5V722H47.6ZM112.9 715.9H120.3V722H112.9ZM47.6 721.7H115.6V727.7H47.6ZM47.6 727.4H115.6V739.5H47.6Z"/>
<path fill="#afff50" d="M98.7 440.1H101.4V452.2H98.7ZM127.1 440.1H129.8V452.2H127.1ZM136.6 440.1H139.3V452.2H136.6ZM143.8 440.1H146.4V452.2H143.8ZM155.6 440.1H165.4V452.2H155.6ZM172.2 440.1H177.3V452.2H172.2ZM217.3 440.1H222.3V452.2H217.3ZM226.8 440.1H231.8V452.2H226.8ZM288.5 440.1H307.8V452.2H288.5ZM77.3 451.9H80V457.9H77.3ZM98.7 451.9H101.4V457.9H98.7ZM127.1 451.9H129.8V457.9H127.1ZM136.6 451.9H139.3V457.9H136.6ZM143.8 451.9H146.4V457.9H143.8ZM158 451.9H165.4V457.9H158ZM174.6 451.9H177.3V457.9H174.6ZM217.3 451.9H222.3V457.9H217.3ZM229.2 451.9H231.8V457.9H229.2ZM286.1 451.9H307.8V457.9H286.1ZM77.3 457.6H82.4V463.7H77.3ZM98.7 457.6H101.4V463.7H98.7ZM127.1 457.6H129.8V463.7H127.1ZM136.6 457.6H139.3V463.7H136.6ZM143.8 457.6H146.4V463.7H143.8ZM158 457.6H165.4V463.7H158ZM174.6 457.6H177.3V463.7H174.6ZM217.3 457.6H220V463.7H217.3ZM229.2 457.6H234.2V463.7H229.2ZM286.1 457.6H307.8V463.7H286.1ZM77.3 463.4H82.4V469.4H77.3ZM98.7 463.4H101.4V469.4H98.7ZM127.1 463.4H129.8V469.4H127.1ZM136.6 463.4H139.3V469.4H136.6ZM143.8 463.4H146.4V469.4H143.8ZM158 463.4H165.4V469.4H158ZM174.6 463.4H177.3V469.4H174.6ZM217.3 463.4H220V469.4H217.3ZM229.2 463.4H234.2V469.4H229.2ZM286.1 463.4H310.1V469.4H286.1ZM77.3 469.1H82.4V475.1H77.3ZM98.7 469.1H101.4V475.1H98.7ZM127.1 469.1H129.8V475.1H127.1ZM136.6 469.1H139.3V475.1H136.6ZM143.8 469.1H146.4V475.1H143.8ZM158 469.1H163V475.1H158ZM174.6 469.1H177.3V475.1H174.6ZM214.9 469.1H220V475.1H214.9ZM229.2 469.1H234.2V475.1H229.2ZM286.1 469.1H293.5V475.1H286.1ZM300.3 469.1H310.1V475.1H300.3ZM77.3 474.8H82.4V480.9H77.3ZM98.7 474.8H101.4V480.9H98.7ZM127.1 474.8H129.8V480.9H127.1ZM136.6 474.8H139.3V480.9H136.6ZM143.8 474.8H146.4V480.9H143.8ZM158 474.8H163V480.9H158ZM174.6 474.8H177.3V480.9H174.6ZM214.9 474.8H220V480.9H214.9ZM229.2 474.8H234.2V480.9H229.2ZM286.1 474.8H291.2V480.9H286.1ZM302.7 474.8H310.1V480.9H302.7ZM77.3 480.6H82.4V486.6H77.3ZM98.7 480.6H101.4V486.6H98.7ZM127.1 480.6H129.8V486.6H127.1ZM136.6 480.6H139.3V486.6H136.6ZM143.8 480.6H146.4V486.6H143.8ZM158 480.6H163V486.6H158ZM174.6 480.6H177.3V486.6H174.6ZM214.9 480.6H220V486.6H214.9ZM229.2 480.6H234.2V486.6H229.2ZM286.1 480.6H288.8V486.6H286.1ZM305.1 480.6H310.1V486.6H305.1ZM77.3 486.3H82.4V492.4H77.3ZM98.7 486.3H101.4V492.4H98.7ZM127.1 486.3H129.8V492.4H127.1ZM136.6 486.3H139.3V492.4H136.6ZM143.8 486.3H146.4V492.4H143.8ZM158 486.3H163V492.4H158ZM174.6 486.3H177.3V492.4H174.6ZM214.9 486.3H220V492.4H214.9ZM229.2 486.3H234.2V492.4H229.2ZM283.7 486.3H288.8V492.4H283.7ZM305.1 486.3H310.1V492.4H305.1ZM77.3 492.1H82.4V498.1H77.3ZM93.9 492.1H101.4V498.1H93.9ZM127.1 492.1H129.8V498.1H127.1ZM136.6 492.1H139.3V498.1H136.6ZM143.8 492.1H146.4V498.1H143.8ZM158 492.1H163V498.1H158ZM174.6 492.1H177.3V498.1H174.6ZM214.9 492.1H220V498.1H214.9ZM229.2 492.1H234.2V498.1H229.2ZM283.7 492.1H288.8V498.1H283.7ZM305.1 492.1H312.5V498.1H305.1ZM77.3 497.8H82.4V503.8H77.3ZM91.6 497.8H101.4V503.8H91.6ZM127.1 497.8H129.8V503.8H127.1ZM136.6 497.8H139.3V503.8H136.6ZM143.8 497.8H146.4V503.8H143.8ZM158 497.8H163V503.8H158ZM174.6 497.8H177.3V503.8H174.6ZM214.9 497.8H220V503.8H214.9ZM231.5 497.8H234.2V503.8H231.5ZM283.7 497.8H286.4V503.8H283.7ZM307.5 497.8H312.5V503.8H307.5ZM77.3 503.5H82.4V509.6H77.3ZM91.6 503.5H101.4V509.6H91.6ZM127.1 503.5H129.8V509.6H127.1ZM136.6 503.5H139.3V509.6H136.6ZM158 503.5H163V509.6H158ZM174.6 503.5H179.6V509.6H174.6ZM212.6 503.5H220V509.6H212.6ZM231.5 503.5H234.2V509.6H231.5ZM283.7 503.5H286.4V509.6H283.7ZM307.5 503.5H312.5V509.6H307.5ZM77.3 509.3H82.4V515.3H77.3ZM91.6 509.3H94.2V515.3H91.6ZM103.4 509.3H106.1V515.3H103.4ZM127.1 509.3H129.8V515.3H127.1ZM136.6 509.3H139.3V515.3H136.6ZM158 509.3H163V515.3H158ZM174.6 509.3H179.6V515.3H174.6ZM205.4 509.3H217.6V515.3H205.4ZM231.5 509.3H236.6V515.3H231.5ZM283.7 509.3H286.4V515.3H283.7ZM307.5 509.3H312.5V515.3H307.5ZM77.3 515H82.4V521H77.3ZM103.4 515H106.1V521H103.4ZM127.1 515H129.8V521H127.1ZM136.6 515H139.3V521H136.6ZM160.4 515H163V521H160.4ZM177 515H179.6V521H177ZM191.2 515H193.9V521H191.2ZM203.1 515H217.6V521H203.1ZM231.5 515H239V521H231.5ZM281.4 515H286.4V521H281.4ZM307.5 515H312.5V521H307.5ZM77.3 520.8H82.4V526.8H77.3ZM89.2 520.8H91.9V526.8H89.2ZM103.4 520.8H106.1V526.8H103.4ZM127.1 520.8H129.8V526.8H127.1ZM136.6 520.8H139.3V526.8H136.6ZM141.4 520.8H144.1V526.8H141.4ZM177 520.8H182V526.8H177ZM191.2 520.8H198.6V526.8H191.2ZM200.7 520.8H217.6V526.8H200.7ZM231.5 520.8H241.3V526.8H231.5ZM281.4 520.8H284V526.8H281.4ZM309.8 520.8H314.9V526.8H309.8ZM77.3 526.5H82.4V532.5H77.3ZM89.2 526.5H91.9V532.5H89.2ZM103.4 526.5H106.1V532.5H103.4ZM124.8 526.5H129.8V532.5H124.8ZM136.6 526.5H144.1V532.5H136.6ZM177 526.5H182V532.5H177ZM188.8 526.5H215.2V532.5H188.8ZM233.9 526.5H243.7V532.5H233.9ZM279 526.5H284V532.5H279ZM309.8 526.5H314.9V532.5H309.8ZM77.3 532.2H82.4V538.3H77.3ZM89.2 532.2H91.9V538.3H89.2ZM103.4 532.2H106.1V538.3H103.4ZM124.8 532.2H129.8V538.3H124.8ZM136.6 532.2H144.1V538.3H136.6ZM179.3 532.2H184.4V538.3H179.3ZM186.5 532.2H191.5V538.3H186.5ZM236.3 532.2H246.1V538.3H236.3ZM269.5 532.2H284V538.3H269.5ZM309.8 532.2H317.2V538.3H309.8ZM77.3 538H82.4V544H77.3ZM89.2 538H91.9V544H89.2ZM103.4 538H106.1V544H103.4ZM124.8 538H129.8V544H124.8ZM139 538H141.7V544H139ZM181.7 538H189.1V544H181.7ZM238.7 538H248.4V544H238.7ZM267.1 538H281.7V544H267.1ZM309.8 538H317.2V544H309.8ZM77.3 543.7H82.4V549.8H77.3ZM89.2 543.7H91.9V549.8H89.2ZM103.4 543.7H106.1V549.8H103.4ZM122.4 543.7H129.8V549.8H122.4ZM184.1 543.7H186.8V549.8H184.1ZM243.4 543.7H250.8V549.8H243.4ZM264.8 543.7H281.7V549.8H264.8ZM309.8 543.7H319.6V549.8H309.8ZM77.3 549.5H84.7V555.5H77.3ZM101.1 549.5H106.1V555.5H101.1ZM122.4 549.5H127.4V555.5H122.4ZM245.8 549.5H253.2V555.5H245.8ZM262.4 549.5H279.3V555.5H262.4ZM309.8 549.5H319.6V555.5H309.8ZM77.3 555.2H84.7V561.2H77.3ZM86.8 555.2H89.5V561.2H86.8ZM101.1 555.2H103.7V561.2H101.1ZM122.4 555.2H127.4V561.2H122.4ZM248.1 555.2H276.9V561.2H248.1ZM309.8 555.2H319.6V561.2H309.8ZM77.3 560.9H84.7V567H77.3ZM86.8 560.9H89.5V567H86.8ZM124.8 560.9H127.4V567H124.8ZM248.1 560.9H274.5V567H248.1ZM309.8 560.9H322V567H309.8ZM77.3 566.7H89.5V572.7H77.3ZM98.7 566.7H101.4V572.7H98.7ZM124.8 566.7H127.4V572.7H124.8ZM250.5 566.7H272.2V572.7H250.5ZM309.8 566.7H322V572.7H309.8ZM77.3 572.4H91.9V578.4H77.3ZM98.7 572.4H101.4V578.4H98.7ZM124.8 572.4H129.8V578.4H124.8ZM252.9 572.4H269.8V578.4H252.9ZM309.8 572.4H322V578.4H309.8ZM77.3 578.1H91.9V584.2H77.3ZM127.1 578.1H129.8V584.2H127.1ZM255.3 578.1H265.1V584.2H255.3ZM312.2 578.1H324.4V584.2H312.2ZM77.3 583.9H91.9V589.9H77.3ZM127.1 583.9H129.8V589.9H127.1ZM316.9 583.9H326.7V589.9H316.9ZM79.7 589.6H89.5V595.7H79.7ZM96.3 589.6H99V595.7H96.3ZM127.1 589.6H129.8V595.7H127.1ZM324.1 589.6H331.5V595.7H324.1ZM79.7 595.4H87.1V601.4H79.7ZM127.1 595.4H129.8V601.4H127.1ZM328.8 595.4H344.6V601.4H328.8ZM79.7 601.1H84.7V607.1H79.7ZM98.7 601.1H101.4V607.1H98.7ZM124.8 601.1H127.4V607.1H124.8ZM333.6 601.1H344.6V607.1H333.6ZM79.7 606.9H82.4V612.9H79.7ZM124.8 606.9H129.8V612.9H124.8ZM79.7 612.6H82.4V618.6H79.7ZM101.1 612.6H103.7V618.6H101.1ZM124.8 612.6H129.8V618.6H124.8ZM79.7 618.3H82.4V624.4H79.7ZM127.1 618.3H134.6V624.4H127.1ZM79.7 624.1H82.4V630.1H79.7ZM127.1 624.1H136.9V630.1H127.1ZM79.7 629.8H82.4V635.8H79.7ZM103.4 629.8H106.1V635.8H103.4ZM131.9 629.8H139.3V635.8H131.9ZM134.3 635.5H139.3V641.6H134.3ZM82.1 641.3H84.7V647.3H82.1ZM141.4 641.3H144.1V647.3H141.4ZM72.6 670H75.3V676H72.6ZM84.4 670H87.1V676H84.4ZM139 670H146.4V676H139ZM72.6 675.7H75.3V681.8H72.6ZM86.8 675.7H91.9V681.8H86.8ZM131.9 675.7H134.6V681.8H131.9ZM63.1 681.5H68.1V687.5H63.1ZM101.1 681.5H106.1V687.5H101.1ZM115.3 681.5H120.3V687.5H115.3ZM58.3 687.2H70.5V693.2H58.3ZM96.3 693H99V699H96.3ZM105.8 693H110.8V699H105.8ZM82.1 698.7H84.7V704.7H82.1ZM120 698.7H122.7V704.7H120ZM82.1 704.4H84.7V710.5H82.1ZM120 704.4H122.7V710.5H120ZM84.4 710.2H89.5V716.2H84.4ZM115.3 710.2H120.3V716.2H115.3ZM89.2 715.9H113.2V722H89.2Z"/>
<path fill="#bfff40" d="M101.1 440.1H106.1V452.2H101.1ZM146.1 440.1H148.8V452.2H146.1ZM153.2 440.1H155.9V452.2H153.2ZM165.1 440.1H167.8V452.2H165.1ZM169.9 440.1H172.5V452.2H169.9ZM222 440.1H227.1V452.2H222ZM101.1 451.9H106.1V457.9H101.1ZM146.1 451.9H148.8V457.9H146.1ZM155.6 451.9H158.3V457.9H155.6ZM165.1 451.9H167.8V457.9H165.1ZM169.9 451.9H174.9V457.9H169.9ZM222 451.9H229.5V457.9H222ZM101.1 457.6H106.1V463.7H101.1ZM155.6 457.6H158.3V463.7H155.6ZM165.1 457.6H167.8V463.7H165.1ZM172.2 457.6H174.9V463.7H172.2ZM219.7 457.6H229.5V463.7H219.7ZM101.1 463.4H106.1V469.4H101.1ZM155.6 463.4H158.3V469.4H155.6ZM172.2 463.4H174.9V469.4H172.2ZM219.7 463.4H229.5V469.4H219.7ZM101.1 469.1H106.1V475.1H101.1ZM155.6 469.1H158.3V475.1H155.6ZM162.7 469.1H165.4V475.1H162.7ZM172.2 469.1H174.9V475.1H172.2ZM219.7 469.1H229.5V475.1H219.7ZM293.2 469.1H300.6V475.1H293.2ZM101.1 474.8H106.1V480.9H101.1ZM155.6 474.8H158.3V480.9H155.6ZM162.7 474.8H165.4V480.9H162.7ZM172.2 474.8H174.9V480.9H172.2ZM219.7 474.8H222.3V480.9H219.7ZM226.8 474.8H229.5V480.9H226.8ZM290.9 474.8H303V480.9H290.9ZM101.1 480.6H106.1V486.6H101.1ZM155.6 480.6H158.3V486.6H155.6ZM162.7 480.6H165.4V486.6H162.7ZM172.2 480.6H174.9V486.6H172.2ZM219.7 480.6H222.3V486.6H219.7ZM226.8 480.6H229.5V486.6H226.8ZM288.5 480.6H305.4V486.6H288.5ZM101.1 486.3H106.1V492.4H101.1ZM155.6 486.3H158.3V492.4H155.6ZM162.7 486.3H165.4V492.4H162.7ZM172.2 486.3H174.9V492.4H172.2ZM219.7 486.3H222.3V492.4H219.7ZM226.8 486.3H229.5V492.4H226.8ZM288.5 486.3H305.4V492.4H288.5ZM101.1 492.1H106.1V498.1H101.1ZM155.6 492.1H158.3V498.1H155.6ZM162.7 492.1H165.4V498.1H162.7ZM172.2 492.1H174.9V498.1H172.2ZM219.7 492.1H222.3V498.1H219.7ZM226.8 492.1H229.5V498.1H226.8ZM288.5 492.1H305.4V498.1H288.5ZM101.1 497.8H106.1V503.8H101.1ZM155.6 497.8H158.3V503.8H155.6ZM162.7 497.8H165.4V503.8H162.7ZM219.7 497.8H222.3V503.8H219.7ZM226.8 497.8H231.8V503.8H226.8ZM286.1 497.8H293.5V503.8H286.1ZM300.3 497.8H307.8V503.8H300.3ZM101.1 503.5H106.1V509.6H101.1ZM143.8 503.5H146.4V509.6H143.8ZM155.6 503.5H158.3V509.6H155.6ZM162.7 503.5H165.4V509.6H162.7ZM219.7 503.5H222.3V509.6H219.7ZM229.2 503.5H231.8V509.6H229.2ZM286.1 503.5H291.2V509.6H286.1ZM302.7 503.5H307.8V509.6H302.7ZM93.9 509.3H103.7V515.3H93.9ZM143.8 509.3H146.4V515.3H143.8ZM155.6 509.3H158.3V515.3H155.6ZM162.7 509.3H165.4V515.3H162.7ZM217.3 509.3H222.3V515.3H217.3ZM229.2 509.3H231.8V515.3H229.2ZM286.1 509.3H291.2V515.3H286.1ZM302.7 509.3H307.8V515.3H302.7ZM91.6 515H94.2V521H91.6ZM96.3 515H103.7V521H96.3ZM129.5 515H132.2V521H129.5ZM134.3 515H136.9V521H134.3ZM143.8 515H146.4V521H143.8ZM155.6 515H160.7V521H155.6ZM162.7 515H165.4V521H162.7ZM174.6 515H177.3V521H174.6ZM217.3 515H220V521H217.3ZM229.2 515H231.8V521H229.2ZM286.1 515H288.8V521H286.1ZM302.7 515H307.8V521H302.7ZM91.6 520.8H94.2V526.8H91.6ZM98.7 520.8H103.7V526.8H98.7ZM129.5 520.8H132.2V526.8H129.5ZM134.3 520.8H136.9V526.8H134.3ZM143.8 520.8H146.4V526.8H143.8ZM158 520.8H163V526.8H158ZM174.6 520.8H177.3V526.8H174.6ZM217.3 520.8H220V526.8H217.3ZM229.2 520.8H231.8V526.8H229.2ZM283.7 520.8H288.8V526.8H283.7ZM305.1 520.8H310.1V526.8H305.1ZM98.7 526.5H103.7V532.5H98.7ZM129.5 526.5H132.2V532.5H129.5ZM134.3 526.5H136.9V532.5H134.3ZM143.8 526.5H146.4V532.5H143.8ZM158 526.5H163V532.5H158ZM174.6 526.5H177.3V532.5H174.6ZM214.9 526.5H220V532.5H214.9ZM229.2 526.5H234.2V532.5H229.2ZM283.7 526.5H288.8V532.5H283.7ZM305.1 526.5H310.1V532.5H305.1ZM98.7 532.2H103.7V538.3H98.7ZM129.5 532.2H132.2V538.3H129.5ZM134.3 532.2H136.9V538.3H134.3ZM143.8 532.2H146.4V538.3H143.8ZM158 532.2H163V538.3H158ZM174.6 532.2H179.6V538.3H174.6ZM191.2 532.2H217.6V538.3H191.2ZM231.5 532.2H236.6V538.3H231.5ZM283.7 532.2H288.8V538.3H283.7ZM305.1 532.2H310.1V538.3H305.1ZM101.1 538H103.7V544H101.1ZM129.5 538H132.2V544H129.5ZM134.3 538H139.3V544H134.3ZM141.4 538H144.1V544H141.4ZM158 538H163V544H158ZM177 538H182V544H177ZM188.8 538H203.4V544H188.8ZM207.8 538H217.6V544H207.8ZM231.5 538H239V544H231.5ZM281.4 538H286.4V544H281.4ZM305.1 538H310.1V544H305.1ZM101.1 543.7H103.7V549.8H101.1ZM129.5 543.7H132.2V549.8H129.5ZM134.3 543.7H144.1V549.8H134.3ZM177 543.7H184.4V549.8H177ZM186.5 543.7H193.9V549.8H186.5ZM231.5 543.7H243.7V549.8H231.5ZM281.4 543.7H286.4V549.8H281.4ZM305.1 543.7H310.1V549.8H305.1ZM89.2 549.5H91.9V555.5H89.2ZM127.1 549.5H132.2V555.5H127.1ZM134.3 549.5H144.1V555.5H134.3ZM181.7 549.5H189.1V555.5H181.7ZM233.9 549.5H246.1V555.5H233.9ZM279 549.5H286.4V555.5H279ZM305.1 549.5H310.1V555.5H305.1ZM89.2 555.2H91.9V561.2H89.2ZM98.7 555.2H101.4V561.2H98.7ZM127.1 555.2H132.2V561.2H127.1ZM134.3 555.2H144.1V561.2H134.3ZM184.1 555.2H186.8V561.2H184.1ZM236.3 555.2H248.4V561.2H236.3ZM276.6 555.2H286.4V561.2H276.6ZM305.1 555.2H310.1V561.2H305.1ZM89.2 560.9H91.9V567H89.2ZM98.7 560.9H101.4V567H98.7ZM127.1 560.9H144.1V567H127.1ZM238.7 560.9H248.4V567H238.7ZM274.2 560.9H286.4V567H274.2ZM305.1 560.9H310.1V567H305.1ZM89.2 566.7H91.9V572.7H89.2ZM127.1 566.7H144.1V572.7H127.1ZM238.7 566.7H250.8V572.7H238.7ZM271.9 566.7H286.4V572.7H271.9ZM305.1 566.7H310.1V572.7H305.1ZM129.5 572.4H144.1V578.4H129.5ZM241 572.4H253.2V578.4H241ZM269.5 572.4H288.8V578.4H269.5ZM302.7 572.4H310.1V578.4H302.7ZM91.6 578.1H94.2V584.2H91.6ZM96.3 578.1H99V584.2H96.3ZM129.5 578.1H144.1V584.2H129.5ZM241 578.1H255.6V584.2H241ZM264.8 578.1H288.8V584.2H264.8ZM305.1 578.1H312.5V584.2H305.1ZM91.6 583.9H94.2V589.9H91.6ZM96.3 583.9H99V589.9H96.3ZM129.5 583.9H144.1V589.9H129.5ZM248.1 583.9H288.8V589.9H248.1ZM307.5 583.9H317.2V589.9H307.5ZM89.2 589.6H91.9V595.7H89.2ZM129.5 589.6H141.7V595.7H129.5ZM257.6 589.6H284V595.7H257.6ZM316.9 589.6H324.4V595.7H316.9ZM86.8 595.4H89.5V601.4H86.8ZM96.3 595.4H99V601.4H96.3ZM129.5 595.4H139.3V601.4H129.5ZM324.1 595.4H329.1V601.4H324.1ZM84.4 601.1H87.1V607.1H84.4ZM127.1 601.1H136.9V607.1H127.1ZM328.8 601.1H333.9V607.1H328.8ZM82.1 606.9H84.7V612.9H82.1ZM98.7 606.9H101.4V612.9H98.7ZM129.5 606.9H136.9V612.9H129.5ZM333.6 606.9H344.6V612.9H333.6ZM82.1 612.6H84.7V618.6H82.1ZM129.5 612.6H139.3V618.6H129.5ZM82.1 618.3H84.7V624.4H82.1ZM101.1 618.3H103.7V624.4H101.1ZM134.3 618.3H139.3V624.4H134.3ZM82.1 624.1H84.7V630.1H82.1ZM136.6 624.1H141.7V630.1H136.6ZM82.1 629.8H84.7V635.8H82.1ZM139 629.8H141.7V635.8H139ZM82.1 635.5H84.7V641.6H82.1ZM101.1 635.5H103.7V641.6H101.1ZM139 635.5H141.7V641.6H139ZM84.4 641.3H87.1V647.3H84.4ZM98.7 641.3H101.4V647.3H98.7ZM143.8 641.3H146.4V647.3H143.8ZM75 670H84.7V676H75ZM146.1 670H163V676H146.1ZM75 675.7H87.1V681.8H75ZM134.3 675.7H141.7V681.8H134.3ZM67.8 681.5H72.9V687.5H67.8ZM96.3 681.5H101.4V687.5H96.3ZM120 681.5H125.1V687.5H120ZM70.2 687.2H72.9V693.2H70.2ZM98.7 693H106.1V699H98.7ZM84.4 698.7H87.1V704.7H84.4ZM117.7 698.7H120.3V704.7H117.7ZM84.4 704.4H87.1V710.5H84.4ZM117.7 704.4H120.3V710.5H117.7ZM89.2 710.2H91.9V716.2H89.2ZM112.9 710.2H115.6V716.2H112.9Z"/>
<path fill="#cfff30" d="M148.5 440.1H153.5V452.2H148.5ZM167.5 440.1H170.2V452.2H167.5ZM148.5 451.9H155.9V457.9H148.5ZM167.5 451.9H170.2V457.9H167.5ZM146.1 457.6H148.8V463.7H146.1ZM153.2 457.6H155.9V463.7H153.2ZM167.5 457.6H172.5V463.7H167.5ZM146.1 463.4H148.8V469.4H146.1ZM153.2 463.4H155.9V469.4H153.2ZM165.1 463.4H172.5V469.4H165.1ZM146.1 469.1H148.8V475.1H146.1ZM153.2 469.1H155.9V475.1H153.2ZM165.1 469.1H167.8V475.1H165.1ZM169.9 469.1H172.5V475.1H169.9ZM146.1 474.8H148.8V480.9H146.1ZM153.2 474.8H155.9V480.9H153.2ZM165.1 474.8H167.8V480.9H165.1ZM169.9 474.8H172.5V480.9H169.9ZM222 474.8H227.1V480.9H222ZM146.1 480.6H148.8V486.6H146.1ZM153.2 480.6H155.9V486.6H153.2ZM165.1 480.6H167.8V486.6H165.1ZM222 480.6H227.1V486.6H222ZM146.1 486.3H148.8V492.4H146.1ZM165.1 486.3H167.8V492.4H165.1ZM222 486.3H227.1V492.4H222ZM134.3 492.1H136.9V498.1H134.3ZM146.1 492.1H148.8V498.1H146.1ZM222 492.1H227.1V498.1H222ZM129.5 497.8H132.2V503.8H129.5ZM134.3 497.8H136.9V503.8H134.3ZM146.1 497.8H148.8V503.8H146.1ZM172.2 497.8H174.9V503.8H172.2ZM222 497.8H227.1V503.8H222ZM293.2 497.8H300.6V503.8H293.2ZM129.5 503.5H132.2V509.6H129.5ZM134.3 503.5H136.9V509.6H134.3ZM146.1 503.5H148.8V509.6H146.1ZM172.2 503.5H174.9V509.6H172.2ZM222 503.5H229.5V509.6H222ZM290.9 503.5H303V509.6H290.9ZM129.5 509.3H132.2V515.3H129.5ZM134.3 509.3H136.9V515.3H134.3ZM146.1 509.3H148.8V515.3H146.1ZM172.2 509.3H174.9V515.3H172.2ZM222 509.3H229.5V515.3H222ZM290.9 509.3H303V515.3H290.9ZM93.9 515H96.6V521H93.9ZM146.1 515H148.8V521H146.1ZM172.2 515H174.9V521H172.2ZM219.7 515H229.5V521H219.7ZM288.5 515H303V521H288.5ZM93.9 520.8H99V526.8H93.9ZM146.1 520.8H148.8V526.8H146.1ZM155.6 520.8H158.3V526.8H155.6ZM162.7 520.8H165.4V526.8H162.7ZM172.2 520.8H174.9V526.8H172.2ZM219.7 520.8H222.3V526.8H219.7ZM226.8 520.8H229.5V526.8H226.8ZM288.5 520.8H305.4V526.8H288.5ZM91.6 526.5H94.2V532.5H91.6ZM96.3 526.5H99V532.5H96.3ZM131.9 526.5H134.6V532.5H131.9ZM146.1 526.5H148.8V532.5H146.1ZM155.6 526.5H158.3V532.5H155.6ZM162.7 526.5H165.4V532.5H162.7ZM172.2 526.5H174.9V532.5H172.2ZM219.7 526.5H222.3V532.5H219.7ZM226.8 526.5H229.5V532.5H226.8ZM288.5 526.5H295.9V532.5H288.5ZM298 526.5H305.4V532.5H298ZM91.6 532.2H94.2V538.3H91.6ZM131.9 532.2H134.6V538.3H131.9ZM155.6 532.2H158.3V538.3H155.6ZM162.7 532.2H165.4V538.3H162.7ZM217.3 532.2H222.3V538.3H217.3ZM226.8 532.2H231.8V538.3H226.8ZM288.5 532.2H293.5V538.3H288.5ZM300.3 532.2H305.4V538.3H300.3ZM91.6 538H94.2V544H91.6ZM98.7 538H101.4V544H98.7ZM131.9 538H134.6V544H131.9ZM143.8 538H146.4V544H143.8ZM155.6 538H158.3V544H155.6ZM162.7 538H165.4V544H162.7ZM174.6 538H177.3V544H174.6ZM203.1 538H208.1V544H203.1ZM217.3 538H220V544H217.3ZM229.2 538H231.8V544H229.2ZM286.1 538H293.5V544H286.1ZM300.3 538H305.4V544H300.3ZM98.7 543.7H101.4V549.8H98.7ZM131.9 543.7H134.6V549.8H131.9ZM143.8 543.7H146.4V549.8H143.8ZM155.6 543.7H165.4V549.8H155.6ZM174.6 543.7H177.3V549.8H174.6ZM193.6 543.7H220V549.8H193.6ZM229.2 543.7H231.8V549.8H229.2ZM286.1 543.7H293.5V549.8H286.1ZM300.3 543.7H305.4V549.8H300.3ZM98.7 549.5H101.4V555.5H98.7ZM131.9 549.5H134.6V555.5H131.9ZM143.8 549.5H146.4V555.5H143.8ZM155.6 549.5H163V555.5H155.6ZM174.6 549.5H182V555.5H174.6ZM188.8 549.5H198.6V555.5H188.8ZM212.6 549.5H217.6V555.5H212.6ZM229.2 549.5H234.2V555.5H229.2ZM286.1 549.5H293.5V555.5H286.1ZM300.3 549.5H305.4V555.5H300.3ZM131.9 555.2H134.6V561.2H131.9ZM143.8 555.2H146.4V561.2H143.8ZM155.6 555.2H163V561.2H155.6ZM174.6 555.2H184.4V561.2H174.6ZM186.5 555.2H196.2V561.2H186.5ZM231.5 555.2H236.6V561.2H231.5ZM286.1 555.2H293.5V561.2H286.1ZM300.3 555.2H305.4V561.2H300.3ZM143.8 560.9H146.4V567H143.8ZM155.6 560.9H163V567H155.6ZM177 560.9H193.9V567H177ZM231.5 560.9H239V567H231.5ZM286.1 560.9H295.9V567H286.1ZM298 560.9H305.4V567H298ZM91.6 566.7H94.2V572.7H91.6ZM143.8 566.7H148.8V572.7H143.8ZM155.6 566.7H163V572.7H155.6ZM177 566.7H191.5V572.7H177ZM231.5 566.7H239V572.7H231.5ZM286.1 566.7H305.4V572.7H286.1ZM91.6 572.4H94.2V578.4H91.6ZM96.3 572.4H99V578.4H96.3ZM143.8 572.4H148.8V578.4H143.8ZM155.6 572.4H163V578.4H155.6ZM174.6 572.4H191.5V578.4H174.6ZM231.5 572.4H241.3V578.4H231.5ZM288.5 572.4H303V578.4H288.5ZM93.9 578.1H96.6V584.2H93.9ZM143.8 578.1H165.4V584.2H143.8ZM174.6 578.1H191.5V584.2H174.6ZM231.5 578.1H241.3V584.2H231.5ZM288.5 578.1H305.4V584.2H288.5ZM93.9 583.9H96.6V589.9H93.9ZM143.8 583.9H165.4V589.9H143.8ZM174.6 583.9H189.1V589.9H174.6ZM233.9 583.9H248.4V589.9H233.9ZM288.5 583.9H307.8V589.9H288.5ZM91.6 589.6H96.6V595.7H91.6ZM141.4 589.6H160.7V595.7H141.4ZM245.8 589.6H257.9V595.7H245.8ZM283.7 589.6H293.5V595.7H283.7ZM307.5 589.6H317.2V595.7H307.5ZM89.2 595.4H96.6V601.4H89.2ZM139 595.4H148.8V601.4H139ZM257.6 595.4H286.4V601.4H257.6ZM319.3 595.4H324.4V601.4H319.3ZM86.8 601.1H89.5V607.1H86.8ZM96.3 601.1H99V607.1H96.3ZM136.6 601.1H146.4V607.1H136.6ZM324.1 601.1H329.1V607.1H324.1ZM84.4 606.9H87.1V612.9H84.4ZM136.6 606.9H146.4V612.9H136.6ZM328.8 606.9H333.9V612.9H328.8ZM84.4 612.6H87.1V618.6H84.4ZM139 612.6H144.1V618.6H139ZM139 618.3H141.7V624.4H139ZM101.1 624.1H103.7V630.1H101.1ZM141.4 624.1H144.1V630.1H141.4ZM101.1 629.8H103.7V635.8H101.1ZM141.4 629.8H144.1V635.8H141.4ZM141.4 635.5H144.1V641.6H141.4ZM146.1 641.3H148.8V647.3H146.1ZM335.9 641.3H344.6V647.3H335.9ZM162.7 670H250.8V676H162.7ZM328.8 670H344.6V676H328.8ZM141.4 675.7H151.2V681.8H141.4ZM181.7 675.7H248.4V681.8H181.7ZM331.2 675.7H344.6V681.8H331.2ZM72.6 681.5H75.3V687.5H72.6ZM91.6 681.5H96.6V687.5H91.6ZM124.8 681.5H129.8V687.5H124.8ZM72.6 687.2H80V693.2H72.6ZM112.9 687.2H132.2V693.2H112.9ZM86.8 698.7H89.5V704.7H86.8ZM86.8 704.4H89.5V710.5H86.8ZM115.3 704.4H118V710.5H115.3ZM91.6 710.2H96.6V716.2H91.6ZM110.5 710.2H113.2V716.2H110.5Z"/>
<path fill="#dfff20" d="M129.5 440.1H132.2V452.2H129.5ZM134.3 440.1H136.9V452.2H134.3ZM129.5 451.9H132.2V457.9H129.5ZM134.3 451.9H136.9V457.9H134.3ZM134.3 457.6H136.9V463.7H134.3ZM148.5 457.6H153.5V463.7H148.5ZM129.5 463.4H132.2V469.4H129.5ZM134.3 463.4H136.9V469.4H134.3ZM148.5 463.4H153.5V469.4H148.5ZM129.5 469.1H132.2V475.1H129.5ZM134.3 469.1H136.9V475.1H134.3ZM148.5 469.1H153.5V475.1H148.5ZM167.5 469.1H170.2V475.1H167.5ZM129.5 474.8H132.2V480.9H129.5ZM134.3 474.8H136.9V480.9H134.3ZM148.5 474.8H153.5V480.9H148.5ZM167.5 474.8H170.2V480.9H167.5ZM129.5 480.6H132.2V486.6H129.5ZM134.3 480.6H136.9V486.6H134.3ZM148.5 480.6H153.5V486.6H148.5ZM167.5 480.6H172.5V486.6H167.5ZM129.5 486.3H132.2V492.4H129.5ZM134.3 486.3H136.9V492.4H134.3ZM148.5 486.3H155.9V492.4H148.5ZM167.5 486.3H172.5V492.4H167.5ZM129.5 492.1H132.2V498.1H129.5ZM148.5 492.1H151.2V498.1H148.5ZM153.2 492.1H155.9V498.1H153.2ZM165.1 492.1H167.8V498.1H165.1ZM169.9 492.1H172.5V498.1H169.9ZM148.5 497.8H151.2V503.8H148.5ZM153.2 497.8H155.9V503.8H153.2ZM165.1 497.8H167.8V503.8H165.1ZM169.9 497.8H172.5V503.8H169.9ZM148.5 503.5H151.2V509.6H148.5ZM153.2 503.5H155.9V509.6H153.2ZM165.1 503.5H167.8V509.6H165.1ZM169.9 503.5H172.5V509.6H169.9ZM131.9 509.3H134.6V515.3H131.9ZM148.5 509.3H151.2V515.3H148.5ZM153.2 509.3H155.9V515.3H153.2ZM165.1 509.3H167.8V515.3H165.1ZM169.9 509.3H172.5V515.3H169.9ZM131.9 515H134.6V521H131.9ZM148.5 515H151.2V521H148.5ZM153.2 515H155.9V521H153.2ZM165.1 515H167.8V521H165.1ZM131.9 520.8H134.6V526.8H131.9ZM148.5 520.8H151.2V526.8H148.5ZM153.2 520.8H155.9V526.8H153.2ZM165.1 520.8H167.8V526.8H165.1ZM222 520.8H227.1V526.8H222ZM93.9 526.5H96.6V532.5H93.9ZM148.5 526.5H151.2V532.5H148.5ZM153.2 526.5H155.9V532.5H153.2ZM165.1 526.5H167.8V532.5H165.1ZM222 526.5H227.1V532.5H222ZM295.6 526.5H298.3V532.5H295.6ZM96.3 532.2H99V538.3H96.3ZM146.1 532.2H151.2V538.3H146.1ZM153.2 532.2H155.9V538.3H153.2ZM165.1 532.2H167.8V538.3H165.1ZM172.2 532.2H174.9V538.3H172.2ZM222 532.2H227.1V538.3H222ZM293.2 532.2H300.6V538.3H293.2ZM96.3 538H99V544H96.3ZM146.1 538H151.2V544H146.1ZM153.2 538H155.9V544H153.2ZM172.2 538H174.9V544H172.2ZM219.7 538H229.5V544H219.7ZM293.2 538H300.6V544H293.2ZM91.6 543.7H94.2V549.8H91.6ZM146.1 543.7H151.2V549.8H146.1ZM153.2 543.7H155.9V549.8H153.2ZM172.2 543.7H174.9V549.8H172.2ZM219.7 543.7H229.5V549.8H219.7ZM293.2 543.7H300.6V549.8H293.2ZM91.6 549.5H94.2V555.5H91.6ZM146.1 549.5H155.9V555.5H146.1ZM162.7 549.5H165.4V555.5H162.7ZM172.2 549.5H174.9V555.5H172.2ZM198.3 549.5H212.9V555.5H198.3ZM217.3 549.5H222.3V555.5H217.3ZM226.8 549.5H229.5V555.5H226.8ZM293.2 549.5H300.6V555.5H293.2ZM91.6 555.2H94.2V561.2H91.6ZM146.1 555.2H155.9V561.2H146.1ZM162.7 555.2H165.4V561.2H162.7ZM172.2 555.2H174.9V561.2H172.2ZM195.9 555.2H201V561.2H195.9ZM212.6 555.2H222.3V561.2H212.6ZM229.2 555.2H231.8V561.2H229.2ZM293.2 555.2H300.6V561.2H293.2ZM91.6 560.9H94.2V567H91.6ZM96.3 560.9H99V567H96.3ZM146.1 560.9H155.9V567H146.1ZM162.7 560.9H165.4V567H162.7ZM172.2 560.9H177.3V567H172.2ZM193.6 560.9H198.6V567H193.6ZM214.9 560.9H220V567H214.9ZM229.2 560.9H231.8V567H229.2ZM295.6 560.9H298.3V567H295.6ZM93.9 566.7H99V572.7H93.9ZM148.5 566.7H155.9V572.7H148.5ZM162.7 566.7H167.8V572.7H162.7ZM172.2 566.7H177.3V572.7H172.2ZM191.2 566.7H196.2V572.7H191.2ZM214.9 566.7H220V572.7H214.9ZM229.2 566.7H231.8V572.7H229.2ZM93.9 572.4H96.6V578.4H93.9ZM148.5 572.4H155.9V578.4H148.5ZM162.7 572.4H167.8V578.4H162.7ZM169.9 572.4H174.9V578.4H169.9ZM191.2 572.4H196.2V578.4H191.2ZM217.3 572.4H220V578.4H217.3ZM229.2 572.4H231.8V578.4H229.2ZM165.1 578.1H174.9V584.2H165.1ZM191.2 578.1H193.9V584.2H191.2ZM217.3 578.1H220V584.2H217.3ZM229.2 578.1H231.8V584.2H229.2ZM165.1 583.9H174.9V589.9H165.1ZM188.8 583.9H193.9V589.9H188.8ZM217.3 583.9H220V589.9H217.3ZM231.5 583.9H234.2V589.9H231.5ZM160.4 589.6H191.5V595.7H160.4ZM231.5 589.6H246.1V595.7H231.5ZM293.2 589.6H307.8V595.7H293.2ZM148.5 595.4H163V601.4H148.5ZM174.6 595.4H184.4V601.4H174.6ZM250.5 595.4H257.9V601.4H250.5ZM286.1 595.4H293.5V601.4H286.1ZM314.6 595.4H319.6V601.4H314.6ZM89.2 601.1H91.9V607.1H89.2ZM146.1 601.1H153.5V607.1H146.1ZM260 601.1H286.4V607.1H260ZM321.7 601.1H324.4V607.1H321.7ZM86.8 606.9H89.5V612.9H86.8ZM146.1 606.9H148.8V612.9H146.1ZM326.4 606.9H329.1V612.9H326.4ZM98.7 612.6H101.4V618.6H98.7ZM143.8 612.6H146.4V618.6H143.8ZM333.6 612.6H344.6V618.6H333.6ZM84.4 618.3H87.1V624.4H84.4ZM141.4 618.3H144.1V624.4H141.4ZM84.4 624.1H87.1V630.1H84.4ZM84.4 629.8H87.1V635.8H84.4ZM84.4 635.5H87.1V641.6H84.4ZM143.8 635.5H146.4V641.6H143.8ZM86.8 641.3H89.5V647.3H86.8ZM148.5 641.3H151.2V647.3H148.5ZM331.2 641.3H336.2V647.3H331.2ZM250.5 670H255.6V676H250.5ZM324.1 670H329.1V676H324.1ZM150.9 675.7H182V681.8H150.9ZM248.1 675.7H255.6V681.8H248.1ZM324.1 675.7H331.5V681.8H324.1ZM75 681.5H91.9V687.5H75ZM129.5 681.5H136.9V687.5H129.5ZM200.7 681.5H239V687.5H200.7ZM79.7 687.2H91.9V693.2H79.7ZM105.8 687.2H113.2V693.2H105.8ZM131.9 687.2H141.7V693.2H131.9ZM186.5 687.2H344.6V693.2H186.5ZM115.3 698.7H118V704.7H115.3ZM89.2 704.4H91.9V710.5H89.2ZM96.3 710.2H101.4V716.2H96.3ZM105.8 710.2H110.8V716.2H105.8Z"/>
<path fill="#efff10" d="M129.5 457.6H132.2V463.7H129.5ZM150.9 492.1H153.5V498.1H150.9ZM167.5 492.1H170.2V498.1H167.5ZM131.9 497.8H134.6V503.8H131.9ZM150.9 497.8H153.5V503.8H150.9ZM167.5 497.8H170.2V503.8H167.5ZM131.9 503.5H134.6V509.6H131.9ZM150.9 503.5H153.5V509.6H150.9ZM167.5 503.5H170.2V509.6H167.5ZM150.9 509.3H153.5V515.3H150.9ZM167.5 509.3H170.2V515.3H167.5ZM150.9 515H153.5V521H150.9ZM167.5 515H172.5V521H167.5ZM150.9 520.8H153.5V526.8H150.9ZM167.5 520.8H172.5V526.8H167.5ZM150.9 526.5H153.5V532.5H150.9ZM167.5 526.5H172.5V532.5H167.5ZM93.9 532.2H96.6V538.3H93.9ZM150.9 532.2H153.5V538.3H150.9ZM167.5 532.2H172.5V538.3H167.5ZM93.9 538H96.6V544H93.9ZM150.9 538H153.5V544H150.9ZM165.1 538H172.5V544H165.1ZM93.9 543.7H99V549.8H93.9ZM150.9 543.7H153.5V549.8H150.9ZM165.1 543.7H172.5V549.8H165.1ZM96.3 549.5H99V555.5H96.3ZM165.1 549.5H172.5V555.5H165.1ZM222 549.5H227.1V555.5H222ZM93.9 555.2H99V561.2H93.9ZM165.1 555.2H172.5V561.2H165.1ZM200.7 555.2H212.9V561.2H200.7ZM222 555.2H229.5V561.2H222ZM93.9 560.9H96.6V567H93.9ZM165.1 560.9H172.5V567H165.1ZM198.3 560.9H201V567H198.3ZM210.2 560.9H215.2V567H210.2ZM219.7 560.9H224.7V567H219.7ZM226.8 560.9H229.5V567H226.8ZM167.5 566.7H172.5V572.7H167.5ZM195.9 566.7H198.6V572.7H195.9ZM212.6 566.7H215.2V572.7H212.6ZM219.7 566.7H224.7V572.7H219.7ZM226.8 566.7H229.5V572.7H226.8ZM167.5 572.4H170.2V578.4H167.5ZM195.9 572.4H198.6V578.4H195.9ZM214.9 572.4H217.6V578.4H214.9ZM219.7 572.4H222.3V578.4H219.7ZM193.6 578.1H196.2V584.2H193.6ZM214.9 578.1H217.6V584.2H214.9ZM219.7 578.1H222.3V584.2H219.7ZM193.6 583.9H196.2V589.9H193.6ZM214.9 583.9H217.6V589.9H214.9ZM219.7 583.9H222.3V589.9H219.7ZM229.2 583.9H231.8V589.9H229.2ZM191.2 589.6H193.9V595.7H191.2ZM214.9 589.6H222.3V595.7H214.9ZM229.2 589.6H231.8V595.7H229.2ZM162.7 595.4H174.9V601.4H162.7ZM184.1 595.4H189.1V601.4H184.1ZM217.3 595.4H220V601.4H217.3ZM231.5 595.4H250.8V601.4H231.5ZM293.2 595.4H314.9V601.4H293.2ZM91.6 601.1H96.6V607.1H91.6ZM153.2 601.1H160.7V607.1H153.2ZM174.6 601.1H184.4V607.1H174.6ZM252.9 601.1H260.3V607.1H252.9ZM286.1 601.1H291.2V607.1H286.1ZM319.3 601.1H322V607.1H319.3ZM96.3 606.9H99V612.9H96.3ZM148.5 606.9H153.5V612.9H148.5ZM260 606.9H286.4V612.9H260ZM324.1 606.9H326.7V612.9H324.1ZM146.1 612.6H148.8V618.6H146.1ZM331.2 612.6H333.9V618.6H331.2ZM98.7 618.3H101.4V624.4H98.7ZM143.8 618.3H146.4V624.4H143.8ZM143.8 624.1H146.4V630.1H143.8ZM143.8 629.8H146.4V635.8H143.8ZM98.7 635.5H101.4V641.6H98.7ZM335.9 635.5H344.6V641.6H335.9ZM96.3 641.3H99V647.3H96.3ZM326.4 641.3H331.5V647.3H326.4ZM255.3 670H260.3V676H255.3ZM319.3 670H324.4V676H319.3ZM255.3 675.7H260.3V681.8H255.3ZM319.3 675.7H324.4V681.8H319.3ZM136.6 681.5H141.7V687.5H136.6ZM186.5 681.5H201V687.5H186.5ZM238.7 681.5H344.6V687.5H238.7ZM91.6 687.2H106.1V693.2H91.6ZM141.4 687.2H146.4V693.2H141.4ZM184.1 687.2H186.8V693.2H184.1ZM89.2 698.7H91.9V704.7H89.2ZM112.9 698.7H115.6V704.7H112.9ZM112.9 704.4H115.6V710.5H112.9ZM101.1 710.2H106.1V716.2H101.1Z"/>
<path fill="#ffff00" d="M131.9 486.3H134.6V492.4H131.9ZM131.9 492.1H134.6V498.1H131.9ZM93.9 549.5H96.6V555.5H93.9ZM200.7 560.9H203.4V567H200.7ZM207.8 560.9H210.5V567H207.8ZM224.4 560.9H227.1V567H224.4ZM198.3 566.7H201V572.7H198.3ZM210.2 566.7H212.9V572.7H210.2ZM224.4 566.7H227.1V572.7H224.4ZM198.3 572.4H201V578.4H198.3ZM212.6 572.4H215.2V578.4H212.6ZM222 572.4H229.5V578.4H222ZM195.9 578.1H198.6V584.2H195.9ZM212.6 578.1H215.2V584.2H212.6ZM222 578.1H224.7V584.2H222ZM226.8 578.1H229.5V584.2H226.8ZM195.9 583.9H198.6V589.9H195.9ZM212.6 583.9H215.2V589.9H212.6ZM222 583.9H224.7V589.9H222ZM226.8 583.9H229.5V589.9H226.8ZM193.6 589.6H196.2V595.7H193.6ZM222 589.6H224.7V595.7H222ZM188.8 595.4H193.9V601.4H188.8ZM214.9 595.4H217.6V601.4H214.9ZM219.7 595.4H222.3V601.4H219.7ZM229.2 595.4H231.8V601.4H229.2ZM160.4 601.1H174.9V607.1H160.4ZM184.1 601.1H189.1V607.1H184.1ZM217.3 601.1H222.3V607.1H217.3ZM231.5 601.1H236.6V607.1H231.5ZM248.1 601.1H253.2V607.1H248.1ZM290.9 601.1H295.9V607.1H290.9ZM314.6 601.1H319.6V607.1H314.6ZM89.2 606.9H91.9V612.9H89.2ZM153.2 606.9H158.3V612.9H153.2ZM177 606.9H184.4V612.9H177ZM255.3 606.9H260.3V612.9H255.3ZM286.1 606.9H291.2V612.9H286.1ZM321.7 606.9H324.4V612.9H321.7ZM86.8 612.6H89.5V618.6H86.8ZM148.5 612.6H151.2V618.6H148.5ZM328.8 612.6H331.5V618.6H328.8ZM146.1 618.3H148.8V624.4H146.1ZM333.6 618.3H344.6V624.4H333.6ZM98.7 624.1H101.4V630.1H98.7ZM146.1 624.1H148.8V630.1H146.1ZM333.6 624.1H344.6V630.1H333.6ZM98.7 629.8H101.4V635.8H98.7ZM146.1 629.8H148.8V635.8H146.1ZM333.6 629.8H344.6V635.8H333.6ZM146.1 635.5H148.8V641.6H146.1ZM331.2 635.5H336.2V641.6H331.2ZM89.2 641.3H91.9V647.3H89.2ZM150.9 641.3H153.5V647.3H150.9ZM217.3 641.3H224.7V647.3H217.3ZM260 641.3H267.4V647.3H260ZM281.4 641.3H288.8V647.3H281.4ZM324.1 641.3H326.7V647.3H324.1ZM260 670H262.7V676H260ZM316.9 670H319.6V676H316.9ZM260 675.7H262.7V681.8H260ZM314.6 675.7H319.6V681.8H314.6ZM141.4 681.5H146.4V687.5H141.4ZM184.1 681.5H186.8V687.5H184.1ZM146.1 687.2H148.8V693.2H146.1ZM179.3 687.2H184.4V693.2H179.3ZM91.6 698.7H94.2V704.7H91.6ZM91.6 704.4H94.2V710.5H91.6ZM110.5 704.4H113.2V710.5H110.5Z"/>
<path fill="#ffef00" d="M131.9 474.8H134.6V480.9H131.9ZM131.9 480.6H134.6V486.6H131.9ZM203.1 560.9H208.1V567H203.1ZM200.7 566.7H203.4V572.7H200.7ZM207.8 566.7H210.5V572.7H207.8ZM210.2 572.4H212.9V578.4H210.2ZM198.3 578.1H201V584.2H198.3ZM210.2 578.1H212.9V584.2H210.2ZM224.4 578.1H227.1V584.2H224.4ZM224.4 583.9H227.1V589.9H224.4ZM195.9 589.6H198.6V595.7H195.9ZM212.6 589.6H215.2V595.7H212.6ZM224.4 589.6H229.5V595.7H224.4ZM193.6 595.4H196.2V601.4H193.6ZM212.6 595.4H215.2V601.4H212.6ZM222 595.4H224.7V601.4H222ZM226.8 595.4H229.5V601.4H226.8ZM188.8 601.1H191.5V607.1H188.8ZM214.9 601.1H217.6V607.1H214.9ZM222 601.1H224.7V607.1H222ZM229.2 601.1H231.8V607.1H229.2ZM236.3 601.1H248.4V607.1H236.3ZM295.6 601.1H303V607.1H295.6ZM309.8 601.1H314.9V607.1H309.8ZM91.6 606.9H96.6V612.9H91.6ZM158 606.9H163V612.9H158ZM169.9 606.9H177.3V612.9H169.9ZM184.1 606.9H186.8V612.9H184.1ZM214.9 606.9H224.7V612.9H214.9ZM252.9 606.9H255.6V612.9H252.9ZM290.9 606.9H293.5V612.9H290.9ZM319.3 606.9H322V612.9H319.3ZM96.3 612.6H99V618.6H96.3ZM150.9 612.6H153.5V618.6H150.9ZM262.4 612.6H269.8V618.6H262.4ZM326.4 612.6H329.1V618.6H326.4ZM86.8 618.3H89.5V624.4H86.8ZM331.2 618.3H333.9V624.4H331.2ZM331.2 624.1H333.9V630.1H331.2ZM331.2 629.8H333.9V635.8H331.2ZM86.8 635.5H89.5V641.6H86.8ZM328.8 635.5H331.5V641.6H328.8ZM91.6 641.3H96.6V647.3H91.6ZM153.2 641.3H155.9V647.3H153.2ZM212.6 641.3H217.6V647.3H212.6ZM224.4 641.3H231.8V647.3H224.4ZM255.3 641.3H260.3V647.3H255.3ZM267.1 641.3H281.7V647.3H267.1ZM288.5 641.3H293.5V647.3H288.5ZM321.7 641.3H324.4V647.3H321.7ZM262.4 670H267.4V676H262.4ZM312.2 670H317.2V676H312.2ZM262.4 675.7H267.4V681.8H262.4ZM312.2 675.7H314.9V681.8H312.2ZM146.1 681.5H148.8V687.5H146.1ZM181.7 681.5H184.4V687.5H181.7ZM148.5 687.2H153.5V693.2H148.5ZM177 687.2H179.6V693.2H177ZM110.5 698.7H113.2V704.7H110.5ZM93.9 704.4H96.6V710.5H93.9Z"/>
<path fill="#ffdf00" d="M131.9 440.1H134.6V452.2H131.9ZM131.9 451.9H134.6V457.9H131.9ZM131.9 457.6H134.6V463.7H131.9ZM131.9 463.4H134.6V469.4H131.9ZM131.9 469.1H134.6V475.1H131.9ZM203.1 566.7H208.1V572.7H203.1ZM200.7 572.4H203.4V578.4H200.7ZM207.8 572.4H210.5V578.4H207.8ZM200.7 578.1H203.4V584.2H200.7ZM198.3 583.9H201V589.9H198.3ZM210.2 583.9H212.9V589.9H210.2ZM210.2 589.6H212.9V595.7H210.2ZM224.4 595.4H227.1V601.4H224.4ZM191.2 601.1H193.9V607.1H191.2ZM212.6 601.1H215.2V607.1H212.6ZM224.4 601.1H229.5V607.1H224.4ZM302.7 601.1H310.1V607.1H302.7ZM162.7 606.9H170.2V612.9H162.7ZM186.5 606.9H189.1V612.9H186.5ZM224.4 606.9H236.6V612.9H224.4ZM248.1 606.9H253.2V612.9H248.1ZM293.2 606.9H295.9V612.9H293.2ZM314.6 606.9H319.6V612.9H314.6ZM89.2 612.6H91.9V618.6H89.2ZM153.2 612.6H155.9V618.6H153.2ZM260 612.6H262.7V618.6H260ZM269.5 612.6H288.8V618.6H269.5ZM324.1 612.6H326.7V618.6H324.1ZM148.5 618.3H151.2V624.4H148.5ZM328.8 618.3H331.5V624.4H328.8ZM86.8 624.1H89.5V630.1H86.8ZM148.5 624.1H151.2V630.1H148.5ZM328.8 624.1H331.5V630.1H328.8ZM86.8 629.8H89.5V635.8H86.8ZM148.5 629.8H151.2V635.8H148.5ZM328.8 629.8H331.5V635.8H328.8ZM148.5 635.5H151.2V641.6H148.5ZM326.4 635.5H329.1V641.6H326.4ZM155.6 641.3H158.3V647.3H155.6ZM172.2 641.3H189.1V647.3H172.2ZM210.2 641.3H212.9V647.3H210.2ZM231.5 641.3H234.2V647.3H231.5ZM252.9 641.3H255.6V647.3H252.9ZM293.2 641.3H298.3V647.3H293.2ZM316.9 641.3H322V647.3H316.9ZM267.1 670H269.8V676H267.1ZM307.5 670H312.5V676H307.5ZM267.1 675.7H272.2V681.8H267.1ZM307.5 675.7H312.5V681.8H307.5ZM148.5 681.5H151.2V687.5H148.5ZM177 681.5H182V687.5H177ZM153.2 687.2H160.7V693.2H153.2ZM169.9 687.2H177.3V693.2H169.9ZM93.9 698.7H96.6V704.7H93.9ZM108.2 698.7H110.8V704.7H108.2ZM96.3 704.4H99V710.5H96.3ZM108.2 704.4H110.8V710.5H108.2Z"/>
<path fill="#ffcf00" d="M203.1 572.4H208.1V578.4H203.1ZM203.1 578.1H205.7V584.2H203.1ZM207.8 578.1H210.5V584.2H207.8ZM200.7 583.9H203.4V589.9H200.7ZM207.8 583.9H210.5V589.9H207.8ZM198.3 589.6H201V595.7H198.3ZM195.9 595.4H198.6V601.4H195.9ZM210.2 595.4H212.9V601.4H210.2ZM193.6 601.1H196.2V607.1H193.6ZM188.8 606.9H191.5V612.9H188.8ZM212.6 606.9H215.2V612.9H212.6ZM236.3 606.9H248.4V612.9H236.3ZM295.6 606.9H300.6V612.9H295.6ZM312.2 606.9H314.9V612.9H312.2ZM93.9 612.6H96.6V618.6H93.9ZM155.6 612.6H158.3V618.6H155.6ZM177 612.6H184.4V618.6H177ZM217.3 612.6H224.7V618.6H217.3ZM255.3 612.6H260.3V618.6H255.3ZM288.5 612.6H291.2V618.6H288.5ZM321.7 612.6H324.4V618.6H321.7ZM96.3 618.3H99V624.4H96.3ZM326.4 618.3H329.1V624.4H326.4ZM326.4 624.1H329.1V630.1H326.4ZM326.4 629.8H329.1V635.8H326.4ZM96.3 635.5H99V641.6H96.3ZM324.1 635.5H326.7V641.6H324.1ZM158 641.3H163V647.3H158ZM165.1 641.3H172.5V647.3H165.1ZM188.8 641.3H191.5V647.3H188.8ZM233.9 641.3H239V647.3H233.9ZM248.1 641.3H253.2V647.3H248.1ZM298 641.3H300.6V647.3H298ZM314.6 641.3H317.2V647.3H314.6ZM269.5 670H276.9V676H269.5ZM302.7 670H307.8V676H302.7ZM271.9 675.7H281.7V681.8H271.9ZM298 675.7H307.8V681.8H298ZM150.9 681.5H155.9V687.5H150.9ZM172.2 681.5H177.3V687.5H172.2ZM160.4 687.2H170.2V693.2H160.4ZM96.3 698.7H99V704.7H96.3ZM98.7 704.4H101.4V710.5H98.7ZM103.4 704.4H108.5V710.5H103.4Z"/>
<path fill="#ffbf00" d="M205.4 578.1H208.1V584.2H205.4ZM203.1 583.9H208.1V589.9H203.1ZM200.7 589.6H203.4V595.7H200.7ZM207.8 589.6H210.5V595.7H207.8ZM198.3 595.4H201V601.4H198.3ZM210.2 601.1H212.9V607.1H210.2ZM191.2 606.9H193.9V612.9H191.2ZM300.3 606.9H312.5V612.9H300.3ZM91.6 612.6H94.2V618.6H91.6ZM158 612.6H160.7V618.6H158ZM172.2 612.6H177.3V618.6H172.2ZM184.1 612.6H186.8V618.6H184.1ZM214.9 612.6H217.6V618.6H214.9ZM224.4 612.6H231.8V618.6H224.4ZM252.9 612.6H255.6V618.6H252.9ZM290.9 612.6H293.5V618.6H290.9ZM319.3 612.6H322V618.6H319.3ZM89.2 618.3H91.9V624.4H89.2ZM150.9 618.3H153.5V624.4H150.9ZM260 618.3H269.8V624.4H260ZM279 618.3H286.4V624.4H279ZM324.1 618.3H326.7V624.4H324.1ZM96.3 624.1H99V630.1H96.3ZM150.9 624.1H153.5V630.1H150.9ZM262.4 624.1H265.1V630.1H262.4ZM324.1 624.1H326.7V630.1H324.1ZM96.3 629.8H99V635.8H96.3ZM150.9 629.8H153.5V635.8H150.9ZM262.4 629.8H265.1V635.8H262.4ZM283.7 629.8H286.4V635.8H283.7ZM324.1 629.8H326.7V635.8H324.1ZM89.2 635.5H91.9V641.6H89.2ZM150.9 635.5H153.5V641.6H150.9ZM260 635.5H269.8V641.6H260ZM279 635.5H291.2V641.6H279ZM321.7 635.5H324.4V641.6H321.7ZM162.7 641.3H165.4V647.3H162.7ZM191.2 641.3H193.9V647.3H191.2ZM207.8 641.3H210.5V647.3H207.8ZM238.7 641.3H248.4V647.3H238.7ZM300.3 641.3H314.9V647.3H300.3ZM276.6 670H303V676H276.6ZM281.4 675.7H298.3V681.8H281.4ZM155.6 681.5H172.5V687.5H155.6ZM98.7 698.7H101.4V704.7H98.7ZM105.8 698.7H108.5V704.7H105.8ZM101.1 704.4H103.7V710.5H101.1Z"/>
<path fill="#ffaf00" d="M203.1 589.6H208.1V595.7H203.1ZM200.7 595.4H203.4V601.4H200.7ZM207.8 595.4H210.5V601.4H207.8ZM195.9 601.1H198.6V607.1H195.9ZM193.6 606.9H196.2V612.9H193.6ZM210.2 606.9H212.9V612.9H210.2ZM160.4 612.6H172.5V618.6H160.4ZM186.5 612.6H189.1V618.6H186.5ZM212.6 612.6H215.2V618.6H212.6ZM231.5 612.6H234.2V618.6H231.5ZM250.5 612.6H253.2V618.6H250.5ZM293.2 612.6H295.9V618.6H293.2ZM316.9 612.6H319.6V618.6H316.9ZM93.9 618.3H96.6V624.4H93.9ZM153.2 618.3H155.9V624.4H153.2ZM217.3 618.3H222.3V624.4H217.3ZM257.6 618.3H260.3V624.4H257.6ZM269.5 618.3H279.3V624.4H269.5ZM286.1 618.3H291.2V624.4H286.1ZM89.2 624.1H91.9V630.1H89.2ZM260 624.1H262.7V630.1H260ZM264.8 624.1H269.8V630.1H264.8ZM279 624.1H288.8V630.1H279ZM89.2 629.8H91.9V635.8H89.2ZM257.6 629.8H262.7V635.8H257.6ZM264.8 629.8H269.8V635.8H264.8ZM279 629.8H284V635.8H279ZM286.1 629.8H291.2V635.8H286.1ZM153.2 635.5H155.9V641.6H153.2ZM214.9 635.5H227.1V641.6H214.9ZM257.6 635.5H260.3V641.6H257.6ZM269.5 635.5H279.3V641.6H269.5ZM290.9 635.5H293.5V641.6H290.9ZM193.6 641.3H196.2V647.3H193.6ZM205.4 641.3H208.1V647.3H205.4ZM101.1 698.7H106.1V704.7H101.1Z"/>
<path fill="#ff9f00" d="M203.1 595.4H208.1V601.4H203.1ZM198.3 601.1H201V607.1H198.3ZM207.8 601.1H210.5V607.1H207.8ZM188.8 612.6H191.5V618.6H188.8ZM233.9 612.6H239V618.6H233.9ZM248.1 612.6H250.8V618.6H248.1ZM295.6 612.6H298.3V618.6H295.6ZM314.6 612.6H317.2V618.6H314.6ZM91.6 618.3H94.2V624.4H91.6ZM155.6 618.3H158.3V624.4H155.6ZM177 618.3H184.4V624.4H177ZM214.9 618.3H217.6V624.4H214.9ZM222 618.3H227.1V624.4H222ZM255.3 618.3H257.9V624.4H255.3ZM290.9 618.3H293.5V624.4H290.9ZM321.7 618.3H324.4V624.4H321.7ZM153.2 624.1H155.9V630.1H153.2ZM214.9 624.1H224.7V630.1H214.9ZM257.6 624.1H260.3V630.1H257.6ZM269.5 624.1H279.3V630.1H269.5ZM288.5 624.1H291.2V630.1H288.5ZM321.7 624.1H324.4V630.1H321.7ZM153.2 629.8H155.9V635.8H153.2ZM214.9 629.8H227.1V635.8H214.9ZM269.5 629.8H279.3V635.8H269.5ZM290.9 629.8H293.5V635.8H290.9ZM321.7 629.8H324.4V635.8H321.7ZM91.6 635.5H96.6V641.6H91.6ZM212.6 635.5H215.2V641.6H212.6ZM226.8 635.5H231.8V641.6H226.8ZM255.3 635.5H257.9V641.6H255.3ZM293.2 635.5H295.9V641.6H293.2ZM319.3 635.5H322V641.6H319.3ZM195.9 641.3H198.6V647.3H195.9ZM203.1 641.3H205.7V647.3H203.1Z"/>
<path fill="#ff8f00" d="M200.7 601.1H208.1V607.1H200.7ZM195.9 606.9H198.6V612.9H195.9ZM207.8 606.9H210.5V612.9H207.8ZM210.2 612.6H212.9V618.6H210.2ZM238.7 612.6H248.4V618.6H238.7ZM298 612.6H300.6V618.6H298ZM312.2 612.6H314.9V618.6H312.2ZM172.2 618.3H177.3V624.4H172.2ZM184.1 618.3H186.8V624.4H184.1ZM212.6 618.3H215.2V624.4H212.6ZM226.8 618.3H231.8V624.4H226.8ZM252.9 618.3H255.6V624.4H252.9ZM319.3 618.3H322V624.4H319.3ZM91.6 624.1H96.6V630.1H91.6ZM155.6 624.1H158.3V630.1H155.6ZM177 624.1H184.4V630.1H177ZM212.6 624.1H215.2V630.1H212.6ZM224.4 624.1H229.5V630.1H224.4ZM255.3 624.1H257.9V630.1H255.3ZM290.9 624.1H293.5V630.1H290.9ZM319.3 624.1H322V630.1H319.3ZM91.6 629.8H96.6V635.8H91.6ZM212.6 629.8H215.2V635.8H212.6ZM226.8 629.8H229.5V635.8H226.8ZM255.3 629.8H257.9V635.8H255.3ZM293.2 629.8H295.9V635.8H293.2ZM319.3 629.8H322V635.8H319.3ZM155.6 635.5H158.3V641.6H155.6ZM174.6 635.5H186.8V641.6H174.6ZM231.5 635.5H234.2V641.6H231.5ZM252.9 635.5H255.6V641.6H252.9ZM295.6 635.5H298.3V641.6H295.6ZM316.9 635.5H319.6V641.6H316.9ZM198.3 641.3H203.4V647.3H198.3Z"/>
<path fill="#ff8000" d="M198.3 606.9H201V612.9H198.3ZM205.4 606.9H208.1V612.9H205.4ZM191.2 612.6H193.9V618.6H191.2ZM300.3 612.6H305.4V618.6H300.3ZM307.5 612.6H312.5V618.6H307.5ZM158 618.3H163V624.4H158ZM167.5 618.3H172.5V624.4H167.5ZM186.5 618.3H189.1V624.4H186.5ZM231.5 618.3H234.2V624.4H231.5ZM293.2 618.3H295.9V624.4H293.2ZM316.9 618.3H319.6V624.4H316.9ZM172.2 624.1H177.3V630.1H172.2ZM184.1 624.1H186.8V630.1H184.1ZM229.2 624.1H231.8V630.1H229.2ZM252.9 624.1H255.6V630.1H252.9ZM293.2 624.1H295.9V630.1H293.2ZM155.6 629.8H158.3V635.8H155.6ZM174.6 629.8H186.8V635.8H174.6ZM229.2 629.8H231.8V635.8H229.2ZM252.9 629.8H255.6V635.8H252.9ZM316.9 629.8H319.6V635.8H316.9ZM158 635.5H160.7V641.6H158ZM169.9 635.5H174.9V641.6H169.9ZM186.5 635.5H189.1V641.6H186.5ZM210.2 635.5H212.9V641.6H210.2ZM233.9 635.5H236.6V641.6H233.9ZM250.5 635.5H253.2V641.6H250.5ZM298 635.5H300.6V641.6H298ZM314.6 635.5H317.2V641.6H314.6Z"/>
<path fill="#ff7000" d="M200.7 606.9H205.7V612.9H200.7ZM193.6 612.6H196.2V618.6H193.6ZM207.8 612.6H210.5V618.6H207.8ZM305.1 612.6H307.8V618.6H305.1ZM162.7 618.3H167.8V624.4H162.7ZM188.8 618.3H191.5V624.4H188.8ZM210.2 618.3H212.9V624.4H210.2ZM233.9 618.3H236.6V624.4H233.9ZM250.5 618.3H253.2V624.4H250.5ZM295.6 618.3H298.3V624.4H295.6ZM158 624.1H160.7V630.1H158ZM169.9 624.1H172.5V630.1H169.9ZM186.5 624.1H189.1V630.1H186.5ZM210.2 624.1H212.9V630.1H210.2ZM231.5 624.1H234.2V630.1H231.5ZM295.6 624.1H298.3V630.1H295.6ZM316.9 624.1H319.6V630.1H316.9ZM158 629.8H160.7V635.8H158ZM169.9 629.8H174.9V635.8H169.9ZM186.5 629.8H189.1V635.8H186.5ZM210.2 629.8H212.9V635.8H210.2ZM231.5 629.8H234.2V635.8H231.5ZM295.6 629.8H298.3V635.8H295.6ZM160.4 635.5H170.2V641.6H160.4ZM188.8 635.5H191.5V641.6H188.8ZM236.3 635.5H239V641.6H236.3ZM248.1 635.5H250.8V641.6H248.1ZM300.3 635.5H303V641.6H300.3ZM312.2 635.5H314.9V641.6H312.2Z"/>
<path fill="#ff6000" d="M236.3 618.3H239V624.4H236.3ZM248.1 618.3H250.8V624.4H248.1ZM298 618.3H300.6V624.4H298ZM314.6 618.3H317.2V624.4H314.6ZM160.4 624.1H170.2V630.1H160.4ZM188.8 624.1H191.5V630.1H188.8ZM233.9 624.1H236.6V630.1H233.9ZM250.5 624.1H253.2V630.1H250.5ZM314.6 624.1H317.2V630.1H314.6ZM160.4 629.8H170.2V635.8H160.4ZM188.8 629.8H191.5V635.8H188.8ZM233.9 629.8H236.6V635.8H233.9ZM250.5 629.8H253.2V635.8H250.5ZM298 629.8H300.6V635.8H298ZM314.6 629.8H317.2V635.8H314.6ZM191.2 635.5H193.9V641.6H191.2ZM207.8 635.5H210.5V641.6H207.8ZM238.7 635.5H241.3V641.6H238.7ZM245.8 635.5H248.4V641.6H245.8ZM302.7 635.5H312.5V641.6H302.7Z"/>
<path fill="#ff5000" d="M195.9 612.6H198.6V618.6H195.9ZM205.4 612.6H208.1V618.6H205.4ZM191.2 618.3H193.9V624.4H191.2ZM238.7 618.3H248.4V624.4H238.7ZM300.3 618.3H303V624.4H300.3ZM312.2 618.3H314.9V624.4H312.2ZM236.3 624.1H239V630.1H236.3ZM248.1 624.1H250.8V630.1H248.1ZM298 624.1H300.6V630.1H298ZM207.8 629.8H210.5V635.8H207.8ZM236.3 629.8H239V635.8H236.3ZM248.1 629.8H250.8V635.8H248.1ZM300.3 629.8H303V635.8H300.3ZM312.2 629.8H314.9V635.8H312.2ZM241 635.5H246.1V641.6H241Z"/>
<path fill="#ff4000" d="M198.3 612.6H201V618.6H198.3ZM203.1 612.6H205.7V618.6H203.1ZM207.8 618.3H210.5V624.4H207.8ZM302.7 618.3H312.5V624.4H302.7ZM191.2 624.1H193.9V630.1H191.2ZM207.8 624.1H210.5V630.1H207.8ZM238.7 624.1H248.4V630.1H238.7ZM300.3 624.1H303V630.1H300.3ZM309.8 624.1H314.9V630.1H309.8ZM191.2 629.8H193.9V635.8H191.2ZM238.7 629.8H248.4V635.8H238.7ZM302.7 629.8H312.5V635.8H302.7ZM193.6 635.5H196.2V641.6H193.6ZM205.4 635.5H208.1V641.6H205.4Z"/>
<path fill="#ff3000" d="M200.7 612.6H203.4V618.6H200.7ZM193.6 618.3H196.2V624.4H193.6ZM302.7 624.1H310.1V630.1H302.7Z"/>
<path fill="#ff2000" d="M205.4 618.3H208.1V624.4H205.4ZM193.6 624.1H196.2V630.1H193.6ZM205.4 624.1H208.1V630.1H205.4ZM193.6 629.8H196.2V635.8H193.6ZM205.4 629.8H208.1V635.8H205.4ZM195.9 635.5H198.6V641.6H195.9ZM203.1 635.5H205.7V641.6H203.1Z"/>
<path fill="#ff1000" d="M195.9 618.3H198.6V624.4H195.9ZM198.3 635.5H203.4V641.6H198.3Z"/>
<path fill="#ff0000" d="M198.3 618.3H205.7V624.4H198.3ZM195.9 624.1H198.6V630.1H195.9ZM203.1 624.1H205.7V630.1H203.1ZM195.9 629.8H198.6V635.8H195.9ZM203.1 629.8H205.7V635.8H203.1Z"/>
<path fill="#ef0000" d="M198.3 624.1H203.4V630.1H198.3ZM198.3 629.8H203.4V635.8H198.3Z"/>
</g></g>
<path d="M53.6 446.3H338.3V733.2H53.6ZM83.5 733.2v-3 M83.5 446.3v3M113.5 733.2v-3 M113.5 446.3v3M143.6 733.2v-3 M143.6 446.3v3M173.6 733.2v-3 M173.6 446.3v3M203.7 733.2v-3 M203.7 446.3v3M233.7 733.2v-3 M233.7 446.3v3M263.7 733.2v-3 M263.7 446.3v3M293.8 733.2v-3 M293.8 446.3v3M323.8 733.2v-3 M323.8 446.3v3M53.6 449h3 M338.3 449h-3M53.6 477.7h3 M338.3 477.7h-3M53.6 506.4h3 M338.3 506.4h-3M53.6 535.1h3 M338.3 535.1h-3M53.6 563.8h3 M338.3 563.8h-3M53.6 592.5h3 M338.3 592.5h-3M53.6 621.2h3 M338.3 621.2h-3M53.6 649.9h3 M338.3 649.9h-3M53.6 678.6h3 M338.3 678.6h-3M53.6 707.3h3 M338.3 707.3h-3" fill="none" stroke="#000" stroke-width="1"/>
<path d="M53.6 733.2V446.3H338.3" fill="none" stroke="#6a6a6a" stroke-width="1.4"/>
<text x="83.5" y="747.2" font-size="10.5" text-anchor="middle">0</text>
<text x="113.5" y="747.2" font-size="10.5" text-anchor="middle">0.2</text>
<text x="143.6" y="747.2" font-size="10.5" text-anchor="middle">0.4</text>
<text x="173.6" y="747.2" font-size="10.5" text-anchor="middle">0.6</text>
<text x="203.7" y="747.2" font-size="10.5" text-anchor="middle">0.8</text>
<text x="233.7" y="747.2" font-size="10.5" text-anchor="middle">1</text>
<text x="263.7" y="747.2" font-size="10.5" text-anchor="middle">1.2</text>
<text x="293.8" y="747.2" font-size="10.5" text-anchor="middle">1.4</text>
<text x="323.8" y="747.2" font-size="10.5" text-anchor="middle">1.6</text>
<text x="50.4" y="453.8" font-size="10.5" text-anchor="end">50</text>
<text x="50.4" y="482.5" font-size="10.5" text-anchor="end">45</text>
<text x="50.4" y="511.2" font-size="10.5" text-anchor="end">40</text>
<text x="50.4" y="539.9" font-size="10.5" text-anchor="end">35</text>
<text x="50.4" y="568.6" font-size="10.5" text-anchor="end">30</text>
<text x="50.4" y="597.3" font-size="10.5" text-anchor="end">25</text>
<text x="50.4" y="626" font-size="10.5" text-anchor="end">20</text>
<text x="50.4" y="654.7" font-size="10.5" text-anchor="end">15</text>
<text x="50.4" y="683.4" font-size="10.5" text-anchor="end">10</text>
<text x="50.4" y="712.1" font-size="10.5" text-anchor="end">5</text>
<rect x="352.2" y="445.8" width="18.4" height="4.9" fill="#800000"/>
<rect x="352.2" y="450.3" width="18.4" height="4.9" fill="#8f0000"/>
<rect x="352.2" y="454.8" width="18.4" height="4.9" fill="#9f0000"/>
<rect x="352.2" y="459.3" width="18.4" height="4.9" fill="#af0000"/>
<rect x="352.2" y="463.8" width="18.4" height="4.9" fill="#bf0000"/>
<rect x="352.2" y="468.3" width="18.4" height="4.9" fill="#cf0000"/>
<rect x="352.2" y="472.7" width="18.4" height="4.9" fill="#df0000"/>
<rect x="352.2" y="477.2" width="18.4" height="4.9" fill="#ef0000"/>
<rect x="352.2" y="481.7" width="18.4" height="4.9" fill="#ff0000"/>
<rect x="352.2" y="486.2" width="18.4" height="4.9" fill="#ff1000"/>
<rect x="352.2" y="490.7" width="18.4" height="4.9" fill="#ff2000"/>
<rect x="352.2" y="495.2" width="18.4" height="4.9" fill="#ff3000"/>
<rect x="352.2" y="499.7" width="18.4" height="4.9" fill="#ff4000"/>
<rect x="352.2" y="504.2" width="18.4" height="4.9" fill="#ff5000"/>
<rect x="352.2" y="508.7" width="18.4" height="4.9" fill="#ff6000"/>
<rect x="352.2" y="513.2" width="18.4" height="4.9" fill="#ff7000"/>
<rect x="352.2" y="517.6" width="18.4" height="4.9" fill="#ff8000"/>
<rect x="352.2" y="522.1" width="18.4" height="4.9" fill="#ff8f00"/>
<rect x="352.2" y="526.6" width="18.4" height="4.9" fill="#ff9f00"/>
<rect x="352.2" y="531.1" width="18.4" height="4.9" fill="#ffaf00"/>
<rect x="352.2" y="535.6" width="18.4" height="4.9" fill="#ffbf00"/>
<rect x="352.2" y="540.1" width="18.4" height="4.9" fill="#ffcf00"/>
<rect x="352.2" y="544.6" width="18.4" height="4.9" fill="#ffdf00"/>
<rect x="352.2" y="549.1" width="18.4" height="4.9" fill="#ffef00"/>
<rect x="352.2" y="553.6" width="18.4" height="4.9" fill="#ffff00"/>
<rect x="352.2" y="558.1" width="18.4" height="4.9" fill="#efff10"/>
<rect x="352.2" y="562.6" width="18.4" height="4.9" fill="#dfff20"/>
<rect x="352.2" y="567" width="18.4" height="4.9" fill="#cfff30"/>
<rect x="352.2" y="571.5" width="18.4" height="4.9" fill="#bfff40"/>
<rect x="352.2" y="576" width="18.4" height="4.9" fill="#afff50"/>
<rect x="352.2" y="580.5" width="18.4" height="4.9" fill="#9fff60"/>
<rect x="352.2" y="585" width="18.4" height="4.9" fill="#8fff70"/>
<rect x="352.2" y="589.5" width="18.4" height="4.9" fill="#80ff80"/>
<rect x="352.2" y="594" width="18.4" height="4.9" fill="#70ff8f"/>
<rect x="352.2" y="598.5" width="18.4" height="4.9" fill="#60ff9f"/>
<rect x="352.2" y="603" width="18.4" height="4.9" fill="#50ffaf"/>
<rect x="352.2" y="607.5" width="18.4" height="4.9" fill="#40ffbf"/>
<rect x="352.2" y="612" width="18.4" height="4.9" fill="#30ffcf"/>
<rect x="352.2" y="616.4" width="18.4" height="4.9" fill="#20ffdf"/>
<rect x="352.2" y="620.9" width="18.4" height="4.9" fill="#10ffef"/>
<rect x="352.2" y="625.4" width="18.4" height="4.9" fill="#00ffff"/>
<rect x="352.2" y="629.9" width="18.4" height="4.9" fill="#00efff"/>
<rect x="352.2" y="634.4" width="18.4" height="4.9" fill="#00dfff"/>
<rect x="352.2" y="638.9" width="18.4" height="4.9" fill="#00cfff"/>
<rect x="352.2" y="643.4" width="18.4" height="4.9" fill="#00bfff"/>
<rect x="352.2" y="647.9" width="18.4" height="4.9" fill="#00afff"/>
<rect x="352.2" y="652.4" width="18.4" height="4.9" fill="#009fff"/>
<rect x="352.2" y="656.9" width="18.4" height="4.9" fill="#008fff"/>
<rect x="352.2" y="661.4" width="18.4" height="4.9" fill="#0080ff"/>
<rect x="352.2" y="665.8" width="18.4" height="4.9" fill="#0070ff"/>
<rect x="352.2" y="670.3" width="18.4" height="4.9" fill="#0060ff"/>
<rect x="352.2" y="674.8" width="18.4" height="4.9" fill="#0050ff"/>
<rect x="352.2" y="679.3" width="18.4" height="4.9" fill="#0040ff"/>
<rect x="352.2" y="683.8" width="18.4" height="4.9" fill="#0030ff"/>
<rect x="352.2" y="688.3" width="18.4" height="4.9" fill="#0020ff"/>
<rect x="352.2" y="692.8" width="18.4" height="4.9" fill="#0010ff"/>
<rect x="352.2" y="697.3" width="18.4" height="4.9" fill="#0000ff"/>
<rect x="352.2" y="701.8" width="18.4" height="4.9" fill="#0000ef"/>
<rect x="352.2" y="706.3" width="18.4" height="4.9" fill="#0000df"/>
<rect x="352.2" y="710.7" width="18.4" height="4.9" fill="#0000cf"/>
<rect x="352.2" y="715.2" width="18.4" height="4.9" fill="#0000bf"/>
<rect x="352.2" y="719.7" width="18.4" height="4.9" fill="#0000af"/>
<rect x="352.2" y="724.2" width="18.4" height="4.9" fill="#00009f"/>
<rect x="352.2" y="728.7" width="18.4" height="4.9" fill="#00008f"/>
<rect x="352.2" y="445.8" width="18.4" height="287.4" fill="none" stroke="#000" stroke-width="0.8"/>
<text x="371.8" y="451.4" font-size="10">0.4</text>
<text x="371.8" y="487.3" font-size="10">0.3</text>
<text x="371.8" y="523.2" font-size="10">0.2</text>
<text x="371.8" y="559.2" font-size="10">0.1</text>
<text x="371.8" y="595.1" font-size="10">0</text>
<text x="371.8" y="631" font-size="10">-0.1</text>
<text x="371.8" y="667" font-size="10">-0.2</text>
<text x="371.8" y="702.9" font-size="10">-0.3</text>
<text x="371.8" y="738.8" font-size="10">-0.4</text>
<path d="M370.6 481.7h-3M352.2 481.7h3M370.6 517.6h-3M352.2 517.6h3M370.6 553.6h-3M352.2 553.6h3M370.6 589.5h-3M352.2 589.5h3M370.6 625.4h-3M352.2 625.4h3M370.6 661.4h-3M352.2 661.4h3M370.6 697.3h-3M352.2 697.3h3" stroke="#000" stroke-width="0.8" fill="none"/>
<text x="391" y="486.3" font-size="18.5" transform="rotate(90 391 486.3)" textLength="228.7" lengthAdjust="spacingAndGlyphs">Difference in Source Power</text>
<text x="16.5" y="427.8" font-size="18">C</text>
<text x="47" y="432" font-size="18" textLength="335" lengthAdjust="spacingAndGlyphs">Group Mean Difference (Control - ADHD)</text>
<text x="154" y="767" font-size="18" textLength="87" lengthAdjust="spacingAndGlyphs">Time (sec)</text>
<text x="26.5" y="670" font-size="18.5" transform="rotate(-90 26.5 670)" textLength="131.5" lengthAdjust="spacingAndGlyphs">Frequency (Hz)</text>
<clipPath id="cpD"><rect x="467.5" y="447.3" width="285.8" height="286"/></clipPath>
<g clip-path="url(#cpD)"><g filter="url(#bl)">
<path fill="#20ffdf" d="M477 584.5H479.7V590.4H477Z"/>
<path fill="#30ffcf" d="M739 459.1H741.7V465.1H739ZM739 464.8H741.7V470.8H739ZM739 470.4H741.7V476.4H739ZM477 590.1H479.7V596.1H477Z"/>
<path fill="#40ffbf" d="M739 453.4H741.7V459.4H739ZM739 476.1H741.7V482.2H739ZM477 578.8H479.7V584.8H477Z"/>
<path fill="#50ffaf" d="M469.9 464.8H472.6V470.8H469.9ZM741.4 464.8H744.1V470.8H741.4ZM469.9 470.4H472.6V476.4H469.9ZM469.9 476.1H472.6V482.2H469.9ZM479.4 481.9H482.1V487.9H479.4ZM479.4 487.6H482.1V493.6H479.4ZM491.3 533.1H494V539.1H491.3ZM491.3 538.9H494V544.8H491.3ZM491.3 544.5H494V550.5H491.3ZM479.4 584.5H482.1V590.4H479.4ZM479.4 590.1H482.1V596.1H479.4ZM477 595.9H479.7V601.8H477Z"/>
<path fill="#60ff9f" d="M739 441.3H741.7V453.7H739ZM469.9 453.4H472.6V459.4H469.9ZM741.4 453.4H744.1V459.4H741.4ZM469.9 459.1H472.6V465.1H469.9ZM741.4 459.1H744.1V465.1H741.4ZM741.4 470.4H744.1V476.4H741.4ZM479.4 476.1H482.1V482.2H479.4ZM741.4 476.1H744.1V482.2H741.4ZM469.9 481.9H472.6V487.9H469.9ZM739 481.9H741.7V487.9H739ZM469.9 487.6H472.6V493.6H469.9ZM491.3 527.5H494V533.4H491.3ZM491.3 550.2H494V556.2H491.3ZM477 573H479.7V579H477ZM479.4 578.8H482.1V584.8H479.4ZM474.6 584.5H477.3V590.4H474.6ZM474.6 590.1H477.3V596.1H474.6ZM479.4 595.9H482.1V601.8H479.4Z"/>
<path fill="#70ff8f" d="M469.9 441.3H472.6V453.7H469.9ZM741.4 441.3H744.1V453.7H741.4ZM736.6 453.4H739.3V459.4H736.6ZM736.6 459.1H739.3V465.1H736.6ZM472.3 464.8H474.9V470.8H472.3ZM736.6 464.8H739.3V470.8H736.6ZM472.3 470.4H474.9V476.4H472.3ZM736.6 470.4H739.3V476.4H736.6ZM472.3 476.1H474.9V482.2H472.3ZM736.6 476.1H739.3V482.2H736.6ZM477 481.9H479.7V487.9H477ZM741.4 481.9H744.1V487.9H741.4ZM477 487.6H479.7V493.6H477ZM739 487.6H741.7V493.6H739ZM469.9 493.2H472.6V499.2H469.9ZM479.4 493.2H482.1V499.2H479.4ZM491.3 521.8H494V527.8H491.3ZM491.3 556H494V561.9H491.3ZM479.4 573H482.1V579H479.4ZM474.6 578.8H477.3V584.8H474.6ZM474.6 595.9H477.3V601.8H474.6ZM477 601.5H479.7V607.5H477Z"/>
<path fill="#80ff80" d="M472.3 441.3H474.9V453.7H472.3ZM736.6 441.3H739.3V453.7H736.6ZM472.3 453.4H474.9V459.4H472.3ZM461.5 459.1H470.2V465.1H461.5ZM472.3 459.1H474.9V465.1H472.3ZM461.5 464.8H470.2V470.8H461.5ZM479.4 464.8H482.1V470.8H479.4ZM743.8 464.8H746.5V470.8H743.8ZM461.5 470.4H470.2V476.4H461.5ZM477 470.4H482.1V476.4H477ZM461.5 476.1H470.2V482.2H461.5ZM477 476.1H479.7V482.2H477ZM481.8 476.1H484.5V482.2H481.8ZM461.5 481.9H470.2V487.9H461.5ZM472.3 481.9H474.9V487.9H472.3ZM481.8 481.9H484.5V487.9H481.8ZM736.6 481.9H739.3V487.9H736.6ZM472.3 487.6H474.9V493.6H472.3ZM481.8 487.6H484.5V493.6H481.8ZM736.6 487.6H739.3V493.6H736.6ZM741.4 487.6H744.1V493.6H741.4ZM472.3 493.2H474.9V499.2H472.3ZM477 493.2H479.7V499.2H477ZM481.8 493.2H484.5V499.2H481.8ZM739 493.2H744.1V499.2H739ZM469.9 498.9H474.9V504.9H469.9ZM477 498.9H482.1V504.9H477ZM739 498.9H741.7V504.9H739ZM469.9 504.6H472.6V510.7H469.9ZM491.3 510.4H494V516.3H491.3ZM491.3 516H494V522H491.3ZM488.9 521.8H491.6V527.8H488.9ZM493.7 521.8H496.4V527.8H493.7ZM488.9 527.5H491.6V533.4H488.9ZM493.7 527.5H496.4V533.4H493.7ZM488.9 533.1H491.6V539.1H488.9ZM493.7 533.1H496.4V539.1H493.7ZM488.9 538.9H491.6V544.8H488.9ZM493.7 538.9H496.4V544.8H493.7ZM488.9 544.5H491.6V550.5H488.9ZM493.7 544.5H496.4V550.5H493.7ZM488.9 550.2H491.6V556.2H488.9ZM493.7 550.2H496.4V556.2H493.7ZM488.9 556H491.6V561.9H488.9ZM491.3 561.6H494V567.6H491.3ZM474.6 567.4H482.1V573.3H474.6ZM491.3 567.4H494V573.3H491.3ZM474.6 573H477.3V579H474.6ZM481.8 578.8H484.5V584.8H481.8ZM472.3 584.5H474.9V590.4H472.3ZM481.8 584.5H484.5V590.4H481.8ZM472.3 590.1H474.9V596.1H472.3ZM481.8 590.1H484.5V596.1H481.8ZM481.8 595.9H484.5V601.8H481.8ZM474.6 601.5H477.3V607.5H474.6ZM479.4 601.5H482.1V607.5H479.4ZM477 607.2H479.7V613.2H477Z"/>
<path fill="#8fff70" d="M461.5 441.3H470.2V453.7H461.5ZM474.6 441.3H736.9V453.7H474.6ZM743.8 441.3H759.6V453.7H743.8ZM461.5 453.4H470.2V459.4H461.5ZM474.6 453.4H736.9V459.4H474.6ZM743.8 453.4H759.6V459.4H743.8ZM474.6 459.1H736.9V465.1H474.6ZM743.8 459.1H759.6V465.1H743.8ZM474.6 464.8H479.7V470.8H474.6ZM481.8 464.8H736.9V470.8H481.8ZM746.2 464.8H759.6V470.8H746.2ZM474.6 470.4H477.3V476.4H474.6ZM481.8 470.4H736.9V476.4H481.8ZM743.8 470.4H759.6V476.4H743.8ZM474.6 476.1H477.3V482.2H474.6ZM484.2 476.1H736.9V482.2H484.2ZM743.8 476.1H759.6V482.2H743.8ZM474.6 481.9H477.3V487.9H474.6ZM484.2 481.9H736.9V487.9H484.2ZM743.8 481.9H759.6V487.9H743.8ZM461.5 487.6H470.2V493.6H461.5ZM474.6 487.6H477.3V493.6H474.6ZM484.2 487.6H736.9V493.6H484.2ZM743.8 487.6H759.6V493.6H743.8ZM461.5 493.2H470.2V499.2H461.5ZM474.6 493.2H477.3V499.2H474.6ZM484.2 493.2H739.3V499.2H484.2ZM743.8 493.2H759.6V499.2H743.8ZM461.5 498.9H470.2V504.9H461.5ZM474.6 498.9H477.3V504.9H474.6ZM481.8 498.9H739.3V504.9H481.8ZM741.4 498.9H759.6V504.9H741.4ZM461.5 504.6H470.2V510.7H461.5ZM472.3 504.6H759.6V510.7H472.3ZM461.5 510.4H491.6V516.3H461.5ZM493.7 510.4H759.6V516.3H493.7ZM461.5 516H482.1V522H461.5ZM486.6 516H491.6V522H486.6ZM493.7 516H759.6V522H493.7ZM461.5 521.8H482.1V527.8H461.5ZM486.6 521.8H489.2V527.8H486.6ZM496.1 521.8H759.6V527.8H496.1ZM461.5 527.5H482.1V533.4H461.5ZM486.6 527.5H489.2V533.4H486.6ZM496.1 527.5H759.6V533.4H496.1ZM461.5 533.1H482.1V539.1H461.5ZM486.6 533.1H489.2V539.1H486.6ZM496.1 533.1H759.6V539.1H496.1ZM461.5 538.9H482.1V544.8H461.5ZM486.6 538.9H489.2V544.8H486.6ZM496.1 538.9H759.6V544.8H496.1ZM461.5 544.5H482.1V550.5H461.5ZM486.6 544.5H489.2V550.5H486.6ZM496.1 544.5H759.6V550.5H496.1ZM461.5 550.2H482.1V556.2H461.5ZM486.6 550.2H489.2V556.2H486.6ZM496.1 550.2H759.6V556.2H496.1ZM461.5 556H489.2V561.9H461.5ZM493.7 556H759.6V561.9H493.7ZM461.5 561.6H491.6V567.6H461.5ZM493.7 561.6H759.6V567.6H493.7ZM461.5 567.4H474.9V573.3H461.5ZM481.8 567.4H491.6V573.3H481.8ZM493.7 567.4H759.6V573.3H493.7ZM461.5 573H474.9V579H461.5ZM481.8 573H759.6V579H481.8ZM461.5 578.8H474.9V584.8H461.5ZM484.2 578.8H759.6V584.8H484.2ZM461.5 584.5H472.6V590.4H461.5ZM484.2 584.5H759.6V590.4H484.2ZM461.5 590.1H472.6V596.1H461.5ZM484.2 590.1H759.6V596.1H484.2ZM461.5 595.9H474.9V601.8H461.5ZM484.2 595.9H759.6V601.8H484.2ZM461.5 601.5H474.9V607.5H461.5ZM481.8 601.5H759.6V607.5H481.8ZM461.5 607.2H477.3V613.2H461.5ZM479.4 607.2H759.6V613.2H479.4ZM461.5 613H759.6V618.9H461.5ZM461.5 618.6H759.6V624.6H461.5ZM461.5 624.4H759.6V630.3H461.5ZM461.5 630H759.6V636H461.5ZM461.5 635.8H759.6V641.8H461.5ZM461.5 641.5H759.6V647.4H461.5ZM461.5 647.1H759.6V653.1H461.5ZM461.5 652.9H759.6V658.8H461.5ZM461.5 658.5H759.6V664.5H461.5ZM461.5 664.2H759.6V670.2H461.5ZM461.5 670H759.6V675.9H461.5ZM461.5 675.6H759.6V681.6H461.5ZM461.5 681.4H759.6V687.3H461.5ZM461.5 687H759.6V693H461.5ZM461.5 692.8H759.6V698.8H461.5ZM461.5 698.5H759.6V704.4H461.5ZM461.5 704.1H759.6V710.1H461.5ZM461.5 709.9H759.6V715.8H461.5ZM461.5 715.5H759.6V721.5H461.5ZM461.5 721.2H759.6V727.2H461.5ZM461.5 727H759.6V739.6H461.5Z"/>
<path fill="#9fff60" d="M481.8 516H486.9V522H481.8ZM481.8 521.8H486.9V527.8H481.8ZM481.8 544.5H486.9V550.5H481.8ZM481.8 550.2H486.9V556.2H481.8Z"/>
<path fill="#afff50" d="M481.8 527.5H486.9V533.4H481.8ZM481.8 533.1H486.9V539.1H481.8ZM481.8 538.9H486.9V544.8H481.8Z"/>
</g></g>
<path d="M467.5 447.3H753.3V733.3H467.5ZM497.6 733.3v-3 M497.6 447.3v3M527.6 733.3v-3 M527.6 447.3v3M557.6 733.3v-3 M557.6 447.3v3M587.6 733.3v-3 M587.6 447.3v3M617.6 733.3v-3 M617.6 447.3v3M647.6 733.3v-3 M647.6 447.3v3M677.6 733.3v-3 M677.6 447.3v3M707.6 733.3v-3 M707.6 447.3v3M737.6 733.3v-3 M737.6 447.3v3M467.5 450.5h3 M753.3 450.5h-3M467.5 479h3 M753.3 479h-3M467.5 507.5h3 M753.3 507.5h-3M467.5 536h3 M753.3 536h-3M467.5 564.5h3 M753.3 564.5h-3M467.5 593h3 M753.3 593h-3M467.5 621.5h3 M753.3 621.5h-3M467.5 650h3 M753.3 650h-3M467.5 678.5h3 M753.3 678.5h-3M467.5 707h3 M753.3 707h-3" fill="none" stroke="#000" stroke-width="1"/>
<text x="497.6" y="747.3" font-size="10.5" text-anchor="middle">0</text>
<text x="527.6" y="747.3" font-size="10.5" text-anchor="middle">0.2</text>
<text x="557.6" y="747.3" font-size="10.5" text-anchor="middle">0.4</text>
<text x="587.6" y="747.3" font-size="10.5" text-anchor="middle">0.6</text>
<text x="617.6" y="747.3" font-size="10.5" text-anchor="middle">0.8</text>
<text x="647.6" y="747.3" font-size="10.5" text-anchor="middle">1</text>
<text x="677.6" y="747.3" font-size="10.5" text-anchor="middle">1.2</text>
<text x="707.6" y="747.3" font-size="10.5" text-anchor="middle">1.4</text>
<text x="737.6" y="747.3" font-size="10.5" text-anchor="middle">1.6</text>
<text x="464.3" y="455.3" font-size="10.5" text-anchor="end">50</text>
<text x="464.3" y="483.8" font-size="10.5" text-anchor="end">45</text>
<text x="464.3" y="512.3" font-size="10.5" text-anchor="end">40</text>
<text x="464.3" y="540.8" font-size="10.5" text-anchor="end">35</text>
<text x="464.3" y="569.3" font-size="10.5" text-anchor="end">30</text>
<text x="464.3" y="597.8" font-size="10.5" text-anchor="end">25</text>
<text x="464.3" y="626.3" font-size="10.5" text-anchor="end">20</text>
<text x="464.3" y="654.8" font-size="10.5" text-anchor="end">15</text>
<text x="464.3" y="683.3" font-size="10.5" text-anchor="end">10</text>
<text x="464.3" y="711.8" font-size="10.5" text-anchor="end">5</text>
<rect x="768.2" y="447.3" width="18.4" height="4.9" fill="#800000"/>
<rect x="768.2" y="451.8" width="18.4" height="4.9" fill="#8f0000"/>
<rect x="768.2" y="456.2" width="18.4" height="4.9" fill="#9f0000"/>
<rect x="768.2" y="460.7" width="18.4" height="4.9" fill="#af0000"/>
<rect x="768.2" y="465.2" width="18.4" height="4.9" fill="#bf0000"/>
<rect x="768.2" y="469.6" width="18.4" height="4.9" fill="#cf0000"/>
<rect x="768.2" y="474.1" width="18.4" height="4.9" fill="#df0000"/>
<rect x="768.2" y="478.6" width="18.4" height="4.9" fill="#ef0000"/>
<rect x="768.2" y="483.1" width="18.4" height="4.9" fill="#ff0000"/>
<rect x="768.2" y="487.5" width="18.4" height="4.9" fill="#ff1000"/>
<rect x="768.2" y="492" width="18.4" height="4.9" fill="#ff2000"/>
<rect x="768.2" y="496.5" width="18.4" height="4.9" fill="#ff3000"/>
<rect x="768.2" y="500.9" width="18.4" height="4.9" fill="#ff4000"/>
<rect x="768.2" y="505.4" width="18.4" height="4.9" fill="#ff5000"/>
<rect x="768.2" y="509.9" width="18.4" height="4.9" fill="#ff6000"/>
<rect x="768.2" y="514.3" width="18.4" height="4.9" fill="#ff7000"/>
<rect x="768.2" y="518.8" width="18.4" height="4.9" fill="#ff8000"/>
<rect x="768.2" y="523.3" width="18.4" height="4.9" fill="#ff8f00"/>
<rect x="768.2" y="527.7" width="18.4" height="4.9" fill="#ff9f00"/>
<rect x="768.2" y="532.2" width="18.4" height="4.9" fill="#ffaf00"/>
<rect x="768.2" y="536.7" width="18.4" height="4.9" fill="#ffbf00"/>
<rect x="768.2" y="541.1" width="18.4" height="4.9" fill="#ffcf00"/>
<rect x="768.2" y="545.6" width="18.4" height="4.9" fill="#ffdf00"/>
<rect x="768.2" y="550.1" width="18.4" height="4.9" fill="#ffef00"/>
<rect x="768.2" y="554.5" width="18.4" height="4.9" fill="#ffff00"/>
<rect x="768.2" y="559" width="18.4" height="4.9" fill="#efff10"/>
<rect x="768.2" y="563.5" width="18.4" height="4.9" fill="#dfff20"/>
<rect x="768.2" y="568" width="18.4" height="4.9" fill="#cfff30"/>
<rect x="768.2" y="572.4" width="18.4" height="4.9" fill="#bfff40"/>
<rect x="768.2" y="576.9" width="18.4" height="4.9" fill="#afff50"/>
<rect x="768.2" y="581.4" width="18.4" height="4.9" fill="#9fff60"/>
<rect x="768.2" y="585.8" width="18.4" height="4.9" fill="#8fff70"/>
<rect x="768.2" y="590.3" width="18.4" height="4.9" fill="#80ff80"/>
<rect x="768.2" y="594.8" width="18.4" height="4.9" fill="#70ff8f"/>
<rect x="768.2" y="599.2" width="18.4" height="4.9" fill="#60ff9f"/>
<rect x="768.2" y="603.7" width="18.4" height="4.9" fill="#50ffaf"/>
<rect x="768.2" y="608.2" width="18.4" height="4.9" fill="#40ffbf"/>
<rect x="768.2" y="612.6" width="18.4" height="4.9" fill="#30ffcf"/>
<rect x="768.2" y="617.1" width="18.4" height="4.9" fill="#20ffdf"/>
<rect x="768.2" y="621.6" width="18.4" height="4.9" fill="#10ffef"/>
<rect x="768.2" y="626" width="18.4" height="4.9" fill="#00ffff"/>
<rect x="768.2" y="630.5" width="18.4" height="4.9" fill="#00efff"/>
<rect x="768.2" y="635" width="18.4" height="4.9" fill="#00dfff"/>
<rect x="768.2" y="639.5" width="18.4" height="4.9" fill="#00cfff"/>
<rect x="768.2" y="643.9" width="18.4" height="4.9" fill="#00bfff"/>
<rect x="768.2" y="648.4" width="18.4" height="4.9" fill="#00afff"/>
<rect x="768.2" y="652.9" width="18.4" height="4.9" fill="#009fff"/>
<rect x="768.2" y="657.3" width="18.4" height="4.9" fill="#008fff"/>
<rect x="768.2" y="661.8" width="18.4" height="4.9" fill="#0080ff"/>
<rect x="768.2" y="666.3" width="18.4" height="4.9" fill="#0070ff"/>
<rect x="768.2" y="670.7" width="18.4" height="4.9" fill="#0060ff"/>
<rect x="768.2" y="675.2" width="18.4" height="4.9" fill="#0050ff"/>
<rect x="768.2" y="679.7" width="18.4" height="4.9" fill="#0040ff"/>
<rect x="768.2" y="684.1" width="18.4" height="4.9" fill="#0030ff"/>
<rect x="768.2" y="688.6" width="18.4" height="4.9" fill="#0020ff"/>
<rect x="768.2" y="693.1" width="18.4" height="4.9" fill="#0010ff"/>
<rect x="768.2" y="697.5" width="18.4" height="4.9" fill="#0000ff"/>
<rect x="768.2" y="702" width="18.4" height="4.9" fill="#0000ef"/>
<rect x="768.2" y="706.5" width="18.4" height="4.9" fill="#0000df"/>
<rect x="768.2" y="711" width="18.4" height="4.9" fill="#0000cf"/>
<rect x="768.2" y="715.4" width="18.4" height="4.9" fill="#0000bf"/>
<rect x="768.2" y="719.9" width="18.4" height="4.9" fill="#0000af"/>
<rect x="768.2" y="724.4" width="18.4" height="4.9" fill="#00009f"/>
<rect x="768.2" y="728.8" width="18.4" height="4.9" fill="#00008f"/>
<rect x="768.2" y="447.3" width="18.4" height="286" fill="none" stroke="#000" stroke-width="0.8"/>
<text x="787.8" y="452.7" font-size="10">0.4</text>
<text x="787.8" y="488.4" font-size="10">0.3</text>
<text x="787.8" y="524.2" font-size="10">0.2</text>
<text x="787.8" y="559.9" font-size="10">0.1</text>
<text x="787.8" y="595.7" font-size="10">0</text>
<text x="787.8" y="631.4" font-size="10">-0.1</text>
<text x="787.8" y="667.2" font-size="10">-0.2</text>
<text x="787.8" y="702.9" font-size="10">-0.3</text>
<text x="787.8" y="738.7" font-size="10">-0.4</text>
<path d="M786.6 483.1h-3M768.2 483.1h3M786.6 518.8h-3M768.2 518.8h3M786.6 554.5h-3M768.2 554.5h3M786.6 590.3h-3M768.2 590.3h3M786.6 626h-3M768.2 626h3M786.6 661.8h-3M768.2 661.8h3M786.6 697.5h-3M768.2 697.5h3" stroke="#000" stroke-width="0.8" fill="none"/>
<text x="811" y="487.5" font-size="18.5" transform="rotate(90 811 487.5)" textLength="230.7" lengthAdjust="spacingAndGlyphs">Difference in Source Power</text>
<text x="447" y="429" font-size="18">D</text>
<text x="527" y="434.6" font-size="18" textLength="195.5" lengthAdjust="spacingAndGlyphs">P-Value Plot, p &lt;/= 0.05</text>
<text x="577" y="767" font-size="18" textLength="87" lengthAdjust="spacingAndGlyphs">Time (sec)</text>
<text x="443" y="662" font-size="18.5" transform="rotate(-90 443 662)" textLength="131.5" lengthAdjust="spacingAndGlyphs">Frequency (Hz)</text>
<rect x="876.5" y="75.8" width="292.2" height="280.1" fill="#fdfdfe"/>
<path d="M876.4 219.4C878.4 215.1 883.5 205.1 888.7 193.3C893.8 181.4 901.1 162.8 907.4 148.4C913.6 134.1 921.1 117 926 107.4C931 97.7 933.2 94.6 937.2 90.5C941.3 86.5 946 83.1 950.3 83.1C954.7 83.1 959.3 86.2 963.4 90.5C967.4 94.9 970.9 101.8 974.6 109.2C978.3 116.7 982.1 126.3 985.8 135.4C989.5 144.4 993.3 154.4 997 163.4C1000.7 172.4 1004.5 181.8 1008.2 189.5C1011.9 197.3 1015.1 203.2 1019.4 210.1C1023.8 216.9 1029.4 224.7 1034.4 230.6C1039.3 236.5 1044.3 241.5 1049.3 245.6C1054.3 249.6 1059.3 252.5 1064.2 254.9C1069.2 257.3 1074.2 258.7 1079.2 259.8C1084.2 260.8 1088.5 261.1 1094.1 261.3C1099.7 261.4 1106.6 260.9 1112.8 260.5C1119 260.1 1128.4 259 1131.5 258.6" fill="none" stroke="#9a9a9a" stroke-width="1.1" stroke-dasharray="1 2.6"/>
<path d="M876.4 219.4C881.5 216.6 899.1 206.7 907.4 202.6C915.6 198.6 919.8 196.7 926 195.1C932.3 193.6 938.5 193 944.7 193.3C950.9 193.6 957.2 194.5 963.4 197C969.6 199.5 975.8 203.2 982.1 208.2C988.3 213.2 994.5 219.4 1000.7 226.9C1007 234.4 1013.8 244.9 1019.4 253C1025 261.1 1029.4 268 1034.4 275.5C1039.3 282.9 1044.3 291.3 1049.3 297.9C1054.3 304.4 1059.3 309.7 1064.2 314.7C1069.2 319.7 1074.2 324.2 1079.2 327.8C1084.2 331.3 1088.5 333.5 1094.1 336C1099.7 338.5 1106.6 340.8 1112.8 342.7C1119 344.6 1128.4 346.4 1131.5 347.2" fill="none" stroke="#9a9a9a" stroke-width="1.1" stroke-dasharray="1 2.6"/>
<path d="M876.4 219.4C881.5 211.9 899.1 187 907.4 174.6C915.6 162.1 919.8 153.4 926 144.7C932.3 136 939.1 127.6 944.7 122.3C950.3 117 955.3 114.8 959.7 113C964 111.1 967.1 110.9 970.9 111.1C974.6 111.3 977.7 111.6 982.1 114.1C986.4 116.6 992 120.9 997 126C1002 131.1 1007 137.9 1011.9 144.7C1016.9 151.6 1021.9 159.7 1026.9 167.1C1031.9 174.6 1036.9 182.4 1041.8 189.5C1046.8 196.7 1051.8 204.2 1056.8 210.1C1061.8 216 1066.7 221 1071.7 225C1076.7 229.1 1081.7 231.7 1086.7 234.4C1091.6 237 1096.6 239.1 1101.6 240.7C1106.6 242.3 1111.6 243.3 1116.5 244.1C1121.5 244.9 1129 245.3 1131.5 245.6" fill="none" stroke="#b4ecaa" stroke-width="1.1" stroke-dasharray="1 2.6"/>
<path d="M876.4 219.4C879 218.5 887.2 215.4 892.4 213.8C897.6 212.3 901.8 211.2 907.4 210.1C913 209 919.8 207.9 926 207.1C932.3 206.3 938.5 205.7 944.7 205.2C950.9 204.8 957.2 204.3 963.4 204.5C969.6 204.7 975.8 204.8 982.1 206.3C988.3 207.9 994.5 210.4 1000.7 213.8C1007 217.2 1013.8 222.2 1019.4 226.9C1025 231.6 1029.4 236.9 1034.4 241.8C1039.3 246.8 1044.3 252.1 1049.3 256.8C1054.3 261.4 1059.3 266.1 1064.2 269.9C1069.2 273.6 1074.2 276.7 1079.2 279.2C1084.2 281.7 1088.5 283.1 1094.1 284.8C1099.7 286.5 1106.6 288.2 1112.8 289.3C1119 290.3 1128.4 290.8 1131.5 291.1" fill="none" stroke="#b4ecaa" stroke-width="1.1" stroke-dasharray="1 2.6"/>
<path d="M876.4 219.4C879 217.9 887.2 213.5 892.4 210.1C897.6 206.7 901.8 203.5 907.4 198.9C913 194.2 919.8 187.4 926 182.1C932.3 176.8 939.1 170.9 944.7 167.1C950.3 163.4 955.3 161.1 959.7 159.7C964 158.2 967.1 158.2 970.9 158.2C974.6 158.2 977.7 158.3 982.1 159.7C986.4 161 992 163.3 997 166.4C1002 169.5 1007 173.5 1011.9 178.3C1016.9 183.1 1021.9 189.2 1026.9 195.1C1031.9 201.1 1036.9 207.8 1041.8 213.8C1046.8 219.9 1051.8 226.1 1056.8 231.4C1061.8 236.7 1066.7 241.5 1071.7 245.6C1076.7 249.6 1081.7 252.9 1086.7 255.7C1091.6 258.5 1096.6 260.6 1101.6 262.4C1106.6 264.2 1111.6 265.5 1116.5 266.5C1121.5 267.5 1129 268 1131.5 268.4" fill="none" stroke="#4ee02a" stroke-width="1.4"/>
<path d="M876.4 219.4C878.4 217.6 883.5 215.1 888.7 208.2C893.8 201.4 901.1 188 907.4 178.3C913.6 168.7 921.1 156.4 926 150.3C931 144.2 933.5 143.7 937.2 141.7C941 139.7 944.7 138.5 948.4 138.4C952.2 138.2 955.9 139 959.7 141C963.4 143 967.1 146.1 970.9 150.3C974.6 154.5 978.3 160.8 982.1 166.4C985.8 172 989.5 177.9 993.3 183.9C997 190 1000.1 194.8 1004.5 202.6C1008.8 210.4 1014.4 222.1 1019.4 230.6C1024.4 239.2 1029.4 246.9 1034.4 253.8C1039.3 260.6 1044.3 266.6 1049.3 271.7C1054.3 276.8 1059.3 280.9 1064.2 284.4C1069.2 288 1074.2 290.8 1079.2 293C1084.2 295.3 1088.5 296.5 1094.1 297.9C1099.7 299.2 1106.6 300.4 1112.8 301.2C1119 302 1128.4 302.5 1131.5 302.7" fill="none" stroke="#222" stroke-width="1.1"/>
<path d="M1029.4 226.1Q1046 234 1056.9 248.7Q1040 241.5 1029.4 226.1Z" fill="#f5ee14"/>
<path d="M876.5 75.8H1168.7V355.9H876.5ZM894.2 355.9v-3 M894.2 75.8v3M937.3 355.9v-3 M937.3 75.8v3M980.4 355.9v-3 M980.4 75.8v3M1023.5 355.9v-3 M1023.5 75.8v3M1066.6 355.9v-3 M1066.6 75.8v3M1109.7 355.9v-3 M1109.7 75.8v3M1152.8 355.9v-3 M1152.8 75.8v3M876.5 104.7h3 M1168.7 104.7h-3M876.5 132.6h3 M1168.7 132.6h-3M876.5 160.5h3 M1168.7 160.5h-3M876.5 188.4h3 M1168.7 188.4h-3M876.5 216.3h3 M1168.7 216.3h-3M876.5 244.2h3 M1168.7 244.2h-3M876.5 272.1h3 M1168.7 272.1h-3M876.5 300h3 M1168.7 300h-3M876.5 327.9h3 M1168.7 327.9h-3" fill="none" stroke="#111" stroke-width="1"/>
<text x="894.2" y="370.5" font-size="10.5" text-anchor="middle" fill="#222">0</text>
<text x="937.3" y="370.5" font-size="10.5" text-anchor="middle" textLength="17.6" lengthAdjust="spacingAndGlyphs" fill="#222">0.05</text>
<text x="980.4" y="370.5" font-size="10.5" text-anchor="middle" textLength="12.6" lengthAdjust="spacingAndGlyphs" fill="#222">0.1</text>
<text x="1023.5" y="370.5" font-size="10.5" text-anchor="middle" textLength="17.6" lengthAdjust="spacingAndGlyphs" fill="#222">0.15</text>
<text x="1066.6" y="370.5" font-size="10.5" text-anchor="middle" textLength="12.6" lengthAdjust="spacingAndGlyphs" fill="#222">0.2</text>
<text x="1109.7" y="370.5" font-size="10.5" text-anchor="middle" textLength="17.6" lengthAdjust="spacingAndGlyphs" fill="#222">0.25</text>
<text x="1152.8" y="370.5" font-size="10.5" text-anchor="middle" textLength="12.6" lengthAdjust="spacingAndGlyphs" fill="#222">0.3</text>
<text x="872.5" y="80.5" font-size="10.5" text-anchor="end" textLength="12.6" lengthAdjust="spacingAndGlyphs" fill="#222">1.0</text>
<text x="872.5" y="108.4" font-size="10.5" text-anchor="end" textLength="12.6" lengthAdjust="spacingAndGlyphs" fill="#222">0.8</text>
<text x="872.5" y="136.3" font-size="10.5" text-anchor="end" textLength="12.6" lengthAdjust="spacingAndGlyphs" fill="#222">0.6</text>
<text x="872.5" y="164.2" font-size="10.5" text-anchor="end" textLength="12.6" lengthAdjust="spacingAndGlyphs" fill="#222">0.4</text>
<text x="872.5" y="192.1" font-size="10.5" text-anchor="end" textLength="12.6" lengthAdjust="spacingAndGlyphs" fill="#222">0.2</text>
<text x="872.5" y="220" font-size="10.5" text-anchor="end" fill="#222">0</text>
<text x="872.5" y="247.9" font-size="10.5" text-anchor="end" textLength="15.6" lengthAdjust="spacingAndGlyphs" fill="#222">-0.2</text>
<text x="872.5" y="275.8" font-size="10.5" text-anchor="end" textLength="15.6" lengthAdjust="spacingAndGlyphs" fill="#222">-0.4</text>
<text x="872.5" y="303.7" font-size="10.5" text-anchor="end" textLength="15.6" lengthAdjust="spacingAndGlyphs" fill="#222">-0.6</text>
<text x="872.5" y="331.6" font-size="10.5" text-anchor="end" textLength="15.6" lengthAdjust="spacingAndGlyphs" fill="#222">-0.8</text>
<text x="872.5" y="359.5" font-size="10.5" text-anchor="end" textLength="15.6" lengthAdjust="spacingAndGlyphs" fill="#222">-1.0</text>
<path d="M1054.0 89.1H1074.5" stroke="#111" stroke-width="1.5"/>
<text x="1086" y="95.3" font-size="15.6">Control</text>
<path d="M1055.0 108.0h4.5M1066.0 108.0h4.5" stroke="#111" stroke-width="1.4"/>
<text x="1086" y="113.7" font-size="15.6">SE Control</text>
<path d="M1054.0 125.4H1074.5" stroke="#4ee02a" stroke-width="1.5"/>
<text x="1086" y="131.6" font-size="15.6">ADHD</text>
<path d="M1055.0 143.3h4.5M1066.0 143.3h4.5" stroke="#4ee02a" stroke-width="1.4"/>
<text x="1086" y="149.7" font-size="15.6">SE ADHD</text>
<text x="852.7" y="67.8" font-size="18">E</text>
<text x="977" y="67.5" font-size="17.5" textLength="121" lengthAdjust="spacingAndGlyphs">8-12 Hz Activity</text>
<text x="988" y="388.5" font-size="18" textLength="87" lengthAdjust="spacingAndGlyphs">Time (sec)</text>
<text x="848.8" y="318" font-size="18.5" transform="rotate(-90 848.8 318)" textLength="197" lengthAdjust="spacingAndGlyphs">Amplitude of Response</text>
<path d="M938 651.8 L943.8 641 L951.5 632.5 L961.2 631.3 L968.9 629.4 L976.6 619.7 L983.6 616.7 L990.2 619.7 L997.9 627.5 L1005.6 633.3 L1019.2 634 L1034.6 634.4 L1046.2 641 L1057.8 644.1 L1069.4 644.9 L1077.1 650.7 L1088.7 654.5 L1100.3 656.5 L1111.9 658.4 L1123.5 662.3 L1135.1 661.1 L1146.7 659.6 L1154.4 663.4 L1162.2 668.8 L1164.1 671.2 L1164.1 671.9 L1150.6 671.2 L1135.1 671.9 L1123.5 673.9 L1111.9 675.8 L1100.3 673.9 L1088.7 668.1 L1077.1 662.3 L1065.5 663.4 L1053.9 661.1 L1042.4 655.7 L1034.6 654.5 L1023 653.8 L1011.4 651.8 L996 650.7 L976.6 648.7 L957.3 648.7 L945.7 650.7 L938 652.6 Z" fill="#fbee12"/>
<path d="M899.3 702.9C902.5 693.8 912.9 665.5 918.7 648.7C924.5 632 929 614.6 934.1 602.4C939.3 590.1 945.1 580.1 949.6 575.3C954.1 570.5 957.3 575.6 961.2 573.4C965 571.1 969.2 564.9 972.8 561.8C976.3 558.6 979.5 555.1 982.4 554.4C985.3 553.8 987.3 554.4 990.2 557.9C993.1 561.4 996.6 569.6 999.8 575.3C1003.1 581 1006.3 589 1009.5 591.9C1012.7 594.8 1015.9 592.9 1019.2 592.7C1022.4 592.5 1025.6 589.8 1028.8 590.8C1032 591.7 1034.9 594.6 1038.5 598.5C1042 602.4 1046.2 610.4 1050.1 613.9C1053.9 617.5 1057.8 618.6 1061.7 619.7C1065.5 620.9 1069.4 619.9 1073.3 620.9C1077.1 621.9 1081 624.3 1084.9 625.5C1088.7 626.8 1092 628 1096.5 628.6C1101 629.3 1106.8 628.3 1111.9 629.4C1117.1 630.5 1122.2 634.6 1127.4 635.2C1132.5 635.9 1138.3 632.3 1142.9 633.3C1147.4 634.2 1150.9 638.1 1154.4 641C1158 643.9 1162.5 649.1 1164.1 650.7" fill="none" stroke="#9a9a9a" stroke-width="1.1" stroke-dasharray="1 2.6"/>
<path d="M899.3 726C902.5 718.3 912.9 693.2 918.7 679.7C924.5 666.1 929 653.2 934.1 644.9C939.3 636.5 944.4 632 949.6 629.4C954.7 626.8 959.9 630.7 965 629.4C970.2 628.1 976 622.6 980.5 621.7C985 620.7 988.2 621.7 992.1 623.6C996 625.5 999.2 631.7 1003.7 633.3C1008.2 634.9 1014 632.6 1019.2 633.3C1024.3 633.9 1029.5 635.2 1034.6 637.1C1039.8 639.1 1044.9 643.3 1050.1 644.9C1055.2 646.5 1060.4 645.5 1065.5 646.8C1070.7 648.1 1075.9 651.3 1081 652.6C1086.2 653.9 1091.3 653.6 1096.5 654.5C1101.6 655.5 1106.8 657.1 1111.9 658.4C1117.1 659.7 1122.2 662.3 1127.4 662.3C1132.5 662.3 1137.7 658.1 1142.9 658.4C1148 658.7 1154.8 662.6 1158.3 664.2C1161.9 665.8 1163.1 667.4 1164.1 668.1" fill="none" stroke="#9a9a9a" stroke-width="1.1" stroke-dasharray="1 2.6"/>
<path d="M899.3 702.1C901.3 700 907.1 693.7 910.9 689.7C914.8 685.7 918.7 682 922.5 678.1C926.4 674.2 930.3 670.1 934.1 666.5C938 663 942.2 659.3 945.7 656.9C949.3 654.4 952.5 652.8 955.4 651.8C958.3 650.9 960.2 650.9 963.1 651.1C966 651.2 969.2 652 972.8 653C976.3 654 980.5 655.7 984.4 656.9C988.2 658 992.7 659.6 996 659.9C999.2 660.3 1000.8 659.6 1003.7 658.8C1006.6 657.9 1010.1 655.2 1013.4 654.9C1016.6 654.6 1020.1 656.4 1023 656.9C1025.9 657.3 1028.2 657.7 1030.8 657.6C1033.3 657.6 1035.3 656 1038.5 656.5C1041.7 657 1046.5 659.2 1050.1 660.7C1053.6 662.2 1056.5 664.9 1059.7 665.4C1063 665.8 1066.5 663.4 1069.4 663.4C1072.3 663.4 1073.9 664.3 1077.1 665.4C1080.4 666.4 1084.9 668.3 1088.7 669.6C1092.6 671 1096.5 672.8 1100.3 673.5C1104.2 674.2 1108.1 673.5 1111.9 673.9C1115.8 674.2 1119.7 675.5 1123.5 675.4C1127.4 675.3 1131.3 673.7 1135.1 673.5C1139 673.3 1142.9 674 1146.7 674.2C1150.6 674.5 1155.4 674.8 1158.3 675C1161.2 675.3 1163.1 675.7 1164.1 675.8" fill="none" stroke="#b4ecaa" stroke-width="1.1" stroke-dasharray="1 2.6"/>
<path d="M899.3 712.9C901.3 710.8 907.1 704.5 910.9 700.5C914.8 696.5 918.7 692.8 922.5 688.9C926.4 685.1 930.3 680.9 934.1 677.3C938 673.8 942.2 670.1 945.7 667.7C949.3 665.2 952.5 663.6 955.4 662.7C958.3 661.7 960.2 661.7 963.1 661.9C966 662.1 969.2 662.8 972.8 663.8C976.3 664.8 980.5 666.5 984.4 667.7C988.2 668.8 992.7 670.4 996 670.8C999.2 671.1 1000.8 670.4 1003.7 669.6C1006.6 668.8 1010.1 666.1 1013.4 665.7C1016.6 665.4 1020.1 667.2 1023 667.7C1025.9 668.1 1028.2 668.5 1030.8 668.4C1033.3 668.4 1035.3 666.8 1038.5 667.3C1041.7 667.8 1046.5 670.1 1050.1 671.5C1053.6 673 1056.5 675.7 1059.7 676.2C1063 676.6 1066.5 674.2 1069.4 674.2C1072.3 674.2 1073.9 675.2 1077.1 676.2C1080.4 677.2 1084.9 679.1 1088.7 680.4C1092.6 681.8 1096.5 683.6 1100.3 684.3C1104.2 685 1108.1 684.4 1111.9 684.7C1115.8 685 1119.7 686.3 1123.5 686.2C1127.4 686.2 1131.3 684.5 1135.1 684.3C1139 684.1 1142.9 684.8 1146.7 685.1C1150.6 685.3 1155.4 685.6 1158.3 685.8C1161.2 686.1 1163.1 686.5 1164.1 686.6" fill="none" stroke="#b4ecaa" stroke-width="1.1" stroke-dasharray="1 2.6"/>
<path d="M899.3 707.5C901.3 705.4 907.1 699.1 910.9 695.1C914.8 691.1 918.7 687.4 922.5 683.5C926.4 679.7 930.3 675.5 934.1 671.9C938 668.4 942.2 664.7 945.7 662.3C949.3 659.8 952.5 658.2 955.4 657.2C958.3 656.3 960.2 656.3 963.1 656.5C966 656.7 969.2 657.4 972.8 658.4C976.3 659.4 980.5 661.1 984.4 662.3C988.2 663.4 992.7 665 996 665.4C999.2 665.7 1000.8 665 1003.7 664.2C1006.6 663.4 1010.1 660.7 1013.4 660.3C1016.6 660 1020.1 661.8 1023 662.3C1025.9 662.7 1028.2 663.1 1030.8 663C1033.3 663 1035.3 661.4 1038.5 661.9C1041.7 662.4 1046.5 664.6 1050.1 666.1C1053.6 667.6 1056.5 670.3 1059.7 670.8C1063 671.2 1066.5 668.8 1069.4 668.8C1072.3 668.8 1073.9 669.7 1077.1 670.8C1080.4 671.8 1084.9 673.7 1088.7 675C1092.6 676.4 1096.5 678.2 1100.3 678.9C1104.2 679.6 1108.1 679 1111.9 679.3C1115.8 679.6 1119.7 680.9 1123.5 680.8C1127.4 680.8 1131.3 679.1 1135.1 678.9C1139 678.7 1142.9 679.4 1146.7 679.7C1150.6 679.9 1155.4 680.2 1158.3 680.4C1161.2 680.7 1163.1 681.1 1164.1 681.2" fill="none" stroke="#4ee02a" stroke-width="1.4"/>
<path d="M899.3 707.5C900.6 704.8 903.8 698.5 907.1 691.3C910.3 684 914.8 673.9 918.7 664.2C922.5 654.5 926.4 641.6 930.3 633.3C934.1 624.9 938.3 618.8 941.8 613.9C945.4 609.1 948.3 606.1 951.5 604.3C954.7 602.5 958 604.4 961.2 603.1C964.4 601.8 967.9 598.9 970.8 596.6C973.7 594.2 976.3 590.6 978.6 588.8C980.8 587.1 982.4 586.1 984.4 586.1C986.3 586.1 987.9 586.8 990.2 588.8C992.4 590.9 995 594.9 997.9 598.5C1000.8 602 1004.7 607.7 1007.6 610.1C1010.5 612.5 1012.1 612.5 1015.3 612.8C1018.5 613.1 1023.7 611.5 1026.9 612C1030.1 612.5 1031.4 613.6 1034.6 615.9C1037.8 618.1 1042.7 623.2 1046.2 625.5C1049.8 627.9 1052.7 629.5 1055.9 630.2C1059.1 630.8 1062.6 629.1 1065.5 629.4C1068.4 629.7 1070.4 630.7 1073.3 632.1C1076.2 633.5 1079.7 636.6 1082.9 637.9C1086.2 639.2 1089.4 639.7 1092.6 639.8C1095.8 640 1099 638.4 1102.3 639.1C1105.5 639.7 1108.7 642.1 1111.9 643.7C1115.2 645.3 1118.4 648 1121.6 648.7C1124.8 649.4 1128 648.6 1131.3 648C1134.5 647.3 1138 644.7 1140.9 644.9C1143.8 645 1146.1 647.1 1148.7 648.7C1151.2 650.3 1153.8 652.9 1156.4 654.5C1159 656.1 1162.8 657.8 1164.1 658.4" fill="none" stroke="#222" stroke-width="1.1"/>
<path d="M889.6 451.8H1176.6V729.4H889.6ZM905.4 729.4v-3 M905.4 451.8v3M937.5 729.4v-3 M937.5 451.8v3M969.6 729.4v-3 M969.6 451.8v3M1001.7 729.4v-3 M1001.7 451.8v3M1033.8 729.4v-3 M1033.8 451.8v3M1065.9 729.4v-3 M1065.9 451.8v3M1098 729.4v-3 M1098 451.8v3M1130.1 729.4v-3 M1130.1 451.8v3M1162.2 729.4v-3 M1162.2 451.8v3M889.6 479.7h3 M1176.6 479.7h-3M889.6 507.4h3 M1176.6 507.4h-3M889.6 535.2h3 M1176.6 535.2h-3M889.6 562.9h3 M1176.6 562.9h-3M889.6 590.7h3 M1176.6 590.7h-3M889.6 618.5h3 M1176.6 618.5h-3M889.6 646.2h3 M1176.6 646.2h-3M889.6 674h3 M1176.6 674h-3M889.6 701.7h3 M1176.6 701.7h-3" fill="none" stroke="#111" stroke-width="1"/>
<text x="905.4" y="744.5" font-size="10.5" text-anchor="middle" fill="#222">0</text>
<text x="937.5" y="744.5" font-size="10.5" text-anchor="middle" textLength="12.6" lengthAdjust="spacingAndGlyphs" fill="#222">0.2</text>
<text x="969.6" y="744.5" font-size="10.5" text-anchor="middle" textLength="12.6" lengthAdjust="spacingAndGlyphs" fill="#222">0.4</text>
<text x="1001.7" y="744.5" font-size="10.5" text-anchor="middle" textLength="12.6" lengthAdjust="spacingAndGlyphs" fill="#222">0.6</text>
<text x="1033.8" y="744.5" font-size="10.5" text-anchor="middle" textLength="12.6" lengthAdjust="spacingAndGlyphs" fill="#222">0.8</text>
<text x="1065.9" y="744.5" font-size="10.5" text-anchor="middle" fill="#222">1</text>
<text x="1098" y="744.5" font-size="10.5" text-anchor="middle" textLength="12.6" lengthAdjust="spacingAndGlyphs" fill="#222">1.2</text>
<text x="1130.1" y="744.5" font-size="10.5" text-anchor="middle" textLength="12.6" lengthAdjust="spacingAndGlyphs" fill="#222">1.4</text>
<text x="1162.2" y="744.5" font-size="10.5" text-anchor="middle" textLength="12.6" lengthAdjust="spacingAndGlyphs" fill="#222">1.6</text>
<text x="886.5" y="455.6" font-size="10.5" text-anchor="end" textLength="12.6" lengthAdjust="spacingAndGlyphs" fill="#222">1.0</text>
<text x="886.5" y="483.4" font-size="10.5" text-anchor="end" textLength="12.6" lengthAdjust="spacingAndGlyphs" fill="#222">0.9</text>
<text x="886.5" y="511.1" font-size="10.5" text-anchor="end" textLength="17.6" lengthAdjust="spacingAndGlyphs" fill="#222">0.75</text>
<text x="886.5" y="538.9" font-size="10.5" text-anchor="end" textLength="12.6" lengthAdjust="spacingAndGlyphs" fill="#222">0.6</text>
<text x="886.5" y="566.6" font-size="10.5" text-anchor="end" textLength="17.6" lengthAdjust="spacingAndGlyphs" fill="#222">0.45</text>
<text x="886.5" y="594.4" font-size="10.5" text-anchor="end" textLength="12.6" lengthAdjust="spacingAndGlyphs" fill="#222">0.3</text>
<text x="886.5" y="622.2" font-size="10.5" text-anchor="end" textLength="17.6" lengthAdjust="spacingAndGlyphs" fill="#222">0.15</text>
<text x="886.5" y="649.9" font-size="10.5" text-anchor="end" fill="#222">0</text>
<text x="886.5" y="677.7" font-size="10.5" text-anchor="end" textLength="22.8" lengthAdjust="spacingAndGlyphs" fill="#222">−0.15</text>
<text x="886.5" y="705.4" font-size="10.5" text-anchor="end" textLength="17.8" lengthAdjust="spacingAndGlyphs" fill="#222">−0.3</text>
<text x="886.5" y="733.2" font-size="10.5" text-anchor="end" textLength="22.8" lengthAdjust="spacingAndGlyphs" fill="#222">−0.45</text>
<path d="M1060.0 464.6H1080.0" stroke="#111" stroke-width="1.5"/>
<text x="1092.3" y="470.3" font-size="15.6">Control</text>
<path d="M1061.0 482.7h4.5M1072.0 482.7h4.5" stroke="#111" stroke-width="1.4"/>
<text x="1092.3" y="488.7" font-size="15.6">SE Control</text>
<path d="M1060.0 501.0H1080.0" stroke="#4ee02a" stroke-width="1.5"/>
<text x="1092.3" y="506.6" font-size="15.6">ADHD</text>
<path d="M1061.0 518.3h4.5M1072.0 518.3h4.5" stroke="#4ee02a" stroke-width="1.4"/>
<text x="1092.3" y="524.7" font-size="15.6">SE ADHD</text>
<text x="858.5" y="443.4" font-size="18">F</text>
<text x="972.3" y="445" font-size="18" textLength="131.5" lengthAdjust="spacingAndGlyphs">15-30Hz Activity</text>
<text x="986" y="763" font-size="18" textLength="87" lengthAdjust="spacingAndGlyphs">Time (sec)</text>
<text x="864.5" y="688" font-size="18.5" transform="rotate(-90 864.5 688)" textLength="197" lengthAdjust="spacingAndGlyphs">Amplitude of Response</text>
<path d="M236.2 171V197M236.2 243V269M236.2 291V314M235.9 485V625M235.9 687V726" stroke="#fff" stroke-opacity="0.55" stroke-width="0.9" fill="none"/>
<path fill="#0a78ff" d="M522.2 658.2H535V663.5H522.2ZM520.5 663.3H536.2V669.4H520.5ZM523.3 669.2H531.5V675H523.3Z"/>
<path fill="#005cff" d="M524.5 663.3H533V669.4H524.5Z"/>
<path fill="#ffb000" d="M656.3 607.3H661.5V613.4H656.3Z"/>
<path fill="#ff8a00" d="M654 613.2H668V618.5H654ZM652 618.3H673V624.3H652Z"/>
<path fill="#ff6a00" d="M651.2 624.1H674.5V630.4H651.2ZM650.5 630.2H673.8V635.8H650.5ZM658.2 635.8H659.6V641.2H658.2Z"/>
<path fill="#ff9a00" d="M690.2 630H694.8V635.8H690.2Z"/>
<path fill="#ff8000" d="M707.6 612.7H710V618.3H707.6ZM705.3 618.3H713V629.5H705.3Z"/>
<path fill="#ff8a00" d="M725.1 612.7H734.5V618.5H725.1ZM726.3 635.6H736.8V641.2H726.3Z"/>
<path fill="#ff6000" d="M721.7 618.3H739.2V624.3H721.7ZM721.2 624.1H739.9V635.8H721.2Z"/>
<text x="528" y="645.8" font-size="10" text-anchor="middle" fill="#222">control</text>
<text x="695.5" y="581.7" font-size="10" text-anchor="middle" fill="#222">control</text>
<g fill="none" stroke="#000" stroke-width="2">
<ellipse cx="527.5" cy="666.8" rx="14.2" ry="14"/>
<ellipse cx="693.7" cy="623.1" rx="59.3" ry="34.7"/>
<ellipse cx="1039.3" cy="237.7" rx="15.7" ry="14.8"/>
<ellipse cx="1117.7" cy="664" rx="59.7" ry="34.8"/>
<path d="M538.5 658.5L1024 244.6M753.5 624.8L1058 660.4"/>
</g>
<rect x="826.7" y="73" width="3.5" height="691" fill="#000"/>
</svg></body></html>
